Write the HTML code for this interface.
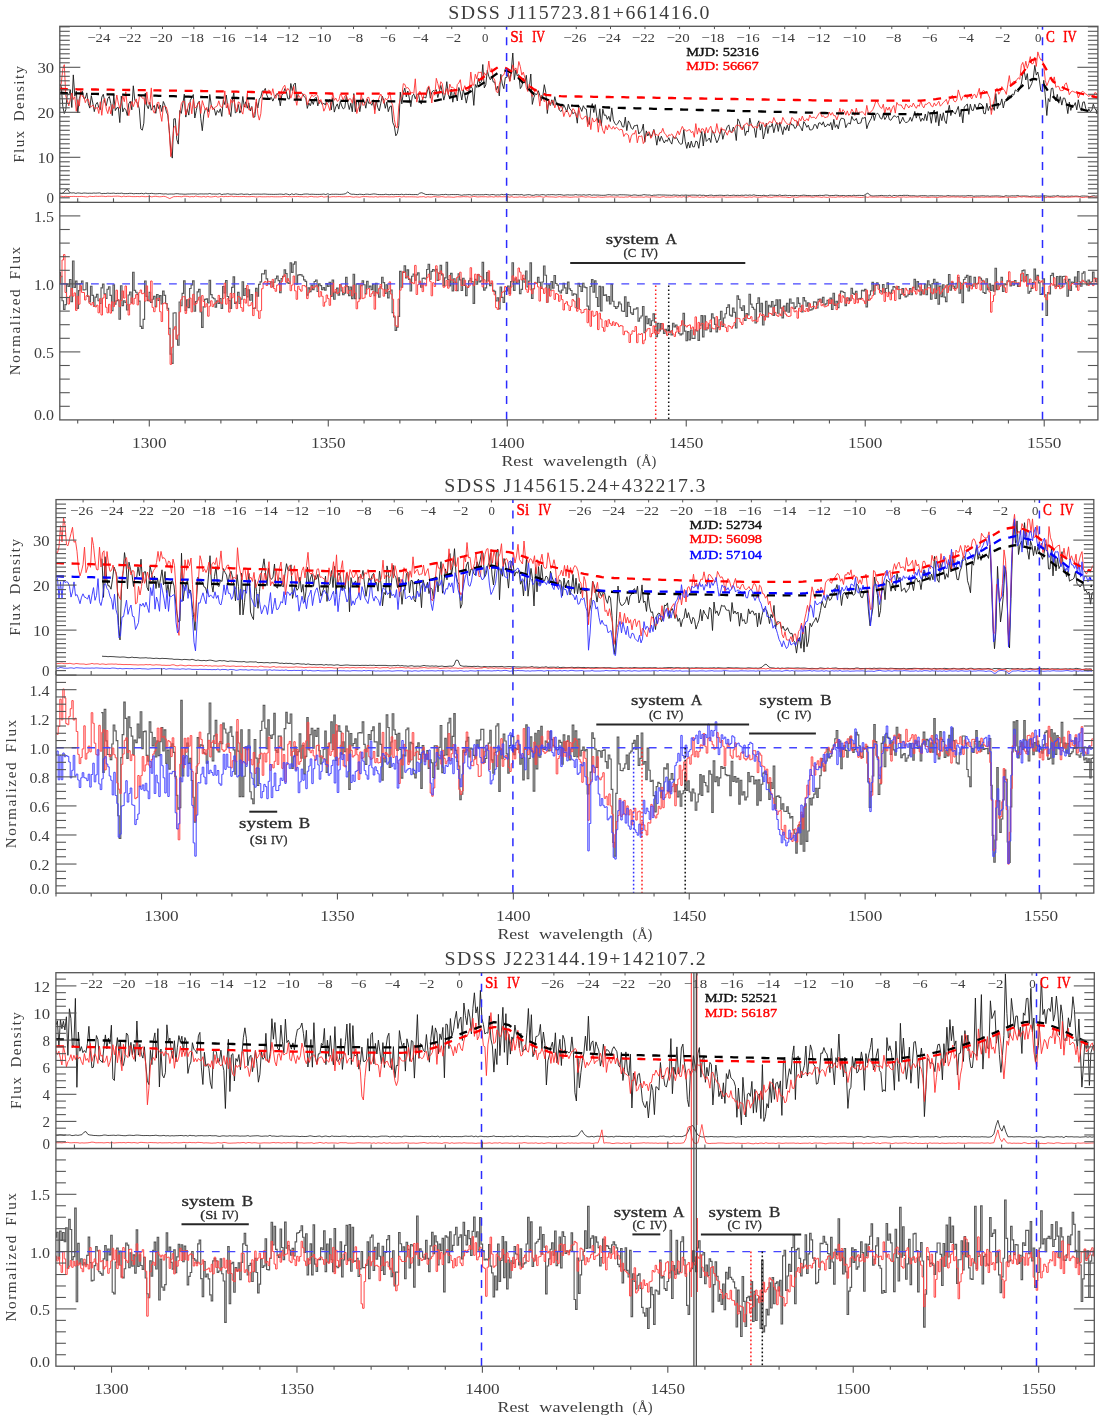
<!DOCTYPE html>
<html><head><meta charset="utf-8"><title>Spectra</title>
<style>html,body{margin:0;padding:0;background:#fff;}svg{display:block;}</style>
</head><body>
<svg width="1103" height="1421" viewBox="0 0 1103 1421" font-family="'Liberation Serif','DejaVu Serif',serif"><rect width="100%" height="100%" fill="#fff"/><clipPath id="clipU0"><rect x="59.8" y="26.3" width="1038.1000000000001" height="176.0"/></clipPath>
<clipPath id="clipL0"><rect x="59.8" y="202.3" width="1038.1000000000001" height="217.59999999999997"/></clipPath>
<g clip-path="url(#clipU0)"><polyline points="59.8,83.8 61.3,86.7 62.8,106.5 64.3,113.5 65.8,109.7 67.3,93.4 68.8,95.1 70.3,89.7 71.8,107.5 73.3,74.9 74.8,96.1 76.3,91.1 77.8,113.0 79.3,98.8 80.8,93.4 82.3,91.2 83.8,98.4 85.3,98.3 86.8,92.9 88.3,103.6 89.8,108.1 91.3,95.6 92.8,103.0 94.3,111.6 95.8,104.4 97.3,102.4 98.8,107.4 100.3,109.7 101.8,97.2 103.3,94.3 104.8,102.1 106.3,105.7 107.8,98.5 109.3,96.5 110.8,103.5 112.3,115.6 113.8,95.2 115.3,110.6 116.8,107.8 118.3,107.4 119.8,122.6 121.3,96.1 122.8,111.9 124.3,108.1 125.8,109.5 127.3,115.5 128.8,103.7 130.3,101.3 131.8,109.8 133.3,85.8 134.8,100.2 136.3,101.7 137.8,103.6 139.3,108.8 140.8,128.8 142.3,130.2 143.8,123.2 145.3,93.1 146.8,105.3 148.3,108.7 149.8,102.2 151.3,110.2 152.8,107.6 154.3,105.4 155.8,113.3 157.3,104.1 158.8,108.7 160.3,105.0 161.8,111.6 163.3,101.5 164.8,104.9 166.3,111.3 167.8,115.1 169.3,130.7 170.8,150.9 172.3,158.1 173.8,118.9 175.3,118.7 176.8,139.4 178.3,144.1 179.8,110.5 181.3,113.4 182.8,103.9 184.3,94.2 185.8,117.1 187.3,108.9 188.8,115.1 190.3,100.3 191.8,97.6 193.3,94.5 194.8,118.0 196.3,110.6 197.8,103.1 199.3,101.2 200.8,118.6 202.3,130.7 203.8,114.8 205.3,109.1 206.8,108.7 208.3,111.8 209.8,94.5 211.3,105.5 212.8,108.0 214.3,108.8 215.8,115.3 217.3,110.5 218.8,112.6 220.3,108.8 221.8,116.4 223.3,99.7 224.8,104.6 226.3,95.1 227.8,107.5 229.3,110.6 230.8,116.6 232.3,100.5 233.8,92.6 235.3,112.9 236.8,111.9 238.3,104.5 239.8,113.1 241.3,109.8 242.8,96.5 244.3,107.1 245.8,101.8 247.3,108.2 248.8,102.9 250.3,110.9 251.8,106.5 253.3,117.1 254.8,117.0 256.3,102.0 257.8,108.0 259.3,99.0 260.8,97.1 262.3,90.9 263.8,91.2 265.3,88.4 266.8,95.0 268.3,98.5 269.8,98.7 271.3,97.3 272.8,101.1 274.3,97.7 275.8,95.1 277.3,93.2 278.8,96.6 280.3,105.8 281.8,95.2 283.3,93.5 284.8,88.6 286.3,91.6 287.8,98.6 289.3,99.1 290.8,83.5 292.3,90.7 293.8,84.6 295.3,83.0 296.8,99.9 298.3,93.0 299.8,92.7 301.3,92.9 302.8,94.0 304.3,96.9 305.8,98.0 307.3,108.4 308.8,102.9 310.3,105.8 311.8,101.0 313.3,104.4 314.8,98.3 316.3,97.3 317.8,105.9 319.3,100.2 320.8,101.6 322.3,104.7 323.8,103.1 325.3,105.1 326.8,100.2 328.3,102.4 329.8,99.3 331.3,109.9 332.8,97.7 334.3,112.1 335.8,106.8 337.3,103.9 338.8,109.1 340.3,101.3 341.8,106.1 343.3,108.9 344.8,107.7 346.3,95.9 347.8,102.9 349.3,109.5 350.8,103.2 352.3,111.8 353.8,93.6 355.3,111.8 356.8,101.0 358.3,100.8 359.8,111.7 361.3,102.3 362.8,98.6 364.3,101.6 365.8,108.2 367.3,99.2 368.8,103.5 370.3,102.7 371.8,105.3 373.3,101.3 374.8,109.9 376.3,100.6 377.8,107.7 379.3,111.0 380.8,103.2 382.3,96.2 383.8,100.2 385.3,108.3 386.8,101.9 388.3,111.7 389.8,106.7 391.3,105.8 392.8,122.6 394.3,125.9 395.8,135.8 397.3,133.5 398.8,125.4 400.3,92.1 401.8,103.9 403.3,92.8 404.8,88.1 406.3,96.9 407.8,91.0 409.3,98.1 410.8,106.7 412.3,95.8 413.8,94.2 415.3,98.8 416.8,94.9 418.3,93.4 419.8,100.9 421.3,104.1 422.8,97.4 424.3,97.3 425.8,98.0 427.3,91.0 428.8,87.1 430.3,98.2 431.8,92.2 433.3,90.5 434.8,91.2 436.3,89.7 437.8,97.5 439.3,91.9 440.8,85.4 442.3,92.2 443.8,100.1 445.3,93.8 446.8,81.7 448.3,94.4 449.8,99.1 451.3,89.0 452.8,102.2 454.3,92.4 455.8,94.9 457.3,101.0 458.8,87.5 460.3,92.0 461.8,100.0 463.3,89.9 464.8,95.3 466.3,103.1 467.8,95.8 469.3,89.5 470.8,86.5 472.3,88.2 473.8,105.4 475.3,84.5 476.8,87.5 478.3,78.4 479.8,83.5 481.3,81.7 482.8,64.5 484.3,87.9 485.8,84.9 487.3,70.2 488.8,76.4 490.3,79.8 491.8,76.7 493.3,82.1 494.8,82.1 496.3,90.1 497.8,86.2 499.3,95.9 500.8,74.3 502.3,84.0 503.8,88.7 505.3,77.6 506.8,77.4 508.3,73.3 509.8,81.0 511.3,70.3 512.8,53.0 514.3,79.7 515.8,70.1 517.3,75.9 518.8,74.6 520.3,88.6 521.8,86.2 523.3,78.4 524.8,83.1 526.3,75.3 527.8,90.4 529.3,87.2 530.8,74.0 532.3,104.4 533.8,97.7 535.3,93.8 536.8,94.6 538.3,90.7 539.8,95.2 541.3,100.5 542.8,96.3 544.3,84.7 545.8,92.4 547.3,113.5 548.8,101.0 550.3,105.5 551.8,99.8 553.3,105.3 554.8,96.7 556.3,103.2 557.8,105.0 559.3,109.9 560.8,111.6 562.3,109.5 563.8,104.8 565.3,108.1 566.8,112.0 568.3,104.2 569.8,109.0 571.3,110.3 572.8,113.7 574.3,112.7 575.8,113.1 577.3,123.2 578.8,105.6 580.3,107.8 581.8,111.4 583.3,105.7 584.8,108.6 586.3,109.0 587.8,122.1 589.3,124.5 590.8,108.5 592.3,103.6 593.8,112.5 595.3,104.6 596.8,116.5 598.3,122.7 599.8,108.8 601.3,125.9 602.8,109.2 604.3,115.3 605.8,115.0 607.3,119.4 608.8,116.3 610.3,121.5 611.8,107.9 613.3,119.8 614.8,123.5 616.3,124.9 617.8,123.6 619.3,120.4 620.8,121.8 622.3,126.7 623.8,127.1 625.3,117.1 626.8,130.6 628.3,120.9 629.8,123.7 631.3,128.2 632.8,129.3 634.3,125.7 635.8,125.6 637.3,124.9 638.8,134.0 640.3,132.0 641.8,130.6 643.3,124.1 644.8,142.2 646.3,130.9 647.8,136.0 649.3,132.6 650.8,137.3 652.3,134.1 653.8,129.4 655.3,135.1 656.8,145.2 658.3,136.0 659.8,141.3 661.3,136.2 662.8,139.9 664.3,143.0 665.8,140.1 667.3,141.4 668.8,137.7 670.3,141.6 671.8,144.1 673.3,136.2 674.8,138.6 676.3,137.4 677.8,140.1 679.3,143.1 680.8,144.3 682.3,143.6 683.8,129.7 685.3,141.8 686.8,148.4 688.3,142.2 689.8,147.9 691.3,141.1 692.8,146.8 694.3,146.9 695.8,141.1 697.3,141.8 698.8,148.3 700.3,138.0 701.8,131.5 703.3,146.0 704.8,131.7 706.3,141.4 707.8,139.9 709.3,138.0 710.8,142.5 712.3,130.6 713.8,133.3 715.3,137.8 716.8,142.8 718.3,139.9 719.8,134.7 721.3,128.9 722.8,139.3 724.3,133.6 725.8,130.7 727.3,126.6 728.8,124.9 730.3,131.8 731.8,132.4 733.3,127.1 734.8,129.9 736.3,140.5 737.8,118.9 739.3,121.4 740.8,127.1 742.3,128.8 743.8,125.7 745.3,135.5 746.8,131.0 748.3,132.0 749.8,118.1 751.3,124.7 752.8,127.0 754.3,128.3 755.8,137.5 757.3,124.5 758.8,120.8 760.3,130.1 761.8,124.4 763.3,139.0 764.8,133.1 766.3,123.2 767.8,133.5 769.3,125.9 770.8,127.0 772.3,123.5 773.8,132.7 775.3,126.2 776.8,122.3 778.3,131.4 779.8,122.5 781.3,128.1 782.8,134.6 784.3,126.8 785.8,130.2 787.3,125.1 788.8,130.9 790.3,122.2 791.8,125.0 793.3,124.8 794.8,128.5 796.3,127.4 797.8,121.5 799.3,125.3 800.8,127.6 802.3,130.9 803.8,121.6 805.3,123.8 806.8,127.3 808.3,125.1 809.8,129.9 811.3,129.9 812.8,129.1 814.3,124.6 815.8,124.8 817.3,128.7 818.8,123.0 820.3,122.8 821.8,125.1 823.3,121.8 824.8,126.8 826.3,126.2 827.8,123.9 829.3,125.8 830.8,122.5 832.3,129.9 833.8,119.4 835.3,127.4 836.8,124.7 838.3,128.9 839.8,121.1 841.3,118.2 842.8,118.5 844.3,119.1 845.8,127.7 847.3,124.4 848.8,122.8 850.3,124.2 851.8,116.4 853.3,119.8 854.8,120.4 856.3,118.4 857.8,123.6 859.3,123.3 860.8,123.0 862.3,117.8 863.8,118.2 865.3,117.2 866.8,128.7 868.3,124.1 869.8,121.0 871.3,118.3 872.8,112.8 874.3,120.5 875.8,114.7 877.3,113.2 878.8,114.4 880.3,118.2 881.8,119.1 883.3,114.3 884.8,119.6 886.3,117.0 887.8,113.3 889.3,119.5 890.8,120.3 892.3,118.1 893.8,115.8 895.3,116.2 896.8,117.4 898.3,115.9 899.8,123.7 901.3,121.0 902.8,117.2 904.3,121.2 905.8,122.6 907.3,122.1 908.8,121.0 910.3,117.3 911.8,121.3 913.3,116.7 914.8,111.4 916.3,118.1 917.8,112.9 919.3,116.4 920.8,121.4 922.3,118.1 923.8,120.5 925.3,114.0 926.8,120.7 928.3,111.6 929.8,114.1 931.3,123.3 932.8,112.9 934.3,110.0 935.8,122.4 937.3,111.6 938.8,125.9 940.3,113.9 941.8,120.7 943.3,112.7 944.8,120.7 946.3,123.6 947.8,112.4 949.3,105.3 950.8,115.6 952.3,110.2 953.8,112.6 955.3,114.0 956.8,110.3 958.3,106.4 959.8,116.7 961.3,109.9 962.8,122.9 964.3,107.1 965.8,105.4 967.3,104.0 968.8,114.4 970.3,104.2 971.8,110.2 973.3,110.5 974.8,104.2 976.3,108.7 977.8,108.1 979.3,103.3 980.8,103.9 982.3,105.1 983.8,113.5 985.3,113.8 986.8,103.3 988.3,110.6 989.8,106.2 991.3,110.4 992.8,106.6 994.3,110.4 995.8,93.6 997.3,108.7 998.8,104.8 1000.3,104.7 1001.8,98.9 1003.3,108.0 1004.8,101.3 1006.3,100.8 1007.8,96.6 1009.3,95.6 1010.8,98.2 1012.3,94.0 1013.8,95.1 1015.3,89.9 1016.8,90.9 1018.3,91.7 1019.8,87.5 1021.3,84.1 1022.8,73.9 1024.3,71.7 1025.8,80.0 1027.3,73.6 1028.8,89.2 1030.3,86.7 1031.8,83.4 1033.3,78.0 1034.8,65.4 1036.3,75.1 1037.8,72.0 1039.3,79.5 1040.8,90.7 1042.3,91.1 1043.8,80.3 1045.3,96.2 1046.8,115.5 1048.3,98.6 1049.8,101.7 1051.3,88.5 1052.8,88.1 1054.3,98.3 1055.8,100.9 1057.3,94.4 1058.8,103.2 1060.3,96.7 1061.8,105.1 1063.3,98.0 1064.8,98.2 1066.3,103.6 1067.8,113.6 1069.3,102.1 1070.8,110.4 1072.3,105.0 1073.8,105.9 1075.3,102.6 1076.8,109.9 1078.3,99.8 1079.8,107.4 1081.3,110.7 1082.8,102.3 1084.3,101.8 1085.8,108.7 1087.3,111.5 1088.8,108.8 1090.3,111.6 1091.8,110.4 1093.3,104.2 1094.8,108.3 1096.3,110.8 1097.8,108.7" fill="none" stroke="#1a1a1a" stroke-width="0.9" stroke-linejoin="round"/><polyline points="59.8,193.0 61.8,193.6 63.8,192.3 65.8,189.9 67.8,189.6 69.8,192.7 71.8,193.0 73.8,192.8 75.8,193.4 77.8,192.9 79.8,193.1 81.8,193.4 83.8,193.0 85.8,193.1 87.8,193.3 89.8,193.2 91.8,193.3 93.8,193.0 95.8,193.2 97.8,193.0 99.8,192.9 101.8,193.7 103.8,193.4 105.8,193.5 107.8,193.1 109.8,193.4 111.8,193.3 113.8,193.1 115.8,193.5 117.8,193.3 119.8,193.4 121.8,193.1 123.8,193.7 125.8,193.6 127.8,193.6 129.8,193.3 131.8,193.4 133.8,193.8 135.8,193.5 137.8,193.6 139.8,193.6 141.8,193.3 143.8,193.9 145.8,193.2 147.8,193.7 149.8,193.6 151.8,193.3 153.8,193.7 155.8,193.8 157.8,193.7 159.8,193.5 161.8,193.8 163.8,194.0 165.8,193.8 167.8,194.2 169.8,194.0 171.8,194.0 173.8,194.1 175.8,193.7 177.8,193.7 179.8,194.0 181.8,194.0 183.8,194.2 185.8,194.2 187.8,194.0 189.8,194.0 191.8,193.9 193.8,193.9 195.8,193.9 197.8,194.2 199.8,193.9 201.8,193.9 203.8,194.0 205.8,193.9 207.8,194.0 209.8,193.5 211.8,194.1 213.8,194.0 215.8,194.1 217.8,194.1 219.8,193.6 221.8,194.6 223.8,194.1 225.8,194.1 227.8,193.7 229.8,194.2 231.8,194.2 233.8,194.0 235.8,194.2 237.8,194.4 239.8,194.1 241.8,193.9 243.8,194.4 245.8,194.2 247.8,194.1 249.8,194.7 251.8,194.2 253.8,194.1 255.8,194.2 257.8,194.1 259.8,194.2 261.8,194.2 263.8,194.0 265.8,194.1 267.8,194.3 269.8,194.3 271.8,194.3 273.8,194.4 275.8,194.3 277.8,194.3 279.8,194.1 281.8,194.2 283.8,194.5 285.8,193.8 287.8,194.3 289.8,194.9 291.8,193.8 293.8,194.6 295.8,193.9 297.8,194.3 299.8,194.6 301.8,194.6 303.8,194.1 305.8,194.0 307.8,194.0 309.8,194.4 311.8,194.2 313.8,194.3 315.8,194.4 317.8,194.4 319.8,194.4 321.8,194.3 323.8,194.0 325.8,194.6 327.8,193.7 329.8,194.6 331.8,194.2 333.8,194.3 335.8,194.2 337.8,194.3 339.8,194.4 341.8,194.3 343.8,194.1 345.8,193.6 347.8,191.9 349.8,193.7 351.8,194.3 353.8,194.2 355.8,194.5 357.8,194.6 359.8,194.2 361.8,194.4 363.8,194.7 365.8,194.2 367.8,194.2 369.8,194.5 371.8,194.2 373.8,193.9 375.8,194.1 377.8,194.5 379.8,194.6 381.8,194.6 383.8,194.6 385.8,194.2 387.8,194.6 389.8,194.7 391.8,194.3 393.8,194.7 395.8,194.4 397.8,194.5 399.8,194.6 401.8,194.2 403.8,194.8 405.8,194.3 407.8,194.5 409.8,194.4 411.8,194.6 413.8,194.6 415.8,194.5 417.8,194.7 419.8,193.1 421.8,192.7 423.8,193.6 425.8,194.5 427.8,194.5 429.8,194.4 431.8,194.4 433.8,194.7 435.8,194.8 437.8,195.0 439.8,194.9 441.8,194.5 443.8,194.7 445.8,194.3 447.8,194.8 449.8,194.7 451.8,194.5 453.8,194.6 455.8,194.6 457.8,194.5 459.8,194.9 461.8,195.3 463.8,194.8 465.8,194.9 467.8,194.7 469.8,194.6 471.8,195.2 473.8,194.6 475.8,194.8 477.8,194.7 479.8,194.8 481.8,194.7 483.8,194.8 485.8,194.4 487.8,194.7 489.8,195.0 491.8,194.5 493.8,194.6 495.8,195.1 497.8,194.8 499.8,195.0 501.8,194.3 503.8,194.8 505.8,194.5 507.8,194.5 509.8,194.9 511.8,195.0 513.8,194.5 515.8,194.6 517.8,194.7 519.8,194.8 521.8,194.5 523.8,195.3 525.8,195.0 527.8,194.7 529.8,194.7 531.8,195.3 533.8,195.3 535.8,194.7 537.8,194.9 539.8,195.1 541.8,194.6 543.8,194.7 545.8,195.2 547.8,194.7 549.8,194.8 551.8,194.6 553.8,194.7 555.8,195.0 557.8,194.7 559.8,194.6 561.8,194.8 563.8,195.3 565.8,195.0 567.8,194.8 569.8,195.0 571.8,195.0 573.8,195.0 575.8,194.5 577.8,195.0 579.8,194.9 581.8,195.1 583.8,194.7 585.8,195.2 587.8,194.9 589.8,194.6 591.8,195.3 593.8,194.9 595.8,195.1 597.8,195.0 599.8,195.2 601.8,195.3 603.8,195.3 605.8,195.2 607.8,194.7 609.8,194.7 611.8,195.1 613.8,194.8 615.8,195.1 617.8,195.1 619.8,194.7 621.8,194.8 623.8,194.8 625.8,194.9 627.8,195.0 629.8,195.2 631.8,195.4 633.8,194.9 635.8,195.0 637.8,195.4 639.8,195.3 641.8,195.2 643.8,194.6 645.8,194.9 647.8,195.1 649.8,195.0 651.8,195.6 653.8,195.1 655.8,195.2 657.8,194.9 659.8,194.9 661.8,195.0 663.8,195.0 665.8,195.1 667.8,195.2 669.8,195.2 671.8,195.4 673.8,194.9 675.8,195.2 677.8,195.2 679.8,195.5 681.8,195.1 683.8,195.3 685.8,195.0 687.8,195.3 689.8,195.3 691.8,195.1 693.8,195.1 695.8,195.2 697.8,195.4 699.8,195.0 701.8,195.4 703.8,195.2 705.8,195.7 707.8,195.6 709.8,195.2 711.8,195.1 713.8,195.8 715.8,195.4 717.8,195.4 719.8,195.2 721.8,195.3 723.8,195.5 725.8,195.4 727.8,195.1 729.8,195.6 731.8,195.4 733.8,195.1 735.8,195.5 737.8,195.3 739.8,195.5 741.8,195.2 743.8,195.4 745.8,195.0 747.8,195.4 749.8,195.0 751.8,195.4 753.8,194.8 755.8,195.4 757.8,195.5 759.8,195.5 761.8,195.7 763.8,195.2 765.8,195.7 767.8,195.8 769.8,195.1 771.8,195.2 773.8,195.3 775.8,195.4 777.8,195.5 779.8,194.9 781.8,195.6 783.8,195.4 785.8,195.2 787.8,195.7 789.8,195.4 791.8,195.7 793.8,195.6 795.8,195.4 797.8,195.7 799.8,195.7 801.8,195.4 803.8,195.1 805.8,195.4 807.8,195.6 809.8,195.5 811.8,195.9 813.8,195.6 815.8,195.6 817.8,195.6 819.8,195.3 821.8,195.5 823.8,195.4 825.8,195.0 827.8,195.2 829.8,195.7 831.8,195.5 833.8,195.5 835.8,195.2 837.8,195.4 839.8,195.8 841.8,195.6 843.8,195.5 845.8,195.9 847.8,195.6 849.8,195.5 851.8,195.9 853.8,195.2 855.8,195.7 857.8,195.4 859.8,195.4 861.8,195.5 863.8,195.5 865.8,194.2 867.8,193.2 869.8,195.0 871.8,195.9 873.8,196.0 875.8,195.8 877.8,195.8 879.8,195.6 881.8,195.4 883.8,195.8 885.8,195.7 887.8,195.9 889.8,195.3 891.8,196.3 893.8,195.4 895.8,195.7 897.8,195.9 899.8,195.4 901.8,195.6 903.8,195.3 905.8,195.4 907.8,195.3 909.8,195.8 911.8,195.8 913.8,195.7 915.8,196.0 917.8,196.1 919.8,195.8 921.8,195.7 923.8,195.7 925.8,195.7 927.8,196.1 929.8,195.8 931.8,195.7 933.8,195.8 935.8,195.9 937.8,195.7 939.8,195.9 941.8,195.8 943.8,196.1 945.8,196.1 947.8,195.5 949.8,195.8 951.8,196.0 953.8,195.8 955.8,196.0 957.8,195.9 959.8,196.0 961.8,195.9 963.8,195.9 965.8,196.0 967.8,195.6 969.8,195.7 971.8,195.7 973.8,196.3 975.8,196.0 977.8,196.0 979.8,196.0 981.8,195.8 983.8,195.8 985.8,196.1 987.8,195.9 989.8,196.3 991.8,196.0 993.8,196.0 995.8,195.9 997.8,195.9 999.8,196.0 1001.8,196.3 1003.8,196.5 1005.8,195.7 1007.8,196.0 1009.8,196.1 1011.8,195.8 1013.8,195.9 1015.8,195.9 1017.8,195.5 1019.8,196.2 1021.8,196.0 1023.8,196.0 1025.8,196.0 1027.8,196.1 1029.8,196.5 1031.8,196.1 1033.8,196.2 1035.8,195.9 1037.8,196.1 1039.8,196.0 1041.8,196.0 1043.8,195.9 1045.8,195.9 1047.8,196.2 1049.8,196.3 1051.8,196.2 1053.8,195.9 1055.8,196.2 1057.8,195.5 1059.8,196.3 1061.8,196.1 1063.8,196.2 1065.8,196.4 1067.8,196.0 1069.8,196.3 1071.8,196.0 1073.8,196.3 1075.8,196.1 1077.8,196.2 1079.8,196.5 1081.8,196.0 1083.8,196.0 1085.8,196.1 1087.8,196.2 1089.8,196.8 1091.8,196.1 1093.8,195.7 1095.8,196.1 1097.8,195.9" fill="none" stroke="#1a1a1a" stroke-width="0.8"/><polyline points="59.8,88.3 61.3,83.0 62.8,69.2 64.3,64.7 65.8,96.3 67.3,100.3 68.8,105.8 70.3,99.1 71.8,93.0 73.3,99.4 74.8,96.7 76.3,111.3 77.8,99.6 79.3,106.1 80.8,90.8 82.3,96.4 83.8,96.5 85.3,102.7 86.8,99.2 88.3,99.3 89.8,105.6 91.3,106.8 92.8,105.0 94.3,108.3 95.8,108.6 97.3,107.2 98.8,113.5 100.3,101.8 101.8,115.3 103.3,101.3 104.8,98.4 106.3,109.1 107.8,113.6 109.3,106.6 110.8,113.9 112.3,104.5 113.8,108.6 115.3,104.9 116.8,95.0 118.3,103.0 119.8,108.5 121.3,103.6 122.8,95.7 124.3,101.7 125.8,91.7 127.3,107.1 128.8,115.7 130.3,106.7 131.8,101.5 133.3,106.7 134.8,102.0 136.3,98.9 137.8,107.4 139.3,97.4 140.8,95.2 142.3,98.3 143.8,97.9 145.3,104.4 146.8,91.9 148.3,103.5 149.8,104.5 151.3,87.9 152.8,109.6 154.3,113.2 155.8,109.6 157.3,102.7 158.8,102.2 160.3,113.3 161.8,121.4 163.3,106.7 164.8,106.1 166.3,107.0 167.8,112.3 169.3,132.3 170.8,156.7 172.3,142.5 173.8,127.9 175.3,125.8 176.8,135.9 178.3,132.5 179.8,113.8 181.3,103.7 182.8,101.3 184.3,101.2 185.8,115.0 187.3,109.6 188.8,103.2 190.3,102.5 191.8,113.8 193.3,99.4 194.8,108.1 196.3,107.0 197.8,104.3 199.3,101.8 200.8,113.5 202.3,100.6 203.8,105.5 205.3,110.0 206.8,107.4 208.3,117.5 209.8,109.4 211.3,105.0 212.8,109.8 214.3,107.8 215.8,106.8 217.3,105.8 218.8,100.8 220.3,106.3 221.8,107.5 223.3,103.4 224.8,90.9 226.3,108.0 227.8,103.6 229.3,114.5 230.8,99.3 232.3,102.9 233.8,99.5 235.3,106.7 236.8,111.8 238.3,101.9 239.8,102.6 241.3,111.0 242.8,114.1 244.3,104.2 245.8,107.5 247.3,93.2 248.8,109.8 250.3,109.3 251.8,107.2 253.3,117.7 254.8,111.5 256.3,98.9 257.8,113.9 259.3,120.1 260.8,113.8 262.3,96.1 263.8,91.4 265.3,90.2 266.8,93.6 268.3,90.1 269.8,90.5 271.3,95.2 272.8,88.7 274.3,96.2 275.8,98.4 277.3,93.6 278.8,92.6 280.3,98.0 281.8,90.6 283.3,87.1 284.8,85.2 286.3,91.3 287.8,88.4 289.3,90.6 290.8,98.2 292.3,93.7 293.8,86.4 295.3,98.4 296.8,105.3 298.3,94.8 299.8,97.4 301.3,98.8 302.8,94.4 304.3,94.3 305.8,95.3 307.3,104.8 308.8,100.2 310.3,98.0 311.8,95.1 313.3,96.4 314.8,95.7 316.3,94.5 317.8,95.8 319.3,103.7 320.8,99.5 322.3,103.3 323.8,111.2 325.3,107.9 326.8,102.4 328.3,105.3 329.8,110.6 331.3,102.8 332.8,92.8 334.3,100.3 335.8,98.1 337.3,101.3 338.8,100.5 340.3,94.1 341.8,96.3 343.3,100.5 344.8,95.9 346.3,95.0 347.8,101.1 349.3,98.8 350.8,98.9 352.3,103.2 353.8,94.7 355.3,100.9 356.8,113.5 358.3,107.8 359.8,105.8 361.3,93.0 362.8,105.3 364.3,104.8 365.8,101.8 367.3,97.7 368.8,97.3 370.3,103.6 371.8,101.4 373.3,99.6 374.8,113.8 376.3,100.2 377.8,101.5 379.3,97.2 380.8,94.1 382.3,97.6 383.8,103.4 385.3,98.3 386.8,99.8 388.3,98.0 389.8,92.0 391.3,101.7 392.8,105.8 394.3,119.2 395.8,127.0 397.3,127.7 398.8,105.7 400.3,98.6 401.8,96.6 403.3,83.7 404.8,84.3 406.3,88.2 407.8,87.5 409.3,89.5 410.8,93.1 412.3,92.5 413.8,93.5 415.3,78.8 416.8,102.1 418.3,94.1 419.8,91.2 421.3,94.4 422.8,99.7 424.3,92.9 425.8,95.1 427.3,88.4 428.8,85.9 430.3,91.5 431.8,103.0 433.3,92.3 434.8,95.2 436.3,78.3 437.8,83.6 439.3,89.2 440.8,81.7 442.3,83.7 443.8,94.5 445.3,93.3 446.8,88.5 448.3,94.6 449.8,84.1 451.3,87.7 452.8,87.2 454.3,88.7 455.8,95.6 457.3,84.5 458.8,83.0 460.3,79.7 461.8,90.5 463.3,90.1 464.8,85.7 466.3,90.2 467.8,90.9 469.3,88.7 470.8,72.0 472.3,84.6 473.8,85.2 475.3,74.2 476.8,78.8 478.3,72.1 479.8,72.5 481.3,72.1 482.8,80.3 484.3,72.7 485.8,75.2 487.3,72.8 488.8,61.0 490.3,72.1 491.8,68.5 493.3,77.8 494.8,80.0 496.3,91.7 497.8,92.7 499.3,84.3 500.8,79.9 502.3,75.6 503.8,74.9 505.3,70.4 506.8,72.8 508.3,73.5 509.8,81.5 511.3,74.5 512.8,64.8 514.3,70.4 515.8,67.9 517.3,73.4 518.8,61.5 520.3,66.5 521.8,75.1 523.3,72.1 524.8,77.6 526.3,87.6 527.8,91.5 529.3,84.1 530.8,92.1 532.3,96.5 533.8,93.4 535.3,88.8 536.8,90.4 538.3,93.9 539.8,106.1 541.3,95.2 542.8,97.5 544.3,101.7 545.8,98.1 547.3,109.6 548.8,99.2 550.3,105.0 551.8,100.9 553.3,100.6 554.8,107.9 556.3,103.4 557.8,104.2 559.3,109.7 560.8,105.0 562.3,108.5 563.8,116.6 565.3,111.6 566.8,110.2 568.3,112.8 569.8,117.1 571.3,113.9 572.8,108.6 574.3,109.8 575.8,114.9 577.3,117.7 578.8,107.7 580.3,116.4 581.8,119.2 583.3,118.7 584.8,116.5 586.3,116.1 587.8,126.8 589.3,117.2 590.8,129.6 592.3,117.9 593.8,121.9 595.3,121.1 596.8,118.2 598.3,132.2 599.8,119.5 601.3,124.2 602.8,130.6 604.3,133.6 605.8,125.6 607.3,130.0 608.8,124.7 610.3,127.6 611.8,129.2 613.3,126.4 614.8,129.2 616.3,127.2 617.8,128.3 619.3,130.2 620.8,129.3 622.3,129.8 623.8,136.5 625.3,133.8 626.8,133.8 628.3,135.0 629.8,142.6 631.3,136.1 632.8,133.6 634.3,134.1 635.8,130.3 637.3,142.8 638.8,136.0 640.3,136.5 641.8,135.8 643.3,143.6 644.8,140.9 646.3,134.1 647.8,132.3 649.3,131.9 650.8,138.3 652.3,135.8 653.8,130.0 655.3,135.7 656.8,134.4 658.3,135.9 659.8,132.7 661.3,132.5 662.8,128.3 664.3,133.2 665.8,134.4 667.3,137.4 668.8,134.8 670.3,135.3 671.8,133.9 673.3,136.4 674.8,138.3 676.3,135.0 677.8,130.9 679.3,134.9 680.8,130.2 682.3,126.4 683.8,129.5 685.3,130.0 686.8,131.2 688.3,130.1 689.8,129.7 691.3,132.7 692.8,131.3 694.3,137.3 695.8,123.6 697.3,134.2 698.8,127.9 700.3,132.7 701.8,128.7 703.3,129.0 704.8,133.3 706.3,127.5 707.8,132.9 709.3,128.6 710.8,126.2 712.3,132.3 713.8,132.9 715.3,132.9 716.8,123.6 718.3,131.2 719.8,133.7 721.3,127.6 722.8,130.1 724.3,129.5 725.8,132.0 727.3,135.2 728.8,130.7 730.3,131.4 731.8,132.8 733.3,131.0 734.8,128.3 736.3,125.1 737.8,125.2 739.3,125.4 740.8,128.2 742.3,130.0 743.8,125.3 745.3,124.6 746.8,122.8 748.3,125.5 749.8,125.5 751.3,124.1 752.8,127.5 754.3,127.0 755.8,126.7 757.3,128.0 758.8,124.5 760.3,122.0 761.8,123.4 763.3,122.7 764.8,126.9 766.3,124.0 767.8,124.2 769.3,121.6 770.8,122.0 772.3,122.9 773.8,117.5 775.3,121.2 776.8,123.4 778.3,124.2 779.8,122.4 781.3,123.8 782.8,117.4 784.3,120.3 785.8,122.6 787.3,124.0 788.8,124.4 790.3,124.1 791.8,117.5 793.3,118.6 794.8,121.0 796.3,120.3 797.8,125.8 799.3,118.3 800.8,120.9 802.3,116.1 803.8,120.3 805.3,120.9 806.8,118.7 808.3,120.8 809.8,115.0 811.3,117.8 812.8,117.3 814.3,117.2 815.8,118.8 817.3,116.3 818.8,113.8 820.3,112.2 821.8,116.7 823.3,115.6 824.8,117.7 826.3,117.2 827.8,116.8 829.3,112.1 830.8,115.2 832.3,112.5 833.8,115.7 835.3,115.7 836.8,119.9 838.3,115.3 839.8,108.2 841.3,114.4 842.8,109.6 844.3,111.0 845.8,115.1 847.3,110.9 848.8,115.4 850.3,113.5 851.8,109.1 853.3,111.8 854.8,115.4 856.3,108.0 857.8,114.8 859.3,112.0 860.8,112.3 862.3,111.6 863.8,113.4 865.3,115.4 866.8,105.4 868.3,113.1 869.8,112.7 871.3,111.5 872.8,109.5 874.3,106.0 875.8,101.2 877.3,101.4 878.8,104.7 880.3,107.5 881.8,108.4 883.3,104.2 884.8,113.8 886.3,107.2 887.8,110.2 889.3,107.0 890.8,112.6 892.3,107.8 893.8,105.5 895.3,113.1 896.8,102.4 898.3,104.9 899.8,105.0 901.3,105.0 902.8,108.0 904.3,109.3 905.8,104.0 907.3,105.4 908.8,108.0 910.3,105.4 911.8,106.9 913.3,103.0 914.8,106.1 916.3,108.3 917.8,105.1 919.3,106.3 920.8,100.5 922.3,105.7 923.8,107.9 925.3,104.1 926.8,104.4 928.3,102.7 929.8,102.7 931.3,106.0 932.8,106.9 934.3,102.9 935.8,105.8 937.3,103.8 938.8,101.3 940.3,106.2 941.8,104.5 943.3,102.5 944.8,101.2 946.3,99.3 947.8,104.4 949.3,99.4 950.8,98.3 952.3,95.4 953.8,100.8 955.3,102.0 956.8,100.1 958.3,89.9 959.8,95.1 961.3,100.3 962.8,96.8 964.3,95.3 965.8,94.8 967.3,98.4 968.8,95.0 970.3,96.6 971.8,98.9 973.3,95.0 974.8,94.3 976.3,97.9 977.8,93.3 979.3,88.3 980.8,98.4 982.3,91.4 983.8,90.4 985.3,92.7 986.8,91.5 988.3,94.9 989.8,98.2 991.3,114.5 992.8,105.5 994.3,100.0 995.8,89.3 997.3,88.4 998.8,94.3 1000.3,91.4 1001.8,86.6 1003.3,89.1 1004.8,90.8 1006.3,94.4 1007.8,84.8 1009.3,75.6 1010.8,86.3 1012.3,82.7 1013.8,81.4 1015.3,81.7 1016.8,79.8 1018.3,77.8 1019.8,79.2 1021.3,65.4 1022.8,62.4 1024.3,68.9 1025.8,61.2 1027.3,68.3 1028.8,63.5 1030.3,56.6 1031.8,64.0 1033.3,63.4 1034.8,57.1 1036.3,66.4 1037.8,51.9 1039.3,56.8 1040.8,59.9 1042.3,59.7 1043.8,65.8 1045.3,80.4 1046.8,85.7 1048.3,82.2 1049.8,78.2 1051.3,78.9 1052.8,82.2 1054.3,76.9 1055.8,87.4 1057.3,86.4 1058.8,86.4 1060.3,90.6 1061.8,90.6 1063.3,90.3 1064.8,84.5 1066.3,82.8 1067.8,88.0 1069.3,94.7 1070.8,92.1 1072.3,91.1 1073.8,91.8 1075.3,92.5 1076.8,91.4 1078.3,98.0 1079.8,94.3 1081.3,92.3 1082.8,91.2 1084.3,92.8 1085.8,94.0 1087.3,94.8 1088.8,96.7 1090.3,94.9 1091.8,96.1 1093.3,97.9 1094.8,92.7 1096.3,93.1 1097.8,97.9" fill="none" stroke="#ff3030" stroke-width="0.9" stroke-linejoin="round"/><polyline points="59.8,196.2 61.8,196.3 63.8,196.7 65.8,196.3 67.8,196.5 69.8,196.5 71.8,196.5 73.8,196.4 75.8,196.5 77.8,196.6 79.8,196.5 81.8,196.4 83.8,196.6 85.8,196.8 87.8,197.0 89.8,196.2 91.8,196.5 93.8,196.5 95.8,196.2 97.8,196.4 99.8,196.3 101.8,196.2 103.8,196.3 105.8,196.6 107.8,196.2 109.8,196.3 111.8,196.4 113.8,196.2 115.8,196.2 117.8,196.1 119.8,196.3 121.8,196.8 123.8,196.1 125.8,196.6 127.8,196.3 129.8,196.3 131.8,196.6 133.8,196.6 135.8,196.6 137.8,196.5 139.8,196.7 141.8,196.3 143.8,196.6 145.8,196.7 147.8,196.5 149.8,196.3 151.8,196.9 153.8,196.4 155.8,196.3 157.8,196.6 159.8,196.8 161.8,196.6 163.8,196.3 165.8,196.7 167.8,197.7 169.8,198.6 171.8,197.5 173.8,196.6 175.8,196.6 177.8,196.5 179.8,196.6 181.8,196.8 183.8,196.2 185.8,196.3 187.8,196.4 189.8,196.9 191.8,196.5 193.8,196.8 195.8,196.0 197.8,196.6 199.8,196.7 201.8,196.9 203.8,196.4 205.8,197.0 207.8,196.4 209.8,196.9 211.8,196.9 213.8,196.6 215.8,196.3 217.8,197.1 219.8,196.7 221.8,196.3 223.8,196.7 225.8,196.4 227.8,196.6 229.8,196.4 231.8,196.1 233.8,196.7 235.8,196.4 237.8,196.6 239.8,196.6 241.8,196.6 243.8,196.4 245.8,196.7 247.8,196.7 249.8,196.7 251.8,196.5 253.8,196.6 255.8,196.9 257.8,196.9 259.8,196.6 261.8,196.8 263.8,196.8 265.8,196.8 267.8,196.7 269.8,196.8 271.8,196.6 273.8,196.8 275.8,196.8 277.8,196.8 279.8,196.8 281.8,196.8 283.8,196.5 285.8,196.4 287.8,196.7 289.8,196.6 291.8,196.8 293.8,196.5 295.8,196.6 297.8,196.4 299.8,196.7 301.8,196.6 303.8,196.9 305.8,196.7 307.8,197.0 309.8,196.5 311.8,196.4 313.8,196.9 315.8,196.8 317.8,197.0 319.8,196.6 321.8,196.3 323.8,197.1 325.8,196.8 327.8,196.6 329.8,197.2 331.8,196.7 333.8,196.6 335.8,196.8 337.8,196.6 339.8,196.6 341.8,196.8 343.8,196.8 345.8,196.7 347.8,196.7 349.8,196.5 351.8,196.9 353.8,197.2 355.8,196.8 357.8,197.0 359.8,197.2 361.8,196.7 363.8,196.6 365.8,196.6 367.8,196.7 369.8,196.9 371.8,196.8 373.8,197.0 375.8,196.6 377.8,197.1 379.8,196.7 381.8,196.8 383.8,196.8 385.8,196.7 387.8,196.8 389.8,196.9 391.8,196.8 393.8,196.9 395.8,196.6 397.8,196.6 399.8,196.5 401.8,197.0 403.8,196.6 405.8,196.9 407.8,196.8 409.8,196.8 411.8,196.8 413.8,196.9 415.8,196.9 417.8,197.2 419.8,196.8 421.8,196.8 423.8,196.6 425.8,197.3 427.8,196.7 429.8,197.0 431.8,197.0 433.8,196.6 435.8,196.7 437.8,197.0 439.8,196.9 441.8,196.6 443.8,196.9 445.8,197.2 447.8,196.9 449.8,197.0 451.8,197.1 453.8,197.3 455.8,196.9 457.8,196.7 459.8,196.9 461.8,196.8 463.8,196.6 465.8,196.8 467.8,196.7 469.8,197.1 471.8,196.9 473.8,196.3 475.8,196.7 477.8,197.0 479.8,196.8 481.8,196.7 483.8,196.8 485.8,196.7 487.8,197.0 489.8,196.8 491.8,196.7 493.8,197.1 495.8,196.6 497.8,196.9 499.8,196.7 501.8,196.8 503.8,196.8 505.8,196.6 507.8,196.8 509.8,197.2 511.8,196.6 513.8,197.3 515.8,197.1 517.8,197.2 519.8,196.8 521.8,197.1 523.8,197.0 525.8,197.4 527.8,196.8 529.8,197.2 531.8,196.8 533.8,197.2 535.8,196.8 537.8,196.7 539.8,196.6 541.8,196.8 543.8,197.3 545.8,196.6 547.8,196.8 549.8,196.9 551.8,196.9 553.8,197.0 555.8,197.3 557.8,196.9 559.8,196.6 561.8,197.1 563.8,196.9 565.8,196.9 567.8,197.0 569.8,197.3 571.8,197.2 573.8,197.0 575.8,196.9 577.8,197.1 579.8,196.8 581.8,196.6 583.8,196.8 585.8,197.2 587.8,196.8 589.8,196.9 591.8,197.3 593.8,197.3 595.8,197.3 597.8,196.8 599.8,197.1 601.8,197.3 603.8,197.2 605.8,196.9 607.8,197.0 609.8,196.8 611.8,196.9 613.8,197.1 615.8,197.1 617.8,196.8 619.8,197.2 621.8,197.1 623.8,197.3 625.8,196.9 627.8,197.1 629.8,196.5 631.8,197.2 633.8,197.1 635.8,197.2 637.8,197.0 639.8,197.0 641.8,197.0 643.8,197.3 645.8,196.8 647.8,197.0 649.8,197.2 651.8,196.9 653.8,196.8 655.8,197.0 657.8,197.1 659.8,197.4 661.8,196.9 663.8,196.6 665.8,197.3 667.8,197.0 669.8,197.2 671.8,197.0 673.8,197.0 675.8,196.6 677.8,197.2 679.8,196.8 681.8,197.2 683.8,196.6 685.8,197.3 687.8,197.0 689.8,196.5 691.8,197.1 693.8,197.1 695.8,197.1 697.8,196.8 699.8,197.5 701.8,196.9 703.8,197.3 705.8,196.5 707.8,197.2 709.8,197.1 711.8,197.0 713.8,197.3 715.8,196.9 717.8,197.1 719.8,197.0 721.8,197.1 723.8,196.8 725.8,197.2 727.8,197.2 729.8,197.1 731.8,197.1 733.8,197.0 735.8,196.9 737.8,197.0 739.8,197.1 741.8,196.8 743.8,197.0 745.8,197.4 747.8,197.2 749.8,196.9 751.8,197.3 753.8,196.7 755.8,197.0 757.8,197.3 759.8,197.2 761.8,197.1 763.8,196.8 765.8,196.7 767.8,197.2 769.8,197.1 771.8,197.4 773.8,196.9 775.8,196.8 777.8,196.9 779.8,196.7 781.8,197.0 783.8,197.1 785.8,197.0 787.8,197.5 789.8,197.5 791.8,197.0 793.8,196.9 795.8,197.3 797.8,197.3 799.8,196.8 801.8,196.9 803.8,196.9 805.8,196.8 807.8,196.9 809.8,196.8 811.8,197.2 813.8,197.2 815.8,196.7 817.8,196.9 819.8,197.0 821.8,197.4 823.8,196.9 825.8,197.3 827.8,197.4 829.8,196.9 831.8,197.2 833.8,197.1 835.8,197.3 837.8,196.8 839.8,197.0 841.8,196.7 843.8,197.3 845.8,196.7 847.8,197.1 849.8,196.8 851.8,196.9 853.8,196.9 855.8,197.1 857.8,197.2 859.8,197.4 861.8,197.4 863.8,197.1 865.8,196.9 867.8,197.4 869.8,196.8 871.8,197.1 873.8,197.0 875.8,197.0 877.8,197.2 879.8,196.9 881.8,197.1 883.8,197.1 885.8,197.3 887.8,197.4 889.8,197.3 891.8,197.1 893.8,197.5 895.8,197.3 897.8,196.8 899.8,197.2 901.8,197.2 903.8,196.9 905.8,197.2 907.8,197.1 909.8,196.9 911.8,197.1 913.8,197.0 915.8,196.9 917.8,197.1 919.8,196.7 921.8,197.4 923.8,197.1 925.8,197.2 927.8,197.4 929.8,197.3 931.8,197.1 933.8,197.2 935.8,197.4 937.8,197.5 939.8,197.0 941.8,197.2 943.8,196.9 945.8,196.9 947.8,197.1 949.8,197.1 951.8,196.9 953.8,196.9 955.8,197.1 957.8,196.8 959.8,197.2 961.8,196.9 963.8,197.5 965.8,197.2 967.8,197.3 969.8,197.1 971.8,197.4 973.8,197.3 975.8,197.3 977.8,197.2 979.8,197.3 981.8,197.1 983.8,197.3 985.8,197.1 987.8,197.1 989.8,197.2 991.8,197.2 993.8,197.1 995.8,197.0 997.8,197.1 999.8,197.4 1001.8,197.2 1003.8,197.2 1005.8,197.0 1007.8,197.5 1009.8,197.1 1011.8,197.3 1013.8,197.2 1015.8,197.4 1017.8,196.8 1019.8,196.7 1021.8,197.1 1023.8,196.6 1025.8,197.0 1027.8,197.0 1029.8,197.1 1031.8,197.3 1033.8,196.9 1035.8,197.3 1037.8,197.4 1039.8,197.5 1041.8,196.9 1043.8,197.1 1045.8,197.6 1047.8,197.0 1049.8,197.4 1051.8,197.3 1053.8,197.3 1055.8,196.8 1057.8,196.9 1059.8,197.0 1061.8,197.3 1063.8,197.4 1065.8,197.0 1067.8,197.3 1069.8,197.2 1071.8,197.0 1073.8,196.9 1075.8,196.8 1077.8,196.9 1079.8,197.0 1081.8,197.5 1083.8,197.4 1085.8,197.1 1087.8,197.2 1089.8,197.0 1091.8,196.7 1093.8,197.2 1095.8,197.3 1097.8,197.0" fill="none" stroke="#ff3030" stroke-width="0.8"/></g>
<g clip-path="url(#clipL0)"><path d="M59.0,272.6H60.5V276.2H62.0V300.7H63.5V309.3H65.0V304.6H66.5V284.3H68.0V286.4H69.5V279.5H71.0V301.7H72.5V261.0H74.0V287.4H75.5V281.1H77.0V308.4H78.5V290.6H80.0V283.7H81.5V281.0H83.0V289.9H84.5V289.7H86.0V282.9H87.5V296.3H89.0V301.9H90.5V286.2H92.0V295.4H93.5V306.1H95.0V297.1H96.5V294.4H98.0V300.7H99.5V303.5H101.0V287.8H102.5V284.1H104.0V293.8H105.5V298.3H107.0V289.2H108.5V286.7H110.0V295.4H111.5V310.6H113.0V284.8H114.5V304.1H116.0V300.7H117.5V300.1H119.0V319.2H120.5V285.7H122.0V305.6H123.5V300.7H125.0V302.4H126.5V310.0H128.1V295.0H129.6V292.0H131.1V302.6H132.6V272.2H134.1V290.3H135.6V292.2H137.1V294.5H138.6V301.1H140.1V326.4H141.6V328.3H143.1V319.3H144.6V281.0H146.1V296.4H147.6V300.7H149.1V292.4H150.6V302.5H152.1V299.2H153.6V296.4H155.1V306.4H156.6V294.5H158.1V300.4H159.6V295.6H161.1V304.0H162.6V291.1H164.1V295.3H165.6V303.5H167.1V308.2H168.6V328.3H170.1V354.1H171.6V363.3H173.1V313.0H174.6V312.7H176.1V339.2H177.6V345.2H179.1V302.0H180.6V305.7H182.1V293.4H183.6V280.9H185.1V310.3H186.6V299.7H188.1V307.6H189.6V288.5H191.1V284.9H192.6V280.9H194.1V311.2H195.6V301.6H197.1V291.9H198.6V289.4H200.1V311.8H201.6V327.4H203.1V306.8H204.6V299.4H206.1V298.8H207.6V302.8H209.1V280.3H210.6V294.6H212.1V297.7H213.6V298.7H215.1V307.1H216.6V300.8H218.1V303.5H219.6V298.5H221.1V308.3H222.6V286.5H224.1V292.8H225.6V280.5H227.1V296.5H228.6V300.6H230.1V308.3H231.6V287.3H233.1V276.9H234.6V303.4H236.1V302.0H237.6V292.4H239.1V303.5H240.6V299.1H242.1V281.7H243.6V295.5H245.1V288.5H246.6V296.8H248.1V289.9H249.6V300.2H251.1V294.5H252.6V308.3H254.1V308.2H255.6V288.4H257.1V296.2H258.6V284.4H260.1V281.8H261.6V273.7H263.1V274.0H264.6V270.2H266.1V278.9H267.6V283.4H269.1V283.6H270.6V281.7H272.1V286.6H273.6V282.2H275.1V278.7H276.6V276.1H278.1V280.6H279.6V292.7H281.1V278.6H282.6V276.3H284.1V269.8H285.6V273.6H287.1V282.9H288.6V283.5H290.1V262.8H291.6V272.3H293.1V264.1H294.6V261.9H296.1V284.2H297.6V275.1H299.1V274.5H300.6V274.8H302.1V276.2H303.6V279.9H305.1V281.3H306.6V295.1H308.1V287.8H309.6V291.6H311.1V285.1H312.6V289.6H314.1V281.5H315.6V280.0H317.1V291.5H318.6V283.9H320.1V285.6H321.6V289.6H323.1V287.6H324.6V290.1H326.1V283.5H327.6V286.4H329.1V282.2H330.6V296.4H332.1V280.0H333.6V299.2H335.1V292.1H336.6V288.1H338.1V295.1H339.6V284.6H341.1V291.0H342.6V294.7H344.1V293.1H345.6V277.3H347.1V286.6H348.6V295.6H350.1V287.0H351.6V298.6H353.1V274.2H354.6V298.6H356.1V284.0H357.6V283.7H359.1V298.3H360.6V285.7H362.1V280.7H363.6V284.7H365.1V293.6H366.6V281.4H368.1V287.2H369.6V286.1H371.1V289.6H372.6V284.2H374.1V295.7H375.6V283.2H377.1V292.7H378.6V297.1H380.1V286.7H381.6V277.2H383.1V282.6H384.6V293.4H386.1V284.7H387.6V297.9H389.1V291.2H390.6V290.0H392.1V312.6H393.6V317.0H395.1V330.3H396.6V327.2H398.1V316.4H399.6V271.4H401.1V287.2H402.6V272.3H404.1V265.9H405.6V277.8H407.1V269.8H408.6V279.3H410.1V291.0H411.6V276.2H413.1V274.1H414.6V280.2H416.1V274.9H417.6V272.9H419.1V283.0H420.6V287.2H422.1V278.3H423.6V278.1H425.1V279.0H426.6V269.5H428.1V264.2H429.6V279.2H431.1V271.3H432.6V269.5H434.1V271.0H435.6V269.4H437.1V280.4H438.6V273.4H440.1V265.3H441.6V274.8H443.1V285.6H444.6V277.8H446.1V262.4H447.6V279.5H449.1V286.0H450.6V273.4H452.1V290.9H453.6V278.7H455.1V282.4H456.6V290.6H458.1V273.8H459.6V279.9H461.1V290.5H462.6V278.2H464.1V285.4H465.6V295.6H467.1V287.3H468.6V280.7H470.1V278.2H471.6V281.5H473.1V303.3H474.6V279.4H476.1V284.2H477.6V274.6H479.1V281.8H480.6V280.8H482.1V262.3H483.6V290.1H485.1V287.8H486.6V272.5H488.1V280.7H489.6V285.6H491.1V283.4H492.6V290.3H494.1V291.3H495.6V300.9H497.1V297.7H498.6V308.9H500.1V287.0H501.6V297.3H503.1V302.4H504.6V291.2H506.1V290.9H507.6V286.0H509.1V293.4H510.6V281.6H512.0V262.7H513.5V290.3H515.0V278.8H516.5V283.3H518.0V280.0H519.5V293.6H521.0V289.3H522.5V278.6H524.0V282.1H525.5V271.0H527.0V286.8H528.5V281.1H530.0V262.9H531.5V298.3H533.0V288.7H534.5V283.0H536.0V283.2H537.5V277.4H539.0V282.3H540.5V288.3H542.0V282.0H543.5V266.0H545.0V275.2H546.5V302.2H548.0V284.8H549.5V290.1H551.0V281.5H552.5V288.1H554.0V275.5H555.5V283.5H557.0V285.1H558.5V291.1H560.0V293.0H561.5V290.1H563.0V283.3H564.5V287.9H566.0V293.3H567.5V282.1H569.0V288.8H570.5V290.5H572.0V295.2H573.5V293.7H575.0V294.2H576.5V308.3H578.0V283.4H579.5V286.3H581.0V291.4H582.5V283.2H584.0V287.1H585.5V287.6H587.0V306.1H588.5V309.5H590.0V286.5H591.5V279.6H593.0V292.1H594.5V280.8H596.0V297.5H597.5V306.3H599.0V286.3H600.5V310.8H602.0V286.8H603.5V295.4H605.0V294.8H606.5V301.0H608.0V296.5H609.5V303.8H611.0V284.2H612.5V301.2H614.0V306.5H615.5V308.5H617.0V306.6H618.5V302.0H620.0V304.0H621.5V311.0H623.0V311.5H624.5V296.9H626.0V316.4H627.5V302.3H629.0V306.5H630.5V312.8H632.0V314.3H633.5V309.1H635.0V309.0H636.5V307.9H638.0V321.1H639.5V318.0H641.0V316.0H642.5V306.5H644.0V332.7H645.5V316.3H647.0V323.6H648.5V318.7H650.0V325.4H651.5V320.7H653.0V313.9H654.5V322.1H656.0V336.7H657.5V323.3H659.0V331.0H660.5V323.6H662.0V328.9H663.5V333.4H665.0V329.2H666.5V331.0H668.0V325.6H669.5V331.2H671.0V334.9H672.5V323.2H674.0V326.8H675.5V325.0H677.0V328.9H678.5V333.2H680.0V334.9H681.5V333.9H683.0V313.4H684.5V331.1H686.0V340.7H687.5V331.6H689.0V339.9H690.5V330.0H692.0V338.3H693.5V338.4H695.0V329.8H696.5V330.8H698.0V340.3H699.5V325.2H701.0V315.6H702.5V336.9H704.0V315.7H705.5V330.0H707.0V327.8H708.5V324.9H710.0V331.6H711.5V313.9H713.0V317.8H714.5V324.4H716.0V331.9H717.5V327.6H719.0V319.7H720.5V311.2H722.0V326.5H723.5V318.0H725.0V313.7H726.5V307.5H728.0V304.9H729.5V315.1H731.0V316.1H732.5V308.1H734.0V312.3H735.5V328.0H737.0V295.8H738.5V299.4H740.0V307.8H741.5V310.4H743.0V305.7H744.5V320.3H746.0V313.6H747.5V315.0H749.0V294.2H750.5V304.1H752.0V307.4H753.5V309.2H755.0V323.0H756.5V303.5H758.0V297.9H759.5V311.8H761.0V303.2H762.5V325.0H764.0V316.2H765.5V301.3H767.0V316.8H768.5V305.2H770.0V306.8H771.5V301.6H773.0V315.3H774.5V305.4H776.0V299.7H777.5V313.2H779.0V299.9H780.5V308.1H782.0V317.9H783.5V306.1H785.0V311.1H786.5V303.4H788.0V312.2H789.5V299.0H791.0V303.2H792.5V302.9H794.0V308.4H795.5V306.7H797.0V297.8H798.5V303.4H800.0V306.9H801.5V311.8H803.0V297.6H804.5V300.9H806.0V306.2H807.5V302.8H809.0V310.1H810.5V309.9H812.0V308.8H813.5V301.8H815.0V302.1H816.5V308.0H818.0V299.3H819.5V299.0H821.0V302.4H822.5V297.3H824.0V305.0H825.5V303.9H827.0V300.4H828.5V303.2H830.0V298.1H831.5V309.3H833.0V293.2H834.5V305.4H836.0V301.2H837.5V307.6H839.0V295.6H840.5V291.1H842.0V291.7H843.5V292.5H845.0V305.6H846.5V300.6H848.0V298.1H849.5V300.3H851.0V288.3H852.5V293.4H854.0V294.4H855.5V291.2H857.0V299.2H858.5V298.7H860.0V298.3H861.5V290.2H863.0V290.8H864.5V289.3H866.0V306.8H867.5V299.8H869.0V295.0H870.5V290.8H872.0V282.3H873.5V294.1H875.0V285.2H876.5V282.9H878.0V284.7H879.5V290.5H881.0V291.8H882.5V284.5H884.0V292.6H885.5V288.5H887.0V282.8H888.5V292.3H890.0V293.6H891.5V290.1H893.0V286.6H894.5V287.2H896.0V289.0H897.5V286.6H899.0V298.6H900.5V294.4H902.0V288.6H903.5V294.6H905.0V296.9H906.5V296.0H908.0V294.3H909.5V288.6H911.0V294.7H912.5V287.6H914.0V279.4H915.5V289.6H917.0V281.6H918.5V287.0H920.0V294.8H921.5V289.9H923.0V293.8H924.5V284.1H926.0V294.6H927.5V280.8H929.0V284.9H930.5V299.2H932.0V283.6H933.5V279.3H935.0V298.4H936.5V282.2H938.0V304.1H939.5V286.1H941.0V296.6H942.5V284.7H944.0V297.1H945.5V301.6H947.0V284.9H948.5V274.5H950.0V290.2H951.5V282.3H953.0V286.2H954.5V288.5H956.0V283.2H957.5V277.5H959.0V293.1H960.5V283.2H962.0V302.6H963.5V279.5H965.0V277.3H966.5V275.4H968.0V291.0H969.5V276.3H971.0V285.4H972.5V286.2H974.0V277.4H975.5V284.2H977.0V283.6H978.5V277.0H980.0V278.2H981.5V280.2H983.0V292.5H984.5V293.4H986.0V278.7H987.5V289.7H989.0V283.8H990.5V290.3H992.0V285.4H993.5V291.2H995.0V268.2H996.5V289.6H998.0V284.7H999.5V285.0H1001.0V277.4H1002.5V291.4H1004.0V283.9H1005.5V284.7H1007.0V280.7H1008.5V280.9H1010.0V285.8H1011.5V282.0H1013.0V285.2H1014.5V280.6H1016.0V283.5H1017.5V286.4H1019.0V283.0H1020.5V280.8H1022.0V270.6H1023.5V270.0H1025.0V280.8H1026.5V274.6H1028.0V293.2H1029.5V291.4H1031.0V288.4H1032.5V282.6H1034.0V269.1H1035.5V279.8H1037.0V275.4H1038.5V282.8H1040.0V294.5H1041.5V293.8H1043.0V278.9H1044.5V294.9H1046.0V315.5H1047.5V292.6H1049.0V294.0H1050.5V275.5H1052.0V273.4H1053.5V284.9H1055.0V286.7H1056.5V276.5H1058.0V286.5H1059.5V276.3H1061.0V287.0H1062.5V276.5H1064.0V276.2H1065.5V282.9H1067.0V296.2H1068.5V279.4H1070.0V290.4H1071.5V282.0H1073.0V282.5H1074.5V277.0H1076.0V286.9H1077.5V271.6H1079.0V282.0H1080.5V286.2H1082.0V273.2H1083.5V271.7H1085.0V281.2H1086.5V284.8H1088.0V280.1H1089.5V283.7H1091.0V281.7H1092.5V272.1H1094.0V278.1H1095.5V281.6H1097.0V278.2H1098.5" fill="none" stroke="#5a5a5a" stroke-width="1.15"/><path d="M59.0,283.1H60.5V276.7H62.0V260.0H63.5V254.6H65.0V292.5H66.5V297.3H68.0V304.0H69.5V295.9H71.0V288.5H72.5V296.1H74.0V292.9H75.5V310.4H77.0V296.3H78.5V304.2H80.0V285.7H81.5V292.4H83.0V292.5H84.5V300.0H86.0V295.7H87.5V295.9H89.0V303.4H90.5V304.9H92.0V302.6H93.5V306.5H95.0V306.9H96.5V305.2H98.0V312.8H99.5V298.6H101.0V315.0H102.5V298.0H104.0V294.5H105.5V307.3H107.0V312.8H108.5V304.3H110.0V313.1H111.5V301.8H113.0V306.6H114.5V302.2H116.0V290.2H117.5V299.8H119.0V306.5H120.5V300.5H122.0V290.9H123.5V298.1H125.0V286.0H126.5V304.6H128.1V315.0H129.6V304.1H131.1V297.9H132.6V304.1H134.1V298.4H135.6V294.6H137.1V304.9H138.6V292.7H140.1V290.0H141.6V293.7H143.1V293.2H144.6V301.1H146.1V285.9H147.6V299.9H149.1V301.2H150.6V281.0H152.1V307.4H153.6V311.7H155.1V307.2H156.6V298.8H158.1V298.2H159.6V311.7H161.1V321.5H162.6V303.6H164.1V302.9H165.6V304.0H167.1V310.4H168.6V334.7H170.1V364.4H171.6V347.1H173.1V329.3H174.6V326.7H176.1V339.0H177.6V334.9H179.1V312.0H180.6V299.7H182.1V296.8H183.6V296.6H185.1V313.4H186.6V306.8H188.1V299.0H189.6V298.1H191.1V311.9H192.6V294.3H194.1V304.9H195.6V303.5H197.1V300.2H198.6V297.1H200.1V311.3H201.6V295.6H203.1V301.5H204.6V307.0H206.1V303.8H207.6V316.2H209.1V306.2H210.6V300.8H212.1V306.6H213.6V304.1H215.1V302.9H216.6V301.7H218.1V295.4H219.6V302.2H221.1V303.7H222.6V298.5H224.1V283.2H225.6V304.2H227.1V298.7H228.6V312.1H230.1V293.4H231.6V297.8H233.1V293.5H234.6V302.4H236.1V308.6H237.6V296.4H239.1V297.2H240.6V307.5H242.1V311.3H243.6V299.2H245.1V303.1H246.6V285.5H248.1V305.9H249.6V305.3H251.1V302.7H252.6V315.6H254.1V307.8H255.6V292.3H257.1V310.8H258.6V318.4H260.1V310.6H261.6V288.7H263.1V282.8H264.6V281.4H266.1V285.5H267.6V281.2H269.1V281.6H270.6V287.4H272.1V279.4H273.6V288.5H275.1V291.3H276.6V285.2H278.1V284.1H279.6V290.6H281.1V281.5H282.6V277.0H284.1V274.7H285.6V282.2H287.1V278.6H288.6V281.2H290.1V290.7H291.6V285.0H293.1V276.0H294.6V290.8H296.1V299.3H297.6V286.3H299.1V289.4H300.6V291.2H302.1V285.6H303.6V285.5H305.1V286.8H306.6V298.6H308.1V292.8H309.6V289.9H311.1V286.3H312.6V288.0H314.1V287.0H315.6V285.4H317.1V287.1H318.6V296.9H320.1V291.7H321.6V296.3H323.1V306.2H324.6V302.0H326.1V295.0H327.6V298.6H329.1V305.3H330.6V295.5H332.1V283.0H333.6V292.3H335.1V289.6H336.6V293.6H338.1V292.5H339.6V284.5H341.1V287.3H342.6V292.5H344.1V286.8H345.6V285.7H347.1V293.3H348.6V290.4H350.1V290.5H351.6V295.9H353.1V285.3H354.6V293.0H356.1V308.8H357.6V301.7H359.1V299.2H360.6V283.2H362.1V298.6H363.6V297.9H365.1V294.1H366.6V289.1H368.1V288.5H369.6V296.5H371.1V293.7H372.6V291.4H374.1V309.2H375.6V292.2H377.1V293.8H378.6V288.4H380.1V284.5H381.6V288.9H383.1V296.2H384.6V289.8H386.1V291.7H387.6V289.4H389.1V281.9H390.6V294.1H392.1V299.2H393.6V315.9H395.1V325.7H396.6V326.6H398.1V299.0H399.6V290.2H401.1V287.6H402.6V271.6H404.1V272.3H405.6V277.1H407.1V276.3H408.6V278.7H410.1V283.3H411.6V282.6H413.1V283.7H414.6V265.4H416.1V294.5H417.6V284.6H419.1V281.0H420.6V284.9H422.1V291.6H423.6V283.0H425.1V285.8H426.6V277.4H428.1V274.2H429.6V281.3H431.1V295.8H432.6V282.7H434.1V286.5H435.6V265.8H437.1V272.7H438.6V279.9H440.1V270.9H441.6V273.6H443.1V287.3H444.6V286.0H446.1V280.4H447.6V288.2H449.1V275.5H450.6V280.2H452.1V279.8H453.6V282.0H455.1V290.6H456.6V277.4H458.1V275.9H459.6V272.2H461.1V285.5H462.6V285.2H464.1V280.2H465.6V285.8H467.1V287.4H468.6V286.0H470.1V267.7H471.6V283.7H473.1V285.6H474.6V274.2H476.1V280.6H477.6V274.3H479.1V276.0H480.6V276.8H482.1V286.9H483.6V279.8H485.1V283.6H486.6V282.1H488.1V270.8H489.6V283.6H491.1V280.9H492.6V291.5H494.1V294.8H495.6V307.6H497.1V309.4H498.6V301.7H500.1V297.0H501.6V292.3H503.1V291.3H504.6V286.5H506.1V288.2H507.6V288.0H509.1V295.3H510.6V287.1H512.0V275.9H513.5V280.8H515.0V277.1H516.5V281.9H518.0V268.0H519.5V272.1H521.0V279.9H522.5V275.1H524.0V279.6H525.5V289.3H527.0V292.3H528.5V282.1H530.0V289.9H531.5V293.6H533.0V288.7H534.5V282.3H536.0V283.5H537.5V286.9H539.0V301.1H540.5V286.9H542.0V288.8H543.5V293.4H545.0V287.9H546.5V302.3H548.0V288.9H549.5V296.2H551.0V290.7H552.5V290.2H554.0V299.4H555.5V293.5H557.0V294.3H558.5V301.3H560.0V295.1H561.5V299.6H563.0V310.0H564.5V303.5H566.0V301.7H567.5V305.1H569.0V310.5H570.5V306.4H572.0V299.6H573.5V301.1H575.0V307.7H576.5V311.2H578.0V298.2H579.5V309.5H581.0V313.0H582.5V312.4H584.0V309.5H585.5V309.0H587.0V322.7H588.5V310.3H590.0V326.3H591.5V311.1H593.0V316.3H594.5V315.3H596.0V311.5H597.5V329.6H599.0V313.2H600.5V319.1H602.0V327.4H603.5V331.3H605.0V320.8H606.5V326.6H608.0V319.7H609.5V323.4H611.0V325.4H612.5V321.8H614.0V325.4H615.5V322.7H617.0V324.1H618.5V326.6H620.0V325.5H621.5V326.0H623.0V334.7H624.5V331.2H626.0V331.2H627.5V332.7H629.0V342.5H630.5V334.2H632.0V330.8H633.5V331.4H635.0V326.5H636.5V342.7H638.0V333.9H639.5V334.5H641.0V333.6H642.5V343.7H644.0V340.1H645.5V331.2H647.0V328.9H648.5V328.4H650.0V336.8H651.5V333.5H653.0V325.9H654.5V333.2H656.0V331.6H657.5V333.5H659.0V329.2H660.5V329.0H662.0V323.5H663.5V329.8H665.0V331.4H666.5V335.3H668.0V331.9H669.5V332.5H671.0V330.7H672.5V333.9H674.0V336.4H675.5V332.1H677.0V326.6H678.5V331.9H680.0V325.7H681.5V320.7H683.0V324.8H684.5V325.4H686.0V326.9H687.5V325.5H689.0V324.9H690.5V328.8H692.0V327.0H693.5V334.9H695.0V316.9H696.5V330.7H698.0V322.4H699.5V328.7H701.0V323.4H702.5V323.8H704.0V329.5H705.5V321.8H707.0V328.8H708.5V323.2H710.0V320.0H711.5V328.1H713.0V328.8H714.5V328.8H716.0V316.6H717.5V326.5H719.0V329.7H720.5V321.7H722.0V325.0H723.5V324.1H725.0V327.4H726.5V331.6H728.0V325.7H729.5V326.5H731.0V328.3H732.5V326.0H734.0V322.5H735.5V318.2H737.0V318.2H738.5V318.6H740.0V322.2H741.5V324.5H743.0V318.4H744.5V317.4H746.0V315.0H747.5V318.5H749.0V318.6H750.5V316.7H752.0V321.1H753.5V320.4H755.0V320.0H756.5V321.7H758.0V317.1H759.5V313.7H761.0V315.5H762.5V314.6H764.0V320.1H765.5V316.2H767.0V316.5H768.5V313.1H770.0V313.5H771.5V314.8H773.0V307.5H774.5V312.4H776.0V315.3H777.5V316.3H779.0V313.9H780.5V315.7H782.0V307.2H783.5V311.0H785.0V314.1H786.5V315.9H788.0V316.5H789.5V316.0H791.0V307.2H792.5V308.7H794.0V311.8H795.5V310.9H797.0V318.2H798.5V308.2H800.0V311.5H801.5V305.2H803.0V310.7H804.5V311.5H806.0V308.5H807.5V311.4H809.0V303.6H810.5V307.3H812.0V306.6H813.5V306.4H815.0V308.6H816.5V305.1H818.0V301.8H819.5V299.7H821.0V305.7H822.5V304.2H824.0V306.9H825.5V306.3H827.0V305.7H828.5V299.3H830.0V303.5H831.5V299.8H833.0V304.1H834.5V304.1H836.0V309.6H837.5V303.5H839.0V294.0H840.5V302.3H842.0V295.8H843.5V297.8H845.0V303.2H846.5V297.6H848.0V303.5H849.5V301.0H851.0V295.1H852.5V298.8H854.0V303.5H855.5V293.6H857.0V302.8H858.5V299.0H860.0V299.5H861.5V298.5H863.0V300.8H864.5V303.5H866.0V290.2H867.5V300.4H869.0V300.0H870.5V298.3H872.0V295.7H873.5V291.0H875.0V284.6H876.5V284.8H878.0V289.3H879.5V293.0H881.0V294.2H882.5V288.6H884.0V301.4H885.5V292.6H887.0V296.6H888.5V292.4H890.0V299.8H891.5V293.4H893.0V290.4H894.5V300.5H896.0V286.2H897.5V289.6H899.0V289.6H900.5V289.6H902.0V293.6H903.5V295.4H905.0V288.3H906.5V290.2H908.0V293.7H909.5V290.2H911.0V292.2H912.5V287.0H914.0V291.2H915.5V294.1H917.0V289.8H918.5V291.4H920.0V283.7H921.5V290.9H923.0V294.0H924.5V289.2H926.0V289.8H927.5V287.8H929.0V287.9H930.5V292.4H932.0V293.8H933.5V288.8H935.0V292.7H936.5V290.3H938.0V287.3H939.5V293.9H941.0V291.9H942.5V289.5H944.0V288.0H945.5V285.6H947.0V292.5H948.5V286.2H950.0V284.9H951.5V281.3H953.0V288.6H954.5V290.3H956.0V288.1H957.5V275.1H959.0V282.1H960.5V289.0H962.0V284.6H963.5V282.9H965.0V282.4H966.5V287.3H968.0V283.3H969.5V285.7H971.0V288.9H972.5V284.2H974.0V283.7H975.5V288.5H977.0V283.1H978.5V277.2H980.0V290.1H981.5V281.7H983.0V280.8H984.5V283.9H986.0V283.0H987.5V287.4H989.0V291.9H990.5V312.2H992.0V301.5H993.5V295.2H995.0V282.6H996.5V281.9H998.0V289.4H999.5V286.3H1001.0V281.3H1002.5V284.9H1004.0V287.6H1005.5V292.5H1007.0V281.9H1008.5V271.8H1010.0V284.9H1011.5V281.6H1013.0V281.6H1014.5V283.5H1016.0V282.8H1017.5V282.8H1019.0V286.5H1020.5V273.9H1022.0V273.0H1023.5V282.0H1025.0V276.5H1026.5V286.3H1028.0V284.0H1029.5V279.0H1031.0V287.5H1032.5V288.1H1034.0V281.9H1035.5V290.6H1037.0V276.7H1038.5V280.4H1040.0V282.2H1041.5V280.8H1043.0V284.6H1044.5V297.1H1046.0V299.8H1047.5V293.3H1049.0V286.0H1050.5V283.5H1052.0V285.1H1053.5V277.8H1055.0V288.6H1056.5V286.2H1058.0V285.0H1059.5V288.7H1061.0V288.0H1062.5V286.9H1064.0V279.2H1065.5V276.3H1067.0V281.7H1068.5V289.1H1070.0V285.3H1071.5V283.5H1073.0V284.0H1074.5V284.4H1076.0V282.5H1077.5V290.3H1079.0V285.2H1080.5V282.2H1082.0V280.3H1083.5V281.9H1085.0V282.9H1086.5V283.5H1088.0V285.4H1089.5V282.6H1091.0V283.7H1092.5V285.6H1094.0V278.4H1095.5V278.5H1097.0V284.3H1098.5" fill="none" stroke="#ff4545" stroke-width="1.0"/></g>
<g clip-path="url(#clipU0)"><polyline points="59.8,92.9 62.8,93.0 65.8,93.1 68.8,93.2 71.8,93.2 74.8,93.3 77.8,93.4 80.8,93.5 83.8,93.6 86.8,93.7 89.8,93.8 92.8,93.9 95.8,93.9 98.8,94.0 101.8,94.1 104.8,94.2 107.8,94.3 110.8,94.4 113.8,94.5 116.8,94.6 119.8,94.7 122.8,94.7 125.8,94.8 128.8,94.9 131.8,95.0 134.8,95.1 137.8,95.2 140.8,95.3 143.8,95.4 146.8,95.4 149.8,95.5 152.8,95.6 155.8,95.7 158.8,95.8 161.8,95.9 164.8,96.0 167.8,96.1 170.8,96.1 173.8,96.2 176.8,96.3 179.8,96.4 182.8,96.5 185.8,96.6 188.8,96.7 191.8,96.8 194.8,96.8 197.8,96.9 200.8,97.0 203.8,97.1 206.8,97.2 209.8,97.3 212.8,97.4 215.8,97.4 218.8,97.5 221.8,97.6 224.8,97.7 227.8,97.8 230.8,97.8 233.8,97.9 236.8,98.0 239.8,98.1 242.8,98.2 245.8,98.3 248.8,98.3 251.8,98.4 254.8,98.5 257.8,98.6 260.8,98.7 263.8,98.7 266.8,98.8 269.8,98.9 272.8,99.0 275.8,99.1 278.8,99.2 281.8,99.2 284.8,99.3 287.8,99.4 290.8,99.5 293.8,99.6 296.8,99.7 299.8,99.7 302.8,99.8 305.8,99.9 308.8,100.0 311.8,100.1 314.8,100.1 317.8,100.2 320.8,100.3 323.8,100.4 326.8,100.5 329.8,100.6 332.8,100.6 335.8,100.7 338.8,100.7 341.8,100.8 344.8,100.8 347.8,100.8 350.8,100.9 353.8,100.9 356.8,100.9 359.8,101.0 362.8,101.0 365.8,101.0 368.8,101.1 371.8,101.1 374.8,101.1 377.8,101.1 380.8,101.2 383.8,101.2 386.8,101.2 389.8,101.3 392.8,101.3 395.8,101.3 398.8,101.4 401.8,101.4 404.8,101.4 407.8,101.5 410.8,101.5 413.8,101.5 416.8,101.6 419.8,101.6 422.8,101.6 425.8,101.6 428.8,101.7 431.8,101.5 434.8,100.8 437.8,100.2 440.8,99.5 443.8,98.8 446.8,98.1 449.8,97.5 452.8,96.8 455.8,96.1 458.8,95.4 461.8,94.8 464.8,94.1 467.8,93.1 470.8,91.2 473.8,89.2 476.8,87.3 479.8,85.4 482.8,83.4 485.8,81.4 488.8,79.3 491.8,77.2 494.8,75.1 497.8,73.0 500.8,71.3 503.8,70.7 506.8,70.6 509.8,71.9 512.8,73.1 515.8,74.9 518.8,78.1 521.8,81.4 524.8,84.7 527.8,87.9 530.8,91.2 533.8,93.9 536.8,95.2 539.8,96.5 542.8,97.7 545.8,99.0 548.8,100.3 551.8,101.5 554.8,102.8 557.8,104.1 560.8,105.0 563.8,105.2 566.8,105.4 569.8,105.5 572.8,105.7 575.8,105.8 578.8,106.0 581.8,106.1 584.8,106.3 587.8,106.4 590.8,106.6 593.8,106.8 596.8,106.9 599.8,107.1 602.8,107.2 605.8,107.4 608.8,107.5 611.8,107.6 614.8,107.7 617.8,107.8 620.8,107.9 623.8,108.0 626.8,108.0 629.8,108.1 632.8,108.2 635.8,108.3 638.8,108.4 641.8,108.4 644.8,108.5 647.8,108.6 650.8,108.7 653.8,108.8 656.8,108.8 659.8,108.9 662.8,109.0 665.8,109.1 668.8,109.2 671.8,109.2 674.8,109.3 677.8,109.4 680.8,109.5 683.8,109.6 686.8,109.6 689.8,109.7 692.8,109.8 695.8,109.9 698.8,110.0 701.8,110.0 704.8,110.1 707.8,110.2 710.8,110.3 713.8,110.3 716.8,110.4 719.8,110.5 722.8,110.6 725.8,110.6 728.8,110.7 731.8,110.8 734.8,110.8 737.8,110.9 740.8,111.0 743.8,111.1 746.8,111.1 749.8,111.2 752.8,111.3 755.8,111.4 758.8,111.4 761.8,111.5 764.8,111.6 767.8,111.6 770.8,111.7 773.8,111.8 776.8,111.9 779.8,111.9 782.8,112.0 785.8,112.1 788.8,112.2 791.8,112.2 794.8,112.3 797.8,112.4 800.8,112.4 803.8,112.5 806.8,112.6 809.8,112.7 812.8,112.7 815.8,112.8 818.8,112.9 821.8,113.0 824.8,113.0 827.8,113.1 830.8,113.2 833.8,113.2 836.8,113.3 839.8,113.4 842.8,113.4 845.8,113.5 848.8,113.5 851.8,113.5 854.8,113.6 857.8,113.6 860.8,113.7 863.8,113.7 866.8,113.7 869.8,113.8 872.8,113.8 875.8,113.8 878.8,113.9 881.8,113.9 884.8,114.0 887.8,114.0 890.8,114.0 893.8,114.1 896.8,114.1 899.8,114.1 902.8,114.2 905.8,114.2 908.8,114.3 911.8,114.3 914.8,114.3 917.8,114.4 920.8,114.3 923.8,114.0 926.8,113.7 929.8,113.4 932.8,113.1 935.8,112.9 938.8,112.6 941.8,112.3 944.8,112.0 947.8,111.7 950.8,111.4 953.8,111.1 956.8,110.8 959.8,110.5 962.8,110.2 965.8,109.9 968.8,109.5 971.8,109.1 974.8,108.7 977.8,108.3 980.8,107.9 983.8,107.5 986.8,106.9 989.8,106.2 992.8,105.6 995.8,104.9 998.8,104.2 1001.8,103.5 1004.8,101.3 1007.8,99.0 1010.8,96.7 1013.8,94.1 1016.8,91.1 1019.8,88.2 1022.8,85.3 1025.8,82.7 1028.8,80.9 1031.8,79.4 1034.8,78.9 1037.8,79.7 1040.8,81.3 1043.8,84.6 1046.8,89.2 1049.8,93.7 1052.8,96.3 1055.8,98.8 1058.8,101.2 1061.8,102.8 1064.8,103.8 1067.8,104.9 1070.8,105.9 1073.8,106.9 1076.8,107.8 1079.8,108.7 1082.8,109.6 1085.8,110.5 1088.8,111.3 1091.8,111.9 1094.8,112.2 1097.8,112.5" fill="none" stroke="#000" stroke-width="2.3" stroke-dasharray="8 7.6"/><polyline points="59.8,89.0 62.8,89.0 65.8,89.1 68.8,89.1 71.8,89.2 74.8,89.2 77.8,89.3 80.8,89.3 83.8,89.3 86.8,89.4 89.8,89.4 92.8,89.5 95.8,89.5 98.8,89.6 101.8,89.6 104.8,89.6 107.8,89.7 110.8,89.7 113.8,89.8 116.8,89.8 119.8,89.9 122.8,89.9 125.8,89.9 128.8,90.0 131.8,90.0 134.8,90.1 137.8,90.1 140.8,90.2 143.8,90.2 146.8,90.2 149.8,90.3 152.8,90.3 155.8,90.4 158.8,90.4 161.8,90.5 164.8,90.5 167.8,90.5 170.8,90.6 173.8,90.6 176.8,90.7 179.8,90.7 182.8,90.8 185.8,90.8 188.8,90.8 191.8,90.9 194.8,90.9 197.8,91.0 200.8,91.0 203.8,91.1 206.8,91.1 209.8,91.2 212.8,91.2 215.8,91.3 218.8,91.4 221.8,91.4 224.8,91.5 227.8,91.5 230.8,91.6 233.8,91.7 236.8,91.7 239.8,91.8 242.8,91.8 245.8,91.9 248.8,91.9 251.8,92.0 254.8,92.1 257.8,92.1 260.8,92.2 263.8,92.2 266.8,92.3 269.8,92.3 272.8,92.4 275.8,92.5 278.8,92.5 281.8,92.6 284.8,92.6 287.8,92.7 290.8,92.7 293.8,92.8 296.8,92.9 299.8,92.9 302.8,93.0 305.8,93.0 308.8,93.1 311.8,93.2 314.8,93.2 317.8,93.3 320.8,93.3 323.8,93.4 326.8,93.4 329.8,93.5 332.8,93.6 335.8,93.6 338.8,93.6 341.8,93.6 344.8,93.6 347.8,93.6 350.8,93.6 353.8,93.6 356.8,93.6 359.8,93.6 362.8,93.6 365.8,93.6 368.8,93.6 371.8,93.6 374.8,93.6 377.8,93.6 380.8,93.6 383.8,93.6 386.8,93.6 389.8,93.6 392.8,93.6 395.8,93.6 398.8,93.6 401.8,93.6 404.8,93.6 407.8,93.6 410.8,93.6 413.8,93.6 416.8,93.6 419.8,93.6 422.8,93.6 425.8,93.6 428.8,93.6 431.8,93.5 434.8,93.1 437.8,92.6 440.8,92.2 443.8,91.8 446.8,91.4 449.8,90.9 452.8,90.5 455.8,90.1 458.8,89.7 461.8,89.2 464.8,88.8 467.8,87.9 470.8,85.9 473.8,83.8 476.8,81.7 479.8,79.6 482.8,77.5 485.8,75.5 488.8,73.4 491.8,71.4 494.8,69.3 497.8,67.3 500.8,66.9 503.8,67.5 506.8,68.5 509.8,70.4 512.8,72.4 515.8,74.3 518.8,76.2 521.8,78.7 524.8,81.4 527.8,84.2 530.8,87.0 533.8,89.4 536.8,90.8 539.8,92.1 542.8,93.5 545.8,94.9 548.8,95.2 551.8,95.5 554.8,95.8 557.8,96.0 560.8,96.2 563.8,96.3 566.8,96.3 569.8,96.4 572.8,96.4 575.8,96.5 578.8,96.5 581.8,96.6 584.8,96.6 587.8,96.7 590.8,96.7 593.8,96.8 596.8,96.8 599.8,96.9 602.8,96.9 605.8,97.0 608.8,97.0 611.8,97.1 614.8,97.1 617.8,97.1 620.8,97.2 623.8,97.2 626.8,97.3 629.8,97.3 632.8,97.4 635.8,97.4 638.8,97.5 641.8,97.5 644.8,97.6 647.8,97.6 650.8,97.7 653.8,97.7 656.8,97.8 659.8,97.8 662.8,97.9 665.8,97.9 668.8,98.0 671.8,98.0 674.8,98.1 677.8,98.1 680.8,98.2 683.8,98.2 686.8,98.3 689.8,98.3 692.8,98.4 695.8,98.4 698.8,98.5 701.8,98.5 704.8,98.6 707.8,98.6 710.8,98.7 713.8,98.7 716.8,98.8 719.8,98.8 722.8,98.9 725.8,98.9 728.8,99.0 731.8,99.0 734.8,99.0 737.8,99.1 740.8,99.1 743.8,99.2 746.8,99.2 749.8,99.3 752.8,99.3 755.8,99.4 758.8,99.4 761.8,99.5 764.8,99.5 767.8,99.6 770.8,99.6 773.8,99.7 776.8,99.7 779.8,99.8 782.8,99.8 785.8,99.8 788.8,99.9 791.8,99.9 794.8,100.0 797.8,100.0 800.8,100.1 803.8,100.1 806.8,100.2 809.8,100.2 812.8,100.3 815.8,100.3 818.8,100.4 821.8,100.4 824.8,100.5 827.8,100.5 830.8,100.6 833.8,100.6 836.8,100.6 839.8,100.7 842.8,100.7 845.8,100.7 848.8,100.7 851.8,100.7 854.8,100.7 857.8,100.7 860.8,100.7 863.8,100.7 866.8,100.7 869.8,100.7 872.8,100.7 875.8,100.7 878.8,100.7 881.8,100.7 884.8,100.7 887.8,100.7 890.8,100.7 893.8,100.7 896.8,100.7 899.8,100.7 902.8,100.7 905.8,100.7 908.8,100.7 911.8,100.7 914.8,100.7 917.8,100.7 920.8,100.6 923.8,100.3 926.8,100.0 929.8,99.7 932.8,99.4 935.8,99.1 938.8,98.7 941.8,98.4 944.8,98.1 947.8,97.8 950.8,97.5 953.8,97.2 956.8,96.9 959.8,96.6 962.8,96.2 965.8,95.9 968.8,95.5 971.8,95.0 974.8,94.5 977.8,93.9 980.8,93.4 983.8,92.9 986.8,92.3 989.8,91.7 992.8,91.0 995.8,90.4 998.8,89.8 1001.8,88.8 1004.8,87.7 1007.8,86.6 1010.8,85.5 1013.8,83.4 1016.8,80.8 1019.8,76.8 1022.8,72.8 1025.8,68.4 1028.8,63.3 1031.8,60.2 1034.8,59.2 1037.8,59.5 1040.8,61.6 1043.8,65.0 1046.8,70.3 1049.8,76.2 1052.8,81.2 1055.8,83.3 1058.8,85.4 1061.8,87.1 1064.8,88.5 1067.8,89.8 1070.8,91.0 1073.8,91.8 1076.8,92.5 1079.8,93.3 1082.8,94.0 1085.8,94.8 1088.8,95.5 1091.8,96.2 1094.8,96.9 1097.8,97.7" fill="none" stroke="#ff0000" stroke-width="2.3" stroke-dasharray="8 7.6"/></g>
<line x1="506.60" y1="26.30" x2="506.60" y2="419.90" stroke="#2b2bff" stroke-width="1.5" stroke-dasharray="8 7.6" stroke-dashoffset="4.6"/>
<line x1="1042.50" y1="26.30" x2="1042.50" y2="419.90" stroke="#2b2bff" stroke-width="1.5" stroke-dasharray="8 7.6" stroke-dashoffset="4.6"/>
<line x1="59.80" y1="283.90" x2="1097.90" y2="283.90" stroke="#4545ff" stroke-width="1.4" stroke-dasharray="7.8 7.8"/>
<line x1="655.70" y1="285.50" x2="655.70" y2="419.90" stroke="#ff2020" stroke-width="1.5" stroke-dasharray="1.6 2.4"/>
<line x1="668.70" y1="285.50" x2="668.70" y2="419.90" stroke="#111" stroke-width="1.5" stroke-dasharray="1.6 2.4"/>
<rect x="59.8" y="26.3" width="1038.1" height="393.6" fill="none" stroke="#555" stroke-width="1.3"/>
<line x1="59.80" y1="202.30" x2="1097.90" y2="202.30" stroke="#555" stroke-width="1.3"/>
<line x1="59.80" y1="202.30" x2="80.30" y2="202.30" stroke="#555" stroke-width="1.1"/>
<line x1="1097.90" y1="202.30" x2="1077.40" y2="202.30" stroke="#555" stroke-width="1.1"/>
<line x1="59.80" y1="197.80" x2="69.80" y2="197.80" stroke="#555" stroke-width="1.1"/>
<line x1="1097.90" y1="197.80" x2="1087.90" y2="197.80" stroke="#555" stroke-width="1.1"/>
<line x1="59.80" y1="193.30" x2="69.80" y2="193.30" stroke="#555" stroke-width="1.1"/>
<line x1="1097.90" y1="193.30" x2="1087.90" y2="193.30" stroke="#555" stroke-width="1.1"/>
<line x1="59.80" y1="188.80" x2="69.80" y2="188.80" stroke="#555" stroke-width="1.1"/>
<line x1="1097.90" y1="188.80" x2="1087.90" y2="188.80" stroke="#555" stroke-width="1.1"/>
<line x1="59.80" y1="184.30" x2="69.80" y2="184.30" stroke="#555" stroke-width="1.1"/>
<line x1="1097.90" y1="184.30" x2="1087.90" y2="184.30" stroke="#555" stroke-width="1.1"/>
<line x1="59.80" y1="179.80" x2="69.80" y2="179.80" stroke="#555" stroke-width="1.1"/>
<line x1="1097.90" y1="179.80" x2="1087.90" y2="179.80" stroke="#555" stroke-width="1.1"/>
<line x1="59.80" y1="175.30" x2="69.80" y2="175.30" stroke="#555" stroke-width="1.1"/>
<line x1="1097.90" y1="175.30" x2="1087.90" y2="175.30" stroke="#555" stroke-width="1.1"/>
<line x1="59.80" y1="170.80" x2="69.80" y2="170.80" stroke="#555" stroke-width="1.1"/>
<line x1="1097.90" y1="170.80" x2="1087.90" y2="170.80" stroke="#555" stroke-width="1.1"/>
<line x1="59.80" y1="166.30" x2="69.80" y2="166.30" stroke="#555" stroke-width="1.1"/>
<line x1="1097.90" y1="166.30" x2="1087.90" y2="166.30" stroke="#555" stroke-width="1.1"/>
<line x1="59.80" y1="161.80" x2="69.80" y2="161.80" stroke="#555" stroke-width="1.1"/>
<line x1="1097.90" y1="161.80" x2="1087.90" y2="161.80" stroke="#555" stroke-width="1.1"/>
<line x1="59.80" y1="157.30" x2="80.30" y2="157.30" stroke="#555" stroke-width="1.1"/>
<line x1="1097.90" y1="157.30" x2="1077.40" y2="157.30" stroke="#555" stroke-width="1.1"/>
<line x1="59.80" y1="152.80" x2="69.80" y2="152.80" stroke="#555" stroke-width="1.1"/>
<line x1="1097.90" y1="152.80" x2="1087.90" y2="152.80" stroke="#555" stroke-width="1.1"/>
<line x1="59.80" y1="148.30" x2="69.80" y2="148.30" stroke="#555" stroke-width="1.1"/>
<line x1="1097.90" y1="148.30" x2="1087.90" y2="148.30" stroke="#555" stroke-width="1.1"/>
<line x1="59.80" y1="143.80" x2="69.80" y2="143.80" stroke="#555" stroke-width="1.1"/>
<line x1="1097.90" y1="143.80" x2="1087.90" y2="143.80" stroke="#555" stroke-width="1.1"/>
<line x1="59.80" y1="139.30" x2="69.80" y2="139.30" stroke="#555" stroke-width="1.1"/>
<line x1="1097.90" y1="139.30" x2="1087.90" y2="139.30" stroke="#555" stroke-width="1.1"/>
<line x1="59.80" y1="134.80" x2="69.80" y2="134.80" stroke="#555" stroke-width="1.1"/>
<line x1="1097.90" y1="134.80" x2="1087.90" y2="134.80" stroke="#555" stroke-width="1.1"/>
<line x1="59.80" y1="130.30" x2="69.80" y2="130.30" stroke="#555" stroke-width="1.1"/>
<line x1="1097.90" y1="130.30" x2="1087.90" y2="130.30" stroke="#555" stroke-width="1.1"/>
<line x1="59.80" y1="125.80" x2="69.80" y2="125.80" stroke="#555" stroke-width="1.1"/>
<line x1="1097.90" y1="125.80" x2="1087.90" y2="125.80" stroke="#555" stroke-width="1.1"/>
<line x1="59.80" y1="121.30" x2="69.80" y2="121.30" stroke="#555" stroke-width="1.1"/>
<line x1="1097.90" y1="121.30" x2="1087.90" y2="121.30" stroke="#555" stroke-width="1.1"/>
<line x1="59.80" y1="116.80" x2="69.80" y2="116.80" stroke="#555" stroke-width="1.1"/>
<line x1="1097.90" y1="116.80" x2="1087.90" y2="116.80" stroke="#555" stroke-width="1.1"/>
<line x1="59.80" y1="112.30" x2="80.30" y2="112.30" stroke="#555" stroke-width="1.1"/>
<line x1="1097.90" y1="112.30" x2="1077.40" y2="112.30" stroke="#555" stroke-width="1.1"/>
<line x1="59.80" y1="107.80" x2="69.80" y2="107.80" stroke="#555" stroke-width="1.1"/>
<line x1="1097.90" y1="107.80" x2="1087.90" y2="107.80" stroke="#555" stroke-width="1.1"/>
<line x1="59.80" y1="103.30" x2="69.80" y2="103.30" stroke="#555" stroke-width="1.1"/>
<line x1="1097.90" y1="103.30" x2="1087.90" y2="103.30" stroke="#555" stroke-width="1.1"/>
<line x1="59.80" y1="98.80" x2="69.80" y2="98.80" stroke="#555" stroke-width="1.1"/>
<line x1="1097.90" y1="98.80" x2="1087.90" y2="98.80" stroke="#555" stroke-width="1.1"/>
<line x1="59.80" y1="94.30" x2="69.80" y2="94.30" stroke="#555" stroke-width="1.1"/>
<line x1="1097.90" y1="94.30" x2="1087.90" y2="94.30" stroke="#555" stroke-width="1.1"/>
<line x1="59.80" y1="89.80" x2="69.80" y2="89.80" stroke="#555" stroke-width="1.1"/>
<line x1="1097.90" y1="89.80" x2="1087.90" y2="89.80" stroke="#555" stroke-width="1.1"/>
<line x1="59.80" y1="85.30" x2="69.80" y2="85.30" stroke="#555" stroke-width="1.1"/>
<line x1="1097.90" y1="85.30" x2="1087.90" y2="85.30" stroke="#555" stroke-width="1.1"/>
<line x1="59.80" y1="80.80" x2="69.80" y2="80.80" stroke="#555" stroke-width="1.1"/>
<line x1="1097.90" y1="80.80" x2="1087.90" y2="80.80" stroke="#555" stroke-width="1.1"/>
<line x1="59.80" y1="76.30" x2="69.80" y2="76.30" stroke="#555" stroke-width="1.1"/>
<line x1="1097.90" y1="76.30" x2="1087.90" y2="76.30" stroke="#555" stroke-width="1.1"/>
<line x1="59.80" y1="71.80" x2="69.80" y2="71.80" stroke="#555" stroke-width="1.1"/>
<line x1="1097.90" y1="71.80" x2="1087.90" y2="71.80" stroke="#555" stroke-width="1.1"/>
<line x1="59.80" y1="67.30" x2="80.30" y2="67.30" stroke="#555" stroke-width="1.1"/>
<line x1="1097.90" y1="67.30" x2="1077.40" y2="67.30" stroke="#555" stroke-width="1.1"/>
<line x1="59.80" y1="62.80" x2="69.80" y2="62.80" stroke="#555" stroke-width="1.1"/>
<line x1="1097.90" y1="62.80" x2="1087.90" y2="62.80" stroke="#555" stroke-width="1.1"/>
<line x1="59.80" y1="58.30" x2="69.80" y2="58.30" stroke="#555" stroke-width="1.1"/>
<line x1="1097.90" y1="58.30" x2="1087.90" y2="58.30" stroke="#555" stroke-width="1.1"/>
<line x1="59.80" y1="53.80" x2="69.80" y2="53.80" stroke="#555" stroke-width="1.1"/>
<line x1="1097.90" y1="53.80" x2="1087.90" y2="53.80" stroke="#555" stroke-width="1.1"/>
<line x1="59.80" y1="49.30" x2="69.80" y2="49.30" stroke="#555" stroke-width="1.1"/>
<line x1="1097.90" y1="49.30" x2="1087.90" y2="49.30" stroke="#555" stroke-width="1.1"/>
<line x1="59.80" y1="44.80" x2="69.80" y2="44.80" stroke="#555" stroke-width="1.1"/>
<line x1="1097.90" y1="44.80" x2="1087.90" y2="44.80" stroke="#555" stroke-width="1.1"/>
<line x1="59.80" y1="40.30" x2="69.80" y2="40.30" stroke="#555" stroke-width="1.1"/>
<line x1="1097.90" y1="40.30" x2="1087.90" y2="40.30" stroke="#555" stroke-width="1.1"/>
<line x1="59.80" y1="35.80" x2="69.80" y2="35.80" stroke="#555" stroke-width="1.1"/>
<line x1="1097.90" y1="35.80" x2="1087.90" y2="35.80" stroke="#555" stroke-width="1.1"/>
<line x1="59.80" y1="31.30" x2="69.80" y2="31.30" stroke="#555" stroke-width="1.1"/>
<line x1="1097.90" y1="31.30" x2="1087.90" y2="31.30" stroke="#555" stroke-width="1.1"/>
<line x1="59.80" y1="26.80" x2="69.80" y2="26.80" stroke="#555" stroke-width="1.1"/>
<line x1="1097.90" y1="26.80" x2="1087.90" y2="26.80" stroke="#555" stroke-width="1.1"/>
<text x="54.1" y="202.8" font-size="15" fill="#3c3c3c" text-anchor="end" textLength="7.5" lengthAdjust="spacingAndGlyphs">0</text>
<text x="54.1" y="163.3" font-size="15" fill="#3c3c3c" text-anchor="end" textLength="16.7" lengthAdjust="spacingAndGlyphs">10</text>
<text x="54.1" y="118.3" font-size="15" fill="#3c3c3c" text-anchor="end" textLength="16.7" lengthAdjust="spacingAndGlyphs">20</text>
<text x="54.1" y="73.3" font-size="15" fill="#3c3c3c" text-anchor="end" textLength="16.7" lengthAdjust="spacingAndGlyphs">30</text>
<line x1="59.80" y1="406.30" x2="69.80" y2="406.30" stroke="#555" stroke-width="1.1"/>
<line x1="1097.90" y1="406.30" x2="1087.90" y2="406.30" stroke="#555" stroke-width="1.1"/>
<line x1="59.80" y1="392.70" x2="69.80" y2="392.70" stroke="#555" stroke-width="1.1"/>
<line x1="1097.90" y1="392.70" x2="1087.90" y2="392.70" stroke="#555" stroke-width="1.1"/>
<line x1="59.80" y1="379.10" x2="69.80" y2="379.10" stroke="#555" stroke-width="1.1"/>
<line x1="1097.90" y1="379.10" x2="1087.90" y2="379.10" stroke="#555" stroke-width="1.1"/>
<line x1="59.80" y1="365.50" x2="69.80" y2="365.50" stroke="#555" stroke-width="1.1"/>
<line x1="1097.90" y1="365.50" x2="1087.90" y2="365.50" stroke="#555" stroke-width="1.1"/>
<line x1="59.80" y1="351.90" x2="80.30" y2="351.90" stroke="#555" stroke-width="1.1"/>
<line x1="1097.90" y1="351.90" x2="1077.40" y2="351.90" stroke="#555" stroke-width="1.1"/>
<line x1="59.80" y1="338.30" x2="69.80" y2="338.30" stroke="#555" stroke-width="1.1"/>
<line x1="1097.90" y1="338.30" x2="1087.90" y2="338.30" stroke="#555" stroke-width="1.1"/>
<line x1="59.80" y1="324.70" x2="69.80" y2="324.70" stroke="#555" stroke-width="1.1"/>
<line x1="1097.90" y1="324.70" x2="1087.90" y2="324.70" stroke="#555" stroke-width="1.1"/>
<line x1="59.80" y1="311.10" x2="69.80" y2="311.10" stroke="#555" stroke-width="1.1"/>
<line x1="1097.90" y1="311.10" x2="1087.90" y2="311.10" stroke="#555" stroke-width="1.1"/>
<line x1="59.80" y1="297.50" x2="69.80" y2="297.50" stroke="#555" stroke-width="1.1"/>
<line x1="1097.90" y1="297.50" x2="1087.90" y2="297.50" stroke="#555" stroke-width="1.1"/>
<line x1="59.80" y1="283.90" x2="80.30" y2="283.90" stroke="#555" stroke-width="1.1"/>
<line x1="1097.90" y1="283.90" x2="1077.40" y2="283.90" stroke="#555" stroke-width="1.1"/>
<line x1="59.80" y1="270.30" x2="69.80" y2="270.30" stroke="#555" stroke-width="1.1"/>
<line x1="1097.90" y1="270.30" x2="1087.90" y2="270.30" stroke="#555" stroke-width="1.1"/>
<line x1="59.80" y1="256.70" x2="69.80" y2="256.70" stroke="#555" stroke-width="1.1"/>
<line x1="1097.90" y1="256.70" x2="1087.90" y2="256.70" stroke="#555" stroke-width="1.1"/>
<line x1="59.80" y1="243.10" x2="69.80" y2="243.10" stroke="#555" stroke-width="1.1"/>
<line x1="1097.90" y1="243.10" x2="1087.90" y2="243.10" stroke="#555" stroke-width="1.1"/>
<line x1="59.80" y1="229.50" x2="69.80" y2="229.50" stroke="#555" stroke-width="1.1"/>
<line x1="1097.90" y1="229.50" x2="1087.90" y2="229.50" stroke="#555" stroke-width="1.1"/>
<line x1="59.80" y1="215.90" x2="80.30" y2="215.90" stroke="#555" stroke-width="1.1"/>
<line x1="1097.90" y1="215.90" x2="1077.40" y2="215.90" stroke="#555" stroke-width="1.1"/>
<text x="54.1" y="420.4" font-size="15" fill="#3c3c3c" text-anchor="end" textLength="20.0" lengthAdjust="spacingAndGlyphs">0.0</text>
<text x="54.1" y="357.9" font-size="15" fill="#3c3c3c" text-anchor="end" textLength="20.0" lengthAdjust="spacingAndGlyphs">0.5</text>
<text x="54.1" y="289.9" font-size="15" fill="#3c3c3c" text-anchor="end" textLength="20.0" lengthAdjust="spacingAndGlyphs">1.0</text>
<text x="54.1" y="221.9" font-size="15" fill="#3c3c3c" text-anchor="end" textLength="20.0" lengthAdjust="spacingAndGlyphs">1.5</text>
<line x1="77.70" y1="202.30" x2="77.70" y2="198.30" stroke="#555" stroke-width="1.1"/>
<line x1="77.70" y1="419.90" x2="77.70" y2="423.40" stroke="#555" stroke-width="1.1"/>
<line x1="113.49" y1="202.30" x2="113.49" y2="198.30" stroke="#555" stroke-width="1.1"/>
<line x1="113.49" y1="419.90" x2="113.49" y2="423.40" stroke="#555" stroke-width="1.1"/>
<line x1="149.29" y1="202.30" x2="149.29" y2="195.30" stroke="#555" stroke-width="1.1"/>
<line x1="149.29" y1="419.90" x2="149.29" y2="426.40" stroke="#555" stroke-width="1.1"/>
<text x="149.3" y="447.7" font-size="15" fill="#3c3c3c" text-anchor="middle" textLength="34.4" lengthAdjust="spacingAndGlyphs">1300</text>
<line x1="185.09" y1="202.30" x2="185.09" y2="198.30" stroke="#555" stroke-width="1.1"/>
<line x1="185.09" y1="419.90" x2="185.09" y2="423.40" stroke="#555" stroke-width="1.1"/>
<line x1="220.88" y1="202.30" x2="220.88" y2="198.30" stroke="#555" stroke-width="1.1"/>
<line x1="220.88" y1="419.90" x2="220.88" y2="423.40" stroke="#555" stroke-width="1.1"/>
<line x1="256.68" y1="202.30" x2="256.68" y2="198.30" stroke="#555" stroke-width="1.1"/>
<line x1="256.68" y1="419.90" x2="256.68" y2="423.40" stroke="#555" stroke-width="1.1"/>
<line x1="292.48" y1="202.30" x2="292.48" y2="198.30" stroke="#555" stroke-width="1.1"/>
<line x1="292.48" y1="419.90" x2="292.48" y2="423.40" stroke="#555" stroke-width="1.1"/>
<line x1="328.27" y1="202.30" x2="328.27" y2="195.30" stroke="#555" stroke-width="1.1"/>
<line x1="328.27" y1="419.90" x2="328.27" y2="426.40" stroke="#555" stroke-width="1.1"/>
<text x="328.3" y="447.7" font-size="15" fill="#3c3c3c" text-anchor="middle" textLength="34.4" lengthAdjust="spacingAndGlyphs">1350</text>
<line x1="364.07" y1="202.30" x2="364.07" y2="198.30" stroke="#555" stroke-width="1.1"/>
<line x1="364.07" y1="419.90" x2="364.07" y2="423.40" stroke="#555" stroke-width="1.1"/>
<line x1="399.87" y1="202.30" x2="399.87" y2="198.30" stroke="#555" stroke-width="1.1"/>
<line x1="399.87" y1="419.90" x2="399.87" y2="423.40" stroke="#555" stroke-width="1.1"/>
<line x1="435.66" y1="202.30" x2="435.66" y2="198.30" stroke="#555" stroke-width="1.1"/>
<line x1="435.66" y1="419.90" x2="435.66" y2="423.40" stroke="#555" stroke-width="1.1"/>
<line x1="471.46" y1="202.30" x2="471.46" y2="198.30" stroke="#555" stroke-width="1.1"/>
<line x1="471.46" y1="419.90" x2="471.46" y2="423.40" stroke="#555" stroke-width="1.1"/>
<line x1="507.26" y1="202.30" x2="507.26" y2="195.30" stroke="#555" stroke-width="1.1"/>
<line x1="507.26" y1="419.90" x2="507.26" y2="426.40" stroke="#555" stroke-width="1.1"/>
<text x="507.3" y="447.7" font-size="15" fill="#3c3c3c" text-anchor="middle" textLength="34.4" lengthAdjust="spacingAndGlyphs">1400</text>
<line x1="543.05" y1="202.30" x2="543.05" y2="198.30" stroke="#555" stroke-width="1.1"/>
<line x1="543.05" y1="419.90" x2="543.05" y2="423.40" stroke="#555" stroke-width="1.1"/>
<line x1="578.85" y1="202.30" x2="578.85" y2="198.30" stroke="#555" stroke-width="1.1"/>
<line x1="578.85" y1="419.90" x2="578.85" y2="423.40" stroke="#555" stroke-width="1.1"/>
<line x1="614.65" y1="202.30" x2="614.65" y2="198.30" stroke="#555" stroke-width="1.1"/>
<line x1="614.65" y1="419.90" x2="614.65" y2="423.40" stroke="#555" stroke-width="1.1"/>
<line x1="650.44" y1="202.30" x2="650.44" y2="198.30" stroke="#555" stroke-width="1.1"/>
<line x1="650.44" y1="419.90" x2="650.44" y2="423.40" stroke="#555" stroke-width="1.1"/>
<line x1="686.24" y1="202.30" x2="686.24" y2="195.30" stroke="#555" stroke-width="1.1"/>
<line x1="686.24" y1="419.90" x2="686.24" y2="426.40" stroke="#555" stroke-width="1.1"/>
<text x="686.2" y="447.7" font-size="15" fill="#3c3c3c" text-anchor="middle" textLength="34.4" lengthAdjust="spacingAndGlyphs">1450</text>
<line x1="722.04" y1="202.30" x2="722.04" y2="198.30" stroke="#555" stroke-width="1.1"/>
<line x1="722.04" y1="419.90" x2="722.04" y2="423.40" stroke="#555" stroke-width="1.1"/>
<line x1="757.83" y1="202.30" x2="757.83" y2="198.30" stroke="#555" stroke-width="1.1"/>
<line x1="757.83" y1="419.90" x2="757.83" y2="423.40" stroke="#555" stroke-width="1.1"/>
<line x1="793.63" y1="202.30" x2="793.63" y2="198.30" stroke="#555" stroke-width="1.1"/>
<line x1="793.63" y1="419.90" x2="793.63" y2="423.40" stroke="#555" stroke-width="1.1"/>
<line x1="829.43" y1="202.30" x2="829.43" y2="198.30" stroke="#555" stroke-width="1.1"/>
<line x1="829.43" y1="419.90" x2="829.43" y2="423.40" stroke="#555" stroke-width="1.1"/>
<line x1="865.22" y1="202.30" x2="865.22" y2="195.30" stroke="#555" stroke-width="1.1"/>
<line x1="865.22" y1="419.90" x2="865.22" y2="426.40" stroke="#555" stroke-width="1.1"/>
<text x="865.2" y="447.7" font-size="15" fill="#3c3c3c" text-anchor="middle" textLength="34.4" lengthAdjust="spacingAndGlyphs">1500</text>
<line x1="901.02" y1="202.30" x2="901.02" y2="198.30" stroke="#555" stroke-width="1.1"/>
<line x1="901.02" y1="419.90" x2="901.02" y2="423.40" stroke="#555" stroke-width="1.1"/>
<line x1="936.82" y1="202.30" x2="936.82" y2="198.30" stroke="#555" stroke-width="1.1"/>
<line x1="936.82" y1="419.90" x2="936.82" y2="423.40" stroke="#555" stroke-width="1.1"/>
<line x1="972.61" y1="202.30" x2="972.61" y2="198.30" stroke="#555" stroke-width="1.1"/>
<line x1="972.61" y1="419.90" x2="972.61" y2="423.40" stroke="#555" stroke-width="1.1"/>
<line x1="1008.41" y1="202.30" x2="1008.41" y2="198.30" stroke="#555" stroke-width="1.1"/>
<line x1="1008.41" y1="419.90" x2="1008.41" y2="423.40" stroke="#555" stroke-width="1.1"/>
<line x1="1044.21" y1="202.30" x2="1044.21" y2="195.30" stroke="#555" stroke-width="1.1"/>
<line x1="1044.21" y1="419.90" x2="1044.21" y2="426.40" stroke="#555" stroke-width="1.1"/>
<text x="1044.2" y="447.7" font-size="15" fill="#3c3c3c" text-anchor="middle" textLength="34.4" lengthAdjust="spacingAndGlyphs">1550</text>
<line x1="1080.00" y1="202.30" x2="1080.00" y2="198.30" stroke="#555" stroke-width="1.1"/>
<line x1="1080.00" y1="419.90" x2="1080.00" y2="423.40" stroke="#555" stroke-width="1.1"/>
<line x1="100.29" y1="26.30" x2="100.29" y2="29.10" stroke="#555" stroke-width="1.0"/>
<text x="98.8" y="41.5" font-size="13" fill="#3c3c3c" text-anchor="middle" textLength="23.3" lengthAdjust="spacingAndGlyphs">−24</text>
<line x1="131.29" y1="26.30" x2="131.29" y2="29.10" stroke="#555" stroke-width="1.0"/>
<text x="129.8" y="41.5" font-size="13" fill="#3c3c3c" text-anchor="middle" textLength="23.3" lengthAdjust="spacingAndGlyphs">−22</text>
<line x1="162.47" y1="26.30" x2="162.47" y2="29.10" stroke="#555" stroke-width="1.0"/>
<text x="161.0" y="41.5" font-size="13" fill="#3c3c3c" text-anchor="middle" textLength="23.3" lengthAdjust="spacingAndGlyphs">−20</text>
<line x1="193.84" y1="26.30" x2="193.84" y2="29.10" stroke="#555" stroke-width="1.0"/>
<text x="192.3" y="41.5" font-size="13" fill="#3c3c3c" text-anchor="middle" textLength="23.3" lengthAdjust="spacingAndGlyphs">−18</text>
<line x1="225.39" y1="26.30" x2="225.39" y2="29.10" stroke="#555" stroke-width="1.0"/>
<text x="223.9" y="41.5" font-size="13" fill="#3c3c3c" text-anchor="middle" textLength="23.3" lengthAdjust="spacingAndGlyphs">−16</text>
<line x1="257.12" y1="26.30" x2="257.12" y2="29.10" stroke="#555" stroke-width="1.0"/>
<text x="255.6" y="41.5" font-size="13" fill="#3c3c3c" text-anchor="middle" textLength="23.3" lengthAdjust="spacingAndGlyphs">−14</text>
<line x1="289.06" y1="26.30" x2="289.06" y2="29.10" stroke="#555" stroke-width="1.0"/>
<text x="287.6" y="41.5" font-size="13" fill="#3c3c3c" text-anchor="middle" textLength="23.3" lengthAdjust="spacingAndGlyphs">−12</text>
<line x1="321.18" y1="26.30" x2="321.18" y2="29.10" stroke="#555" stroke-width="1.0"/>
<text x="319.7" y="41.5" font-size="13" fill="#3c3c3c" text-anchor="middle" textLength="23.3" lengthAdjust="spacingAndGlyphs">−10</text>
<line x1="353.51" y1="26.30" x2="353.51" y2="29.10" stroke="#555" stroke-width="1.0"/>
<text x="355.2" y="41.5" font-size="13" fill="#3c3c3c" text-anchor="middle" textLength="15.8" lengthAdjust="spacingAndGlyphs">−8</text>
<line x1="386.05" y1="26.30" x2="386.05" y2="29.10" stroke="#555" stroke-width="1.0"/>
<text x="387.7" y="41.5" font-size="13" fill="#3c3c3c" text-anchor="middle" textLength="15.8" lengthAdjust="spacingAndGlyphs">−6</text>
<line x1="418.79" y1="26.30" x2="418.79" y2="29.10" stroke="#555" stroke-width="1.0"/>
<text x="420.5" y="41.5" font-size="13" fill="#3c3c3c" text-anchor="middle" textLength="15.8" lengthAdjust="spacingAndGlyphs">−4</text>
<line x1="451.75" y1="26.30" x2="451.75" y2="29.10" stroke="#555" stroke-width="1.0"/>
<text x="453.4" y="41.5" font-size="13" fill="#3c3c3c" text-anchor="middle" textLength="15.8" lengthAdjust="spacingAndGlyphs">−2</text>
<line x1="484.92" y1="26.30" x2="484.92" y2="29.10" stroke="#555" stroke-width="1.0"/>
<text x="485.3" y="41.5" font-size="13" fill="#3c3c3c" text-anchor="middle" textLength="6.4" lengthAdjust="spacingAndGlyphs">0</text>
<line x1="576.26" y1="26.30" x2="576.26" y2="29.10" stroke="#555" stroke-width="1.0"/>
<text x="574.8" y="41.5" font-size="13" fill="#3c3c3c" text-anchor="middle" textLength="23.3" lengthAdjust="spacingAndGlyphs">−26</text>
<line x1="610.51" y1="26.30" x2="610.51" y2="29.10" stroke="#555" stroke-width="1.0"/>
<text x="609.0" y="41.5" font-size="13" fill="#3c3c3c" text-anchor="middle" textLength="23.3" lengthAdjust="spacingAndGlyphs">−24</text>
<line x1="644.95" y1="26.30" x2="644.95" y2="29.10" stroke="#555" stroke-width="1.0"/>
<text x="643.4" y="41.5" font-size="13" fill="#3c3c3c" text-anchor="middle" textLength="23.3" lengthAdjust="spacingAndGlyphs">−22</text>
<line x1="679.59" y1="26.30" x2="679.59" y2="29.10" stroke="#555" stroke-width="1.0"/>
<text x="678.1" y="41.5" font-size="13" fill="#3c3c3c" text-anchor="middle" textLength="23.3" lengthAdjust="spacingAndGlyphs">−20</text>
<line x1="714.43" y1="26.30" x2="714.43" y2="29.10" stroke="#555" stroke-width="1.0"/>
<text x="712.9" y="41.5" font-size="13" fill="#3c3c3c" text-anchor="middle" textLength="23.3" lengthAdjust="spacingAndGlyphs">−18</text>
<line x1="749.47" y1="26.30" x2="749.47" y2="29.10" stroke="#555" stroke-width="1.0"/>
<text x="748.0" y="41.5" font-size="13" fill="#3c3c3c" text-anchor="middle" textLength="23.3" lengthAdjust="spacingAndGlyphs">−16</text>
<line x1="784.73" y1="26.30" x2="784.73" y2="29.10" stroke="#555" stroke-width="1.0"/>
<text x="783.2" y="41.5" font-size="13" fill="#3c3c3c" text-anchor="middle" textLength="23.3" lengthAdjust="spacingAndGlyphs">−14</text>
<line x1="820.19" y1="26.30" x2="820.19" y2="29.10" stroke="#555" stroke-width="1.0"/>
<text x="818.7" y="41.5" font-size="13" fill="#3c3c3c" text-anchor="middle" textLength="23.3" lengthAdjust="spacingAndGlyphs">−12</text>
<line x1="855.88" y1="26.30" x2="855.88" y2="29.10" stroke="#555" stroke-width="1.0"/>
<text x="854.4" y="41.5" font-size="13" fill="#3c3c3c" text-anchor="middle" textLength="23.3" lengthAdjust="spacingAndGlyphs">−10</text>
<line x1="891.79" y1="26.30" x2="891.79" y2="29.10" stroke="#555" stroke-width="1.0"/>
<text x="893.5" y="41.5" font-size="13" fill="#3c3c3c" text-anchor="middle" textLength="15.8" lengthAdjust="spacingAndGlyphs">−8</text>
<line x1="927.93" y1="26.30" x2="927.93" y2="29.10" stroke="#555" stroke-width="1.0"/>
<text x="929.6" y="41.5" font-size="13" fill="#3c3c3c" text-anchor="middle" textLength="15.8" lengthAdjust="spacingAndGlyphs">−6</text>
<line x1="964.30" y1="26.30" x2="964.30" y2="29.10" stroke="#555" stroke-width="1.0"/>
<text x="966.0" y="41.5" font-size="13" fill="#3c3c3c" text-anchor="middle" textLength="15.8" lengthAdjust="spacingAndGlyphs">−4</text>
<line x1="1000.91" y1="26.30" x2="1000.91" y2="29.10" stroke="#555" stroke-width="1.0"/>
<text x="1002.6" y="41.5" font-size="13" fill="#3c3c3c" text-anchor="middle" textLength="15.8" lengthAdjust="spacingAndGlyphs">−2</text>
<line x1="1037.76" y1="26.30" x2="1037.76" y2="29.10" stroke="#555" stroke-width="1.0"/>
<text x="1038.2" y="41.5" font-size="13" fill="#3c3c3c" text-anchor="middle" textLength="6.4" lengthAdjust="spacingAndGlyphs">0</text>
<text x="510.2" y="41.5" font-size="16" fill="#ff0000" textLength="12.7" lengthAdjust="spacingAndGlyphs" stroke="#ff0000" stroke-width="0.45">Si</text>
<text x="532.3" y="41.5" font-size="16" fill="#ff0000" textLength="12.7" lengthAdjust="spacingAndGlyphs" stroke="#ff0000" stroke-width="0.45">IV</text>
<text x="1046.1" y="41.5" font-size="16" fill="#ff0000" textLength="8.8" lengthAdjust="spacingAndGlyphs" stroke="#ff0000" stroke-width="0.45">C</text>
<text x="1063.3" y="41.5" font-size="16" fill="#ff0000" textLength="13.3" lengthAdjust="spacingAndGlyphs" stroke="#ff0000" stroke-width="0.45">IV</text>
<text x="578.9" y="18.6" font-size="19.8" fill="#3c3c3c" text-anchor="middle" textLength="261.2" lengthAdjust="spacing">SDSS J115723.81+661416.0</text>
<text x="501.4" y="465.5" font-size="15.5" fill="#3c3c3c" textLength="31.7" lengthAdjust="spacingAndGlyphs">Rest</text>
<text x="543.1" y="465.5" font-size="15.5" fill="#3c3c3c" textLength="84.3" lengthAdjust="spacingAndGlyphs">wavelength</text>
<text x="636.4" y="465.5" font-size="15.5" fill="#3c3c3c" textLength="20.0" lengthAdjust="spacingAndGlyphs">(Å)</text>
<text x="24.2" y="114.3" font-size="15.2" fill="#3c3c3c" text-anchor="middle" textLength="96.9" lengthAdjust="spacing" transform="rotate(-90 24.2 114.3)" word-spacing="3">Flux Density</text>
<text x="20.3" y="311.1" font-size="15.2" fill="#3c3c3c" text-anchor="middle" textLength="128.5" lengthAdjust="spacing" transform="rotate(-90 20.3 311.1)" word-spacing="3">Normalized Flux</text>
<text x="686.2" y="55.6" font-size="13.4" fill="#111" textLength="72.6" lengthAdjust="spacingAndGlyphs" stroke="#111" stroke-width="0.38">MJD: 52316</text>
<text x="686.2" y="70.4" font-size="13.4" fill="#ff0000" textLength="72.6" lengthAdjust="spacingAndGlyphs" stroke="#ff0000" stroke-width="0.38">MJD: 56667</text>
<line x1="570.20" y1="263.00" x2="745.30" y2="263.00" stroke="#262626" stroke-width="2.0"/>
<text x="605.7" y="243.6" font-size="15" fill="#2a2a2a" textLength="53.3" lengthAdjust="spacingAndGlyphs" stroke="#2a2a2a" stroke-width="0.3">system</text>
<text x="665.4" y="243.6" font-size="15" fill="#2a2a2a" textLength="11.4" lengthAdjust="spacingAndGlyphs" stroke="#2a2a2a" stroke-width="0.3">A</text>
<text x="623.5" y="256.7" font-size="12.5" fill="#2a2a2a" textLength="12.7" lengthAdjust="spacingAndGlyphs" stroke="#2a2a2a" stroke-width="0.3">(C</text>
<text x="641.2" y="256.7" font-size="12.5" fill="#2a2a2a" textLength="16.5" lengthAdjust="spacingAndGlyphs" stroke="#2a2a2a" stroke-width="0.3">IV)</text>
<clipPath id="clipU1"><rect x="56.0" y="499.6" width="1037.8" height="175.5"/></clipPath>
<clipPath id="clipL1"><rect x="56.0" y="675.1" width="1037.8" height="218.0"/></clipPath>
<g clip-path="url(#clipU1)"><polyline points="102.0,558.7 103.5,597.3 105.0,556.7 106.5,577.0 108.0,585.8 109.5,585.9 111.0,589.2 112.5,579.2 114.0,567.0 115.5,570.8 117.0,577.1 118.5,625.4 120.0,639.9 121.5,588.1 123.0,573.4 124.5,552.6 126.0,563.0 127.5,588.8 129.0,562.2 130.5,569.1 132.0,574.6 133.5,586.5 135.0,577.1 136.5,578.9 138.0,567.0 139.5,575.8 141.0,559.2 142.5,582.8 144.0,572.0 145.5,571.7 147.0,587.3 148.5,590.9 150.0,566.0 151.5,572.6 153.0,581.3 154.5,576.0 156.0,588.5 157.5,578.2 159.0,587.7 160.5,578.8 162.0,569.8 163.5,584.8 165.0,571.5 166.5,592.7 168.0,584.3 169.5,596.5 171.0,582.3 172.5,580.5 174.0,586.0 175.5,601.1 177.0,613.2 178.5,622.0 180.0,621.0 181.5,553.2 183.0,601.0 184.5,589.7 186.0,583.4 187.5,580.3 189.0,593.2 190.5,590.1 192.0,604.0 193.5,614.6 195.0,630.4 196.5,599.6 198.0,577.1 199.5,582.9 201.0,581.7 202.5,582.1 204.0,586.9 205.5,587.6 207.0,593.4 208.5,574.9 210.0,555.7 211.5,583.6 213.0,592.1 214.5,576.4 216.0,566.7 217.5,585.2 219.0,586.6 220.5,580.1 222.0,581.5 223.5,568.6 225.0,572.4 226.5,574.9 228.0,583.8 229.5,574.5 231.0,571.2 232.5,577.2 234.0,585.6 235.5,600.8 237.0,574.6 238.5,586.5 240.0,614.9 241.5,573.2 243.0,614.9 244.5,602.3 246.0,583.9 247.5,585.8 249.0,573.4 250.5,612.0 252.0,616.5 253.5,619.6 255.0,579.7 256.5,591.3 258.0,608.3 259.5,591.7 261.0,574.2 262.5,568.5 264.0,558.8 265.5,572.9 267.0,585.6 268.5,567.9 270.0,577.4 271.5,579.4 273.0,577.1 274.5,564.0 276.0,586.8 277.5,588.1 279.0,578.1 280.5,578.2 282.0,586.0 283.5,586.7 285.0,573.7 286.5,563.7 288.0,570.3 289.5,570.6 291.0,564.8 292.5,598.4 294.0,591.1 295.5,585.2 297.0,590.3 298.5,588.2 300.0,577.2 301.5,592.2 303.0,584.4 304.5,601.9 306.0,591.2 307.5,567.4 309.0,586.8 310.5,578.0 312.0,574.1 313.5,586.4 315.0,575.5 316.5,579.2 318.0,574.3 319.5,588.0 321.0,596.2 322.5,592.0 324.0,587.2 325.5,576.2 327.0,601.4 328.5,585.7 330.0,583.6 331.5,570.6 333.0,587.5 334.5,566.4 336.0,594.1 337.5,576.3 339.0,573.0 340.5,576.4 342.0,590.3 343.5,582.7 345.0,588.8 346.5,573.1 348.0,576.2 349.5,611.8 351.0,577.6 352.5,585.3 354.0,583.7 355.5,580.9 357.0,587.2 358.5,577.3 360.0,576.9 361.5,577.2 363.0,570.4 364.5,584.2 366.0,596.3 367.5,586.4 369.0,578.1 370.5,581.2 372.0,575.7 373.5,573.4 375.0,582.6 376.5,582.5 378.0,591.2 379.5,571.1 381.0,584.0 382.5,605.9 384.0,592.4 385.5,594.7 387.0,565.9 388.5,573.6 390.0,598.1 391.5,582.5 393.0,565.2 394.5,575.1 396.0,577.8 397.5,587.6 399.0,577.2 400.5,586.9 402.0,604.3 403.5,589.7 405.0,590.1 406.5,573.4 408.0,572.1 409.5,592.9 411.0,580.3 412.5,580.8 414.0,599.7 415.5,602.0 417.0,581.8 418.5,579.1 420.0,586.3 421.5,607.7 423.0,579.9 424.5,585.3 426.0,588.2 427.5,582.3 429.0,593.6 430.5,587.7 432.0,589.2 433.5,598.7 435.0,577.2 436.5,576.9 438.0,591.9 439.5,576.9 441.0,561.7 442.5,593.2 444.0,581.0 445.5,568.9 447.0,579.8 448.5,557.3 450.0,553.6 451.5,575.1 453.0,565.2 454.5,548.7 456.0,574.2 457.5,581.6 459.0,584.5 460.5,608.2 462.0,604.1 463.5,572.4 465.0,573.5 466.5,565.0 468.0,561.9 469.5,575.8 471.0,569.0 472.5,569.5 474.0,573.8 475.5,575.4 477.0,561.8 478.5,566.8 480.0,561.0 481.5,553.0 483.0,552.7 484.5,577.3 486.0,574.2 487.5,567.0 489.0,562.5 490.5,552.8 492.0,574.8 493.5,585.0 495.0,570.1 496.5,550.5 498.0,549.2 499.5,599.8 501.0,568.6 502.5,576.2 504.0,558.5 505.5,564.0 507.0,573.8 508.5,588.1 510.0,568.5 511.5,561.5 513.0,562.8 514.5,576.1 516.0,571.8 517.5,573.1 519.0,570.2 520.5,584.2 522.0,580.5 523.5,596.0 525.0,574.7 526.5,558.5 528.0,596.2 529.5,582.7 531.0,568.4 532.5,578.8 534.0,606.0 535.5,567.4 537.0,591.8 538.5,566.6 540.0,584.8 541.5,564.9 543.0,580.1 544.5,581.0 546.0,576.0 547.5,577.3 549.0,583.3 550.5,571.3 552.0,577.0 553.5,581.1 555.0,582.7 556.5,585.0 558.0,585.3 559.5,579.8 561.0,581.6 562.5,595.6 564.0,578.0 565.5,588.0 567.0,583.0 568.5,580.1 570.0,594.9 571.5,588.6 573.0,574.4 574.5,593.4 576.0,578.2 577.5,593.9 579.0,583.5 580.5,593.7 582.0,590.5 583.5,588.8 585.0,591.1 586.5,590.5 588.0,616.8 589.5,611.4 591.0,604.2 592.5,581.3 594.0,584.7 595.5,591.2 597.0,602.1 598.5,592.4 600.0,592.8 601.5,596.5 603.0,592.8 604.5,592.7 606.0,599.5 607.5,603.3 609.0,595.8 610.5,598.2 612.0,615.7 613.5,646.1 615.0,654.0 616.5,618.1 618.0,586.0 619.5,601.4 621.0,605.2 622.5,605.3 624.0,604.0 625.5,601.6 627.0,596.7 628.5,604.8 630.0,595.6 631.5,594.6 633.0,590.3 634.5,588.6 636.0,593.7 637.5,586.1 639.0,603.0 640.5,599.1 642.0,584.9 643.5,602.5 645.0,601.1 646.5,611.4 648.0,593.7 649.5,606.1 651.0,612.4 652.5,611.8 654.0,620.5 655.5,629.5 657.0,615.4 658.5,613.1 660.0,613.8 661.5,621.7 663.0,618.0 664.5,605.1 666.0,605.7 667.5,602.9 669.0,618.5 670.5,611.5 672.0,608.4 673.5,611.6 675.0,618.5 676.5,614.6 678.0,621.4 679.5,618.2 681.0,626.7 682.5,619.7 684.0,618.1 685.5,608.6 687.0,617.9 688.5,612.6 690.0,618.9 691.5,623.8 693.0,617.3 694.5,619.5 696.0,629.1 697.5,624.5 699.0,620.2 700.5,609.4 702.0,620.9 703.5,610.1 705.0,613.8 706.5,615.6 708.0,619.1 709.5,607.4 711.0,609.3 712.5,630.5 714.0,602.0 715.5,613.4 717.0,610.9 718.5,615.7 720.0,611.5 721.5,605.2 723.0,606.3 724.5,605.7 726.0,609.7 727.5,610.3 729.0,610.1 730.5,621.4 732.0,602.5 733.5,613.7 735.0,611.0 736.5,614.1 738.0,612.0 739.5,626.2 741.0,613.1 742.5,621.2 744.0,619.5 745.5,624.0 747.0,622.4 748.5,608.9 750.0,614.0 751.5,611.1 753.0,611.1 754.5,615.2 756.0,613.1 757.5,626.8 759.0,612.9 760.5,624.3 762.0,615.4 763.5,609.3 765.0,608.6 766.5,610.0 768.0,614.5 769.5,623.6 771.0,614.4 772.5,617.7 774.0,605.4 775.5,628.6 777.0,622.0 778.5,621.7 780.0,622.6 781.5,629.0 783.0,626.1 784.5,630.2 786.0,630.3 787.5,627.7 789.0,631.4 790.5,633.8 792.0,633.2 793.5,640.5 795.0,642.3 796.5,653.1 798.0,642.0 799.5,637.5 801.0,648.3 802.5,632.1 804.0,652.1 805.5,626.2 807.0,646.7 808.5,641.0 810.0,623.2 811.5,626.7 813.0,622.9 814.5,620.8 816.0,617.6 817.5,622.5 819.0,617.7 820.5,610.6 822.0,601.2 823.5,605.5 825.0,607.9 826.5,602.4 828.0,595.6 829.5,600.4 831.0,599.4 832.5,595.4 834.0,593.1 835.5,589.3 837.0,584.6 838.5,594.3 840.0,590.2 841.5,605.5 843.0,594.3 844.5,592.3 846.0,594.9 847.5,598.7 849.0,590.7 850.5,586.8 852.0,593.6 853.5,595.4 855.0,593.6 856.5,583.8 858.0,585.2 859.5,591.3 861.0,597.1 862.5,597.6 864.0,592.2 865.5,592.0 867.0,590.9 868.5,611.1 870.0,625.8 871.5,616.5 873.0,607.3 874.5,577.0 876.0,586.7 877.5,595.3 879.0,617.1 880.5,610.7 882.0,586.4 883.5,582.2 885.0,599.7 886.5,579.5 888.0,581.6 889.5,581.8 891.0,591.2 892.5,583.3 894.0,587.8 895.5,590.9 897.0,573.4 898.5,579.9 900.0,577.5 901.5,591.3 903.0,589.3 904.5,588.1 906.0,592.5 907.5,590.3 909.0,588.3 910.5,580.6 912.0,583.2 913.5,590.6 915.0,579.8 916.5,578.0 918.0,582.1 919.5,580.4 921.0,589.6 922.5,578.1 924.0,569.7 925.5,577.6 927.0,573.3 928.5,573.7 930.0,580.4 931.5,574.1 933.0,579.8 934.5,556.4 936.0,572.5 937.5,580.0 939.0,582.3 940.5,562.9 942.0,567.8 943.5,568.7 945.0,579.3 946.5,573.7 948.0,577.4 949.5,562.1 951.0,572.0 952.5,555.6 954.0,564.2 955.5,569.2 957.0,579.4 958.5,579.8 960.0,571.0 961.5,567.6 963.0,557.2 964.5,556.5 966.0,561.4 967.5,580.7 969.0,585.7 970.5,592.8 972.0,562.7 973.5,565.2 975.0,556.1 976.5,546.5 978.0,559.4 979.5,553.4 981.0,560.4 982.5,554.4 984.0,557.3 985.5,555.9 987.0,555.1 988.5,558.4 990.0,545.0 991.5,584.0 993.0,625.9 994.5,648.7 996.0,629.4 997.5,566.4 999.0,594.9 1000.5,622.0 1002.0,610.1 1003.5,593.2 1005.0,566.8 1006.5,574.8 1008.0,629.9 1009.5,648.0 1011.0,598.4 1012.5,549.3 1014.0,522.2 1015.5,543.4 1017.0,520.9 1018.5,554.5 1020.0,544.9 1021.5,541.0 1023.0,547.9 1024.5,522.7 1026.0,540.4 1027.5,550.6 1029.0,559.3 1030.5,541.1 1032.0,545.6 1033.5,555.6 1035.0,546.1 1036.5,554.2 1038.0,546.5 1039.5,552.1 1041.0,555.0 1042.5,559.3 1044.0,553.4 1045.5,544.5 1047.0,544.7 1048.5,568.8 1050.0,569.0 1051.5,547.9 1053.0,575.9 1054.5,553.6 1056.0,570.9 1057.5,557.9 1059.0,568.7 1060.5,565.3 1062.0,551.7 1063.5,571.4 1065.0,568.8 1066.5,576.7 1068.0,571.2 1069.5,581.2 1071.0,580.0 1072.5,579.5 1074.0,578.1 1075.5,571.7 1077.0,583.8 1078.5,584.8 1080.0,587.0 1081.5,585.2 1083.0,582.1 1084.5,590.9 1086.0,590.3 1087.5,593.6 1089.0,591.9 1090.5,604.2 1092.0,592.8 1093.5,592.9" fill="none" stroke="#1a1a1a" stroke-width="0.9" stroke-linejoin="round"/><polyline points="102.0,656.2 104.0,656.4 106.0,656.4 108.0,656.7 110.0,656.5 112.0,656.6 114.0,656.7 116.0,656.9 118.0,657.0 120.0,657.2 122.0,657.0 124.0,657.0 126.0,657.3 128.0,657.7 130.0,657.6 132.0,657.1 134.0,657.6 136.0,657.5 138.0,657.7 140.0,658.0 142.0,657.9 144.0,657.9 146.0,657.7 148.0,658.1 150.0,658.0 152.0,658.3 154.0,658.5 156.0,658.2 158.0,658.4 160.0,658.7 162.0,658.3 164.0,658.5 166.0,658.5 168.0,658.7 170.0,658.9 172.0,658.9 174.0,659.4 176.0,659.3 178.0,659.3 180.0,659.5 182.0,659.8 184.0,659.4 186.0,659.5 188.0,659.7 190.0,659.9 192.0,659.3 194.0,659.8 196.0,660.5 198.0,660.0 200.0,660.5 202.0,660.7 204.0,660.4 206.0,660.8 208.0,660.4 210.0,660.1 212.0,660.4 214.0,660.9 216.0,661.3 218.0,660.9 220.0,660.5 222.0,660.9 224.0,660.6 226.0,661.1 228.0,661.5 230.0,661.0 232.0,661.1 234.0,661.3 236.0,661.4 238.0,661.7 240.0,661.7 242.0,661.8 244.0,661.5 246.0,662.1 248.0,662.1 250.0,661.8 252.0,661.9 254.0,662.0 256.0,661.8 258.0,662.7 260.0,662.5 262.0,662.5 264.0,662.8 266.0,662.6 268.0,662.6 270.0,663.0 272.0,662.6 274.0,662.7 276.0,662.6 278.0,662.9 280.0,663.4 282.0,663.1 284.0,663.6 286.0,663.2 288.0,663.5 290.0,663.3 292.0,663.7 294.0,664.1 296.0,663.7 298.0,663.5 300.0,663.9 302.0,664.1 304.0,663.9 306.0,664.5 308.0,663.9 310.0,664.4 312.0,664.7 314.0,664.5 316.0,664.8 318.0,664.7 320.0,664.6 322.0,664.6 324.0,665.2 326.0,664.5 328.0,665.0 330.0,664.8 332.0,664.9 334.0,665.3 336.0,664.9 338.0,664.8 340.0,665.4 342.0,665.4 344.0,665.2 346.0,665.0 348.0,665.0 350.0,665.3 352.0,665.3 354.0,665.4 356.0,665.4 358.0,665.3 360.0,665.5 362.0,665.3 364.0,665.4 366.0,665.3 368.0,665.5 370.0,665.2 372.0,665.4 374.0,665.2 376.0,665.6 378.0,665.4 380.0,665.4 382.0,665.4 384.0,665.4 386.0,665.4 388.0,665.7 390.0,665.7 392.0,665.8 394.0,665.5 396.0,665.7 398.0,665.2 400.0,665.9 402.0,665.5 404.0,666.0 406.0,665.9 408.0,666.3 410.0,665.9 412.0,665.7 414.0,666.3 416.0,666.2 418.0,666.1 420.0,666.3 422.0,665.9 424.0,665.4 426.0,665.9 428.0,665.9 430.0,666.2 432.0,665.9 434.0,666.2 436.0,665.9 438.0,666.4 440.0,666.3 442.0,666.0 444.0,666.5 446.0,666.5 448.0,666.3 450.0,666.1 452.0,666.3 454.0,665.3 456.0,660.2 458.0,660.3 460.0,665.3 462.0,666.0 464.0,666.3 466.0,666.1 468.0,666.4 470.0,666.4 472.0,666.6 474.0,666.3 476.0,666.5 478.0,666.2 480.0,666.8 482.0,667.0 484.0,666.5 486.0,666.7 488.0,666.8 490.0,666.6 492.0,666.8 494.0,666.5 496.0,666.7 498.0,666.7 500.0,666.6 502.0,666.4 504.0,667.0 506.0,666.8 508.0,666.6 510.0,666.6 512.0,666.8 514.0,666.6 516.0,667.0 518.0,666.9 520.0,667.0 522.0,667.2 524.0,667.0 526.0,667.1 528.0,667.3 530.0,667.1 532.0,666.5 534.0,667.3 536.0,667.1 538.0,667.2 540.0,667.5 542.0,667.1 544.0,667.3 546.0,666.7 548.0,667.5 550.0,667.2 552.0,667.2 554.0,667.2 556.0,667.4 558.0,666.9 560.0,667.7 562.0,667.4 564.0,667.3 566.0,667.7 568.0,667.6 570.0,667.5 572.0,667.2 574.0,667.7 576.0,667.5 578.0,667.3 580.0,667.5 582.0,667.6 584.0,667.4 586.0,667.8 588.0,667.5 590.0,667.8 592.0,667.7 594.0,667.8 596.0,667.5 598.0,667.7 600.0,667.9 602.0,667.8 604.0,667.6 606.0,667.8 608.0,667.7 610.0,667.7 612.0,668.0 614.0,668.1 616.0,668.1 618.0,667.9 620.0,667.6 622.0,667.7 624.0,668.0 626.0,667.8 628.0,668.1 630.0,667.7 632.0,668.0 634.0,667.5 636.0,667.7 638.0,667.9 640.0,667.9 642.0,667.9 644.0,667.6 646.0,667.9 648.0,667.8 650.0,667.7 652.0,667.9 654.0,667.7 656.0,667.7 658.0,668.3 660.0,668.0 662.0,668.2 664.0,667.8 666.0,667.8 668.0,667.6 670.0,667.6 672.0,667.6 674.0,668.0 676.0,667.7 678.0,667.7 680.0,667.8 682.0,668.1 684.0,667.8 686.0,668.1 688.0,667.7 690.0,668.1 692.0,667.9 694.0,668.1 696.0,667.7 698.0,667.9 700.0,668.0 702.0,667.8 704.0,668.1 706.0,668.0 708.0,668.1 710.0,667.9 712.0,668.0 714.0,667.7 716.0,668.2 718.0,667.7 720.0,667.9 722.0,668.0 724.0,668.1 726.0,668.1 728.0,667.6 730.0,667.8 732.0,667.9 734.0,668.0 736.0,667.8 738.0,667.9 740.0,668.1 742.0,668.1 744.0,668.2 746.0,668.2 748.0,667.8 750.0,667.9 752.0,668.1 754.0,668.2 756.0,668.0 758.0,668.3 760.0,667.9 762.0,667.2 764.0,665.1 766.0,664.1 768.0,666.0 770.0,667.7 772.0,667.9 774.0,668.0 776.0,668.5 778.0,667.9 780.0,668.5 782.0,668.0 784.0,668.4 786.0,668.1 788.0,667.9 790.0,668.2 792.0,668.2 794.0,668.2 796.0,668.0 798.0,667.9 800.0,668.2 802.0,668.1 804.0,668.0 806.0,668.2 808.0,668.5 810.0,668.5 812.0,668.3 814.0,668.5 816.0,668.7 818.0,668.6 820.0,667.9 822.0,668.1 824.0,668.4 826.0,668.5 828.0,668.0 830.0,668.8 832.0,668.2 834.0,668.1 836.0,667.9 838.0,668.5 840.0,668.6 842.0,668.5 844.0,668.4 846.0,668.4 848.0,668.4 850.0,668.8 852.0,668.5 854.0,668.6 856.0,668.0 858.0,668.0 860.0,668.6 862.0,668.5 864.0,668.5 866.0,668.4 868.0,668.5 870.0,668.3 872.0,668.6 874.0,668.1 876.0,668.5 878.0,668.3 880.0,668.2 882.0,668.4 884.0,668.4 886.0,668.4 888.0,668.8 890.0,668.2 892.0,668.3 894.0,668.5 896.0,668.5 898.0,668.6 900.0,668.7 902.0,668.6 904.0,668.3 906.0,669.0 908.0,668.6 910.0,668.5 912.0,668.5 914.0,668.3 916.0,668.4 918.0,668.5 920.0,668.6 922.0,668.7 924.0,668.3 926.0,668.7 928.0,668.3 930.0,668.8 932.0,669.1 934.0,668.3 936.0,668.7 938.0,668.8 940.0,668.5 942.0,668.9 944.0,668.3 946.0,668.5 948.0,668.7 950.0,669.0 952.0,668.5 954.0,668.3 956.0,668.8 958.0,669.0 960.0,668.8 962.0,668.5 964.0,668.3 966.0,669.3 968.0,668.7 970.0,668.3 972.0,668.3 974.0,669.0 976.0,669.0 978.0,668.7 980.0,668.6 982.0,668.9 984.0,668.9 986.0,668.8 988.0,668.4 990.0,668.8 992.0,669.3 994.0,668.5 996.0,668.6 998.0,668.6 1000.0,668.6 1002.0,669.1 1004.0,668.9 1006.0,668.5 1008.0,668.5 1010.0,668.8 1012.0,668.6 1014.0,668.9 1016.0,668.8 1018.0,668.4 1020.0,669.2 1022.0,668.6 1024.0,669.1 1026.0,668.9 1028.0,668.8 1030.0,668.3 1032.0,668.7 1034.0,669.1 1036.0,669.0 1038.0,668.6 1040.0,668.2 1042.0,668.9 1044.0,668.6 1046.0,668.8 1048.0,668.6 1050.0,669.2 1052.0,668.8 1054.0,668.9 1056.0,668.9 1058.0,668.7 1060.0,669.1 1062.0,669.0 1064.0,669.0 1066.0,668.8 1068.0,669.0 1070.0,668.7 1072.0,669.0 1074.0,668.9 1076.0,668.3 1078.0,668.6 1080.0,668.9 1082.0,669.5 1084.0,669.3 1086.0,668.8 1088.0,669.2 1090.0,668.8 1092.0,669.3" fill="none" stroke="#1a1a1a" stroke-width="0.8"/><polyline points="56.0,551.8 57.5,552.8 59.0,546.8 60.5,525.8 62.0,541.8 63.5,518.1 65.0,525.0 66.5,544.8 68.0,545.7 69.5,539.5 71.0,533.5 72.5,527.3 74.0,542.3 75.5,541.0 77.0,551.3 78.5,568.9 80.0,575.9 81.5,571.2 83.0,564.8 84.5,547.1 86.0,572.7 87.5,568.0 89.0,562.8 90.5,567.3 92.0,537.4 93.5,545.5 95.0,560.7 96.5,569.5 98.0,570.0 99.5,547.2 101.0,567.0 102.5,552.7 104.0,550.8 105.5,581.3 107.0,551.5 108.5,564.2 110.0,571.4 111.5,570.4 113.0,565.0 114.5,570.0 116.0,572.4 117.5,591.7 119.0,596.3 120.5,599.7 122.0,577.6 123.5,569.9 125.0,559.5 126.5,557.6 128.0,568.8 129.5,567.4 131.0,575.0 132.5,570.5 134.0,571.2 135.5,603.9 137.0,602.9 138.5,586.4 140.0,595.0 141.5,586.6 143.0,572.3 144.5,583.3 146.0,578.6 147.5,572.0 149.0,578.8 150.5,580.7 152.0,574.7 153.5,570.6 155.0,568.5 156.5,562.5 158.0,551.4 159.5,561.3 161.0,551.4 162.5,558.4 164.0,557.6 165.5,559.7 167.0,566.6 168.5,561.0 170.0,562.0 171.5,573.1 173.0,559.1 174.5,565.6 176.0,589.7 177.5,627.0 179.0,635.4 180.5,578.8 182.0,568.0 183.5,581.8 185.0,559.8 186.5,570.3 188.0,559.6 189.5,565.8 191.0,558.0 192.5,584.7 194.0,611.7 195.5,621.6 197.0,580.8 198.5,579.1 200.0,555.7 201.5,561.2 203.0,571.8 204.5,568.8 206.0,572.6 207.5,568.8 209.0,562.1 210.5,574.4 212.0,563.7 213.5,562.3 215.0,564.6 216.5,557.7 218.0,570.1 219.5,564.3 221.0,550.9 222.5,569.4 224.0,570.7 225.5,569.7 227.0,565.4 228.5,565.0 230.0,571.7 231.5,583.0 233.0,577.8 234.5,577.6 236.0,578.7 237.5,547.7 239.0,565.0 240.5,573.0 242.0,580.0 243.5,568.5 245.0,569.0 246.5,580.7 248.0,569.3 249.5,578.4 251.0,577.3 252.5,581.4 254.0,572.4 255.5,587.6 257.0,584.0 258.5,580.3 260.0,574.1 261.5,573.1 263.0,589.2 264.5,573.1 266.0,579.7 267.5,573.2 269.0,561.7 270.5,585.8 272.0,581.7 273.5,584.2 275.0,579.4 276.5,570.1 278.0,581.7 279.5,568.6 281.0,562.0 282.5,584.7 284.0,574.8 285.5,594.6 287.0,582.1 288.5,567.3 290.0,565.4 291.5,575.9 293.0,572.7 294.5,565.7 296.0,585.8 297.5,571.5 299.0,582.2 300.5,580.2 302.0,570.6 303.5,566.9 305.0,577.9 306.5,565.4 308.0,552.3 309.5,572.4 311.0,574.2 312.5,572.3 314.0,576.6 315.5,579.8 317.0,569.3 318.5,568.8 320.0,577.4 321.5,576.8 323.0,578.4 324.5,578.9 326.0,580.8 327.5,584.6 329.0,567.8 330.5,576.6 332.0,573.7 333.5,561.7 335.0,577.6 336.5,554.8 338.0,583.6 339.5,578.5 341.0,569.4 342.5,560.7 344.0,584.1 345.5,584.8 347.0,571.9 348.5,580.7 350.0,569.6 351.5,573.0 353.0,577.7 354.5,576.6 356.0,571.2 357.5,576.2 359.0,593.8 360.5,574.1 362.0,578.8 363.5,578.0 365.0,572.5 366.5,574.2 368.0,569.5 369.5,577.7 371.0,579.5 372.5,578.7 374.0,573.9 375.5,581.8 377.0,578.8 378.5,582.1 380.0,581.6 381.5,577.6 383.0,560.2 384.5,579.0 386.0,574.7 387.5,575.7 389.0,577.5 390.5,576.2 392.0,563.3 393.5,578.1 395.0,565.7 396.5,572.1 398.0,582.1 399.5,596.7 401.0,579.2 402.5,583.0 404.0,567.7 405.5,572.3 407.0,571.1 408.5,581.3 410.0,570.8 411.5,577.3 413.0,556.8 414.5,573.5 416.0,570.6 417.5,569.4 419.0,575.1 420.5,574.2 422.0,574.0 423.5,565.1 425.0,575.7 426.5,571.6 428.0,568.6 429.5,578.8 431.0,598.7 432.5,600.9 434.0,594.4 435.5,577.2 437.0,561.9 438.5,568.2 440.0,568.2 441.5,574.8 443.0,563.6 444.5,569.5 446.0,573.3 447.5,570.8 449.0,548.8 450.5,569.9 452.0,564.0 453.5,556.5 455.0,565.9 456.5,566.4 458.0,557.5 459.5,591.2 461.0,594.9 462.5,591.9 464.0,556.1 465.5,561.9 467.0,542.5 468.5,557.8 470.0,557.3 471.5,568.9 473.0,568.9 474.5,563.5 476.0,552.8 477.5,567.0 479.0,576.7 480.5,576.1 482.0,551.5 483.5,565.0 485.0,554.6 486.5,549.2 488.0,548.6 489.5,569.1 491.0,549.8 492.5,563.2 494.0,550.3 495.5,557.0 497.0,567.0 498.5,557.2 500.0,553.7 501.5,543.7 503.0,567.3 504.5,561.7 506.0,558.5 507.5,559.9 509.0,568.7 510.5,572.3 512.0,566.2 513.5,553.1 515.0,563.0 516.5,555.9 518.0,544.3 519.5,559.6 521.0,561.7 522.5,564.0 524.0,541.0 525.5,558.5 527.0,558.8 528.5,563.5 530.0,558.7 531.5,559.3 533.0,563.6 534.5,555.7 536.0,573.9 537.5,559.8 539.0,565.8 540.5,560.3 542.0,554.2 543.5,566.4 545.0,568.5 546.5,568.0 548.0,552.7 549.5,559.8 551.0,568.5 552.5,566.1 554.0,559.7 555.5,567.5 557.0,587.2 558.5,576.2 560.0,574.6 561.5,570.1 563.0,576.0 564.5,565.4 566.0,576.3 567.5,565.4 569.0,578.2 570.5,567.6 572.0,574.3 573.5,568.0 575.0,565.5 576.5,567.1 578.0,571.2 579.5,581.1 581.0,583.2 582.5,597.6 584.0,576.5 585.5,581.4 587.0,594.7 588.5,624.7 590.0,599.9 591.5,597.3 593.0,581.5 594.5,592.7 596.0,589.1 597.5,582.3 599.0,597.0 600.5,598.4 602.0,596.7 603.5,594.1 605.0,611.5 606.5,610.2 608.0,616.0 609.5,608.7 611.0,616.8 612.5,622.3 614.0,644.4 615.5,635.8 617.0,627.4 618.5,623.4 620.0,612.0 621.5,624.0 623.0,622.6 624.5,613.4 626.0,623.1 627.5,617.2 629.0,623.1 630.5,619.7 632.0,629.8 633.5,621.0 635.0,618.9 636.5,626.7 638.0,621.3 639.5,620.8 641.0,636.0 642.5,628.3 644.0,630.1 645.5,633.7 647.0,636.8 648.5,628.7 650.0,629.0 651.5,616.7 653.0,617.9 654.5,624.3 656.0,625.7 657.5,623.3 659.0,618.1 660.5,619.8 662.0,605.7 663.5,619.1 665.0,612.5 666.5,610.2 668.0,607.8 669.5,612.9 671.0,608.5 672.5,605.5 674.0,603.6 675.5,618.0 677.0,604.3 678.5,600.7 680.0,591.7 681.5,604.9 683.0,594.9 684.5,589.5 686.0,602.0 687.5,587.7 689.0,586.6 690.5,591.3 692.0,585.3 693.5,574.2 695.0,586.5 696.5,582.8 698.0,586.9 699.5,583.2 701.0,579.0 702.5,579.7 704.0,571.8 705.5,580.1 707.0,584.5 708.5,574.8 710.0,574.6 711.5,576.9 713.0,579.2 714.5,582.1 716.0,581.3 717.5,571.4 719.0,574.7 720.5,577.8 722.0,576.7 723.5,580.4 725.0,593.0 726.5,581.5 728.0,578.6 729.5,581.0 731.0,586.7 732.5,588.3 734.0,582.9 735.5,578.4 737.0,587.5 738.5,586.9 740.0,589.3 741.5,584.9 743.0,584.3 744.5,588.6 746.0,589.7 747.5,588.6 749.0,586.5 750.5,589.6 752.0,589.2 753.5,583.8 755.0,583.8 756.5,587.4 758.0,597.8 759.5,585.2 761.0,586.6 762.5,593.5 764.0,594.0 765.5,598.2 767.0,595.6 768.5,604.7 770.0,601.1 771.5,611.2 773.0,614.1 774.5,617.8 776.0,621.6 777.5,624.7 779.0,622.6 780.5,622.2 782.0,634.3 783.5,637.9 785.0,631.6 786.5,639.8 788.0,640.1 789.5,639.8 791.0,636.6 792.5,642.0 794.0,634.3 795.5,633.9 797.0,642.4 798.5,631.5 800.0,629.5 801.5,623.0 803.0,633.9 804.5,620.1 806.0,613.4 807.5,605.4 809.0,611.6 810.5,598.9 812.0,586.8 813.5,592.7 815.0,598.5 816.5,591.4 818.0,588.9 819.5,593.2 821.0,587.1 822.5,590.2 824.0,595.3 825.5,582.8 827.0,580.4 828.5,579.3 830.0,581.6 831.5,583.3 833.0,579.3 834.5,578.1 836.0,575.6 837.5,573.4 839.0,575.4 840.5,581.3 842.0,578.7 843.5,584.5 845.0,574.7 846.5,575.1 848.0,572.1 849.5,575.0 851.0,569.8 852.5,579.8 854.0,574.9 855.5,577.3 857.0,576.9 858.5,583.7 860.0,579.7 861.5,584.2 863.0,576.4 864.5,577.8 866.0,574.2 867.5,587.1 869.0,597.3 870.5,609.6 872.0,608.4 873.5,570.5 875.0,571.6 876.5,580.6 878.0,581.8 879.5,593.7 881.0,599.3 882.5,576.7 884.0,574.9 885.5,571.4 887.0,575.8 888.5,572.4 890.0,570.6 891.5,582.4 893.0,569.9 894.5,563.7 896.0,569.4 897.5,564.4 899.0,562.1 900.5,567.9 902.0,567.2 903.5,566.9 905.0,570.6 906.5,557.5 908.0,566.0 909.5,565.2 911.0,563.0 912.5,560.3 914.0,573.7 915.5,559.9 917.0,566.0 918.5,564.0 920.0,571.6 921.5,572.4 923.0,561.5 924.5,561.2 926.0,565.7 927.5,565.2 929.0,566.4 930.5,568.6 932.0,555.3 933.5,560.9 935.0,559.0 936.5,555.9 938.0,567.0 939.5,568.5 941.0,553.6 942.5,563.7 944.0,560.0 945.5,557.7 947.0,563.9 948.5,564.9 950.0,554.9 951.5,570.3 953.0,552.1 954.5,564.4 956.0,550.0 957.5,552.2 959.0,552.1 960.5,545.5 962.0,551.0 963.5,558.4 965.0,545.3 966.5,548.2 968.0,545.4 969.5,547.8 971.0,547.6 972.5,539.9 974.0,538.8 975.5,542.0 977.0,549.5 978.5,547.1 980.0,546.7 981.5,533.2 983.0,535.9 984.5,537.6 986.0,538.1 987.5,537.6 989.0,531.8 990.5,550.9 992.0,586.1 993.5,633.9 995.0,632.5 996.5,584.5 998.0,585.2 999.5,601.2 1001.0,598.9 1002.5,583.5 1004.0,549.9 1005.5,560.2 1007.0,590.9 1008.5,645.8 1010.0,613.6 1011.5,569.1 1013.0,525.6 1014.5,514.3 1016.0,530.7 1017.5,533.6 1019.0,531.1 1020.5,534.5 1022.0,523.6 1023.5,527.2 1025.0,533.1 1026.5,536.3 1028.0,519.0 1029.5,519.3 1031.0,532.5 1032.5,518.9 1034.0,537.8 1035.5,536.3 1037.0,525.5 1038.5,535.4 1040.0,548.3 1041.5,543.1 1043.0,552.5 1044.5,544.1 1046.0,539.6 1047.5,552.2 1049.0,526.5 1050.5,537.8 1052.0,541.7 1053.5,551.4 1055.0,548.4 1056.5,546.7 1058.0,545.7 1059.5,545.1 1061.0,564.6 1062.5,557.9 1064.0,548.2 1065.5,558.1 1067.0,556.3 1068.5,546.8 1070.0,560.0 1071.5,555.8 1073.0,560.6 1074.5,562.1 1076.0,554.2 1077.5,568.9 1079.0,561.1 1080.5,555.2 1082.0,551.6 1083.5,569.1 1085.0,571.8 1086.5,574.1 1088.0,570.8 1089.5,569.5 1091.0,570.1 1092.5,565.6" fill="none" stroke="#ff3030" stroke-width="0.9" stroke-linejoin="round"/><polyline points="56.0,663.8 58.0,663.5 60.0,663.4 62.0,663.1 64.0,663.7 66.0,663.6 68.0,663.6 70.0,663.3 72.0,663.8 74.0,664.1 76.0,663.5 78.0,663.7 80.0,664.0 82.0,664.0 84.0,664.0 86.0,664.5 88.0,664.2 90.0,664.0 92.0,663.4 94.0,664.0 96.0,663.8 98.0,663.8 100.0,664.4 102.0,663.9 104.0,664.1 106.0,664.5 108.0,664.1 110.0,664.1 112.0,664.0 114.0,664.2 116.0,664.0 118.0,664.4 120.0,664.3 122.0,664.5 124.0,664.6 126.0,664.5 128.0,664.6 130.0,664.5 132.0,664.7 134.0,664.8 136.0,664.8 138.0,665.0 140.0,664.8 142.0,664.8 144.0,664.9 146.0,664.5 148.0,664.8 150.0,664.5 152.0,665.0 154.0,665.1 156.0,664.7 158.0,664.9 160.0,664.9 162.0,665.3 164.0,665.2 166.0,665.4 168.0,665.3 170.0,665.4 172.0,664.8 174.0,664.8 176.0,665.6 178.0,665.8 180.0,665.1 182.0,665.2 184.0,665.7 186.0,665.9 188.0,665.3 190.0,665.4 192.0,665.8 194.0,665.7 196.0,665.7 198.0,665.8 200.0,665.4 202.0,665.5 204.0,666.1 206.0,665.4 208.0,666.0 210.0,665.7 212.0,666.2 214.0,665.9 216.0,665.9 218.0,666.2 220.0,666.0 222.0,666.0 224.0,665.5 226.0,666.2 228.0,666.1 230.0,666.4 232.0,666.1 234.0,666.0 236.0,666.5 238.0,666.3 240.0,666.3 242.0,666.1 244.0,666.7 246.0,666.6 248.0,666.2 250.0,666.6 252.0,666.6 254.0,666.8 256.0,666.6 258.0,667.1 260.0,666.2 262.0,666.3 264.0,666.9 266.0,666.9 268.0,666.9 270.0,667.3 272.0,666.9 274.0,666.5 276.0,667.3 278.0,667.0 280.0,666.9 282.0,667.2 284.0,667.2 286.0,667.0 288.0,667.3 290.0,667.2 292.0,667.2 294.0,667.2 296.0,666.8 298.0,667.1 300.0,667.1 302.0,667.2 304.0,667.7 306.0,667.4 308.0,667.3 310.0,667.1 312.0,667.4 314.0,667.3 316.0,667.3 318.0,667.5 320.0,667.2 322.0,667.4 324.0,667.8 326.0,667.7 328.0,667.5 330.0,667.6 332.0,667.6 334.0,668.0 336.0,668.0 338.0,668.1 340.0,667.6 342.0,667.7 344.0,667.9 346.0,667.5 348.0,667.6 350.0,667.9 352.0,667.6 354.0,667.6 356.0,667.9 358.0,667.7 360.0,667.6 362.0,667.8 364.0,667.4 366.0,667.9 368.0,667.8 370.0,667.9 372.0,667.8 374.0,667.9 376.0,667.4 378.0,667.8 380.0,668.1 382.0,667.7 384.0,667.6 386.0,667.7 388.0,667.5 390.0,668.4 392.0,667.8 394.0,668.0 396.0,667.6 398.0,667.7 400.0,667.6 402.0,667.5 404.0,667.7 406.0,668.1 408.0,667.7 410.0,668.1 412.0,668.3 414.0,668.0 416.0,668.1 418.0,668.2 420.0,667.8 422.0,667.8 424.0,667.5 426.0,667.8 428.0,668.2 430.0,668.0 432.0,667.9 434.0,667.9 436.0,667.8 438.0,667.9 440.0,668.5 442.0,668.3 444.0,668.1 446.0,668.0 448.0,667.9 450.0,668.3 452.0,667.9 454.0,668.0 456.0,668.0 458.0,668.4 460.0,668.1 462.0,668.4 464.0,667.9 466.0,667.9 468.0,667.9 470.0,668.1 472.0,667.9 474.0,668.0 476.0,668.4 478.0,668.2 480.0,668.1 482.0,668.1 484.0,667.4 486.0,667.6 488.0,668.3 490.0,667.9 492.0,667.9 494.0,668.3 496.0,667.8 498.0,668.2 500.0,668.1 502.0,668.2 504.0,668.1 506.0,668.5 508.0,668.3 510.0,668.5 512.0,668.0 514.0,668.2 516.0,668.3 518.0,668.6 520.0,668.4 522.0,668.2 524.0,667.9 526.0,668.2 528.0,667.9 530.0,668.0 532.0,668.1 534.0,668.1 536.0,668.1 538.0,668.5 540.0,668.2 542.0,668.0 544.0,668.2 546.0,667.9 548.0,668.3 550.0,668.4 552.0,668.4 554.0,668.0 556.0,668.5 558.0,668.4 560.0,668.7 562.0,668.4 564.0,668.3 566.0,668.2 568.0,668.1 570.0,668.1 572.0,668.1 574.0,668.5 576.0,668.3 578.0,668.3 580.0,668.2 582.0,668.4 584.0,668.5 586.0,668.5 588.0,668.1 590.0,668.3 592.0,668.8 594.0,668.5 596.0,668.4 598.0,668.3 600.0,668.1 602.0,668.0 604.0,668.3 606.0,668.4 608.0,668.2 610.0,668.4 612.0,668.5 614.0,668.5 616.0,668.6 618.0,668.1 620.0,668.4 622.0,668.5 624.0,668.4 626.0,668.1 628.0,668.1 630.0,668.8 632.0,668.3 634.0,668.5 636.0,668.3 638.0,668.3 640.0,668.5 642.0,668.6 644.0,668.4 646.0,668.4 648.0,668.6 650.0,668.4 652.0,668.4 654.0,668.4 656.0,668.5 658.0,668.4 660.0,668.4 662.0,668.4 664.0,668.5 666.0,668.7 668.0,668.5 670.0,668.3 672.0,669.0 674.0,668.7 676.0,668.4 678.0,668.1 680.0,668.8 682.0,668.3 684.0,668.5 686.0,668.0 688.0,668.7 690.0,668.8 692.0,668.5 694.0,668.5 696.0,668.5 698.0,668.3 700.0,668.3 702.0,668.8 704.0,668.5 706.0,668.5 708.0,668.5 710.0,668.7 712.0,668.5 714.0,668.7 716.0,668.7 718.0,668.5 720.0,668.6 722.0,668.7 724.0,668.8 726.0,668.7 728.0,668.7 730.0,668.4 732.0,668.5 734.0,668.7 736.0,668.6 738.0,668.6 740.0,668.7 742.0,669.0 744.0,668.5 746.0,668.8 748.0,668.8 750.0,668.7 752.0,668.5 754.0,668.7 756.0,668.6 758.0,668.9 760.0,668.7 762.0,668.7 764.0,668.5 766.0,669.0 768.0,668.3 770.0,669.2 772.0,668.5 774.0,668.6 776.0,668.6 778.0,668.4 780.0,668.9 782.0,668.6 784.0,668.5 786.0,668.9 788.0,668.8 790.0,668.3 792.0,668.4 794.0,668.7 796.0,668.8 798.0,668.9 800.0,668.7 802.0,669.0 804.0,669.0 806.0,668.9 808.0,668.8 810.0,669.0 812.0,669.1 814.0,668.9 816.0,668.8 818.0,669.0 820.0,668.7 822.0,668.9 824.0,669.0 826.0,668.6 828.0,668.7 830.0,668.4 832.0,668.7 834.0,669.0 836.0,668.8 838.0,669.0 840.0,668.9 842.0,668.7 844.0,669.2 846.0,668.9 848.0,669.1 850.0,669.0 852.0,668.9 854.0,669.3 856.0,668.8 858.0,668.8 860.0,669.2 862.0,669.0 864.0,668.8 866.0,668.9 868.0,668.7 870.0,669.1 872.0,669.2 874.0,669.1 876.0,669.1 878.0,669.3 880.0,669.0 882.0,668.8 884.0,668.9 886.0,669.1 888.0,669.1 890.0,669.1 892.0,668.8 894.0,669.0 896.0,669.3 898.0,669.1 900.0,669.3 902.0,669.1 904.0,669.0 906.0,669.3 908.0,669.4 910.0,669.2 912.0,669.4 914.0,669.0 916.0,668.9 918.0,668.7 920.0,669.1 922.0,669.4 924.0,669.0 926.0,668.8 928.0,669.1 930.0,669.1 932.0,669.1 934.0,668.9 936.0,669.5 938.0,669.0 940.0,669.1 942.0,668.8 944.0,669.3 946.0,669.5 948.0,669.4 950.0,668.9 952.0,669.3 954.0,668.9 956.0,669.1 958.0,669.1 960.0,669.3 962.0,669.3 964.0,669.1 966.0,669.1 968.0,669.5 970.0,668.9 972.0,669.1 974.0,669.6 976.0,669.2 978.0,669.0 980.0,669.3 982.0,669.4 984.0,669.0 986.0,669.2 988.0,669.1 990.0,669.4 992.0,669.7 994.0,671.0 996.0,671.2 998.0,669.5 1000.0,669.7 1002.0,669.6 1004.0,669.3 1006.0,669.7 1008.0,671.4 1010.0,671.1 1012.0,669.4 1014.0,669.2 1016.0,669.2 1018.0,669.3 1020.0,669.0 1022.0,669.5 1024.0,670.0 1026.0,669.4 1028.0,669.4 1030.0,669.3 1032.0,669.5 1034.0,669.2 1036.0,669.3 1038.0,669.5 1040.0,668.9 1042.0,669.2 1044.0,669.7 1046.0,669.5 1048.0,669.4 1050.0,669.4 1052.0,668.9 1054.0,669.5 1056.0,669.3 1058.0,669.7 1060.0,669.5 1062.0,669.6 1064.0,669.1 1066.0,669.1 1068.0,669.9 1070.0,669.4 1072.0,669.4 1074.0,669.8 1076.0,669.6 1078.0,669.6 1080.0,669.9 1082.0,669.6 1084.0,669.4 1086.0,669.4 1088.0,669.0 1090.0,669.5 1092.0,669.5" fill="none" stroke="#ff3030" stroke-width="0.8"/><polyline points="56.0,581.2 57.5,578.5 59.0,598.1 60.5,581.8 62.0,598.1 63.5,580.0 65.0,582.5 66.5,581.8 68.0,582.4 69.5,586.3 71.0,597.1 72.5,591.9 74.0,581.9 75.5,595.7 77.0,594.6 78.5,598.7 80.0,603.7 81.5,597.2 83.0,593.8 84.5,597.2 86.0,597.6 87.5,599.2 89.0,594.9 90.5,603.7 92.0,595.2 93.5,587.6 95.0,600.3 96.5,595.5 98.0,578.6 99.5,601.7 101.0,605.5 102.5,598.4 104.0,584.9 105.5,583.6 107.0,588.5 108.5,590.4 110.0,596.6 111.5,599.5 113.0,609.4 114.5,594.2 116.0,609.8 117.5,615.2 119.0,637.7 120.5,635.7 122.0,616.9 123.5,616.7 125.0,608.1 126.5,600.1 128.0,614.4 129.5,608.7 131.0,605.0 132.5,616.2 134.0,616.7 135.5,629.5 137.0,626.1 138.5,622.5 140.0,603.9 141.5,606.1 143.0,603.2 144.5,607.1 146.0,602.2 147.5,607.3 149.0,612.5 150.5,587.7 152.0,595.7 153.5,584.2 155.0,609.2 156.5,597.0 158.0,602.1 159.5,611.3 161.0,583.4 162.5,590.9 164.0,598.9 165.5,609.0 167.0,590.3 168.5,611.4 170.0,596.0 171.5,596.5 173.0,595.0 174.5,594.8 176.0,622.2 177.5,632.9 179.0,629.5 180.5,599.2 182.0,601.9 183.5,584.8 185.0,590.7 186.5,584.9 188.0,598.4 189.5,589.7 191.0,593.9 192.5,617.6 194.0,642.2 195.5,650.9 197.0,624.0 198.5,602.8 200.0,603.1 201.5,597.3 203.0,592.8 204.5,599.2 206.0,603.8 207.5,588.9 209.0,597.1 210.5,594.9 212.0,596.5 213.5,598.3 215.0,591.8 216.5,598.4 218.0,595.3 219.5,603.7 221.0,604.9 222.5,597.8 224.0,584.9 225.5,594.8 227.0,584.9 228.5,593.4 230.0,593.4 231.5,599.4 233.0,596.3 234.5,586.1 236.0,589.6 237.5,599.9 239.0,599.1 240.5,589.0 242.0,599.5 243.5,590.1 245.0,590.9 246.5,593.3 248.0,580.0 249.5,580.1 251.0,597.5 252.5,601.1 254.0,605.2 255.5,606.9 257.0,594.5 258.5,594.6 260.0,604.5 261.5,613.9 263.0,609.8 264.5,605.2 266.0,606.6 267.5,614.5 269.0,603.3 270.5,592.6 272.0,613.8 273.5,606.7 275.0,598.1 276.5,609.4 278.0,609.4 279.5,606.2 281.0,601.5 282.5,603.1 284.0,591.6 285.5,605.0 287.0,591.9 288.5,592.6 290.0,595.5 291.5,592.5 293.0,594.4 294.5,587.4 296.0,597.3 297.5,595.0 299.0,611.2 300.5,604.2 302.0,596.2 303.5,603.4 305.0,599.6 306.5,608.8 308.0,597.7 309.5,594.4 311.0,590.0 312.5,605.6 314.0,596.2 315.5,590.5 317.0,587.8 318.5,593.9 320.0,603.0 321.5,598.1 323.0,592.3 324.5,590.3 326.0,593.9 327.5,594.0 329.0,600.8 330.5,599.6 332.0,594.7 333.5,591.2 335.0,605.6 336.5,589.3 338.0,611.7 339.5,597.4 341.0,586.6 342.5,591.0 344.0,588.0 345.5,594.9 347.0,602.0 348.5,598.5 350.0,587.6 351.5,605.5 353.0,600.8 354.5,604.9 356.0,598.6 357.5,598.0 359.0,592.6 360.5,600.1 362.0,586.6 363.5,592.3 365.0,598.2 366.5,600.9 368.0,603.6 369.5,595.0 371.0,579.8 372.5,596.5 374.0,601.1 375.5,596.0 377.0,598.4 378.5,600.4 380.0,605.6 381.5,595.9 383.0,587.8 384.5,589.1 386.0,590.4 387.5,594.5 389.0,593.1 390.5,590.3 392.0,595.8 393.5,594.1 395.0,597.6 396.5,589.6 398.0,609.6 399.5,591.9 401.0,590.9 402.5,579.5 404.0,584.5 405.5,599.0 407.0,597.5 408.5,596.5 410.0,596.1 411.5,599.8 413.0,596.0 414.5,596.8 416.0,598.3 417.5,591.0 419.0,596.8 420.5,591.2 422.0,584.4 423.5,583.0 425.0,591.8 426.5,584.6 428.0,587.9 429.5,581.6 431.0,603.1 432.5,610.5 434.0,599.6 435.5,588.5 437.0,581.7 438.5,584.5 440.0,585.4 441.5,579.9 443.0,590.4 444.5,594.4 446.0,588.6 447.5,589.1 449.0,582.8 450.5,586.9 452.0,582.8 453.5,593.0 455.0,572.7 456.5,578.9 458.0,589.3 459.5,595.3 461.0,600.7 462.5,591.7 464.0,583.5 465.5,575.5 467.0,573.3 468.5,585.2 470.0,586.3 471.5,580.9 473.0,571.2 474.5,567.9 476.0,575.5 477.5,566.9 479.0,569.6 480.5,575.8 482.0,579.7 483.5,579.0 485.0,574.5 486.5,566.3 488.0,569.8 489.5,585.1 491.0,594.5 492.5,591.5 494.0,587.4 495.5,583.5 497.0,570.8 498.5,566.7 500.0,570.5 501.5,574.3 503.0,566.6 504.5,576.4 506.0,577.2 507.5,578.7 509.0,562.0 510.5,560.7 512.0,573.4 513.5,570.2 515.0,571.4 516.5,569.0 518.0,568.0 519.5,571.2 521.0,581.2 522.5,578.7 524.0,581.9 525.5,590.8 527.0,578.0 528.5,562.9 530.0,578.3 531.5,579.5 533.0,584.7 534.5,582.5 536.0,578.4 537.5,580.2 539.0,585.8 540.5,585.7 542.0,579.8 543.5,581.9 545.0,582.1 546.5,584.6 548.0,580.7 549.5,584.0 551.0,573.1 552.5,587.1 554.0,589.6 555.5,578.1 557.0,586.1 558.5,589.5 560.0,584.5 561.5,597.5 563.0,586.6 564.5,589.5 566.0,589.5 567.5,595.1 569.0,587.3 570.5,592.5 572.0,594.7 573.5,595.4 575.0,599.9 576.5,595.1 578.0,604.3 579.5,603.6 581.0,598.5 582.5,599.7 584.0,597.8 585.5,606.3 587.0,611.1 588.5,650.2 590.0,634.1 591.5,609.8 593.0,600.1 594.5,601.4 596.0,609.1 597.5,606.8 599.0,617.4 600.5,624.3 602.0,620.2 603.5,624.2 605.0,625.4 606.5,625.1 608.0,632.7 609.5,631.7 611.0,630.5 612.5,640.2 614.0,654.5 615.5,655.5 617.0,638.5 618.5,627.4 620.0,621.4 621.5,632.9 623.0,622.4 624.5,629.4 626.0,634.7 627.5,626.1 629.0,636.4 630.5,638.3 632.0,633.2 633.5,633.8 635.0,638.6 636.5,640.1 638.0,641.7 639.5,635.3 641.0,642.9 642.5,638.9 644.0,621.6 645.5,629.4 647.0,626.2 648.5,628.1 650.0,632.7 651.5,625.1 653.0,631.7 654.5,620.9 656.0,616.8 657.5,623.6 659.0,614.6 660.5,616.6 662.0,616.0 663.5,621.3 665.0,611.2 666.5,608.5 668.0,616.5 669.5,610.8 671.0,618.1 672.5,611.5 674.0,610.4 675.5,602.0 677.0,600.1 678.5,594.9 680.0,599.4 681.5,584.7 683.0,596.3 684.5,597.8 686.0,590.3 687.5,597.1 689.0,594.0 690.5,592.9 692.0,586.2 693.5,587.7 695.0,586.8 696.5,584.7 698.0,589.5 699.5,582.4 701.0,586.7 702.5,584.4 704.0,590.3 705.5,584.5 707.0,586.3 708.5,578.6 710.0,588.1 711.5,582.2 713.0,585.5 714.5,582.4 716.0,577.4 717.5,586.5 719.0,596.2 720.5,592.2 722.0,584.9 723.5,587.3 725.0,586.3 726.5,590.2 728.0,587.7 729.5,590.9 731.0,590.0 732.5,585.7 734.0,586.4 735.5,591.9 737.0,590.4 738.5,590.0 740.0,591.5 741.5,592.1 743.0,595.8 744.5,591.2 746.0,597.6 747.5,598.0 749.0,590.9 750.5,589.7 752.0,590.4 753.5,596.5 755.0,600.5 756.5,596.9 758.0,594.9 759.5,600.8 761.0,603.5 762.5,609.4 764.0,612.1 765.5,606.1 767.0,616.7 768.5,616.5 770.0,617.9 771.5,619.4 773.0,628.2 774.5,625.1 776.0,628.5 777.5,633.6 779.0,639.3 780.5,642.4 782.0,646.8 783.5,640.8 785.0,645.2 786.5,648.6 788.0,646.5 789.5,639.7 791.0,645.0 792.5,644.1 794.0,642.5 795.5,645.8 797.0,641.3 798.5,638.4 800.0,641.3 801.5,625.6 803.0,632.3 804.5,626.1 806.0,621.6 807.5,621.1 809.0,611.1 810.5,604.9 812.0,608.3 813.5,617.3 815.0,600.8 816.5,604.4 818.0,604.5 819.5,602.6 821.0,603.1 822.5,599.7 824.0,595.2 825.5,600.3 827.0,594.7 828.5,596.5 830.0,594.4 831.5,594.3 833.0,591.4 834.5,588.5 836.0,591.6 837.5,600.1 839.0,585.4 840.5,595.4 842.0,587.2 843.5,590.8 845.0,589.7 846.5,585.8 848.0,589.9 849.5,591.1 851.0,584.0 852.5,584.5 854.0,586.6 855.5,577.6 857.0,591.1 858.5,593.2 860.0,587.8 861.5,590.9 863.0,585.2 864.5,588.5 866.0,588.6 867.5,590.3 869.0,609.0 870.5,626.0 872.0,608.2 873.5,586.6 875.0,584.1 876.5,584.3 878.0,593.2 879.5,604.5 881.0,597.1 882.5,588.3 884.0,580.7 885.5,575.8 887.0,570.1 888.5,577.6 890.0,580.6 891.5,578.3 893.0,577.4 894.5,575.1 896.0,584.4 897.5,581.8 899.0,578.3 900.5,578.0 902.0,580.5 903.5,575.8 905.0,578.6 906.5,576.8 908.0,578.7 909.5,575.6 911.0,584.4 912.5,574.9 914.0,578.1 915.5,572.2 917.0,575.4 918.5,569.4 920.0,576.2 921.5,579.4 923.0,572.0 924.5,570.0 926.0,575.0 927.5,576.8 929.0,567.7 930.5,565.9 932.0,566.7 933.5,568.8 935.0,581.6 936.5,561.1 938.0,564.2 939.5,571.0 941.0,571.3 942.5,563.3 944.0,556.0 945.5,567.7 947.0,568.8 948.5,559.6 950.0,564.8 951.5,549.3 953.0,567.3 954.5,566.3 956.0,569.1 957.5,560.9 959.0,562.1 960.5,567.4 962.0,559.9 963.5,560.5 965.0,558.4 966.5,549.9 968.0,551.1 969.5,552.6 971.0,555.8 972.5,559.3 974.0,555.9 975.5,553.8 977.0,544.8 978.5,554.7 980.0,552.0 981.5,548.4 983.0,545.5 984.5,541.0 986.0,538.9 987.5,545.8 989.0,535.2 990.5,548.9 992.0,590.7 993.5,642.0 995.0,638.5 996.5,596.9 998.0,578.8 999.5,602.6 1001.0,598.0 1002.5,596.3 1004.0,565.5 1005.5,570.2 1007.0,592.7 1008.5,647.1 1010.0,625.8 1011.5,563.1 1013.0,537.2 1014.5,518.8 1016.0,539.0 1017.5,545.9 1019.0,542.0 1020.5,530.4 1022.0,552.1 1023.5,530.1 1025.0,537.4 1026.5,532.5 1028.0,545.4 1029.5,531.7 1031.0,531.5 1032.5,541.0 1034.0,532.8 1035.5,527.0 1037.0,542.0 1038.5,548.0 1040.0,547.3 1041.5,546.7 1043.0,541.1 1044.5,538.1 1046.0,550.5 1047.5,550.7 1049.0,557.5 1050.5,554.3 1052.0,550.6 1053.5,563.6 1055.0,551.8 1056.5,552.0 1058.0,551.7 1059.5,561.1 1061.0,566.8 1062.5,562.2 1064.0,566.8 1065.5,571.1 1067.0,567.9 1068.5,571.8 1070.0,558.8 1071.5,564.7 1073.0,565.0 1074.5,568.4 1076.0,564.7 1077.5,572.8 1079.0,563.7 1080.5,577.1 1082.0,561.8 1083.5,581.3 1085.0,576.0 1086.5,576.8 1088.0,581.8 1089.5,577.0 1091.0,579.8 1092.5,579.8" fill="none" stroke="#3030ff" stroke-width="0.9" stroke-linejoin="round"/><polyline points="56.0,667.5 58.0,668.5 60.0,667.5 62.0,667.7 64.0,668.2 66.0,668.2 68.0,668.2 70.0,667.9 72.0,667.9 74.0,668.4 76.0,667.7 78.0,667.8 80.0,668.0 82.0,668.0 84.0,668.3 86.0,668.1 88.0,668.1 90.0,668.2 92.0,668.0 94.0,668.2 96.0,667.9 98.0,668.0 100.0,668.2 102.0,668.1 104.0,668.4 106.0,668.3 108.0,668.3 110.0,668.5 112.0,668.0 114.0,668.1 116.0,668.3 118.0,668.8 120.0,668.3 122.0,668.8 124.0,668.7 126.0,668.5 128.0,668.6 130.0,668.7 132.0,668.5 134.0,668.9 136.0,668.7 138.0,668.6 140.0,668.5 142.0,668.8 144.0,668.8 146.0,668.9 148.0,669.2 150.0,668.9 152.0,668.7 154.0,668.7 156.0,668.6 158.0,668.6 160.0,668.6 162.0,669.1 164.0,668.4 166.0,669.3 168.0,668.8 170.0,668.7 172.0,668.8 174.0,669.0 176.0,669.1 178.0,669.0 180.0,669.3 182.0,668.8 184.0,668.9 186.0,669.3 188.0,668.9 190.0,669.0 192.0,669.4 194.0,669.4 196.0,669.4 198.0,669.5 200.0,669.3 202.0,669.4 204.0,669.4 206.0,669.4 208.0,669.6 210.0,669.5 212.0,669.7 214.0,669.5 216.0,669.7 218.0,669.0 220.0,670.0 222.0,669.4 224.0,669.5 226.0,669.5 228.0,670.1 230.0,669.4 232.0,669.6 234.0,669.7 236.0,670.3 238.0,670.1 240.0,669.6 242.0,669.8 244.0,669.9 246.0,669.7 248.0,670.2 250.0,670.0 252.0,669.6 254.0,670.0 256.0,670.0 258.0,669.9 260.0,670.1 262.0,670.2 264.0,670.0 266.0,669.9 268.0,670.2 270.0,669.7 272.0,670.4 274.0,669.9 276.0,670.2 278.0,670.2 280.0,670.4 282.0,670.1 284.0,670.4 286.0,669.9 288.0,670.6 290.0,670.5 292.0,670.6 294.0,670.3 296.0,670.5 298.0,670.4 300.0,670.5 302.0,670.2 304.0,670.5 306.0,670.0 308.0,670.8 310.0,670.3 312.0,670.8 314.0,670.9 316.0,670.8 318.0,670.4 320.0,670.8 322.0,670.9 324.0,670.9 326.0,670.9 328.0,670.8 330.0,670.7 332.0,670.7 334.0,670.8 336.0,670.8 338.0,670.7 340.0,670.7 342.0,670.8 344.0,670.7 346.0,671.0 348.0,670.8 350.0,671.1 352.0,670.7 354.0,670.6 356.0,670.7 358.0,670.8 360.0,670.8 362.0,671.0 364.0,670.4 366.0,670.9 368.0,670.5 370.0,670.6 372.0,670.8 374.0,670.8 376.0,671.1 378.0,670.8 380.0,671.1 382.0,671.0 384.0,670.8 386.0,671.0 388.0,670.7 390.0,670.9 392.0,671.2 394.0,671.0 396.0,670.8 398.0,670.7 400.0,670.8 402.0,670.7 404.0,671.2 406.0,671.0 408.0,670.9 410.0,670.9 412.0,671.3 414.0,670.8 416.0,670.8 418.0,671.2 420.0,671.0 422.0,670.6 424.0,671.0 426.0,670.8 428.0,670.8 430.0,670.8 432.0,670.7 434.0,670.9 436.0,671.0 438.0,670.6 440.0,670.9 442.0,670.5 444.0,670.8 446.0,671.1 448.0,670.8 450.0,670.8 452.0,671.2 454.0,671.0 456.0,670.9 458.0,671.0 460.0,670.6 462.0,670.8 464.0,671.3 466.0,671.0 468.0,671.2 470.0,670.7 472.0,670.8 474.0,671.0 476.0,671.1 478.0,670.4 480.0,670.9 482.0,670.8 484.0,670.7 486.0,670.9 488.0,670.7 490.0,670.9 492.0,671.0 494.0,670.7 496.0,670.8 498.0,670.3 500.0,670.9 502.0,670.8 504.0,670.4 506.0,670.4 508.0,670.8 510.0,671.3 512.0,670.9 514.0,670.6 516.0,670.8 518.0,670.4 520.0,670.7 522.0,670.6 524.0,670.8 526.0,671.1 528.0,670.8 530.0,671.2 532.0,670.8 534.0,670.9 536.0,670.8 538.0,670.6 540.0,670.7 542.0,670.7 544.0,671.2 546.0,670.8 548.0,670.5 550.0,670.9 552.0,670.9 554.0,670.6 556.0,670.9 558.0,670.9 560.0,670.5 562.0,671.0 564.0,670.5 566.0,670.7 568.0,671.0 570.0,670.5 572.0,670.3 574.0,670.7 576.0,670.9 578.0,670.8 580.0,670.7 582.0,670.5 584.0,671.1 586.0,671.0 588.0,670.9 590.0,671.0 592.0,670.5 594.0,671.0 596.0,671.1 598.0,671.0 600.0,671.1 602.0,670.9 604.0,670.9 606.0,670.4 608.0,670.7 610.0,670.9 612.0,670.7 614.0,670.5 616.0,670.8 618.0,670.7 620.0,671.1 622.0,670.8 624.0,670.8 626.0,671.2 628.0,670.6 630.0,670.9 632.0,671.2 634.0,670.7 636.0,670.8 638.0,671.1 640.0,671.1 642.0,670.8 644.0,670.8 646.0,670.8 648.0,670.7 650.0,671.0 652.0,670.8 654.0,670.7 656.0,670.7 658.0,671.1 660.0,670.3 662.0,670.8 664.0,670.9 666.0,670.7 668.0,670.7 670.0,671.0 672.0,670.9 674.0,671.3 676.0,670.8 678.0,671.0 680.0,670.7 682.0,671.2 684.0,671.1 686.0,671.0 688.0,671.1 690.0,671.1 692.0,671.0 694.0,670.9 696.0,671.1 698.0,671.0 700.0,670.8 702.0,670.9 704.0,670.9 706.0,671.2 708.0,670.9 710.0,670.9 712.0,670.6 714.0,671.1 716.0,671.0 718.0,671.0 720.0,671.0 722.0,671.0 724.0,670.6 726.0,670.7 728.0,670.9 730.0,671.1 732.0,671.0 734.0,671.1 736.0,671.0 738.0,671.1 740.0,670.8 742.0,670.8 744.0,670.9 746.0,670.9 748.0,671.1 750.0,670.9 752.0,670.9 754.0,670.9 756.0,671.2 758.0,670.8 760.0,671.1 762.0,670.8 764.0,671.0 766.0,671.0 768.0,670.9 770.0,670.7 772.0,671.0 774.0,671.0 776.0,670.9 778.0,670.9 780.0,670.9 782.0,671.4 784.0,670.8 786.0,670.6 788.0,670.6 790.0,671.1 792.0,670.5 794.0,671.1 796.0,670.8 798.0,671.0 800.0,670.9 802.0,671.1 804.0,670.8 806.0,670.9 808.0,670.7 810.0,670.5 812.0,671.2 814.0,670.6 816.0,671.0 818.0,671.1 820.0,671.0 822.0,670.7 824.0,671.3 826.0,670.7 828.0,671.1 830.0,671.2 832.0,670.7 834.0,671.1 836.0,670.8 838.0,671.1 840.0,670.5 842.0,671.3 844.0,671.1 846.0,671.0 848.0,670.9 850.0,671.3 852.0,671.1 854.0,671.1 856.0,670.9 858.0,670.9 860.0,671.0 862.0,670.8 864.0,671.0 866.0,671.4 868.0,671.1 870.0,671.2 872.0,671.1 874.0,671.5 876.0,670.9 878.0,670.6 880.0,670.3 882.0,670.9 884.0,671.1 886.0,671.2 888.0,670.7 890.0,670.9 892.0,671.3 894.0,670.7 896.0,670.8 898.0,670.9 900.0,670.8 902.0,671.0 904.0,670.6 906.0,670.8 908.0,670.9 910.0,671.2 912.0,671.1 914.0,671.1 916.0,670.7 918.0,671.3 920.0,670.9 922.0,671.3 924.0,670.6 926.0,670.7 928.0,670.8 930.0,671.3 932.0,670.7 934.0,671.0 936.0,670.9 938.0,671.2 940.0,670.9 942.0,671.3 944.0,670.8 946.0,671.4 948.0,671.0 950.0,670.7 952.0,671.1 954.0,671.0 956.0,670.8 958.0,671.3 960.0,670.9 962.0,670.7 964.0,671.1 966.0,671.2 968.0,671.1 970.0,670.7 972.0,671.3 974.0,671.0 976.0,671.1 978.0,670.7 980.0,670.8 982.0,670.9 984.0,671.0 986.0,671.5 988.0,671.0 990.0,671.0 992.0,671.7 994.0,673.4 996.0,673.1 998.0,671.2 1000.0,670.6 1002.0,670.5 1004.0,670.9 1006.0,671.2 1008.0,673.3 1010.0,673.4 1012.0,671.2 1014.0,671.0 1016.0,671.0 1018.0,670.6 1020.0,671.0 1022.0,671.2 1024.0,671.6 1026.0,670.7 1028.0,671.2 1030.0,671.4 1032.0,670.8 1034.0,671.0 1036.0,671.3 1038.0,670.9 1040.0,671.0 1042.0,671.1 1044.0,671.3 1046.0,671.1 1048.0,670.9 1050.0,671.2 1052.0,670.8 1054.0,670.7 1056.0,671.0 1058.0,671.0 1060.0,671.1 1062.0,671.1 1064.0,670.9 1066.0,670.6 1068.0,670.6 1070.0,671.0 1072.0,671.2 1074.0,670.8 1076.0,670.9 1078.0,671.2 1080.0,670.8 1082.0,671.2 1084.0,670.9 1086.0,670.9 1088.0,671.2 1090.0,670.9 1092.0,671.3" fill="none" stroke="#3030ff" stroke-width="0.8"/></g>
<g clip-path="url(#clipL1)"><path d="M101.2,712.6H102.8V772.4H104.2V709.4H105.8V740.9H107.2V754.5H108.8V754.5H110.2V759.6H111.8V744.0H113.2V725.0H114.8V730.8H116.2V740.6H117.8V815.7H119.2V838.3H120.8V757.6H122.2V734.6H123.8V702.1H125.2V718.3H126.8V758.4H128.2V716.9H129.8V727.6H131.2V736.1H132.8V754.7H134.2V740.0H135.8V742.6H137.2V724.0H138.8V737.8H140.2V711.7H141.8V748.6H143.2V731.6H144.8V731.1H146.2V755.4H147.8V761.1H149.2V721.9H150.8V732.3H152.2V745.9H153.8V737.5H155.2V757.0H156.8V740.8H158.2V755.7H159.8V741.6H161.2V727.5H162.8V751.0H164.2V729.9H165.8V763.3H167.2V750.1H168.8V769.1H170.2V746.8H171.8V743.9H173.2V752.4H174.8V776.3H176.2V795.4H177.8V809.2H179.2V807.6H180.8V700.4H182.2V776.0H183.8V757.9H185.2V748.0H186.8V743.0H188.2V763.4H189.8V758.4H191.2V780.5H192.8V797.2H194.2V822.2H195.8V773.4H197.2V737.6H198.8V746.8H200.2V744.7H201.8V745.3H203.2V752.9H204.8V753.9H206.2V763.1H207.8V733.7H209.2V703.0H210.8V747.4H212.2V760.9H213.8V735.8H215.2V720.3H216.8V749.7H218.2V752.0H219.8V741.5H221.2V743.6H222.8V723.0H224.2V729.0H225.8V733.0H227.2V747.1H228.8V732.2H230.2V726.9H231.8V736.4H233.2V749.8H234.8V774.1H236.2V732.1H237.8V751.1H239.2V796.6H240.8V729.7H242.2V796.6H243.8V776.2H245.2V746.7H246.8V749.7H248.2V729.7H249.8V791.7H251.2V798.9H252.8V803.7H254.2V739.5H255.8V758.1H257.2V785.5H258.8V758.6H260.2V730.5H261.8V721.2H263.2V705.4H264.8V728.2H266.2V748.7H267.8V719.9H269.2V735.2H270.8V738.4H272.2V734.7H273.8V713.4H275.2V750.3H276.8V752.4H278.2V736.1H279.8V736.1H281.2V748.8H282.8V749.9H284.2V728.6H285.8V712.4H287.2V723.0H288.8V723.4H290.2V714.0H291.8V768.4H293.2V756.7H294.8V746.9H296.2V755.1H297.8V751.6H299.2V733.8H300.8V758.1H302.2V745.4H303.8V773.8H305.2V756.3H306.8V717.5H308.2V749.1H309.8V734.6H311.2V728.2H312.8V748.2H314.2V730.3H315.8V736.4H317.2V728.4H318.8V750.6H320.2V764.0H321.8V757.0H323.2V749.2H324.8V731.1H326.2V772.3H327.8V746.6H329.2V743.0H330.8V721.8H332.2V749.5H333.8V715.0H335.2V760.3H336.8V731.1H338.2V725.9H339.8V731.4H341.2V754.1H342.8V741.8H344.2V751.7H345.8V726.0H347.2V731.1H348.8V789.4H350.2V733.5H351.8V746.0H353.2V743.5H354.8V738.9H356.2V749.3H357.8V733.0H359.2V732.5H360.8V733.0H362.2V721.9H363.8V744.4H365.2V764.3H366.8V748.0H368.2V734.5H369.8V739.6H371.2V730.6H372.8V726.9H374.2V741.9H375.8V741.8H377.2V756.1H378.8V723.2H380.2V744.3H381.8V780.1H383.2V758.1H384.8V761.8H386.2V714.8H387.8V727.5H389.2V767.4H390.8V742.0H392.2V713.7H393.8V729.9H395.2V734.4H396.8V750.3H398.2V733.4H399.8V749.4H401.2V778.1H402.8V754.9H404.2V756.0H405.8V729.7H407.2V728.0H408.8V761.8H410.2V742.2H411.8V743.6H413.2V773.9H414.8V777.9H416.2V746.5H417.8V742.8H419.2V754.5H420.8V788.3H422.2V745.5H423.8V754.2H425.2V759.2H426.8V750.6H428.2V768.3H429.8V759.7H431.2V762.7H432.8V777.5H434.2V745.8H435.8V745.9H437.2V769.1H438.8V747.3H440.2V725.5H441.8V772.6H443.2V755.3H444.8V738.3H446.2V754.8H447.8V722.8H449.2V718.2H450.8V749.8H452.2V736.3H453.8V713.6H455.2V750.4H456.8V761.4H458.2V766.0H459.8V799.7H461.2V794.2H462.8V750.5H464.2V752.5H465.8V741.2H467.2V737.4H468.8V757.0H470.2V748.0H471.8V749.2H473.2V755.4H474.8V758.1H476.2V740.1H477.8V747.2H479.2V739.8H480.8V729.4H482.2V729.2H483.8V762.3H485.2V758.3H486.8V749.0H488.2V743.1H489.8V730.4H491.2V759.9H492.8V773.1H494.2V752.7H495.8V726.0H497.2V723.7H498.8V791.3H500.2V748.8H501.8V758.6H503.2V734.1H504.8V741.0H506.2V753.9H507.8V773.1H509.2V745.6H510.8V735.3H512.2V736.6H513.8V754.7H515.2V748.2H516.8V749.5H518.2V744.8H519.8V764.2H521.2V758.3H522.8V779.8H524.2V748.8H525.8V724.8H527.2V778.7H528.8V758.4H530.2V736.8H531.8V751.4H533.2V791.1H534.8V733.2H536.2V768.9H537.8V730.5H539.2V757.2H540.8V726.4H542.2V748.8H543.8V749.4H545.2V741.0H546.8V742.3H548.2V750.9H549.8V731.6H551.2V739.6H552.8V745.3H554.2V747.1H555.8V750.0H557.2V749.7H558.8V740.2H560.2V742.4H561.8V764.2H563.2V734.9H564.8V750.6H566.2V741.5H567.8V735.9H569.2V759.8H570.8V749.0H572.2V725.1H573.8V756.5H575.2V730.8H576.8V756.8H578.2V739.0H579.8V756.0H581.2V750.3H582.8V747.1H584.2V750.8H585.8V749.5H587.2V794.0H588.8V784.6H590.2V772.1H591.8V732.7H593.2V738.3H594.8V749.1H596.2V767.4H597.8V750.5H599.2V751.0H600.8V757.1H602.2V750.5H603.8V749.9H605.2V761.6H606.8V768.2H608.2V755.0H609.8V759.0H611.2V789.4H612.8V842.4H614.2V856.2H615.8V793.4H617.2V737.1H618.8V763.9H620.2V770.5H621.8V770.6H623.2V768.2H624.8V763.8H626.2V755.1H627.8V769.3H629.2V753.0H630.8V751.1H632.2V743.4H633.8V740.3H635.2V749.1H636.8V735.6H638.2V765.3H639.8V758.3H641.2V733.0H642.8V764.1H644.2V761.6H645.8V779.7H647.2V748.1H648.8V770.2H650.2V781.4H651.8V780.2H653.2V795.6H654.8V811.8H656.2V786.6H657.8V782.4H659.2V783.5H660.8V797.7H662.2V791.0H663.8V767.9H665.2V768.9H666.8V763.8H668.2V791.8H669.8V779.2H671.2V773.6H672.8V779.3H674.2V791.6H675.8V784.6H677.2V796.8H678.8V791.0H680.2V806.2H681.8V793.7H683.2V790.7H684.8V773.5H686.2V790.3H687.8V780.8H689.2V792.0H690.8V800.8H692.2V789.1H693.8V793.0H695.2V810.2H696.8V802.0H698.2V794.1H699.8V774.6H701.2V795.4H702.8V775.9H704.2V782.5H705.8V785.7H707.2V791.9H708.8V770.8H710.2V774.2H711.8V812.5H713.2V760.8H714.8V781.6H716.2V776.9H717.8V785.7H719.2V777.9H720.8V766.5H722.2V768.4H723.8V767.4H725.2V774.6H726.8V775.6H728.2V775.2H729.8V795.7H731.2V761.2H732.8V781.5H734.2V776.6H735.8V782.1H737.2V778.3H738.8V804.1H740.2V780.2H741.8V795.0H743.2V791.9H744.8V800.0H746.2V797.0H747.8V772.5H749.2V781.7H750.8V776.4H752.2V776.5H753.8V783.9H755.2V780.1H756.8V805.1H758.2V779.8H759.8V800.6H761.2V784.2H762.8V773.1H764.2V772.0H765.8V774.4H767.2V782.6H768.8V799.3H770.2V782.5H771.8V788.5H773.2V766.1H774.8V808.4H776.2V796.4H777.8V795.8H779.2V797.3H780.8V809.1H782.2V803.7H783.8V811.2H785.2V811.4H786.8V806.7H788.2V813.4H789.8V817.9H791.2V816.6H792.8V830.0H794.2V833.2H795.8V853.1H797.2V832.8H798.8V824.6H800.2V844.2H801.8V814.7H803.2V851.2H804.8V803.9H806.2V841.4H807.8V831.0H809.2V798.4H810.8V804.9H812.2V797.9H813.8V794.1H815.2V788.2H816.8V797.3H818.2V788.4H819.8V775.6H821.2V758.5H822.8V766.2H824.2V770.9H825.8V761.0H827.2V748.9H828.8V757.9H830.2V756.2H831.8V749.3H833.2V745.2H834.8V738.7H836.2V730.5H837.8V748.2H839.2V741.0H840.8V768.7H842.2V748.8H843.8V745.5H845.2V750.3H846.8V757.2H848.2V743.2H849.8V736.7H851.2V748.9H852.8V752.3H854.2V749.4H855.8V732.3H857.2V734.9H858.8V745.9H860.2V756.2H861.8V757.5H863.2V748.2H864.8V748.1H866.2V746.3H867.8V781.7H869.2V807.4H870.8V791.6H872.2V776.0H873.8V724.5H875.2V741.6H876.8V756.9H878.2V794.5H879.8V783.9H881.2V743.4H882.8V736.7H884.2V766.7H885.8V733.3H887.2V737.3H888.8V738.3H890.2V754.4H891.8V741.8H893.2V749.8H894.8V755.2H896.2V727.2H897.8V738.3H899.2V734.9H900.8V757.7H902.2V754.9H903.8V753.5H905.2V761.1H906.8V758.0H908.2V755.2H909.8V743.5H911.2V748.2H912.8V760.2H914.2V743.7H915.8V741.3H917.2V748.3H918.8V746.1H920.2V761.0H921.8V744.1H923.2V732.1H924.8V744.9H926.2V739.3H927.8V740.7H929.2V751.6H930.8V742.9H932.2V752.2H933.8V718.5H935.2V743.0H936.8V754.7H938.2V758.8H939.8V731.6H941.2V739.5H942.8V741.5H944.2V757.3H945.8V750.2H947.2V756.0H948.8V735.3H950.2V749.9H951.8V728.0H953.2V740.6H954.8V748.2H956.2V762.8H957.8V764.0H959.2V752.8H960.8V749.0H962.2V736.0H963.8V736.0H965.2V743.3H966.8V769.5H968.2V776.7H969.8V786.6H971.2V748.4H972.8V752.3H974.2V741.5H975.8V730.6H977.2V747.9H978.8V741.4H980.2V751.2H981.8V744.7H983.2V749.3H984.8V748.6H986.2V748.6H987.8V753.6H989.2V738.5H990.8V785.4H992.2V835.3H993.8V862.2H995.2V840.0H996.8V767.5H998.2V800.9H999.8V832.3H1001.2V819.0H1002.8V799.9H1004.2V770.0H1005.8V779.4H1007.2V842.0H1008.8V862.5H1010.2V806.8H1011.8V751.8H1013.2V721.8H1014.8V745.9H1016.2V720.6H1017.8V757.9H1019.2V746.7H1020.8V742.0H1022.2V749.4H1023.8V720.5H1025.2V740.1H1026.8V751.3H1028.2V761.0H1029.8V739.8H1031.2V744.1H1032.8V754.7H1034.2V742.6H1035.8V751.1H1037.2V741.0H1038.8V746.5H1040.2V748.9H1041.8V753.1H1043.2V744.9H1044.8V732.3H1046.2V730.8H1047.8V759.3H1049.2V758.2H1050.8V729.5H1052.2V764.0H1053.8V733.1H1055.2V754.3H1056.8V735.5H1058.2V748.7H1059.8V742.7H1061.2V722.4H1062.8V748.2H1064.2V743.0H1065.8V752.8H1067.2V743.5H1068.8V756.5H1070.2V753.6H1071.8V751.8H1073.2V748.5H1074.8V737.7H1076.2V754.7H1077.8V755.0H1079.2V757.2H1080.8V753.2H1082.2V747.2H1083.8V759.8H1085.2V758.1H1086.8V762.4H1088.2V758.8H1089.8V777.9H1091.2V758.5H1092.8V757.8H1094.2" fill="none" stroke="#5a5a5a" stroke-width="1.15"/><path d="M55.2,733.1H56.8V734.3H58.2V726.5H59.8V699.2H61.2V719.9H62.8V689.0H64.2V697.9H65.8V723.6H67.2V724.7H68.8V716.6H70.2V708.7H71.8V700.6H73.2V720.0H74.8V718.2H76.2V731.5H77.8V754.4H79.2V763.6H80.8V757.5H82.2V748.9H83.8V725.8H85.2V759.1H86.8V753.0H88.2V746.1H89.8V751.9H91.2V712.7H92.8V723.3H94.2V743.2H95.8V754.6H97.2V755.2H98.8V725.3H100.2V751.2H101.8V732.3H103.2V729.8H104.8V769.9H106.2V730.6H107.8V747.2H109.2V756.6H110.8V755.3H112.2V748.0H113.8V754.7H115.2V757.8H116.8V783.1H118.2V789.2H119.8V793.5H121.2V764.3H122.8V754.1H124.2V740.3H125.8V737.8H127.2V752.5H128.8V750.7H130.2V760.6H131.8V754.5H133.2V755.5H134.8V798.7H136.2V797.4H137.8V775.5H139.2V786.8H140.8V775.6H142.2V756.6H143.8V771.2H145.2V764.9H146.8V756.1H148.2V765.0H149.8V767.5H151.2V759.4H152.8V754.0H154.2V751.1H155.8V743.1H157.2V728.1H158.8V741.3H160.2V728.0H161.8V737.3H163.2V736.3H164.8V738.9H166.2V748.1H167.8V740.6H169.2V741.8H170.8V756.6H172.2V737.8H173.8V746.5H175.2V778.7H176.8V828.7H178.2V839.8H179.8V764.0H181.2V749.3H182.8V767.8H184.2V738.3H185.8V752.2H187.2V737.9H188.8V746.2H190.2V735.6H191.8V771.4H193.2V807.8H194.8V821.1H196.2V766.0H197.8V763.8H199.2V732.1H200.8V739.4H202.2V753.7H203.8V749.5H205.2V754.6H206.8V749.4H208.2V740.3H209.8V757.0H211.2V742.4H212.8V740.4H214.2V743.5H215.8V734.0H217.2V750.7H218.8V742.9H220.2V724.7H221.8V749.7H223.2V751.4H224.8V750.0H226.2V744.0H227.8V743.4H229.2V752.5H230.8V767.9H232.2V760.7H233.8V760.4H235.2V761.8H236.8V719.5H238.2V743.0H239.8V753.9H241.2V763.4H242.8V747.5H244.2V748.3H245.8V764.2H247.2V748.5H248.8V760.8H250.2V759.4H251.8V764.9H253.2V752.5H254.8V773.3H256.2V768.2H257.8V763.2H259.2V754.6H260.8V753.1H262.2V775.3H263.8V753.1H265.2V762.0H266.8V753.0H268.2V737.2H269.8V770.3H271.2V764.6H272.8V767.9H274.2V761.3H275.8V748.5H277.2V764.5H278.8V746.3H280.2V737.1H281.8V768.4H283.2V754.6H284.8V781.9H286.2V764.6H287.8V744.1H289.2V741.4H290.8V755.9H292.2V751.4H293.8V741.7H295.2V769.5H296.8V749.6H298.2V764.3H299.8V761.5H301.2V748.1H302.8V742.9H304.2V758.2H305.8V740.7H307.2V722.4H308.8V750.3H310.2V752.7H311.8V750.0H313.2V755.9H314.8V760.4H316.2V745.6H317.8V744.9H319.2V756.9H320.8V755.9H322.2V758.1H323.8V758.8H325.2V761.4H326.8V766.7H328.2V743.1H329.8V755.4H331.2V751.3H332.8V734.5H334.2V756.7H335.8V724.8H337.2V765.1H338.8V758.1H340.2V745.3H341.8V733.0H343.2V765.9H344.8V766.9H346.2V748.8H347.8V761.0H349.2V745.5H350.8V750.3H352.2V757.0H353.8V755.4H355.2V747.9H356.8V754.8H358.2V779.4H359.8V751.9H361.2V758.5H362.8V757.3H364.2V749.6H365.8V752.0H367.2V745.4H368.8V756.9H370.2V759.4H371.8V758.3H373.2V751.5H374.8V762.7H376.2V758.5H377.8V763.0H379.2V762.4H380.8V756.7H382.2V732.4H383.8V758.6H385.2V752.6H386.8V754.2H388.2V756.7H389.8V754.8H391.2V736.8H392.8V757.5H394.2V740.1H395.8V749.0H397.2V763.1H398.8V783.5H400.2V759.3H401.8V765.1H403.2V744.4H404.8V751.2H406.2V750.1H407.8V764.5H409.2V750.7H410.8V760.0H412.2V732.6H413.8V755.8H415.2V752.4H416.8V751.2H418.2V759.4H419.8V758.6H421.2V758.6H422.8V747.2H424.2V761.7H425.8V756.5H427.2V752.9H428.8V766.7H430.2V793.1H431.8V796.2H433.2V788.0H434.8V765.9H436.2V746.4H437.8V754.9H439.2V755.3H440.8V764.2H442.2V750.3H443.8V758.3H445.2V763.7H446.8V760.8H448.2V733.6H449.8V760.6H451.2V753.7H452.8V744.7H454.2V756.9H455.8V758.1H457.2V747.4H458.8V789.5H460.2V794.4H461.8V791.0H463.2V747.6H464.8V755.1H466.2V732.0H467.8V751.0H469.2V750.9H470.8V765.3H472.2V765.7H473.8V759.6H475.2V747.2H476.8V764.6H478.2V776.5H479.8V776.1H481.2V747.3H482.8V763.6H484.2V751.6H485.8V745.6H487.2V745.2H488.8V769.5H490.2V747.0H491.8V762.5H493.2V747.2H494.8V754.9H496.2V766.5H497.8V754.9H499.2V750.6H500.8V738.7H502.2V766.3H503.8V759.6H505.2V755.6H506.8V757.2H508.2V767.4H509.8V771.5H511.2V763.7H512.8V747.6H514.2V758.8H515.8V749.8H517.2V735.2H518.8V753.1H520.2V755.1H521.8V757.4H523.2V728.6H524.8V749.5H526.2V749.4H527.8V754.6H529.2V748.1H530.8V748.1H532.2V752.7H533.8V742.0H535.2V764.4H536.8V745.8H538.2V752.7H539.8V744.8H541.2V736.3H542.8V751.4H544.2V753.3H545.8V752.0H547.2V731.0H548.8V739.5H550.2V750.6H551.8V746.8H553.2V737.7H554.8V747.7H556.2V773.9H557.8V758.5H559.2V755.9H560.8V749.2H562.2V756.7H563.8V741.7H565.2V756.3H566.8V740.6H568.2V757.9H569.8V742.7H571.2V751.7H572.8V742.4H574.2V738.5H575.8V740.3H577.2V745.8H578.8V759.4H580.2V762.1H581.8V782.3H583.2V751.8H584.8V758.4H586.2V777.2H587.8V820.3H589.2V784.0H590.8V780.1H592.2V756.6H593.8V772.7H595.2V767.0H596.8V756.7H598.2V778.0H599.8V779.8H601.2V777.0H602.8V772.7H604.2V798.3H605.8V796.3H607.2V804.9H608.8V793.9H610.2V806.0H611.8V814.1H613.2V847.2H614.8V834.3H616.2V821.6H617.8V815.6H619.2V798.5H620.8V816.4H622.2V814.3H623.8V800.4H625.2V814.9H626.8V805.9H628.2V814.9H629.8V809.7H631.2V824.8H632.8V811.5H634.2V808.3H635.8V820.1H637.2V811.9H638.8V811.0H640.2V833.9H641.8V822.2H643.2V824.9H644.8V830.3H646.2V835.0H647.8V822.7H649.2V823.1H650.8V804.4H652.2V806.2H653.8V815.8H655.2V818.0H656.8V814.3H658.2V806.3H659.8V808.9H661.2V787.4H662.8V807.7H664.2V797.6H665.8V794.1H667.2V790.4H668.8V798.1H670.2V791.3H671.8V786.6H673.2V783.8H674.8V805.8H676.2V784.6H677.8V779.1H679.2V765.3H680.8V785.4H682.2V770.0H683.8V761.8H685.2V780.8H686.8V758.8H688.2V757.1H689.8V764.2H691.2V754.9H692.8V737.7H694.2V756.7H695.8V751.0H697.2V757.1H698.8V751.4H700.2V744.9H701.8V745.8H703.2V733.6H704.8V746.3H706.2V753.1H707.8V738.2H709.2V737.7H710.8V741.2H712.2V744.8H713.8V749.2H715.2V748.0H716.8V732.6H718.2V737.6H719.8V742.4H721.2V740.5H722.8V746.3H724.2V765.8H725.8V747.9H727.2V743.3H728.8V747.0H730.2V755.9H731.8V758.3H733.2V749.8H734.8V742.9H736.2V756.9H737.8V755.9H739.2V759.6H740.8V752.7H742.2V751.7H743.8V758.4H745.2V760.0H746.8V758.3H748.2V755.0H749.8V759.8H751.2V759.1H752.8V750.7H754.2V750.7H755.8V756.4H757.2V772.6H758.8V752.9H760.2V755.1H761.8V765.9H763.2V766.7H764.8V773.2H766.2V769.2H767.8V783.3H769.2V777.7H770.8V793.5H772.2V798.1H773.8V803.7H775.2V809.8H776.8V814.5H778.2V811.2H779.8V810.6H781.2V829.5H782.8V835.0H784.2V825.3H785.8V838.0H787.2V838.6H788.8V838.1H790.2V833.1H791.8V841.4H793.2V829.5H794.8V828.9H796.2V842.1H797.8V825.1H799.2V821.9H800.8V812.1H802.2V829.0H803.8V807.6H805.2V797.4H806.8V785.1H808.2V794.8H809.8V775.3H811.2V756.9H812.8V766.1H814.2V775.1H815.8V764.4H817.2V760.8H818.8V767.5H820.2V758.2H821.8V763.2H823.2V771.1H824.8V752.2H826.2V748.7H827.8V747.3H829.2V751.0H830.8V753.7H832.2V747.8H833.8V746.2H835.2V742.6H836.8V739.4H838.2V742.7H839.8V751.8H841.2V748.1H842.8V757.0H844.2V742.4H845.8V743.1H847.2V738.8H848.8V743.4H850.2V735.9H851.8V750.9H853.2V743.8H854.8V747.5H856.2V747.1H857.8V757.3H859.2V751.7H860.8V758.4H862.2V747.1H863.8V749.4H865.2V744.2H866.8V763.4H868.2V778.5H869.8V796.8H871.2V795.2H872.8V740.2H874.2V742.1H875.8V755.6H877.2V757.5H878.8V775.1H880.2V783.4H881.8V751.1H883.2V748.9H884.8V744.1H886.2V750.8H887.8V746.2H889.2V743.9H890.8V761.1H892.2V743.7H893.8V735.2H895.2V743.7H896.8V736.9H898.2V734.0H899.8V742.6H901.2V741.9H902.8V741.8H904.2V747.3H905.8V729.3H907.2V741.5H908.8V740.7H910.2V738.1H911.8V734.6H913.2V753.5H914.8V734.8H916.2V743.5H917.8V741.0H919.2V751.7H920.8V753.6H922.2V739.4H923.8V739.8H925.2V746.5H926.8V746.5H928.2V748.8H929.8V752.5H931.2V735.6H932.8V743.7H934.2V741.8H935.8V738.5H937.2V753.6H938.8V756.2H940.2V737.7H941.8V751.2H943.2V747.1H944.8V744.9H946.2V753.4H947.8V755.3H949.2V743.4H950.8V763.1H952.2V741.2H953.8V757.0H955.2V740.1H956.8V743.3H958.2V743.8H959.8V736.8H961.2V744.5H962.8V754.4H964.2V740.0H965.8V744.6H967.2V742.4H968.8V746.3H970.2V747.1H971.8V739.4H973.2V739.3H974.8V743.9H976.2V753.3H977.8V751.6H979.2V752.1H980.8V738.2H982.2V742.1H983.8V745.0H985.2V746.4H986.8V746.9H988.2V741.6H989.8V762.6H991.2V800.2H992.8V850.4H994.2V849.2H995.8V800.4H997.2V801.7H998.8V818.4H1000.2V816.6H1001.8V801.7H1003.2V768.6H1004.8V779.0H1006.2V809.6H1007.8V864.1H1009.2V832.3H1010.8V788.5H1012.2V745.9H1013.8V735.1H1015.2V751.4H1016.8V754.5H1018.2V751.7H1019.8V754.4H1021.2V743.0H1022.8V745.9H1024.2V751.1H1025.8V753.7H1027.2V735.6H1028.8V735.2H1030.2V747.9H1031.8V732.8H1033.2V751.1H1034.8V748.4H1036.2V735.9H1037.8V745.2H1039.2V757.8H1040.8V751.1H1042.2V760.0H1043.8V749.8H1045.2V743.6H1046.8V756.2H1048.2V726.3H1049.8V737.6H1051.2V740.6H1052.8V750.5H1054.2V745.6H1055.8V742.2H1057.2V739.7H1058.8V737.6H1060.2V759.7H1061.8V750.4H1063.2V737.2H1064.8V748.1H1066.2V744.6H1067.8V731.2H1069.2V746.5H1070.8V740.1H1072.2V745.2H1073.8V746.2H1075.2V734.8H1076.8V753.1H1078.2V741.7H1079.8V732.8H1081.2V726.7H1082.8V749.3H1084.2V752.0H1085.8V754.1H1087.2V748.7H1088.8V746.1H1090.2V746.0H1091.8V738.9H1093.2" fill="none" stroke="#ff4545" stroke-width="1.0"/><path d="M55.2,755.0H56.8V751.0H58.2V779.8H59.8V755.7H61.2V779.7H62.8V753.0H64.2V756.7H65.8V755.5H67.2V756.4H68.8V762.0H70.2V777.9H71.8V770.3H73.2V755.4H74.8V775.8H76.2V774.1H77.8V780.0H79.2V787.5H80.8V777.8H82.2V772.7H83.8V777.7H85.2V778.2H86.8V780.6H88.2V774.2H89.8V787.1H91.2V774.5H92.8V763.2H94.2V781.9H95.8V774.8H97.2V749.7H98.8V783.9H100.2V789.6H101.8V778.8H103.2V758.8H104.8V756.7H106.2V764.0H107.8V766.8H109.2V776.0H110.8V780.3H112.2V794.9H113.8V772.3H115.2V795.5H116.8V803.6H118.2V837.2H119.8V834.2H121.2V806.0H122.8V805.6H124.2V792.8H125.8V780.7H127.2V802.1H128.8V793.5H130.2V788.0H131.8V804.8H133.2V805.4H134.8V824.6H136.2V819.5H137.8V814.0H139.2V786.1H140.8V789.3H142.2V784.9H143.8V790.7H145.2V783.3H146.8V790.9H148.2V798.7H149.8V761.3H151.2V773.3H152.8V755.9H154.2V793.5H155.8V775.1H157.2V782.8H158.8V796.6H160.2V754.5H161.8V765.7H163.2V777.8H164.8V793.0H166.2V764.6H167.8V796.5H169.2V773.2H170.8V773.8H172.2V771.6H173.8V771.3H175.2V812.8H176.8V829.0H178.2V823.8H179.8V777.7H181.2V781.8H182.8V755.7H184.2V764.6H185.8V755.7H187.2V776.2H188.8V763.0H190.2V769.3H191.8V805.4H193.2V842.9H194.8V856.2H196.2V815.1H197.8V782.6H199.2V783.0H200.8V774.2H202.2V767.2H203.8V777.0H205.2V784.0H206.8V761.1H208.2V773.6H209.8V770.2H211.2V772.5H212.8V775.3H214.2V765.3H215.8V775.3H217.2V770.5H218.8V783.4H220.2V785.2H221.8V774.3H223.2V754.3H224.8V769.4H226.2V754.2H227.8V767.2H229.2V767.2H230.8V776.3H232.2V771.5H233.8V755.8H235.2V761.1H236.8V777.0H238.2V775.6H239.8V760.0H241.2V776.2H242.8V761.6H244.2V762.9H245.8V766.4H247.2V745.9H248.8V745.9H250.2V772.9H251.8V778.3H253.2V784.7H254.8V787.2H256.2V767.9H257.8V768.1H259.2V783.5H260.8V797.9H262.2V791.5H263.8V784.4H265.2V786.6H266.8V798.7H268.2V781.3H269.8V764.5H271.2V797.6H272.8V786.4H274.2V773.0H275.8V790.6H277.2V790.5H278.8V785.5H280.2V778.1H281.8V780.5H283.2V762.6H284.8V783.4H286.2V762.8H287.8V763.8H289.2V768.4H290.8V763.7H292.2V766.6H293.8V755.6H295.2V771.0H296.8V767.4H298.2V792.7H299.8V781.8H301.2V769.1H302.8V780.3H304.2V774.3H305.8V788.7H307.2V771.2H308.8V766.0H310.2V758.9H311.8V783.6H313.2V768.7H314.8V759.6H316.2V755.2H317.8V764.9H319.2V779.2H320.8V771.4H322.2V762.2H323.8V759.0H325.2V764.6H326.8V764.7H328.2V775.3H329.8V773.5H331.2V765.6H332.8V760.1H334.2V783.0H335.8V757.0H337.2V792.5H338.8V769.8H340.2V752.6H341.8V759.6H343.2V754.7H344.8V765.8H346.2V777.0H347.8V771.3H349.2V754.1H350.8V782.5H352.2V775.0H353.8V781.4H355.2V771.4H356.8V770.4H358.2V761.9H359.8V773.7H361.2V752.2H362.8V761.2H364.2V770.6H365.8V774.9H367.2V779.2H368.8V765.4H370.2V741.1H371.8V767.8H373.2V775.0H374.8V766.8H376.2V770.6H377.8V773.8H379.2V782.1H380.8V766.6H382.2V753.6H383.8V755.7H385.2V757.7H386.8V764.2H388.2V762.0H389.8V757.4H391.2V766.3H392.8V763.4H394.2V769.1H395.8V756.2H397.2V788.1H398.8V759.9H400.2V758.4H401.8V740.5H403.2V748.8H404.8V772.3H406.2V770.1H407.8V768.8H409.2V768.4H410.8V774.7H412.2V768.9H413.8V770.5H415.2V773.1H416.8V762.1H418.2V771.4H419.8V762.9H421.2V752.7H422.8V750.9H424.2V764.7H425.8V754.0H427.2V759.3H428.8V750.0H430.2V783.2H431.8V794.9H433.2V778.7H434.8V762.2H436.2V752.5H437.8V757.1H439.2V758.9H440.8V751.1H442.2V767.2H443.8V773.5H445.2V765.3H446.8V766.5H448.2V757.6H449.8V764.1H451.2V758.5H452.8V773.7H454.2V744.7H455.8V754.1H457.2V769.5H458.8V778.5H460.2V786.7H461.8V774.2H463.2V763.1H464.8V752.3H466.2V749.6H467.8V766.9H469.2V768.8H470.8V761.8H472.2V748.8H473.8V744.7H475.2V755.8H476.8V744.5H478.2V748.7H479.8V757.5H481.2V763.0H482.8V762.2H484.2V756.2H485.8V745.3H487.2V750.3H488.8V771.2H490.2V784.0H491.8V780.1H493.2V774.7H494.8V769.3H496.2V751.7H497.8V745.7H499.2V750.3H500.8V755.0H502.2V743.9H503.8V756.9H505.2V757.5H506.8V759.1H508.2V735.3H509.8V732.8H511.2V750.2H512.8V745.1H514.2V746.2H515.8V742.3H517.2V740.3H518.8V744.3H520.2V758.0H521.8V753.6H523.2V757.5H524.8V769.8H526.2V750.2H527.8V727.2H529.2V749.2H530.8V750.2H532.2V757.2H533.8V753.2H535.2V746.2H536.8V748.0H538.2V755.9H539.8V754.9H541.2V745.0H542.8V747.4H544.2V746.9H545.8V750.3H547.2V743.7H548.8V748.4H550.2V730.6H551.8V752.4H553.2V756.0H554.8V737.1H556.2V749.4H557.8V754.5H559.2V745.8H560.8V766.6H562.2V748.3H563.8V752.6H565.2V752.1H566.8V760.9H568.2V747.4H569.8V755.6H571.2V759.2H572.8V760.2H574.2V767.4H575.8V759.1H577.2V774.4H578.8V772.9H580.2V764.3H581.8V766.0H583.2V762.6H584.8V776.8H586.2V784.7H587.8V850.9H589.2V823.5H590.8V781.9H592.2V765.3H593.8V767.2H595.2V780.2H596.8V776.0H598.2V794.0H599.8V805.8H601.2V798.6H602.8V805.3H604.2V807.3H605.8V806.8H607.2V819.9H608.8V818.1H610.2V816.1H611.8V832.8H613.2V857.4H614.8V859.1H616.2V829.7H617.8V810.6H619.2V800.2H620.8V820.0H622.2V801.8H623.8V813.9H625.2V823.1H626.8V808.2H628.2V826.1H629.8V829.3H631.2V820.4H632.8V821.5H634.2V829.8H635.8V832.4H637.2V835.2H638.8V824.1H640.2V837.3H641.8V830.3H643.2V800.3H644.8V813.7H646.2V808.1H647.8V811.4H649.2V819.4H650.8V806.2H652.2V817.6H653.8V798.9H655.2V791.6H656.8V803.6H658.2V787.8H659.8V791.3H661.2V790.3H662.8V799.4H664.2V781.9H665.8V777.1H667.2V791.1H668.8V781.1H670.2V793.8H671.8V782.3H673.2V780.3H674.8V765.6H676.2V762.3H677.8V753.3H679.2V761.0H680.8V735.4H682.2V755.6H683.8V758.2H685.2V745.1H686.8V756.9H688.2V751.4H689.8V749.6H691.2V737.9H692.8V740.4H694.2V738.8H695.8V735.1H697.2V743.5H698.8V731.0H700.2V738.5H701.8V734.4H703.2V744.8H704.8V734.5H706.2V737.6H707.8V724.1H709.2V740.7H710.8V730.4H712.2V736.1H713.8V730.5H715.2V721.8H716.8V737.6H718.2V754.6H719.8V747.6H721.2V734.8H722.8V739.0H724.2V737.1H725.8V743.8H727.2V739.4H728.8V745.0H730.2V743.4H731.8V735.8H733.2V737.0H734.8V746.7H736.2V744.0H737.8V743.1H739.2V745.8H740.8V746.8H742.2V753.2H743.8V745.1H745.2V756.4H746.8V757.1H748.2V744.5H749.8V742.3H751.2V743.5H752.8V754.2H754.2V761.2H755.8V754.8H757.2V751.3H758.8V761.7H760.2V766.4H761.8V776.7H763.2V781.6H764.8V770.9H766.2V789.6H767.8V789.3H769.2V791.8H770.8V794.4H772.2V809.9H773.8V804.4H775.2V810.4H776.8V819.5H778.2V829.5H779.8V835.0H781.2V842.8H782.8V832.2H784.2V840.0H785.8V845.9H787.2V842.2H788.8V830.1H790.2V839.6H791.8V838.0H793.2V835.1H794.8V840.9H796.2V832.9H797.8V827.7H799.2V832.9H800.8V805.0H802.2V817.1H803.8V806.1H805.2V798.3H806.8V797.6H808.2V780.1H809.8V769.4H811.2V775.5H812.8V791.5H814.2V762.8H815.8V769.4H817.2V769.7H818.8V766.6H820.2V767.8H821.8V761.9H823.2V754.4H824.8V763.4H826.2V753.9H827.8V757.3H829.2V753.7H830.8V753.8H832.2V749.1H833.8V744.2H835.2V749.8H836.8V764.6H838.2V739.5H839.8V756.9H841.2V743.1H842.8V749.5H844.2V747.7H845.8V741.4H847.2V748.5H848.8V750.7H850.2V739.0H851.8V740.1H853.2V743.7H854.8V728.9H856.2V751.8H857.8V755.4H859.2V746.7H860.8V752.0H862.2V742.7H863.8V748.3H865.2V748.8H866.8V751.8H868.2V783.1H869.8V811.6H871.2V782.4H872.8V747.4H874.2V743.8H875.8V744.6H877.2V759.7H878.8V778.6H880.2V767.0H881.8V753.4H883.2V741.7H884.8V734.5H886.2V726.0H887.8V738.5H889.2V743.7H890.8V740.7H892.2V739.9H893.8V736.8H895.2V751.9H896.8V748.4H898.2V743.4H899.8V743.5H901.2V747.9H902.8V741.3H904.2V746.1H905.8V743.9H907.2V747.3H908.8V743.2H910.2V756.9H911.8V743.2H913.2V748.4H914.8V740.1H916.2V745.4H917.8V737.1H919.2V747.6H920.8V753.1H922.2V743.0H923.8V741.0H925.2V749.0H926.8V752.3H928.2V740.0H929.8V738.2H931.2V740.2H932.8V744.0H934.2V762.5H935.8V734.8H937.2V739.8H938.8V750.0H940.2V751.0H941.8V740.9H943.2V731.8H944.8V748.3H946.2V750.5H947.8V738.9H949.2V746.6H950.8V726.8H952.2V751.3H953.8V750.6H955.2V754.9H956.8V744.9H958.2V747.2H959.8V754.8H961.2V746.2H962.8V748.0H964.2V746.1H965.8V736.5H967.2V739.1H968.8V741.9H970.2V746.8H971.8V752.0H973.2V748.8H974.8V747.2H976.2V737.5H977.8V750.4H979.2V748.2H980.8V745.0H982.2V742.7H983.8V738.6H985.2V737.3H986.8V746.3H988.2V735.3H989.8V751.6H991.2V799.1H992.8V856.5H994.2V852.9H995.8V807.8H997.2V788.7H998.8V815.0H1000.2V810.7H1001.8V809.2H1003.2V776.7H1004.8V781.9H1006.2V805.9H1007.8V863.5H1009.2V841.1H1010.8V775.2H1012.2V748.2H1013.8V729.3H1015.2V750.7H1016.8V757.6H1018.2V753.1H1019.8V740.5H1021.2V763.0H1022.8V739.4H1024.2V746.7H1025.8V741.1H1027.2V754.4H1028.8V739.3H1030.2V738.7H1031.8V747.8H1033.2V737.7H1034.8V730.1H1036.2V745.5H1037.8V751.0H1039.2V749.0H1040.8V747.2H1042.2V739.6H1043.8V734.9H1045.2V748.0H1046.8V746.9H1048.2V753.7H1049.8V748.7H1051.2V742.9H1052.8V757.4H1054.2V741.6H1055.8V740.4H1057.2V738.6H1058.8V749.0H1060.2V754.9H1061.8V747.4H1063.2V751.8H1064.8V756.0H1066.2V750.2H1067.8V753.9H1069.2V734.6H1070.8V741.5H1072.2V740.7H1073.8V744.1H1075.2V737.9H1076.8V748.0H1078.2V733.9H1079.8V751.8H1081.2V728.4H1082.8V755.7H1084.2V746.9H1085.8V747.4H1087.2V753.9H1088.8V745.8H1090.2V749.3H1091.8V748.3H1093.2" fill="none" stroke="#4545ff" stroke-width="1.0"/></g>
<g clip-path="url(#clipU1)"><polyline points="102.0,581.4 105.0,581.5 108.0,581.5 111.0,581.6 114.0,581.7 117.0,581.7 120.0,581.8 123.0,581.9 126.0,581.9 129.0,582.0 132.0,582.1 135.0,582.1 138.0,582.2 141.0,582.3 144.0,582.3 147.0,582.4 150.0,582.5 153.0,582.5 156.0,582.6 159.0,582.7 162.0,582.7 165.0,582.8 168.0,582.9 171.0,582.9 174.0,583.0 177.0,583.1 180.0,583.1 183.0,583.2 186.0,583.3 189.0,583.3 192.0,583.4 195.0,583.5 198.0,583.5 201.0,583.6 204.0,583.7 207.0,583.7 210.0,583.8 213.0,583.9 216.0,584.0 219.0,584.0 222.0,584.1 225.0,584.2 228.0,584.2 231.0,584.3 234.0,584.4 237.0,584.4 240.0,584.5 243.0,584.6 246.0,584.6 249.0,584.7 252.0,584.8 255.0,584.8 258.0,584.9 261.0,585.0 264.0,585.0 267.0,585.1 270.0,585.2 273.0,585.2 276.0,585.3 279.0,585.4 282.0,585.4 285.0,585.5 288.0,585.6 291.0,585.6 294.0,585.7 297.0,585.8 300.0,585.8 303.0,585.9 306.0,586.0 309.0,586.0 312.0,586.1 315.0,586.2 318.0,586.2 321.0,586.3 324.0,586.4 327.0,586.4 330.0,586.5 333.0,586.5 336.0,586.5 339.0,586.4 342.0,586.4 345.0,586.4 348.0,586.4 351.0,586.4 354.0,586.3 357.0,586.3 360.0,586.3 363.0,586.3 366.0,586.2 369.0,586.2 372.0,586.2 375.0,586.2 378.0,586.2 381.0,586.1 384.0,586.1 387.0,586.1 390.0,586.1 393.0,586.0 396.0,586.0 399.0,586.0 402.0,585.6 405.0,585.0 408.0,584.4 411.0,583.8 414.0,583.2 417.0,582.6 420.0,582.0 423.0,581.4 426.0,580.8 429.0,580.2 432.0,579.4 435.0,578.5 438.0,577.7 441.0,576.8 444.0,575.9 447.0,575.0 450.0,574.1 453.0,573.3 456.0,572.4 459.0,571.5 462.0,570.8 465.0,570.1 468.0,569.5 471.0,568.8 474.0,568.2 477.0,567.5 480.0,566.9 483.0,566.6 486.0,566.3 489.0,566.0 492.0,565.7 495.0,566.4 498.0,567.2 501.0,567.9 504.0,568.6 507.0,569.3 510.0,570.1 513.0,570.8 516.0,571.5 519.0,572.3 522.0,573.1 525.0,574.0 528.0,574.9 531.0,575.8 534.0,576.8 537.0,577.7 540.0,578.6 543.0,579.5 546.0,580.4 549.0,581.3 552.0,582.2 555.0,583.1 558.0,584.1 561.0,585.0 564.0,585.9 567.0,586.8 570.0,587.7 573.0,588.0 576.0,588.4 579.0,588.7 582.0,589.0 585.0,589.3 588.0,589.7 591.0,590.0 594.0,590.3 597.0,590.6 600.0,591.0 603.0,591.3 606.0,591.5 609.0,591.7 612.0,591.8 615.0,592.0 618.0,592.1 621.0,592.2 624.0,592.4 627.0,592.5 630.0,592.7 633.0,592.8 636.0,592.9 639.0,593.1 642.0,593.2 645.0,593.4 648.0,593.5 651.0,593.6 654.0,593.7 657.0,593.7 660.0,593.8 663.0,593.8 666.0,593.9 669.0,593.9 672.0,594.0 675.0,594.0 678.0,594.1 681.0,594.2 684.0,594.2 687.0,594.3 690.0,594.3 693.0,594.4 696.0,594.4 699.0,594.5 702.0,594.5 705.0,594.6 708.0,594.6 711.0,594.7 714.0,594.8 717.0,594.8 720.0,594.9 723.0,594.9 726.0,595.0 729.0,595.0 732.0,595.1 735.0,595.1 738.0,595.2 741.0,595.2 744.0,595.3 747.0,595.3 750.0,595.4 753.0,595.4 756.0,595.4 759.0,595.4 762.0,595.4 765.0,595.4 768.0,595.4 771.0,595.4 774.0,595.4 777.0,595.4 780.0,595.4 783.0,595.4 786.0,595.4 789.0,595.4 792.0,595.4 795.0,595.4 798.0,595.4 801.0,595.4 804.0,595.4 807.0,595.4 810.0,595.4 813.0,595.4 816.0,595.4 819.0,595.4 822.0,595.4 825.0,595.2 828.0,595.0 831.0,594.7 834.0,594.5 837.0,594.2 840.0,594.0 843.0,593.7 846.0,593.5 849.0,593.2 852.0,593.0 855.0,592.7 858.0,592.5 861.0,592.2 864.0,592.0 867.0,591.7 870.0,591.5 873.0,590.9 876.0,590.3 879.0,589.7 882.0,589.1 885.0,588.5 888.0,587.9 891.0,587.3 894.0,586.7 897.0,586.0 900.0,585.4 903.0,584.8 906.0,584.2 909.0,583.6 912.0,583.0 915.0,582.4 918.0,581.8 921.0,581.0 924.0,580.0 927.0,578.9 930.0,577.9 933.0,576.8 936.0,575.8 939.0,574.7 942.0,573.6 945.0,572.6 948.0,571.5 951.0,570.5 954.0,569.4 957.0,568.4 960.0,567.3 963.0,566.0 966.0,564.8 969.0,563.5 972.0,562.3 975.0,561.0 978.0,559.4 981.0,557.7 984.0,556.0 987.0,554.4 990.0,552.8 993.0,551.4 996.0,550.1 999.0,548.7 1002.0,547.8 1005.0,547.2 1008.0,546.6 1011.0,546.0 1014.0,545.4 1017.0,545.2 1020.0,545.9 1023.0,546.5 1026.0,547.1 1029.0,547.8 1032.0,548.8 1035.0,550.5 1038.0,552.3 1041.0,554.0 1044.0,555.8 1047.0,558.3 1050.0,560.9 1053.0,563.5 1056.0,566.0 1059.0,568.1 1062.0,570.1 1065.0,572.2 1068.0,574.2 1071.0,576.0 1074.0,577.6 1077.0,579.3 1080.0,580.9 1083.0,582.6 1086.0,583.9 1089.0,585.0 1092.0,586.2" fill="none" stroke="#000" stroke-width="2.3" stroke-dasharray="8 7.6"/><polyline points="56.0,563.1 59.0,563.2 62.0,563.3 65.0,563.4 68.0,563.5 71.0,563.5 74.0,563.6 77.0,563.7 80.0,563.8 83.0,563.9 86.0,564.0 89.0,564.1 92.0,564.2 95.0,564.3 98.0,564.3 101.0,564.4 104.0,564.5 107.0,564.6 110.0,564.7 113.0,564.8 116.0,564.9 119.0,565.0 122.0,565.1 125.0,565.1 128.0,565.2 131.0,565.3 134.0,565.4 137.0,565.5 140.0,565.6 143.0,565.7 146.0,565.8 149.0,565.8 152.0,565.9 155.0,566.0 158.0,566.1 161.0,566.2 164.0,566.3 167.0,566.4 170.0,566.5 173.0,566.6 176.0,566.6 179.0,566.7 182.0,566.8 185.0,566.9 188.0,567.0 191.0,567.1 194.0,567.2 197.0,567.3 200.0,567.4 203.0,567.4 206.0,567.5 209.0,567.6 212.0,567.7 215.0,567.8 218.0,567.9 221.0,568.0 224.0,568.1 227.0,568.2 230.0,568.2 233.0,568.3 236.0,568.4 239.0,568.5 242.0,568.6 245.0,568.7 248.0,568.8 251.0,568.9 254.0,569.0 257.0,569.0 260.0,569.1 263.0,569.2 266.0,569.3 269.0,569.4 272.0,569.5 275.0,569.6 278.0,569.7 281.0,569.8 284.0,569.8 287.0,569.9 290.0,570.0 293.0,570.1 296.0,570.2 299.0,570.3 302.0,570.4 305.0,570.5 308.0,570.5 311.0,570.6 314.0,570.7 317.0,570.8 320.0,570.9 323.0,571.0 326.0,571.1 329.0,571.2 332.0,571.2 335.0,571.2 338.0,571.2 341.0,571.2 344.0,571.2 347.0,571.2 350.0,571.2 353.0,571.2 356.0,571.2 359.0,571.2 362.0,571.2 365.0,571.2 368.0,571.2 371.0,571.2 374.0,571.2 377.0,571.2 380.0,571.2 383.0,571.2 386.0,571.2 389.0,571.2 392.0,571.2 395.0,571.2 398.0,571.2 401.0,571.0 404.0,570.2 407.0,569.5 410.0,568.7 413.0,568.0 416.0,567.2 419.0,566.5 422.0,565.8 425.0,565.2 428.0,564.7 431.0,564.1 434.0,563.5 437.0,563.0 440.0,562.4 443.0,561.6 446.0,560.9 449.0,560.1 452.0,559.3 455.0,558.6 458.0,557.8 461.0,557.0 464.0,556.3 467.0,555.5 470.0,554.8 473.0,554.0 476.0,553.2 479.0,552.5 482.0,551.8 485.0,551.3 488.0,550.8 491.0,550.5 494.0,550.8 497.0,551.0 500.0,551.3 503.0,551.6 506.0,551.8 509.0,552.1 512.0,552.8 515.0,553.8 518.0,554.7 521.0,555.7 524.0,556.6 527.0,557.6 530.0,558.5 533.0,559.7 536.0,560.8 539.0,562.0 542.0,563.1 545.0,564.3 548.0,565.4 551.0,566.5 554.0,567.2 557.0,568.0 560.0,568.7 563.0,569.5 566.0,570.2 569.0,571.0 572.0,571.6 575.0,572.1 578.0,572.7 581.0,573.2 584.0,573.8 587.0,574.3 590.0,574.9 593.0,575.4 596.0,576.0 599.0,576.5 602.0,577.1 605.0,577.6 608.0,577.7 611.0,577.8 614.0,578.0 617.0,578.1 620.0,578.2 623.0,578.3 626.0,578.4 629.0,578.6 632.0,578.7 635.0,578.8 638.0,578.9 641.0,579.0 644.0,579.2 647.0,579.3 650.0,579.4 653.0,579.5 656.0,579.6 659.0,579.7 662.0,579.8 665.0,579.9 668.0,579.9 671.0,580.0 674.0,580.1 677.0,580.2 680.0,580.3 683.0,580.4 686.0,580.5 689.0,580.6 692.0,580.7 695.0,580.8 698.0,580.8 701.0,580.9 704.0,581.0 707.0,581.0 710.0,581.1 713.0,581.2 716.0,581.2 719.0,581.3 722.0,581.3 725.0,581.4 728.0,581.5 731.0,581.5 734.0,581.6 737.0,581.6 740.0,581.7 743.0,581.8 746.0,581.8 749.0,581.9 752.0,581.9 755.0,581.9 758.0,581.9 761.0,581.9 764.0,581.9 767.0,581.9 770.0,581.9 773.0,581.9 776.0,581.9 779.0,581.9 782.0,581.9 785.0,581.9 788.0,581.9 791.0,581.9 794.0,581.9 797.0,581.9 800.0,581.9 803.0,581.7 806.0,581.4 809.0,581.2 812.0,581.0 815.0,580.7 818.0,580.5 821.0,580.3 824.0,580.0 827.0,579.8 830.0,579.5 833.0,579.3 836.0,579.0 839.0,578.8 842.0,578.6 845.0,578.3 848.0,578.1 851.0,577.8 854.0,577.6 857.0,577.4 860.0,577.1 863.0,576.9 866.0,576.6 869.0,576.4 872.0,576.0 875.0,575.5 878.0,575.1 881.0,574.6 884.0,574.2 887.0,573.7 890.0,573.3 893.0,572.8 896.0,572.3 899.0,571.9 902.0,571.4 905.0,571.0 908.0,570.5 911.0,570.1 914.0,569.6 917.0,569.2 920.0,568.7 923.0,567.7 926.0,566.6 929.0,565.6 932.0,564.6 935.0,563.6 938.0,562.5 941.0,561.5 944.0,560.5 947.0,559.5 950.0,558.4 953.0,557.4 956.0,556.4 959.0,555.3 962.0,553.8 965.0,551.9 968.0,550.0 971.0,548.2 974.0,546.3 977.0,544.6 980.0,542.8 983.0,541.1 986.0,539.4 989.0,537.7 992.0,535.9 995.0,534.1 998.0,532.2 1001.0,530.4 1004.0,529.0 1007.0,528.5 1010.0,528.0 1013.0,527.5 1016.0,527.0 1019.0,527.1 1022.0,528.5 1025.0,529.8 1028.0,531.1 1031.0,532.4 1034.0,534.6 1037.0,536.8 1040.0,539.0 1043.0,541.2 1046.0,543.4 1049.0,545.7 1052.0,548.0 1055.0,550.3 1058.0,552.5 1061.0,554.7 1064.0,556.8 1067.0,558.9 1070.0,561.0 1073.0,562.6 1076.0,564.1 1079.0,565.7 1082.0,567.2 1085.0,568.8 1088.0,570.2 1091.0,571.3" fill="none" stroke="#ff0000" stroke-width="2.3" stroke-dasharray="8 7.6"/><polyline points="56.0,576.3 59.0,576.4 62.0,576.5 65.0,576.5 68.0,576.6 71.0,576.7 74.0,576.8 77.0,576.8 80.0,576.9 83.0,577.0 86.0,577.1 89.0,577.2 92.0,577.2 95.0,577.3 98.0,577.4 101.0,577.5 104.0,577.5 107.0,577.6 110.0,577.7 113.0,577.8 116.0,577.9 119.0,577.9 122.0,578.0 125.0,578.1 128.0,578.2 131.0,578.2 134.0,578.3 137.0,578.4 140.0,578.5 143.0,578.6 146.0,578.6 149.0,578.7 152.0,578.8 155.0,578.9 158.0,578.9 161.0,579.0 164.0,579.1 167.0,579.2 170.0,579.3 173.0,579.3 176.0,579.4 179.0,579.5 182.0,579.6 185.0,579.6 188.0,579.7 191.0,579.8 194.0,579.9 197.0,580.0 200.0,580.0 203.0,580.1 206.0,580.2 209.0,580.3 212.0,580.3 215.0,580.4 218.0,580.5 221.0,580.6 224.0,580.7 227.0,580.7 230.0,580.8 233.0,580.9 236.0,581.0 239.0,581.0 242.0,581.1 245.0,581.2 248.0,581.3 251.0,581.4 254.0,581.4 257.0,581.5 260.0,581.6 263.0,581.7 266.0,581.7 269.0,581.8 272.0,581.9 275.0,582.0 278.0,582.1 281.0,582.1 284.0,582.2 287.0,582.3 290.0,582.4 293.0,582.4 296.0,582.5 299.0,582.6 302.0,582.7 305.0,582.8 308.0,582.8 311.0,582.9 314.0,583.0 317.0,583.1 320.0,583.1 323.0,583.2 326.0,583.3 329.0,583.4 332.0,583.4 335.0,583.5 338.0,583.5 341.0,583.6 344.0,583.6 347.0,583.6 350.0,583.7 353.0,583.7 356.0,583.8 359.0,583.8 362.0,583.9 365.0,583.9 368.0,583.9 371.0,584.0 374.0,584.0 377.0,584.1 380.0,584.1 383.0,584.2 386.0,584.2 389.0,584.2 392.0,584.3 395.0,584.3 398.0,584.4 401.0,584.3 404.0,583.8 407.0,583.4 410.0,583.0 413.0,582.5 416.0,582.1 419.0,581.7 422.0,581.2 425.0,580.8 428.0,580.4 431.0,579.9 434.0,579.3 437.0,578.6 440.0,578.0 443.0,577.4 446.0,576.7 449.0,576.1 452.0,575.5 455.0,574.8 458.0,574.2 461.0,573.5 464.0,572.8 467.0,572.0 470.0,571.2 473.0,570.5 476.0,569.7 479.0,569.0 482.0,568.5 485.0,568.3 488.0,568.0 491.0,567.7 494.0,567.5 497.0,567.9 500.0,568.7 503.0,569.4 506.0,570.2 509.0,571.0 512.0,571.8 515.0,572.5 518.0,573.3 521.0,574.2 524.0,575.2 527.0,576.3 530.0,577.4 533.0,578.4 536.0,579.5 539.0,580.6 542.0,581.6 545.0,582.7 548.0,583.3 551.0,583.9 554.0,584.5 557.0,585.1 560.0,585.7 563.0,586.3 566.0,586.9 569.0,587.5 572.0,587.9 575.0,588.2 578.0,588.5 581.0,588.7 584.0,589.0 587.0,589.3 590.0,589.6 593.0,589.9 596.0,590.2 599.0,590.4 602.0,590.7 605.0,591.0 608.0,591.0 611.0,591.1 614.0,591.1 617.0,591.1 620.0,591.2 623.0,591.2 626.0,591.2 629.0,591.3 632.0,591.3 635.0,591.3 638.0,591.3 641.0,591.4 644.0,591.4 647.0,591.4 650.0,591.5 653.0,591.5 656.0,591.5 659.0,591.6 662.0,591.6 665.0,591.6 668.0,591.7 671.0,591.7 674.0,591.7 677.0,591.8 680.0,591.8 683.0,591.8 686.0,591.9 689.0,591.9 692.0,591.9 695.0,591.9 698.0,592.0 701.0,592.0 704.0,592.1 707.0,592.1 710.0,592.2 713.0,592.2 716.0,592.3 719.0,592.3 722.0,592.4 725.0,592.4 728.0,592.4 731.0,592.5 734.0,592.5 737.0,592.6 740.0,592.6 743.0,592.7 746.0,592.7 749.0,592.8 752.0,592.8 755.0,592.9 758.0,592.9 761.0,593.0 764.0,593.0 767.0,593.1 770.0,593.1 773.0,593.2 776.0,593.2 779.0,593.3 782.0,593.3 785.0,593.4 788.0,593.4 791.0,593.5 794.0,593.5 797.0,593.6 800.0,593.6 803.0,593.3 806.0,593.1 809.0,592.8 812.0,592.5 815.0,592.2 818.0,592.0 821.0,591.7 824.0,591.4 827.0,591.2 830.0,590.9 833.0,590.7 836.0,590.4 839.0,590.2 842.0,590.0 845.0,589.7 848.0,589.5 851.0,589.2 854.0,589.0 857.0,588.8 860.0,588.5 863.0,588.3 866.0,588.0 869.0,587.8 872.0,587.2 875.0,586.6 878.0,585.9 881.0,585.2 884.0,584.5 887.0,583.8 890.0,583.1 893.0,582.5 896.0,581.8 899.0,581.1 902.0,580.4 905.0,579.7 908.0,579.0 911.0,578.4 914.0,577.7 917.0,577.0 920.0,576.3 923.0,575.2 926.0,574.2 929.0,573.1 932.0,572.1 935.0,571.0 938.0,570.0 941.0,568.9 944.0,567.8 947.0,566.8 950.0,565.7 953.0,564.7 956.0,563.6 959.0,562.6 962.0,561.2 965.0,559.7 968.0,558.1 971.0,556.6 974.0,555.1 977.0,553.4 980.0,551.6 983.0,549.9 986.0,548.1 989.0,546.3 992.0,544.5 995.0,542.8 998.0,541.0 1001.0,539.3 1004.0,538.3 1007.0,537.8 1010.0,537.3 1013.0,536.7 1016.0,536.2 1019.0,537.0 1022.0,537.7 1025.0,538.5 1028.0,539.2 1031.0,540.0 1034.0,542.1 1037.0,544.1 1040.0,546.2 1043.0,548.2 1046.0,550.3 1049.0,552.5 1052.0,554.7 1055.0,556.8 1058.0,559.0 1061.0,561.3 1064.0,563.7 1067.0,566.1 1070.0,568.5 1073.0,570.1 1076.0,571.8 1079.0,573.5 1082.0,575.1 1085.0,576.6 1088.0,577.7 1091.0,578.9" fill="none" stroke="#0000ff" stroke-width="2.3" stroke-dasharray="8 7.6"/></g>
<line x1="512.90" y1="499.60" x2="512.90" y2="893.10" stroke="#2b2bff" stroke-width="1.5" stroke-dasharray="8 7.6" stroke-dashoffset="4.6"/>
<line x1="1039.40" y1="499.60" x2="1039.40" y2="893.10" stroke="#2b2bff" stroke-width="1.5" stroke-dasharray="8 7.6" stroke-dashoffset="4.6"/>
<line x1="56.00" y1="747.80" x2="1093.80" y2="747.80" stroke="#4545ff" stroke-width="1.4" stroke-dasharray="7.8 7.8"/>
<line x1="633.60" y1="747.80" x2="633.60" y2="893.10" stroke="#3030ff" stroke-width="1.5" stroke-dasharray="1.6 2.4"/>
<line x1="642.00" y1="747.80" x2="642.00" y2="893.10" stroke="#ff2020" stroke-width="1.5" stroke-dasharray="1.6 2.4"/>
<line x1="685.20" y1="747.80" x2="685.20" y2="893.10" stroke="#111" stroke-width="1.5" stroke-dasharray="1.6 2.4"/>
<rect x="56.0" y="499.6" width="1037.8" height="393.5" fill="none" stroke="#555" stroke-width="1.3"/>
<line x1="56.00" y1="675.10" x2="1093.80" y2="675.10" stroke="#555" stroke-width="1.3"/>
<line x1="56.00" y1="675.10" x2="76.50" y2="675.10" stroke="#555" stroke-width="1.1"/>
<line x1="1093.80" y1="675.10" x2="1073.30" y2="675.10" stroke="#555" stroke-width="1.1"/>
<line x1="56.00" y1="670.60" x2="66.00" y2="670.60" stroke="#555" stroke-width="1.1"/>
<line x1="1093.80" y1="670.60" x2="1083.80" y2="670.60" stroke="#555" stroke-width="1.1"/>
<line x1="56.00" y1="666.10" x2="66.00" y2="666.10" stroke="#555" stroke-width="1.1"/>
<line x1="1093.80" y1="666.10" x2="1083.80" y2="666.10" stroke="#555" stroke-width="1.1"/>
<line x1="56.00" y1="661.60" x2="66.00" y2="661.60" stroke="#555" stroke-width="1.1"/>
<line x1="1093.80" y1="661.60" x2="1083.80" y2="661.60" stroke="#555" stroke-width="1.1"/>
<line x1="56.00" y1="657.10" x2="66.00" y2="657.10" stroke="#555" stroke-width="1.1"/>
<line x1="1093.80" y1="657.10" x2="1083.80" y2="657.10" stroke="#555" stroke-width="1.1"/>
<line x1="56.00" y1="652.60" x2="66.00" y2="652.60" stroke="#555" stroke-width="1.1"/>
<line x1="1093.80" y1="652.60" x2="1083.80" y2="652.60" stroke="#555" stroke-width="1.1"/>
<line x1="56.00" y1="648.10" x2="66.00" y2="648.10" stroke="#555" stroke-width="1.1"/>
<line x1="1093.80" y1="648.10" x2="1083.80" y2="648.10" stroke="#555" stroke-width="1.1"/>
<line x1="56.00" y1="643.60" x2="66.00" y2="643.60" stroke="#555" stroke-width="1.1"/>
<line x1="1093.80" y1="643.60" x2="1083.80" y2="643.60" stroke="#555" stroke-width="1.1"/>
<line x1="56.00" y1="639.10" x2="66.00" y2="639.10" stroke="#555" stroke-width="1.1"/>
<line x1="1093.80" y1="639.10" x2="1083.80" y2="639.10" stroke="#555" stroke-width="1.1"/>
<line x1="56.00" y1="634.60" x2="66.00" y2="634.60" stroke="#555" stroke-width="1.1"/>
<line x1="1093.80" y1="634.60" x2="1083.80" y2="634.60" stroke="#555" stroke-width="1.1"/>
<line x1="56.00" y1="630.10" x2="76.50" y2="630.10" stroke="#555" stroke-width="1.1"/>
<line x1="1093.80" y1="630.10" x2="1073.30" y2="630.10" stroke="#555" stroke-width="1.1"/>
<line x1="56.00" y1="625.60" x2="66.00" y2="625.60" stroke="#555" stroke-width="1.1"/>
<line x1="1093.80" y1="625.60" x2="1083.80" y2="625.60" stroke="#555" stroke-width="1.1"/>
<line x1="56.00" y1="621.10" x2="66.00" y2="621.10" stroke="#555" stroke-width="1.1"/>
<line x1="1093.80" y1="621.10" x2="1083.80" y2="621.10" stroke="#555" stroke-width="1.1"/>
<line x1="56.00" y1="616.60" x2="66.00" y2="616.60" stroke="#555" stroke-width="1.1"/>
<line x1="1093.80" y1="616.60" x2="1083.80" y2="616.60" stroke="#555" stroke-width="1.1"/>
<line x1="56.00" y1="612.10" x2="66.00" y2="612.10" stroke="#555" stroke-width="1.1"/>
<line x1="1093.80" y1="612.10" x2="1083.80" y2="612.10" stroke="#555" stroke-width="1.1"/>
<line x1="56.00" y1="607.60" x2="66.00" y2="607.60" stroke="#555" stroke-width="1.1"/>
<line x1="1093.80" y1="607.60" x2="1083.80" y2="607.60" stroke="#555" stroke-width="1.1"/>
<line x1="56.00" y1="603.10" x2="66.00" y2="603.10" stroke="#555" stroke-width="1.1"/>
<line x1="1093.80" y1="603.10" x2="1083.80" y2="603.10" stroke="#555" stroke-width="1.1"/>
<line x1="56.00" y1="598.60" x2="66.00" y2="598.60" stroke="#555" stroke-width="1.1"/>
<line x1="1093.80" y1="598.60" x2="1083.80" y2="598.60" stroke="#555" stroke-width="1.1"/>
<line x1="56.00" y1="594.10" x2="66.00" y2="594.10" stroke="#555" stroke-width="1.1"/>
<line x1="1093.80" y1="594.10" x2="1083.80" y2="594.10" stroke="#555" stroke-width="1.1"/>
<line x1="56.00" y1="589.60" x2="66.00" y2="589.60" stroke="#555" stroke-width="1.1"/>
<line x1="1093.80" y1="589.60" x2="1083.80" y2="589.60" stroke="#555" stroke-width="1.1"/>
<line x1="56.00" y1="585.10" x2="76.50" y2="585.10" stroke="#555" stroke-width="1.1"/>
<line x1="1093.80" y1="585.10" x2="1073.30" y2="585.10" stroke="#555" stroke-width="1.1"/>
<line x1="56.00" y1="580.60" x2="66.00" y2="580.60" stroke="#555" stroke-width="1.1"/>
<line x1="1093.80" y1="580.60" x2="1083.80" y2="580.60" stroke="#555" stroke-width="1.1"/>
<line x1="56.00" y1="576.10" x2="66.00" y2="576.10" stroke="#555" stroke-width="1.1"/>
<line x1="1093.80" y1="576.10" x2="1083.80" y2="576.10" stroke="#555" stroke-width="1.1"/>
<line x1="56.00" y1="571.60" x2="66.00" y2="571.60" stroke="#555" stroke-width="1.1"/>
<line x1="1093.80" y1="571.60" x2="1083.80" y2="571.60" stroke="#555" stroke-width="1.1"/>
<line x1="56.00" y1="567.10" x2="66.00" y2="567.10" stroke="#555" stroke-width="1.1"/>
<line x1="1093.80" y1="567.10" x2="1083.80" y2="567.10" stroke="#555" stroke-width="1.1"/>
<line x1="56.00" y1="562.60" x2="66.00" y2="562.60" stroke="#555" stroke-width="1.1"/>
<line x1="1093.80" y1="562.60" x2="1083.80" y2="562.60" stroke="#555" stroke-width="1.1"/>
<line x1="56.00" y1="558.10" x2="66.00" y2="558.10" stroke="#555" stroke-width="1.1"/>
<line x1="1093.80" y1="558.10" x2="1083.80" y2="558.10" stroke="#555" stroke-width="1.1"/>
<line x1="56.00" y1="553.60" x2="66.00" y2="553.60" stroke="#555" stroke-width="1.1"/>
<line x1="1093.80" y1="553.60" x2="1083.80" y2="553.60" stroke="#555" stroke-width="1.1"/>
<line x1="56.00" y1="549.10" x2="66.00" y2="549.10" stroke="#555" stroke-width="1.1"/>
<line x1="1093.80" y1="549.10" x2="1083.80" y2="549.10" stroke="#555" stroke-width="1.1"/>
<line x1="56.00" y1="544.60" x2="66.00" y2="544.60" stroke="#555" stroke-width="1.1"/>
<line x1="1093.80" y1="544.60" x2="1083.80" y2="544.60" stroke="#555" stroke-width="1.1"/>
<line x1="56.00" y1="540.10" x2="76.50" y2="540.10" stroke="#555" stroke-width="1.1"/>
<line x1="1093.80" y1="540.10" x2="1073.30" y2="540.10" stroke="#555" stroke-width="1.1"/>
<line x1="56.00" y1="535.60" x2="66.00" y2="535.60" stroke="#555" stroke-width="1.1"/>
<line x1="1093.80" y1="535.60" x2="1083.80" y2="535.60" stroke="#555" stroke-width="1.1"/>
<line x1="56.00" y1="531.10" x2="66.00" y2="531.10" stroke="#555" stroke-width="1.1"/>
<line x1="1093.80" y1="531.10" x2="1083.80" y2="531.10" stroke="#555" stroke-width="1.1"/>
<line x1="56.00" y1="526.60" x2="66.00" y2="526.60" stroke="#555" stroke-width="1.1"/>
<line x1="1093.80" y1="526.60" x2="1083.80" y2="526.60" stroke="#555" stroke-width="1.1"/>
<line x1="56.00" y1="522.10" x2="66.00" y2="522.10" stroke="#555" stroke-width="1.1"/>
<line x1="1093.80" y1="522.10" x2="1083.80" y2="522.10" stroke="#555" stroke-width="1.1"/>
<line x1="56.00" y1="517.60" x2="66.00" y2="517.60" stroke="#555" stroke-width="1.1"/>
<line x1="1093.80" y1="517.60" x2="1083.80" y2="517.60" stroke="#555" stroke-width="1.1"/>
<line x1="56.00" y1="513.10" x2="66.00" y2="513.10" stroke="#555" stroke-width="1.1"/>
<line x1="1093.80" y1="513.10" x2="1083.80" y2="513.10" stroke="#555" stroke-width="1.1"/>
<line x1="56.00" y1="508.60" x2="66.00" y2="508.60" stroke="#555" stroke-width="1.1"/>
<line x1="1093.80" y1="508.60" x2="1083.80" y2="508.60" stroke="#555" stroke-width="1.1"/>
<line x1="56.00" y1="504.10" x2="66.00" y2="504.10" stroke="#555" stroke-width="1.1"/>
<line x1="1093.80" y1="504.10" x2="1083.80" y2="504.10" stroke="#555" stroke-width="1.1"/>
<text x="49.6" y="675.6" font-size="15" fill="#3c3c3c" text-anchor="end" textLength="7.5" lengthAdjust="spacingAndGlyphs">0</text>
<text x="49.6" y="636.1" font-size="15" fill="#3c3c3c" text-anchor="end" textLength="16.7" lengthAdjust="spacingAndGlyphs">10</text>
<text x="49.6" y="591.1" font-size="15" fill="#3c3c3c" text-anchor="end" textLength="16.7" lengthAdjust="spacingAndGlyphs">20</text>
<text x="49.6" y="546.1" font-size="15" fill="#3c3c3c" text-anchor="end" textLength="16.7" lengthAdjust="spacingAndGlyphs">30</text>
<line x1="56.00" y1="885.84" x2="66.00" y2="885.84" stroke="#555" stroke-width="1.1"/>
<line x1="1093.80" y1="885.84" x2="1083.80" y2="885.84" stroke="#555" stroke-width="1.1"/>
<line x1="56.00" y1="878.57" x2="66.00" y2="878.57" stroke="#555" stroke-width="1.1"/>
<line x1="1093.80" y1="878.57" x2="1083.80" y2="878.57" stroke="#555" stroke-width="1.1"/>
<line x1="56.00" y1="871.31" x2="66.00" y2="871.31" stroke="#555" stroke-width="1.1"/>
<line x1="1093.80" y1="871.31" x2="1083.80" y2="871.31" stroke="#555" stroke-width="1.1"/>
<line x1="56.00" y1="864.04" x2="76.50" y2="864.04" stroke="#555" stroke-width="1.1"/>
<line x1="1093.80" y1="864.04" x2="1073.30" y2="864.04" stroke="#555" stroke-width="1.1"/>
<line x1="56.00" y1="856.77" x2="66.00" y2="856.77" stroke="#555" stroke-width="1.1"/>
<line x1="1093.80" y1="856.77" x2="1083.80" y2="856.77" stroke="#555" stroke-width="1.1"/>
<line x1="56.00" y1="849.51" x2="66.00" y2="849.51" stroke="#555" stroke-width="1.1"/>
<line x1="1093.80" y1="849.51" x2="1083.80" y2="849.51" stroke="#555" stroke-width="1.1"/>
<line x1="56.00" y1="842.25" x2="66.00" y2="842.25" stroke="#555" stroke-width="1.1"/>
<line x1="1093.80" y1="842.25" x2="1083.80" y2="842.25" stroke="#555" stroke-width="1.1"/>
<line x1="56.00" y1="834.98" x2="76.50" y2="834.98" stroke="#555" stroke-width="1.1"/>
<line x1="1093.80" y1="834.98" x2="1073.30" y2="834.98" stroke="#555" stroke-width="1.1"/>
<line x1="56.00" y1="827.72" x2="66.00" y2="827.72" stroke="#555" stroke-width="1.1"/>
<line x1="1093.80" y1="827.72" x2="1083.80" y2="827.72" stroke="#555" stroke-width="1.1"/>
<line x1="56.00" y1="820.45" x2="66.00" y2="820.45" stroke="#555" stroke-width="1.1"/>
<line x1="1093.80" y1="820.45" x2="1083.80" y2="820.45" stroke="#555" stroke-width="1.1"/>
<line x1="56.00" y1="813.19" x2="66.00" y2="813.19" stroke="#555" stroke-width="1.1"/>
<line x1="1093.80" y1="813.19" x2="1083.80" y2="813.19" stroke="#555" stroke-width="1.1"/>
<line x1="56.00" y1="805.92" x2="76.50" y2="805.92" stroke="#555" stroke-width="1.1"/>
<line x1="1093.80" y1="805.92" x2="1073.30" y2="805.92" stroke="#555" stroke-width="1.1"/>
<line x1="56.00" y1="798.65" x2="66.00" y2="798.65" stroke="#555" stroke-width="1.1"/>
<line x1="1093.80" y1="798.65" x2="1083.80" y2="798.65" stroke="#555" stroke-width="1.1"/>
<line x1="56.00" y1="791.39" x2="66.00" y2="791.39" stroke="#555" stroke-width="1.1"/>
<line x1="1093.80" y1="791.39" x2="1083.80" y2="791.39" stroke="#555" stroke-width="1.1"/>
<line x1="56.00" y1="784.12" x2="66.00" y2="784.12" stroke="#555" stroke-width="1.1"/>
<line x1="1093.80" y1="784.12" x2="1083.80" y2="784.12" stroke="#555" stroke-width="1.1"/>
<line x1="56.00" y1="776.86" x2="76.50" y2="776.86" stroke="#555" stroke-width="1.1"/>
<line x1="1093.80" y1="776.86" x2="1073.30" y2="776.86" stroke="#555" stroke-width="1.1"/>
<line x1="56.00" y1="769.60" x2="66.00" y2="769.60" stroke="#555" stroke-width="1.1"/>
<line x1="1093.80" y1="769.60" x2="1083.80" y2="769.60" stroke="#555" stroke-width="1.1"/>
<line x1="56.00" y1="762.33" x2="66.00" y2="762.33" stroke="#555" stroke-width="1.1"/>
<line x1="1093.80" y1="762.33" x2="1083.80" y2="762.33" stroke="#555" stroke-width="1.1"/>
<line x1="56.00" y1="755.07" x2="66.00" y2="755.07" stroke="#555" stroke-width="1.1"/>
<line x1="1093.80" y1="755.07" x2="1083.80" y2="755.07" stroke="#555" stroke-width="1.1"/>
<line x1="56.00" y1="747.80" x2="76.50" y2="747.80" stroke="#555" stroke-width="1.1"/>
<line x1="1093.80" y1="747.80" x2="1073.30" y2="747.80" stroke="#555" stroke-width="1.1"/>
<line x1="56.00" y1="740.53" x2="66.00" y2="740.53" stroke="#555" stroke-width="1.1"/>
<line x1="1093.80" y1="740.53" x2="1083.80" y2="740.53" stroke="#555" stroke-width="1.1"/>
<line x1="56.00" y1="733.27" x2="66.00" y2="733.27" stroke="#555" stroke-width="1.1"/>
<line x1="1093.80" y1="733.27" x2="1083.80" y2="733.27" stroke="#555" stroke-width="1.1"/>
<line x1="56.00" y1="726.00" x2="66.00" y2="726.00" stroke="#555" stroke-width="1.1"/>
<line x1="1093.80" y1="726.00" x2="1083.80" y2="726.00" stroke="#555" stroke-width="1.1"/>
<line x1="56.00" y1="718.74" x2="76.50" y2="718.74" stroke="#555" stroke-width="1.1"/>
<line x1="1093.80" y1="718.74" x2="1073.30" y2="718.74" stroke="#555" stroke-width="1.1"/>
<line x1="56.00" y1="711.48" x2="66.00" y2="711.48" stroke="#555" stroke-width="1.1"/>
<line x1="1093.80" y1="711.48" x2="1083.80" y2="711.48" stroke="#555" stroke-width="1.1"/>
<line x1="56.00" y1="704.21" x2="66.00" y2="704.21" stroke="#555" stroke-width="1.1"/>
<line x1="1093.80" y1="704.21" x2="1083.80" y2="704.21" stroke="#555" stroke-width="1.1"/>
<line x1="56.00" y1="696.94" x2="66.00" y2="696.94" stroke="#555" stroke-width="1.1"/>
<line x1="1093.80" y1="696.94" x2="1083.80" y2="696.94" stroke="#555" stroke-width="1.1"/>
<line x1="56.00" y1="689.68" x2="76.50" y2="689.68" stroke="#555" stroke-width="1.1"/>
<line x1="1093.80" y1="689.68" x2="1073.30" y2="689.68" stroke="#555" stroke-width="1.1"/>
<line x1="56.00" y1="682.41" x2="66.00" y2="682.41" stroke="#555" stroke-width="1.1"/>
<line x1="1093.80" y1="682.41" x2="1083.80" y2="682.41" stroke="#555" stroke-width="1.1"/>
<text x="49.6" y="893.6" font-size="15" fill="#3c3c3c" text-anchor="end" textLength="20.0" lengthAdjust="spacingAndGlyphs">0.0</text>
<text x="49.6" y="870.0" font-size="15" fill="#3c3c3c" text-anchor="end" textLength="20.0" lengthAdjust="spacingAndGlyphs">0.2</text>
<text x="49.6" y="841.0" font-size="15" fill="#3c3c3c" text-anchor="end" textLength="20.0" lengthAdjust="spacingAndGlyphs">0.4</text>
<text x="49.6" y="811.9" font-size="15" fill="#3c3c3c" text-anchor="end" textLength="20.0" lengthAdjust="spacingAndGlyphs">0.6</text>
<text x="49.6" y="782.9" font-size="15" fill="#3c3c3c" text-anchor="end" textLength="20.0" lengthAdjust="spacingAndGlyphs">0.8</text>
<text x="49.6" y="753.8" font-size="15" fill="#3c3c3c" text-anchor="end" textLength="20.0" lengthAdjust="spacingAndGlyphs">1.0</text>
<text x="49.6" y="724.7" font-size="15" fill="#3c3c3c" text-anchor="end" textLength="20.0" lengthAdjust="spacingAndGlyphs">1.2</text>
<text x="49.6" y="695.7" font-size="15" fill="#3c3c3c" text-anchor="end" textLength="20.0" lengthAdjust="spacingAndGlyphs">1.4</text>
<line x1="56.00" y1="675.10" x2="56.00" y2="671.10" stroke="#555" stroke-width="1.1"/>
<line x1="56.00" y1="893.10" x2="56.00" y2="896.60" stroke="#555" stroke-width="1.1"/>
<line x1="91.18" y1="675.10" x2="91.18" y2="671.10" stroke="#555" stroke-width="1.1"/>
<line x1="91.18" y1="893.10" x2="91.18" y2="896.60" stroke="#555" stroke-width="1.1"/>
<line x1="126.36" y1="675.10" x2="126.36" y2="671.10" stroke="#555" stroke-width="1.1"/>
<line x1="126.36" y1="893.10" x2="126.36" y2="896.60" stroke="#555" stroke-width="1.1"/>
<line x1="161.54" y1="675.10" x2="161.54" y2="668.10" stroke="#555" stroke-width="1.1"/>
<line x1="161.54" y1="893.10" x2="161.54" y2="899.60" stroke="#555" stroke-width="1.1"/>
<text x="161.5" y="920.9" font-size="15" fill="#3c3c3c" text-anchor="middle" textLength="34.4" lengthAdjust="spacingAndGlyphs">1300</text>
<line x1="196.72" y1="675.10" x2="196.72" y2="671.10" stroke="#555" stroke-width="1.1"/>
<line x1="196.72" y1="893.10" x2="196.72" y2="896.60" stroke="#555" stroke-width="1.1"/>
<line x1="231.90" y1="675.10" x2="231.90" y2="671.10" stroke="#555" stroke-width="1.1"/>
<line x1="231.90" y1="893.10" x2="231.90" y2="896.60" stroke="#555" stroke-width="1.1"/>
<line x1="267.08" y1="675.10" x2="267.08" y2="671.10" stroke="#555" stroke-width="1.1"/>
<line x1="267.08" y1="893.10" x2="267.08" y2="896.60" stroke="#555" stroke-width="1.1"/>
<line x1="302.26" y1="675.10" x2="302.26" y2="671.10" stroke="#555" stroke-width="1.1"/>
<line x1="302.26" y1="893.10" x2="302.26" y2="896.60" stroke="#555" stroke-width="1.1"/>
<line x1="337.44" y1="675.10" x2="337.44" y2="668.10" stroke="#555" stroke-width="1.1"/>
<line x1="337.44" y1="893.10" x2="337.44" y2="899.60" stroke="#555" stroke-width="1.1"/>
<text x="337.4" y="920.9" font-size="15" fill="#3c3c3c" text-anchor="middle" textLength="34.4" lengthAdjust="spacingAndGlyphs">1350</text>
<line x1="372.62" y1="675.10" x2="372.62" y2="671.10" stroke="#555" stroke-width="1.1"/>
<line x1="372.62" y1="893.10" x2="372.62" y2="896.60" stroke="#555" stroke-width="1.1"/>
<line x1="407.80" y1="675.10" x2="407.80" y2="671.10" stroke="#555" stroke-width="1.1"/>
<line x1="407.80" y1="893.10" x2="407.80" y2="896.60" stroke="#555" stroke-width="1.1"/>
<line x1="442.98" y1="675.10" x2="442.98" y2="671.10" stroke="#555" stroke-width="1.1"/>
<line x1="442.98" y1="893.10" x2="442.98" y2="896.60" stroke="#555" stroke-width="1.1"/>
<line x1="478.16" y1="675.10" x2="478.16" y2="671.10" stroke="#555" stroke-width="1.1"/>
<line x1="478.16" y1="893.10" x2="478.16" y2="896.60" stroke="#555" stroke-width="1.1"/>
<line x1="513.34" y1="675.10" x2="513.34" y2="668.10" stroke="#555" stroke-width="1.1"/>
<line x1="513.34" y1="893.10" x2="513.34" y2="899.60" stroke="#555" stroke-width="1.1"/>
<text x="513.3" y="920.9" font-size="15" fill="#3c3c3c" text-anchor="middle" textLength="34.4" lengthAdjust="spacingAndGlyphs">1400</text>
<line x1="548.52" y1="675.10" x2="548.52" y2="671.10" stroke="#555" stroke-width="1.1"/>
<line x1="548.52" y1="893.10" x2="548.52" y2="896.60" stroke="#555" stroke-width="1.1"/>
<line x1="583.69" y1="675.10" x2="583.69" y2="671.10" stroke="#555" stroke-width="1.1"/>
<line x1="583.69" y1="893.10" x2="583.69" y2="896.60" stroke="#555" stroke-width="1.1"/>
<line x1="618.87" y1="675.10" x2="618.87" y2="671.10" stroke="#555" stroke-width="1.1"/>
<line x1="618.87" y1="893.10" x2="618.87" y2="896.60" stroke="#555" stroke-width="1.1"/>
<line x1="654.05" y1="675.10" x2="654.05" y2="671.10" stroke="#555" stroke-width="1.1"/>
<line x1="654.05" y1="893.10" x2="654.05" y2="896.60" stroke="#555" stroke-width="1.1"/>
<line x1="689.23" y1="675.10" x2="689.23" y2="668.10" stroke="#555" stroke-width="1.1"/>
<line x1="689.23" y1="893.10" x2="689.23" y2="899.60" stroke="#555" stroke-width="1.1"/>
<text x="689.2" y="920.9" font-size="15" fill="#3c3c3c" text-anchor="middle" textLength="34.4" lengthAdjust="spacingAndGlyphs">1450</text>
<line x1="724.41" y1="675.10" x2="724.41" y2="671.10" stroke="#555" stroke-width="1.1"/>
<line x1="724.41" y1="893.10" x2="724.41" y2="896.60" stroke="#555" stroke-width="1.1"/>
<line x1="759.59" y1="675.10" x2="759.59" y2="671.10" stroke="#555" stroke-width="1.1"/>
<line x1="759.59" y1="893.10" x2="759.59" y2="896.60" stroke="#555" stroke-width="1.1"/>
<line x1="794.77" y1="675.10" x2="794.77" y2="671.10" stroke="#555" stroke-width="1.1"/>
<line x1="794.77" y1="893.10" x2="794.77" y2="896.60" stroke="#555" stroke-width="1.1"/>
<line x1="829.95" y1="675.10" x2="829.95" y2="671.10" stroke="#555" stroke-width="1.1"/>
<line x1="829.95" y1="893.10" x2="829.95" y2="896.60" stroke="#555" stroke-width="1.1"/>
<line x1="865.13" y1="675.10" x2="865.13" y2="668.10" stroke="#555" stroke-width="1.1"/>
<line x1="865.13" y1="893.10" x2="865.13" y2="899.60" stroke="#555" stroke-width="1.1"/>
<text x="865.1" y="920.9" font-size="15" fill="#3c3c3c" text-anchor="middle" textLength="34.4" lengthAdjust="spacingAndGlyphs">1500</text>
<line x1="900.31" y1="675.10" x2="900.31" y2="671.10" stroke="#555" stroke-width="1.1"/>
<line x1="900.31" y1="893.10" x2="900.31" y2="896.60" stroke="#555" stroke-width="1.1"/>
<line x1="935.49" y1="675.10" x2="935.49" y2="671.10" stroke="#555" stroke-width="1.1"/>
<line x1="935.49" y1="893.10" x2="935.49" y2="896.60" stroke="#555" stroke-width="1.1"/>
<line x1="970.67" y1="675.10" x2="970.67" y2="671.10" stroke="#555" stroke-width="1.1"/>
<line x1="970.67" y1="893.10" x2="970.67" y2="896.60" stroke="#555" stroke-width="1.1"/>
<line x1="1005.85" y1="675.10" x2="1005.85" y2="671.10" stroke="#555" stroke-width="1.1"/>
<line x1="1005.85" y1="893.10" x2="1005.85" y2="896.60" stroke="#555" stroke-width="1.1"/>
<line x1="1041.03" y1="675.10" x2="1041.03" y2="668.10" stroke="#555" stroke-width="1.1"/>
<line x1="1041.03" y1="893.10" x2="1041.03" y2="899.60" stroke="#555" stroke-width="1.1"/>
<text x="1041.0" y="920.9" font-size="15" fill="#3c3c3c" text-anchor="middle" textLength="34.4" lengthAdjust="spacingAndGlyphs">1550</text>
<line x1="1076.21" y1="675.10" x2="1076.21" y2="671.10" stroke="#555" stroke-width="1.1"/>
<line x1="1076.21" y1="893.10" x2="1076.21" y2="896.60" stroke="#555" stroke-width="1.1"/>
<line x1="83.08" y1="499.60" x2="83.08" y2="502.40" stroke="#555" stroke-width="1.0"/>
<text x="81.6" y="514.8" font-size="13" fill="#3c3c3c" text-anchor="middle" textLength="23.3" lengthAdjust="spacingAndGlyphs">−26</text>
<line x1="113.38" y1="499.60" x2="113.38" y2="502.40" stroke="#555" stroke-width="1.0"/>
<text x="111.9" y="514.8" font-size="13" fill="#3c3c3c" text-anchor="middle" textLength="23.3" lengthAdjust="spacingAndGlyphs">−24</text>
<line x1="143.85" y1="499.60" x2="143.85" y2="502.40" stroke="#555" stroke-width="1.0"/>
<text x="142.3" y="514.8" font-size="13" fill="#3c3c3c" text-anchor="middle" textLength="23.3" lengthAdjust="spacingAndGlyphs">−22</text>
<line x1="174.49" y1="499.60" x2="174.49" y2="502.40" stroke="#555" stroke-width="1.0"/>
<text x="173.0" y="514.8" font-size="13" fill="#3c3c3c" text-anchor="middle" textLength="23.3" lengthAdjust="spacingAndGlyphs">−20</text>
<line x1="205.32" y1="499.60" x2="205.32" y2="502.40" stroke="#555" stroke-width="1.0"/>
<text x="203.8" y="514.8" font-size="13" fill="#3c3c3c" text-anchor="middle" textLength="23.3" lengthAdjust="spacingAndGlyphs">−18</text>
<line x1="236.32" y1="499.60" x2="236.32" y2="502.40" stroke="#555" stroke-width="1.0"/>
<text x="234.8" y="514.8" font-size="13" fill="#3c3c3c" text-anchor="middle" textLength="23.3" lengthAdjust="spacingAndGlyphs">−16</text>
<line x1="267.51" y1="499.60" x2="267.51" y2="502.40" stroke="#555" stroke-width="1.0"/>
<text x="266.0" y="514.8" font-size="13" fill="#3c3c3c" text-anchor="middle" textLength="23.3" lengthAdjust="spacingAndGlyphs">−14</text>
<line x1="298.89" y1="499.60" x2="298.89" y2="502.40" stroke="#555" stroke-width="1.0"/>
<text x="297.4" y="514.8" font-size="13" fill="#3c3c3c" text-anchor="middle" textLength="23.3" lengthAdjust="spacingAndGlyphs">−12</text>
<line x1="330.47" y1="499.60" x2="330.47" y2="502.40" stroke="#555" stroke-width="1.0"/>
<text x="329.0" y="514.8" font-size="13" fill="#3c3c3c" text-anchor="middle" textLength="23.3" lengthAdjust="spacingAndGlyphs">−10</text>
<line x1="362.24" y1="499.60" x2="362.24" y2="502.40" stroke="#555" stroke-width="1.0"/>
<text x="363.9" y="514.8" font-size="13" fill="#3c3c3c" text-anchor="middle" textLength="15.8" lengthAdjust="spacingAndGlyphs">−8</text>
<line x1="394.21" y1="499.60" x2="394.21" y2="502.40" stroke="#555" stroke-width="1.0"/>
<text x="395.9" y="514.8" font-size="13" fill="#3c3c3c" text-anchor="middle" textLength="15.8" lengthAdjust="spacingAndGlyphs">−6</text>
<line x1="426.39" y1="499.60" x2="426.39" y2="502.40" stroke="#555" stroke-width="1.0"/>
<text x="428.1" y="514.8" font-size="13" fill="#3c3c3c" text-anchor="middle" textLength="15.8" lengthAdjust="spacingAndGlyphs">−4</text>
<line x1="458.78" y1="499.60" x2="458.78" y2="502.40" stroke="#555" stroke-width="1.0"/>
<text x="460.5" y="514.8" font-size="13" fill="#3c3c3c" text-anchor="middle" textLength="15.8" lengthAdjust="spacingAndGlyphs">−2</text>
<line x1="491.38" y1="499.60" x2="491.38" y2="502.40" stroke="#555" stroke-width="1.0"/>
<text x="491.8" y="514.8" font-size="13" fill="#3c3c3c" text-anchor="middle" textLength="6.4" lengthAdjust="spacingAndGlyphs">0</text>
<line x1="581.15" y1="499.60" x2="581.15" y2="502.40" stroke="#555" stroke-width="1.0"/>
<text x="579.7" y="514.8" font-size="13" fill="#3c3c3c" text-anchor="middle" textLength="23.3" lengthAdjust="spacingAndGlyphs">−26</text>
<line x1="614.81" y1="499.60" x2="614.81" y2="502.40" stroke="#555" stroke-width="1.0"/>
<text x="613.3" y="514.8" font-size="13" fill="#3c3c3c" text-anchor="middle" textLength="23.3" lengthAdjust="spacingAndGlyphs">−24</text>
<line x1="648.65" y1="499.60" x2="648.65" y2="502.40" stroke="#555" stroke-width="1.0"/>
<text x="647.2" y="514.8" font-size="13" fill="#3c3c3c" text-anchor="middle" textLength="23.3" lengthAdjust="spacingAndGlyphs">−22</text>
<line x1="682.70" y1="499.60" x2="682.70" y2="502.40" stroke="#555" stroke-width="1.0"/>
<text x="681.2" y="514.8" font-size="13" fill="#3c3c3c" text-anchor="middle" textLength="23.3" lengthAdjust="spacingAndGlyphs">−20</text>
<line x1="716.93" y1="499.60" x2="716.93" y2="502.40" stroke="#555" stroke-width="1.0"/>
<text x="715.4" y="514.8" font-size="13" fill="#3c3c3c" text-anchor="middle" textLength="23.3" lengthAdjust="spacingAndGlyphs">−18</text>
<line x1="751.37" y1="499.60" x2="751.37" y2="502.40" stroke="#555" stroke-width="1.0"/>
<text x="749.9" y="514.8" font-size="13" fill="#3c3c3c" text-anchor="middle" textLength="23.3" lengthAdjust="spacingAndGlyphs">−16</text>
<line x1="786.02" y1="499.60" x2="786.02" y2="502.40" stroke="#555" stroke-width="1.0"/>
<text x="784.5" y="514.8" font-size="13" fill="#3c3c3c" text-anchor="middle" textLength="23.3" lengthAdjust="spacingAndGlyphs">−14</text>
<line x1="820.88" y1="499.60" x2="820.88" y2="502.40" stroke="#555" stroke-width="1.0"/>
<text x="819.4" y="514.8" font-size="13" fill="#3c3c3c" text-anchor="middle" textLength="23.3" lengthAdjust="spacingAndGlyphs">−12</text>
<line x1="855.95" y1="499.60" x2="855.95" y2="502.40" stroke="#555" stroke-width="1.0"/>
<text x="854.5" y="514.8" font-size="13" fill="#3c3c3c" text-anchor="middle" textLength="23.3" lengthAdjust="spacingAndGlyphs">−10</text>
<line x1="891.25" y1="499.60" x2="891.25" y2="502.40" stroke="#555" stroke-width="1.0"/>
<text x="892.9" y="514.8" font-size="13" fill="#3c3c3c" text-anchor="middle" textLength="15.8" lengthAdjust="spacingAndGlyphs">−8</text>
<line x1="926.76" y1="499.60" x2="926.76" y2="502.40" stroke="#555" stroke-width="1.0"/>
<text x="928.5" y="514.8" font-size="13" fill="#3c3c3c" text-anchor="middle" textLength="15.8" lengthAdjust="spacingAndGlyphs">−6</text>
<line x1="962.51" y1="499.60" x2="962.51" y2="502.40" stroke="#555" stroke-width="1.0"/>
<text x="964.2" y="514.8" font-size="13" fill="#3c3c3c" text-anchor="middle" textLength="15.8" lengthAdjust="spacingAndGlyphs">−4</text>
<line x1="998.48" y1="499.60" x2="998.48" y2="502.40" stroke="#555" stroke-width="1.0"/>
<text x="1000.2" y="514.8" font-size="13" fill="#3c3c3c" text-anchor="middle" textLength="15.8" lengthAdjust="spacingAndGlyphs">−2</text>
<line x1="1034.70" y1="499.60" x2="1034.70" y2="502.40" stroke="#555" stroke-width="1.0"/>
<text x="1035.1" y="514.8" font-size="13" fill="#3c3c3c" text-anchor="middle" textLength="6.4" lengthAdjust="spacingAndGlyphs">0</text>
<text x="516.5" y="514.8" font-size="16" fill="#ff0000" textLength="12.7" lengthAdjust="spacingAndGlyphs" stroke="#ff0000" stroke-width="0.45">Si</text>
<text x="538.6" y="514.8" font-size="16" fill="#ff0000" textLength="12.7" lengthAdjust="spacingAndGlyphs" stroke="#ff0000" stroke-width="0.45">IV</text>
<text x="1043.0" y="514.8" font-size="16" fill="#ff0000" textLength="8.8" lengthAdjust="spacingAndGlyphs" stroke="#ff0000" stroke-width="0.45">C</text>
<text x="1060.2" y="514.8" font-size="16" fill="#ff0000" textLength="13.3" lengthAdjust="spacingAndGlyphs" stroke="#ff0000" stroke-width="0.45">IV</text>
<text x="574.9" y="491.9" font-size="19.8" fill="#3c3c3c" text-anchor="middle" textLength="261.2" lengthAdjust="spacing">SDSS J145615.24+432217.3</text>
<text x="497.4" y="938.7" font-size="15.5" fill="#3c3c3c" textLength="31.7" lengthAdjust="spacingAndGlyphs">Rest</text>
<text x="539.1" y="938.7" font-size="15.5" fill="#3c3c3c" textLength="84.3" lengthAdjust="spacingAndGlyphs">wavelength</text>
<text x="632.4" y="938.7" font-size="15.5" fill="#3c3c3c" textLength="20.0" lengthAdjust="spacingAndGlyphs">(Å)</text>
<text x="20.5" y="587.4" font-size="15.2" fill="#3c3c3c" text-anchor="middle" textLength="96.9" lengthAdjust="spacing" transform="rotate(-90 20.5 587.4)" word-spacing="3">Flux Density</text>
<text x="15.8" y="784.1" font-size="15.2" fill="#3c3c3c" text-anchor="middle" textLength="128.5" lengthAdjust="spacing" transform="rotate(-90 15.8 784.1)" word-spacing="3">Normalized Flux</text>
<text x="689.5" y="528.9" font-size="13.4" fill="#111" textLength="72.6" lengthAdjust="spacingAndGlyphs" stroke="#111" stroke-width="0.38">MJD: 52734</text>
<text x="689.5" y="543.4" font-size="13.4" fill="#ff0000" textLength="72.6" lengthAdjust="spacingAndGlyphs" stroke="#ff0000" stroke-width="0.38">MJD: 56098</text>
<text x="689.5" y="558.6" font-size="13.4" fill="#0000ff" textLength="72.6" lengthAdjust="spacingAndGlyphs" stroke="#0000ff" stroke-width="0.38">MJD: 57104</text>
<line x1="596.30" y1="724.60" x2="749.10" y2="724.60" stroke="#262626" stroke-width="2.0"/>
<line x1="749.10" y1="733.50" x2="815.90" y2="733.50" stroke="#262626" stroke-width="2.0"/>
<line x1="249.30" y1="811.70" x2="277.20" y2="811.70" stroke="#262626" stroke-width="2.0"/>
<text x="631.1" y="704.7" font-size="15" fill="#2a2a2a" textLength="53.3" lengthAdjust="spacingAndGlyphs" stroke="#2a2a2a" stroke-width="0.3">system</text>
<text x="690.8" y="704.7" font-size="15" fill="#2a2a2a" textLength="11.4" lengthAdjust="spacingAndGlyphs" stroke="#2a2a2a" stroke-width="0.3">A</text>
<text x="648.9" y="718.7" font-size="12.5" fill="#2a2a2a" textLength="12.7" lengthAdjust="spacingAndGlyphs" stroke="#2a2a2a" stroke-width="0.3">(C</text>
<text x="666.6" y="718.7" font-size="12.5" fill="#2a2a2a" textLength="16.5" lengthAdjust="spacingAndGlyphs" stroke="#2a2a2a" stroke-width="0.3">IV)</text>
<text x="759.3" y="704.7" font-size="15" fill="#2a2a2a" textLength="53.3" lengthAdjust="spacingAndGlyphs" stroke="#2a2a2a" stroke-width="0.3">system</text>
<text x="820.2" y="704.7" font-size="15" fill="#2a2a2a" textLength="11.4" lengthAdjust="spacingAndGlyphs" stroke="#2a2a2a" stroke-width="0.3">B</text>
<text x="777.0" y="718.7" font-size="12.5" fill="#2a2a2a" textLength="12.7" lengthAdjust="spacingAndGlyphs" stroke="#2a2a2a" stroke-width="0.3">(C</text>
<text x="794.8" y="718.7" font-size="12.5" fill="#2a2a2a" textLength="16.5" lengthAdjust="spacingAndGlyphs" stroke="#2a2a2a" stroke-width="0.3">IV)</text>
<text x="239.1" y="827.9" font-size="15" fill="#2a2a2a" textLength="53.3" lengthAdjust="spacingAndGlyphs" stroke="#2a2a2a" stroke-width="0.3">system</text>
<text x="298.8" y="827.9" font-size="15" fill="#2a2a2a" textLength="11.4" lengthAdjust="spacingAndGlyphs" stroke="#2a2a2a" stroke-width="0.3">B</text>
<text x="249.8" y="843.7" font-size="12.5" fill="#2a2a2a" textLength="17.0" lengthAdjust="spacingAndGlyphs" stroke="#2a2a2a" stroke-width="0.3">(Si</text>
<text x="270.9" y="843.7" font-size="12.5" fill="#2a2a2a" textLength="16.5" lengthAdjust="spacingAndGlyphs" stroke="#2a2a2a" stroke-width="0.3">IV)</text>
<clipPath id="clipU2"><rect x="55.9" y="972.7" width="1038.3999999999999" height="175.79999999999995"/></clipPath>
<clipPath id="clipL2"><rect x="55.9" y="1148.5" width="1038.3999999999999" height="217.70000000000005"/></clipPath>
<g clip-path="url(#clipU2)"><polyline points="55.9,1025.4 57.4,1020.8 58.9,1046.4 60.4,1019.8 61.9,1028.7 63.4,1021.2 64.9,1030.0 66.4,1016.8 67.9,1055.3 69.4,1008.8 70.9,1018.6 72.4,1047.5 73.9,1044.4 75.4,998.4 76.9,1087.3 78.4,1032.0 79.9,1051.2 81.4,1046.6 82.9,1052.6 84.4,1050.5 85.9,1052.6 87.4,1043.6 88.9,1026.3 90.4,1050.5 91.9,1067.8 93.4,1067.2 94.9,1053.5 96.4,1035.5 97.9,1039.6 99.4,1059.3 100.9,1061.0 102.4,1062.5 103.9,1047.3 105.4,1034.9 106.9,1048.8 108.4,1038.1 109.9,1043.7 111.4,1025.2 112.9,1078.9 114.4,1080.5 115.9,1050.6 117.4,1037.6 118.9,1053.4 120.4,1040.3 121.9,1064.5 123.4,1065.6 124.9,1057.1 126.4,1033.0 127.9,1035.0 129.4,1056.3 130.9,1042.4 132.4,1054.8 133.9,1044.3 135.4,1061.4 136.9,1021.0 138.4,1055.1 139.9,1044.3 141.4,1054.4 142.9,1058.1 144.4,1046.8 145.9,1066.2 147.4,1080.9 148.9,1084.6 150.4,1050.3 151.9,1064.6 153.4,1040.6 154.9,1032.9 156.4,1058.1 157.9,1028.6 159.4,1087.0 160.9,1049.0 162.4,1075.0 163.9,1077.9 165.4,1072.7 166.9,1024.8 168.4,1041.8 169.9,1038.0 171.4,1052.1 172.9,1058.5 174.4,1040.7 175.9,1061.9 177.4,1047.2 178.9,1035.6 180.4,1042.3 181.9,1036.2 183.4,1051.9 184.9,1037.5 186.4,1041.6 187.9,1073.4 189.4,1065.6 190.9,1062.0 192.4,1042.7 193.9,1049.2 195.4,1050.7 196.9,1053.5 198.4,1035.8 199.9,1032.4 201.4,1067.9 202.9,1084.5 204.4,1052.3 205.9,1066.4 207.4,1063.8 208.9,1068.3 210.4,1083.0 211.9,1088.6 213.4,1052.0 214.9,1049.9 216.4,1052.0 217.9,1062.5 219.4,1061.4 220.9,1050.2 222.4,1063.9 223.9,1070.6 225.4,1108.5 226.9,1061.3 228.4,1039.3 229.9,1091.5 231.4,1054.9 232.9,1053.7 234.4,1081.0 235.9,1058.5 237.4,1061.4 238.9,1054.5 240.4,1069.7 241.9,1054.1 243.4,1037.3 244.9,1027.8 246.4,1038.7 247.9,1065.7 249.4,1057.2 250.9,1055.3 252.4,1071.7 253.9,1062.9 255.4,1050.7 256.9,1063.7 258.4,1082.2 259.9,1074.3 261.4,1051.5 262.9,1059.3 264.4,1057.9 265.9,1033.3 267.4,1061.2 268.9,1061.6 270.4,1051.4 271.9,1018.7 273.4,1039.2 274.9,1022.5 276.4,1043.4 277.9,1048.8 279.4,1050.6 280.9,1025.1 282.4,1041.8 283.9,1052.8 285.4,1019.2 286.9,1042.6 288.4,1040.2 289.9,1044.3 291.4,1049.1 292.9,1042.9 294.4,1049.8 295.9,1037.3 297.4,1029.5 298.9,1029.0 300.4,1027.4 301.9,1023.0 303.4,1033.3 304.9,1046.9 306.4,1030.3 307.9,1067.0 309.4,1053.7 310.9,1039.5 312.4,1067.2 313.9,1022.7 315.4,1057.6 316.9,1064.3 318.4,1053.8 319.9,1053.8 321.4,1043.4 322.9,1045.1 324.4,1028.4 325.9,1064.6 327.4,1040.2 328.9,1056.4 330.4,1035.7 331.9,1054.2 333.4,1064.8 334.9,1026.6 336.4,1060.2 337.9,1061.3 339.4,1059.1 340.9,1038.5 342.4,1069.4 343.9,1054.5 345.4,1041.6 346.9,1024.0 348.4,1055.1 349.9,1023.3 351.4,1064.5 352.9,1025.6 354.4,1055.8 355.9,1055.4 357.4,1053.2 358.9,1069.2 360.4,1062.4 361.9,1047.1 363.4,1061.4 364.9,1061.4 366.4,1059.4 367.9,1038.6 369.4,1071.1 370.9,1034.6 372.4,1032.6 373.9,1063.9 375.4,1043.4 376.9,1054.0 378.4,1040.1 379.9,1051.4 381.4,1064.0 382.9,1042.6 384.4,1067.5 385.9,1048.2 387.4,1036.9 388.9,1033.2 390.4,1062.1 391.9,1069.6 393.4,1046.6 394.9,1077.7 396.4,1065.4 397.9,1065.6 399.4,1030.6 400.9,1040.5 402.4,1047.2 403.9,1043.0 405.4,1071.1 406.9,1038.8 408.4,1044.9 409.9,1061.4 411.4,1040.5 412.9,1041.5 414.4,1078.1 415.9,1047.2 417.4,1014.6 418.9,1058.4 420.4,1043.6 421.9,1045.3 423.4,1050.4 424.9,1051.9 426.4,1034.5 427.9,1050.4 429.4,1062.2 430.9,1038.3 432.4,1025.6 433.9,1044.8 435.4,1027.9 436.9,1032.9 438.4,1053.8 439.9,1033.9 441.4,1039.6 442.9,1027.4 444.4,1077.8 445.9,1024.0 447.4,1024.7 448.9,1048.6 450.4,1018.5 451.9,1036.1 453.4,1030.4 454.9,1019.4 456.4,1011.3 457.9,1028.5 459.4,1020.0 460.9,1017.1 462.4,1040.5 463.9,1003.0 465.4,1015.7 466.9,1024.8 468.4,1009.5 469.9,1017.1 471.4,1033.9 472.9,1008.3 474.4,992.8 475.9,1013.0 477.4,1006.8 478.9,1025.6 480.4,990.4 481.9,1018.2 483.4,1024.5 484.9,1034.0 486.4,1032.7 487.9,1033.2 489.4,1015.9 490.9,1039.0 492.4,1045.9 493.9,1072.1 495.4,1048.8 496.9,1064.5 498.4,1014.3 499.9,1055.6 501.4,1033.0 502.9,1007.3 504.4,1052.3 505.9,1013.7 507.4,1065.0 508.9,1034.2 510.4,1054.1 511.9,1036.9 513.4,1041.0 514.9,1025.0 516.4,1034.2 517.9,1036.5 519.4,1047.9 520.9,1033.3 522.4,1052.0 523.9,1049.8 525.4,1049.7 526.9,1032.5 528.4,1008.5 529.9,1042.1 531.4,1014.7 532.9,1056.7 534.4,1051.4 535.9,1036.6 537.4,1036.1 538.9,1034.8 540.4,1024.4 541.9,1048.9 543.4,1032.0 544.9,1043.7 546.4,1085.0 547.9,1060.9 549.4,1055.1 550.9,1047.1 552.4,1042.1 553.9,1053.0 555.4,1032.8 556.9,1062.8 558.4,1051.0 559.9,1039.3 561.4,1065.5 562.9,1035.3 564.4,1039.3 565.9,1053.6 567.4,1051.6 568.9,1052.8 570.4,1051.6 571.9,1036.9 573.4,1052.3 574.9,1092.7 576.4,1101.0 577.9,1058.4 579.4,1087.8 580.9,1072.5 582.4,1060.4 583.9,1053.1 585.4,1036.1 586.9,1050.8 588.4,1016.2 589.9,1050.6 591.4,1042.7 592.9,1040.9 594.4,1054.9 595.9,1041.9 597.4,1046.4 598.9,1051.0 600.4,1066.1 601.9,1059.3 603.4,1044.2 604.9,1054.5 606.4,1049.6 607.9,1050.0 609.4,1052.1 610.9,1055.8 612.4,1049.2 613.9,1046.7 615.4,1049.2 616.9,1051.7 618.4,1065.2 619.9,1067.1 621.4,1052.4 622.9,1080.5 624.4,1069.6 625.9,1051.9 627.4,1070.3 628.9,1075.7 630.4,1054.1 631.9,1108.0 633.4,1073.1 634.9,1079.3 636.4,1085.5 637.9,1074.5 639.4,1073.4 640.9,1085.2 642.4,1100.6 643.9,1105.1 645.4,1107.7 646.9,1101.4 648.4,1117.9 649.9,1100.9 651.4,1084.4 652.9,1090.4 654.4,1114.6 655.9,1086.7 657.4,1087.5 658.9,1090.1 660.4,1062.5 661.9,1077.0 663.4,1075.8 664.9,1085.6 666.4,1087.1 667.9,1079.9 669.4,1073.0 670.9,1038.6 672.4,1093.7 673.9,1067.1 675.4,1074.3 676.9,1046.9 678.4,1074.1 679.9,1072.2 681.4,1048.1 682.9,1044.1 684.4,1062.8 685.9,1073.9 687.4,1099.5 688.9,1106.7 690.4,1071.6 691.9,1070.0 693.4,1055.6 694.9,1064.0 696.4,1072.5 697.9,1053.4 699.4,1047.6 700.9,1077.2 702.4,1059.2 703.9,1057.2 705.4,1082.3 706.9,1067.4 708.4,1075.9 709.9,1062.4 711.4,1064.5 712.9,1105.0 714.4,1083.2 715.9,1065.0 717.4,1076.7 718.9,1096.6 720.4,1091.0 721.9,1099.0 723.4,1082.8 724.9,1103.4 726.4,1073.6 727.9,1078.9 729.4,1069.6 730.9,1077.8 732.4,1079.2 733.9,1081.3 735.4,1086.2 736.9,1117.3 738.4,1088.0 739.9,1104.9 741.4,1124.9 742.9,1077.3 744.4,1096.9 745.9,1117.0 747.4,1094.1 748.9,1093.0 750.4,1096.4 751.9,1081.4 753.4,1113.1 754.9,1089.3 756.4,1112.4 757.9,1095.4 759.4,1093.7 760.9,1118.6 762.4,1064.6 763.9,1121.4 765.4,1116.7 766.9,1103.6 768.4,1108.0 769.9,1082.7 771.4,1102.6 772.9,1078.7 774.4,1099.3 775.9,1083.3 777.4,1082.2 778.9,1089.3 780.4,1080.9 781.9,1115.4 783.4,1061.8 784.9,1057.4 786.4,1089.0 787.9,1077.8 789.4,1068.7 790.9,1074.2 792.4,1055.6 793.9,1045.9 795.4,1099.6 796.9,1057.3 798.4,1056.3 799.9,1064.2 801.4,1077.9 802.9,1071.1 804.4,1065.4 805.9,1046.0 807.4,1076.1 808.9,1061.0 810.4,1044.9 811.9,1050.1 813.4,1064.3 814.9,1066.1 816.4,1084.2 817.9,1083.3 819.4,1073.5 820.9,1053.0 822.4,1053.3 823.9,1047.5 825.4,1052.1 826.9,1053.9 828.4,1061.0 829.9,1072.6 831.4,1048.5 832.9,1067.6 834.4,1084.8 835.9,1057.7 837.4,1062.0 838.9,1034.0 840.4,1066.3 841.9,1058.8 843.4,1076.9 844.9,1057.1 846.4,1075.2 847.9,1108.4 849.4,1090.2 850.9,1087.3 852.4,1056.6 853.9,1067.9 855.4,1058.0 856.9,1073.1 858.4,1071.4 859.9,1064.0 861.4,1051.9 862.9,1060.3 864.4,1090.3 865.9,1053.6 867.4,1062.9 868.9,1053.8 870.4,1047.5 871.9,1038.0 873.4,1070.0 874.9,1065.4 876.4,1055.0 877.9,1048.7 879.4,1070.4 880.9,1072.4 882.4,1091.8 883.9,1089.7 885.4,1091.3 886.9,1037.6 888.4,1050.6 889.9,1045.8 891.4,1052.5 892.9,1066.7 894.4,1090.2 895.9,1041.2 897.4,1063.3 898.9,1081.5 900.4,1023.3 901.9,1062.3 903.4,1038.1 904.9,1060.6 906.4,1079.3 907.9,1066.9 909.4,1047.2 910.9,1083.2 912.4,1063.4 913.9,1042.2 915.4,1041.5 916.9,1055.2 918.4,1088.4 919.9,1060.1 921.4,1048.1 922.9,1062.8 924.4,1116.6 925.9,1089.4 927.4,1058.2 928.9,1060.5 930.4,1063.4 931.9,1062.6 933.4,1064.2 934.9,1071.7 936.4,1053.1 937.9,1044.6 939.4,1044.2 940.9,1053.5 942.4,1079.8 943.9,1043.7 945.4,1062.8 946.9,1027.2 948.4,1054.3 949.9,1019.6 951.4,1040.7 952.9,1026.1 954.4,1045.7 955.9,1040.9 957.4,1074.9 958.9,1053.5 960.4,1053.1 961.9,1035.5 963.4,1061.5 964.9,1030.6 966.4,1048.3 967.9,1035.1 969.4,1057.8 970.9,1067.5 972.4,1067.5 973.9,1051.7 975.4,998.0 976.9,1056.3 978.4,1044.3 979.9,1038.7 981.4,994.6 982.9,1069.1 984.4,1041.9 985.9,1039.4 987.4,1048.1 988.9,1048.8 990.4,1000.8 991.9,1018.6 993.4,1015.0 994.9,1010.6 996.4,1043.2 997.9,1031.3 999.4,1054.5 1000.9,1072.4 1002.4,1055.6 1003.9,1035.6 1005.4,973.8 1006.9,1013.4 1008.4,1038.0 1009.9,1036.0 1011.4,998.4 1012.9,1012.1 1014.4,1027.5 1015.9,1016.0 1017.4,1016.1 1018.9,1036.3 1020.4,1027.1 1021.9,1053.5 1023.4,1012.9 1024.9,1015.3 1026.4,998.5 1027.9,998.3 1029.4,1023.7 1030.9,988.3 1032.4,1032.0 1033.9,1018.0 1035.4,1061.7 1036.9,1054.2 1038.4,1045.5 1039.9,1018.7 1041.4,978.4 1042.9,1014.6 1044.4,1009.4 1045.9,1023.7 1047.4,1009.9 1048.9,1008.4 1050.4,1011.5 1051.9,997.0 1053.4,1021.1 1054.9,1014.2 1056.4,996.1 1057.9,1012.0 1059.4,1035.2 1060.9,1004.8 1062.4,1014.9 1063.9,1039.7 1065.4,1040.6 1066.9,1035.8 1068.4,1017.8 1069.9,1027.0 1071.4,1018.2 1072.9,996.7 1074.4,1009.5 1075.9,1035.9 1077.4,1048.9 1078.9,1019.0 1080.4,1051.9 1081.9,1087.1 1083.4,1066.1 1084.9,1039.8 1086.4,1048.6 1087.9,1041.8 1089.4,1085.4 1090.9,1052.7 1092.4,1047.8 1093.9,1044.8" fill="none" stroke="#1a1a1a" stroke-width="0.9" stroke-linejoin="round"/><polyline points="55.9,1135.4 57.9,1135.3 59.9,1134.8 61.9,1135.0 63.9,1135.4 65.9,1135.0 67.9,1135.1 69.9,1134.9 71.9,1135.6 73.9,1135.4 75.9,1135.0 77.9,1135.4 79.9,1135.0 81.9,1134.7 83.9,1132.3 85.9,1131.5 87.9,1134.4 89.9,1135.0 91.9,1135.2 93.9,1135.5 95.9,1135.5 97.9,1135.7 99.9,1135.7 101.9,1135.5 103.9,1135.0 105.9,1135.1 107.9,1135.5 109.9,1135.4 111.9,1135.3 113.9,1135.2 115.9,1135.5 117.9,1135.1 119.9,1135.3 121.9,1135.5 123.9,1135.7 125.9,1135.7 127.9,1135.3 129.9,1135.2 131.9,1135.4 133.9,1135.5 135.9,1135.1 137.9,1135.1 139.9,1135.3 141.9,1135.5 143.9,1135.6 145.9,1135.5 147.9,1135.5 149.9,1135.7 151.9,1135.5 153.9,1135.5 155.9,1135.2 157.9,1135.6 159.9,1135.8 161.9,1135.7 163.9,1135.4 165.9,1135.9 167.9,1135.6 169.9,1136.0 171.9,1135.7 173.9,1135.9 175.9,1135.7 177.9,1135.7 179.9,1135.5 181.9,1135.5 183.9,1135.9 185.9,1135.5 187.9,1136.1 189.9,1135.3 191.9,1135.7 193.9,1135.6 195.9,1136.1 197.9,1135.7 199.9,1135.7 201.9,1135.6 203.9,1135.9 205.9,1135.8 207.9,1135.8 209.9,1135.5 211.9,1135.8 213.9,1135.8 215.9,1135.7 217.9,1136.2 219.9,1136.4 221.9,1135.9 223.9,1135.8 225.9,1136.1 227.9,1136.1 229.9,1135.7 231.9,1136.1 233.9,1135.8 235.9,1135.9 237.9,1135.9 239.9,1136.2 241.9,1136.0 243.9,1136.1 245.9,1136.0 247.9,1135.6 249.9,1136.3 251.9,1136.0 253.9,1135.9 255.9,1135.8 257.9,1135.7 259.9,1136.1 261.9,1136.3 263.9,1136.1 265.9,1136.0 267.9,1136.2 269.9,1135.4 271.9,1136.2 273.9,1136.0 275.9,1136.3 277.9,1136.4 279.9,1136.1 281.9,1135.9 283.9,1136.3 285.9,1136.2 287.9,1136.3 289.9,1136.4 291.9,1136.2 293.9,1136.1 295.9,1136.3 297.9,1136.3 299.9,1136.6 301.9,1136.3 303.9,1136.5 305.9,1136.5 307.9,1136.3 309.9,1135.8 311.9,1136.1 313.9,1136.5 315.9,1136.5 317.9,1136.2 319.9,1136.0 321.9,1136.9 323.9,1136.3 325.9,1136.0 327.9,1136.5 329.9,1136.7 331.9,1135.9 333.9,1136.4 335.9,1136.3 337.9,1136.4 339.9,1136.5 341.9,1136.2 343.9,1136.2 345.9,1136.1 347.9,1136.6 349.9,1136.7 351.9,1136.2 353.9,1136.7 355.9,1136.3 357.9,1136.4 359.9,1136.3 361.9,1136.4 363.9,1136.7 365.9,1136.5 367.9,1136.2 369.9,1136.8 371.9,1136.9 373.9,1136.5 375.9,1136.8 377.9,1136.8 379.9,1136.3 381.9,1136.1 383.9,1136.2 385.9,1136.1 387.9,1136.3 389.9,1136.9 391.9,1136.3 393.9,1136.3 395.9,1136.8 397.9,1136.4 399.9,1136.6 401.9,1136.9 403.9,1136.1 405.9,1136.2 407.9,1136.4 409.9,1136.5 411.9,1136.5 413.9,1136.6 415.9,1136.2 417.9,1136.4 419.9,1136.2 421.9,1136.4 423.9,1136.6 425.9,1136.6 427.9,1136.5 429.9,1136.7 431.9,1136.2 433.9,1136.5 435.9,1136.6 437.9,1136.1 439.9,1137.1 441.9,1136.3 443.9,1136.7 445.9,1136.4 447.9,1136.5 449.9,1136.5 451.9,1136.9 453.9,1136.5 455.9,1136.6 457.9,1136.7 459.9,1136.6 461.9,1136.7 463.9,1136.3 465.9,1136.1 467.9,1136.4 469.9,1136.3 471.9,1136.0 473.9,1136.8 475.9,1136.1 477.9,1136.9 479.9,1136.2 481.9,1136.3 483.9,1136.7 485.9,1136.6 487.9,1136.8 489.9,1136.5 491.9,1136.4 493.9,1135.9 495.9,1136.6 497.9,1136.5 499.9,1136.5 501.9,1136.6 503.9,1136.8 505.9,1136.3 507.9,1136.5 509.9,1136.4 511.9,1136.1 513.9,1136.7 515.9,1136.4 517.9,1136.1 519.9,1136.6 521.9,1136.5 523.9,1136.6 525.9,1136.2 527.9,1136.2 529.9,1136.5 531.9,1136.7 533.9,1136.3 535.9,1136.5 537.9,1136.5 539.9,1136.6 541.9,1136.7 543.9,1136.7 545.9,1136.8 547.9,1137.0 549.9,1136.4 551.9,1136.8 553.9,1136.5 555.9,1136.5 557.9,1136.4 559.9,1136.7 561.9,1136.2 563.9,1136.3 565.9,1136.4 567.9,1136.3 569.9,1136.1 571.9,1136.6 573.9,1136.5 575.9,1136.2 577.9,1135.6 579.9,1132.7 581.9,1130.4 583.9,1133.7 585.9,1135.8 587.9,1136.8 589.9,1136.8 591.9,1136.3 593.9,1137.0 595.9,1136.4 597.9,1136.2 599.9,1136.4 601.9,1136.6 603.9,1136.4 605.9,1136.3 607.9,1136.8 609.9,1136.7 611.9,1136.5 613.9,1137.0 615.9,1136.2 617.9,1136.4 619.9,1136.3 621.9,1136.5 623.9,1136.6 625.9,1136.7 627.9,1136.5 629.9,1136.7 631.9,1136.5 633.9,1137.0 635.9,1136.3 637.9,1136.5 639.9,1136.7 641.9,1136.8 643.9,1136.7 645.9,1136.7 647.9,1137.0 649.9,1136.6 651.9,1136.6 653.9,1136.5 655.9,1136.8 657.9,1136.6 659.9,1136.2 661.9,1136.3 663.9,1136.1 665.9,1136.7 667.9,1136.7 669.9,1136.9 671.9,1136.5 673.9,1136.0 675.9,1136.7 677.9,1136.6 679.9,1136.5 681.9,1136.7 683.9,1136.0 685.9,1135.1 687.9,1132.0 689.9,1127.6 691.9,1125.3 693.9,1126.9 695.9,1131.7 697.9,1135.0 699.9,1136.3 701.9,1136.9 703.9,1137.0 705.9,1136.5 707.9,1136.8 709.9,1136.6 711.9,1136.5 713.9,1136.8 715.9,1136.7 717.9,1136.9 719.9,1136.7 721.9,1136.6 723.9,1136.6 725.9,1136.6 727.9,1136.8 729.9,1136.6 731.9,1136.7 733.9,1136.8 735.9,1137.2 737.9,1136.8 739.9,1136.9 741.9,1136.6 743.9,1136.6 745.9,1136.9 747.9,1136.5 749.9,1136.5 751.9,1136.9 753.9,1136.6 755.9,1136.7 757.9,1136.5 759.9,1136.6 761.9,1136.6 763.9,1136.5 765.9,1136.8 767.9,1136.6 769.9,1136.5 771.9,1136.6 773.9,1136.6 775.9,1137.0 777.9,1136.5 779.9,1136.7 781.9,1136.9 783.9,1136.4 785.9,1136.7 787.9,1136.8 789.9,1136.8 791.9,1136.7 793.9,1136.7 795.9,1136.7 797.9,1136.5 799.9,1136.5 801.9,1137.0 803.9,1136.6 805.9,1136.5 807.9,1136.9 809.9,1136.4 811.9,1136.5 813.9,1136.5 815.9,1137.0 817.9,1136.7 819.9,1137.0 821.9,1136.7 823.9,1136.7 825.9,1136.6 827.9,1136.7 829.9,1136.9 831.9,1136.9 833.9,1136.6 835.9,1136.6 837.9,1136.9 839.9,1136.6 841.9,1136.7 843.9,1136.4 845.9,1136.6 847.9,1136.9 849.9,1136.9 851.9,1136.8 853.9,1136.9 855.9,1136.5 857.9,1136.7 859.9,1136.6 861.9,1136.7 863.9,1137.3 865.9,1136.9 867.9,1136.4 869.9,1136.8 871.9,1137.0 873.9,1137.2 875.9,1136.9 877.9,1136.9 879.9,1136.6 881.9,1136.6 883.9,1136.8 885.9,1136.8 887.9,1137.1 889.9,1137.2 891.9,1137.0 893.9,1136.6 895.9,1136.7 897.9,1136.6 899.9,1136.8 901.9,1136.6 903.9,1136.4 905.9,1136.6 907.9,1136.7 909.9,1137.0 911.9,1137.0 913.9,1136.7 915.9,1136.5 917.9,1136.5 919.9,1137.1 921.9,1136.8 923.9,1136.9 925.9,1136.8 927.9,1136.7 929.9,1136.9 931.9,1136.8 933.9,1136.9 935.9,1136.4 937.9,1136.9 939.9,1137.4 941.9,1136.8 943.9,1136.8 945.9,1136.6 947.9,1136.9 949.9,1136.6 951.9,1136.6 953.9,1136.7 955.9,1136.5 957.9,1136.9 959.9,1136.4 961.9,1137.0 963.9,1136.5 965.9,1136.6 967.9,1136.8 969.9,1136.6 971.9,1137.2 973.9,1136.8 975.9,1137.0 977.9,1136.9 979.9,1137.0 981.9,1136.7 983.9,1136.9 985.9,1136.9 987.9,1137.2 989.9,1137.0 991.9,1136.3 993.9,1133.8 995.9,1125.8 997.9,1120.3 999.9,1127.6 1001.9,1131.1 1003.9,1125.6 1005.9,1132.0 1007.9,1136.7 1009.9,1136.8 1011.9,1136.6 1013.9,1136.9 1015.9,1136.8 1017.9,1136.7 1019.9,1136.7 1021.9,1136.8 1023.9,1136.9 1025.9,1136.8 1027.9,1137.0 1029.9,1136.8 1031.9,1137.4 1033.9,1137.2 1035.9,1136.8 1037.9,1137.0 1039.9,1136.8 1041.9,1137.0 1043.9,1137.5 1045.9,1136.9 1047.9,1136.7 1049.9,1136.9 1051.9,1137.0 1053.9,1137.2 1055.9,1136.7 1057.9,1136.7 1059.9,1137.0 1061.9,1136.7 1063.9,1137.6 1065.9,1136.3 1067.9,1136.8 1069.9,1136.8 1071.9,1136.7 1073.9,1137.0 1075.9,1136.9 1077.9,1136.9 1079.9,1137.2 1081.9,1137.0 1083.9,1136.9 1085.9,1136.7 1087.9,1137.2 1089.9,1136.7 1091.9,1137.2 1093.9,1136.8" fill="none" stroke="#1a1a1a" stroke-width="0.8"/><polyline points="55.9,1050.2 57.4,1054.6 58.9,1051.2 60.4,1058.4 61.9,1064.9 63.4,1046.4 64.9,1053.0 66.4,1066.9 67.9,1061.7 69.4,1059.6 70.9,1054.7 72.4,1060.6 73.9,1055.3 75.4,1059.5 76.9,1054.9 78.4,1058.8 79.9,1056.9 81.4,1061.6 82.9,1064.7 84.4,1053.6 85.9,1060.5 87.4,1058.4 88.9,1062.4 90.4,1043.5 91.9,1061.5 93.4,1056.4 94.9,1053.7 96.4,1057.5 97.9,1063.5 99.4,1046.0 100.9,1056.2 102.4,1055.2 103.9,1062.7 105.4,1060.7 106.9,1055.8 108.4,1066.6 109.9,1062.3 111.4,1055.7 112.9,1044.7 114.4,1054.8 115.9,1046.4 117.4,1062.7 118.9,1050.7 120.4,1059.7 121.9,1070.8 123.4,1044.3 124.9,1053.9 126.4,1055.7 127.9,1057.6 129.4,1046.1 130.9,1045.8 132.4,1055.8 133.9,1059.3 135.4,1052.1 136.9,1041.3 138.4,1048.3 139.9,1056.6 141.4,1048.6 142.9,1046.6 144.4,1053.1 145.9,1065.5 147.4,1104.8 148.9,1088.2 150.4,1066.0 151.9,1059.7 153.4,1057.6 154.9,1060.4 156.4,1049.2 157.9,1049.1 159.4,1051.4 160.9,1053.4 162.4,1051.7 163.9,1056.1 165.4,1051.3 166.9,1054.1 168.4,1053.6 169.9,1063.5 171.4,1055.5 172.9,1050.7 174.4,1068.3 175.9,1057.5 177.4,1061.7 178.9,1056.9 180.4,1046.2 181.9,1056.8 183.4,1048.3 184.9,1056.3 186.4,1048.5 187.9,1056.8 189.4,1052.1 190.9,1051.2 192.4,1052.1 193.9,1061.8 195.4,1058.3 196.9,1061.7 198.4,1058.5 199.9,1060.2 201.4,1060.5 202.9,1056.7 204.4,1065.9 205.9,1065.3 207.4,1064.9 208.9,1063.8 210.4,1067.2 211.9,1060.7 213.4,1069.0 214.9,1054.6 216.4,1063.6 217.9,1058.0 219.4,1064.1 220.9,1066.0 222.4,1063.9 223.9,1055.7 225.4,1064.3 226.9,1057.4 228.4,1068.8 229.9,1057.7 231.4,1069.0 232.9,1074.8 234.4,1075.9 235.9,1065.1 237.4,1067.4 238.9,1065.3 240.4,1067.1 241.9,1051.8 243.4,1052.0 244.9,1068.3 246.4,1066.0 247.9,1067.8 249.4,1076.5 250.9,1068.3 252.4,1057.7 253.9,1067.7 255.4,1050.3 256.9,1058.4 258.4,1056.3 259.9,1052.2 261.4,1056.8 262.9,1056.7 264.4,1050.2 265.9,1060.6 267.4,1059.4 268.9,1062.9 270.4,1056.5 271.9,1042.3 273.4,1051.1 274.9,1061.8 276.4,1066.0 277.9,1054.3 279.4,1053.7 280.9,1060.3 282.4,1050.5 283.9,1055.1 285.4,1053.7 286.9,1053.5 288.4,1042.8 289.9,1059.5 291.4,1060.8 292.9,1050.6 294.4,1058.1 295.9,1063.5 297.4,1055.6 298.9,1059.8 300.4,1055.9 301.9,1043.1 303.4,1048.6 304.9,1059.8 306.4,1063.7 307.9,1057.6 309.4,1062.4 310.9,1056.5 312.4,1056.2 313.9,1054.5 315.4,1057.8 316.9,1064.6 318.4,1058.5 319.9,1057.5 321.4,1056.7 322.9,1059.0 324.4,1063.0 325.9,1058.8 327.4,1061.0 328.9,1062.2 330.4,1055.0 331.9,1061.3 333.4,1048.9 334.9,1070.9 336.4,1051.3 337.9,1060.0 339.4,1065.0 340.9,1058.2 342.4,1058.6 343.9,1054.5 345.4,1053.3 346.9,1063.3 348.4,1059.7 349.9,1058.1 351.4,1059.0 352.9,1061.7 354.4,1053.5 355.9,1048.6 357.4,1066.9 358.9,1060.2 360.4,1071.8 361.9,1096.3 363.4,1100.0 364.9,1077.7 366.4,1063.1 367.9,1059.3 369.4,1057.0 370.9,1064.4 372.4,1061.1 373.9,1051.5 375.4,1064.7 376.9,1064.2 378.4,1065.1 379.9,1077.1 381.4,1064.7 382.9,1057.2 384.4,1064.6 385.9,1061.7 387.4,1061.3 388.9,1065.5 390.4,1067.8 391.9,1058.5 393.4,1070.2 394.9,1080.7 396.4,1085.6 397.9,1080.9 399.4,1056.8 400.9,1059.6 402.4,1061.1 403.9,1060.9 405.4,1060.9 406.9,1056.8 408.4,1047.4 409.9,1057.5 411.4,1062.0 412.9,1057.3 414.4,1045.2 415.9,1054.6 417.4,1044.9 418.9,1057.7 420.4,1057.3 421.9,1058.7 423.4,1057.4 424.9,1052.6 426.4,1051.3 427.9,1060.3 429.4,1056.3 430.9,1054.8 432.4,1052.3 433.9,1043.0 435.4,1041.8 436.9,1064.4 438.4,1044.6 439.9,1052.3 441.4,1045.7 442.9,1056.2 444.4,1046.8 445.9,1044.4 447.4,1040.9 448.9,1045.6 450.4,1045.0 451.9,1049.4 453.4,1055.8 454.9,1046.5 456.4,1053.1 457.9,1044.2 459.4,1043.2 460.9,1048.8 462.4,1050.8 463.9,1041.0 465.4,1034.8 466.9,1036.4 468.4,1033.3 469.9,1028.4 471.4,1031.5 472.9,1018.2 474.4,1036.4 475.9,1023.0 477.4,1040.0 478.9,1036.4 480.4,1025.8 481.9,1030.7 483.4,1045.8 484.9,1046.8 486.4,1075.6 487.9,1044.9 489.4,1035.3 490.9,1012.6 492.4,1030.1 493.9,1043.6 495.4,1042.1 496.9,1029.8 498.4,1032.6 499.9,1036.9 501.4,1034.8 502.9,1026.2 504.4,1031.7 505.9,1040.2 507.4,1030.6 508.9,1036.0 510.4,1041.7 511.9,1050.9 513.4,1038.7 514.9,1050.2 516.4,1043.4 517.9,1030.3 519.4,1048.4 520.9,1056.1 522.4,1054.9 523.9,1046.6 525.4,1044.7 526.9,1050.9 528.4,1052.2 529.9,1042.2 531.4,1043.5 532.9,1051.2 534.4,1054.8 535.9,1050.0 537.4,1060.0 538.9,1053.1 540.4,1053.3 541.9,1048.6 543.4,1052.2 544.9,1058.9 546.4,1046.2 547.9,1052.6 549.4,1051.6 550.9,1063.4 552.4,1052.7 553.9,1062.6 555.4,1052.6 556.9,1061.7 558.4,1064.5 559.9,1049.7 561.4,1049.2 562.9,1058.8 564.4,1049.9 565.9,1056.0 567.4,1055.4 568.9,1058.7 570.4,1054.8 571.9,1051.1 573.4,1051.2 574.9,1048.4 576.4,1049.7 577.9,1072.6 579.4,1064.5 580.9,1054.4 582.4,1055.3 583.9,1060.2 585.4,1067.8 586.9,1062.1 588.4,1065.5 589.9,1062.6 591.4,1059.9 592.9,1052.8 594.4,1063.8 595.9,1061.1 597.4,1060.8 598.9,1059.5 600.4,1053.2 601.9,1058.3 603.4,1067.1 604.9,1046.2 606.4,1072.4 607.9,1062.5 609.4,1058.9 610.9,1063.4 612.4,1060.1 613.9,1054.2 615.4,1064.0 616.9,1057.9 618.4,1061.1 619.9,1064.4 621.4,1073.9 622.9,1067.6 624.4,1073.1 625.9,1074.0 627.4,1075.3 628.9,1076.4 630.4,1093.5 631.9,1080.3 633.4,1080.5 634.9,1071.5 636.4,1091.2 637.9,1089.6 639.4,1085.2 640.9,1083.1 642.4,1088.0 643.9,1081.1 645.4,1085.5 646.9,1084.1 648.4,1090.8 649.9,1082.8 651.4,1082.4 652.9,1074.1 654.4,1075.2 655.9,1070.0 657.4,1073.3 658.9,1076.2 660.4,1068.2 661.9,1078.5 663.4,1078.1 664.9,1074.8 666.4,1068.4 667.9,1067.5 669.4,1080.4 670.9,1074.2 672.4,1067.4 673.9,1075.0 675.4,1080.7 676.9,1073.2 678.4,1067.4 679.9,1076.5 681.4,1076.4 682.9,1064.6 684.4,1070.8 685.9,1079.3 687.4,1070.4 688.9,1068.8 690.4,1075.7 691.9,1072.7 693.4,1069.0 694.9,1070.7 696.4,1064.4 697.9,1064.7 699.4,1065.8 700.9,1063.2 702.4,1072.6 703.9,1075.8 705.4,1079.3 706.9,1076.6 708.4,1080.1 709.9,1088.2 711.4,1073.1 712.9,1072.3 714.4,1077.7 715.9,1079.8 717.4,1082.9 718.9,1083.5 720.4,1090.0 721.9,1092.3 723.4,1096.7 724.9,1094.3 726.4,1093.1 727.9,1097.0 729.4,1097.2 730.9,1090.6 732.4,1098.2 733.9,1098.5 735.4,1102.0 736.9,1100.6 738.4,1108.7 739.9,1102.5 741.4,1103.1 742.9,1103.5 744.4,1114.8 745.9,1108.8 747.4,1100.0 748.9,1100.4 750.4,1108.2 751.9,1103.8 753.4,1103.1 754.9,1094.1 756.4,1090.8 757.9,1094.9 759.4,1100.3 760.9,1090.8 762.4,1099.6 763.9,1084.8 765.4,1092.4 766.9,1090.4 768.4,1088.8 769.9,1081.5 771.4,1083.0 772.9,1083.8 774.4,1088.6 775.9,1090.8 777.4,1102.0 778.9,1088.4 780.4,1095.6 781.9,1096.0 783.4,1096.6 784.9,1103.0 786.4,1101.2 787.9,1090.7 789.4,1092.5 790.9,1079.8 792.4,1088.2 793.9,1088.5 795.4,1081.4 796.9,1077.1 798.4,1074.2 799.9,1078.0 801.4,1071.1 802.9,1074.7 804.4,1073.8 805.9,1072.4 807.4,1075.1 808.9,1072.9 810.4,1072.7 811.9,1074.6 813.4,1071.2 814.9,1067.1 816.4,1068.1 817.9,1067.4 819.4,1074.2 820.9,1070.8 822.4,1069.6 823.9,1071.1 825.4,1076.4 826.9,1068.3 828.4,1065.9 829.9,1065.8 831.4,1067.9 832.9,1067.3 834.4,1062.8 835.9,1065.7 837.4,1068.0 838.9,1057.0 840.4,1069.5 841.9,1060.2 843.4,1067.1 844.9,1072.7 846.4,1072.0 847.9,1082.5 849.4,1074.1 850.9,1067.2 852.4,1066.2 853.9,1067.9 855.4,1069.1 856.9,1066.4 858.4,1064.9 859.9,1069.7 861.4,1069.5 862.9,1064.3 864.4,1070.2 865.9,1066.5 867.4,1067.3 868.9,1058.7 870.4,1061.8 871.9,1061.4 873.4,1065.9 874.9,1071.8 876.4,1064.8 877.9,1066.7 879.4,1066.3 880.9,1065.9 882.4,1068.5 883.9,1055.2 885.4,1063.0 886.9,1066.8 888.4,1064.4 889.9,1067.9 891.4,1069.4 892.9,1069.7 894.4,1063.6 895.9,1059.7 897.4,1058.2 898.9,1063.5 900.4,1063.0 901.9,1072.5 903.4,1073.5 904.9,1066.1 906.4,1059.7 907.9,1057.5 909.4,1064.7 910.9,1069.5 912.4,1064.8 913.9,1063.7 915.4,1067.9 916.9,1064.2 918.4,1058.6 919.9,1066.4 921.4,1069.4 922.9,1078.3 924.4,1101.5 925.9,1087.8 927.4,1054.0 928.9,1057.3 930.4,1068.6 931.9,1058.3 933.4,1065.6 934.9,1092.5 936.4,1077.8 937.9,1062.9 939.4,1071.1 940.9,1060.4 942.4,1058.7 943.9,1065.7 945.4,1056.7 946.9,1052.2 948.4,1066.1 949.9,1061.6 951.4,1053.9 952.9,1045.0 954.4,1058.3 955.9,1054.5 957.4,1063.8 958.9,1090.0 960.4,1074.9 961.9,1067.4 963.4,1050.4 964.9,1034.2 966.4,1035.4 967.9,1050.9 969.4,1048.9 970.9,1057.9 972.4,1050.9 973.9,1053.4 975.4,1054.2 976.9,1060.3 978.4,1028.9 979.9,1044.8 981.4,1054.2 982.9,1041.8 984.4,1041.2 985.9,1053.1 987.4,1036.5 988.9,1058.2 990.4,1037.8 991.9,1049.2 993.4,1046.9 994.9,1053.4 996.4,1039.7 997.9,1032.8 999.4,1031.6 1000.9,1043.5 1002.4,1060.1 1003.9,1078.9 1005.4,1060.8 1006.9,1040.9 1008.4,1045.3 1009.9,1033.2 1011.4,1037.1 1012.9,1040.4 1014.4,1028.2 1015.9,1034.8 1017.4,1040.2 1018.9,1029.7 1020.4,1036.7 1021.9,1032.3 1023.4,1031.1 1024.9,1039.6 1026.4,1026.3 1027.9,1039.1 1029.4,1030.9 1030.9,1024.8 1032.4,1031.0 1033.9,1052.2 1035.4,1060.8 1036.9,1066.6 1038.4,1023.6 1039.9,1032.4 1041.4,1053.7 1042.9,1046.8 1044.4,1039.4 1045.9,1042.0 1047.4,1048.9 1048.9,1039.1 1050.4,1036.4 1051.9,1038.1 1053.4,1028.8 1054.9,1043.9 1056.4,1030.8 1057.9,1036.3 1059.4,1037.2 1060.9,1049.0 1062.4,1021.4 1063.9,1055.2 1065.4,1038.1 1066.9,1041.0 1068.4,1028.3 1069.9,1045.0 1071.4,1043.4 1072.9,1042.2 1074.4,1044.3 1075.9,1054.7 1077.4,1046.3 1078.9,1062.3 1080.4,1051.4 1081.9,1042.2 1083.4,1042.9 1084.9,1040.7 1086.4,1052.0 1087.9,1049.9 1089.4,1048.4 1090.9,1044.4 1092.4,1043.0 1093.9,1050.8" fill="none" stroke="#ff3030" stroke-width="0.9" stroke-linejoin="round"/><polyline points="55.9,1142.6 57.9,1142.8 59.9,1142.7 61.9,1142.9 63.9,1142.6 65.9,1142.6 67.9,1142.3 69.9,1142.8 71.9,1142.8 73.9,1142.6 75.9,1142.7 77.9,1142.7 79.9,1143.1 81.9,1142.8 83.9,1143.0 85.9,1142.9 87.9,1142.8 89.9,1142.5 91.9,1142.1 93.9,1142.3 95.9,1142.8 97.9,1142.7 99.9,1142.7 101.9,1142.7 103.9,1142.9 105.9,1142.7 107.9,1142.5 109.9,1142.9 111.9,1142.5 113.9,1143.0 115.9,1142.8 117.9,1142.7 119.9,1142.6 121.9,1142.7 123.9,1142.5 125.9,1142.9 127.9,1142.4 129.9,1142.6 131.9,1142.8 133.9,1142.5 135.9,1142.8 137.9,1143.1 139.9,1142.4 141.9,1142.4 143.9,1142.6 145.9,1142.7 147.9,1142.9 149.9,1142.5 151.9,1142.6 153.9,1142.7 155.9,1142.7 157.9,1143.0 159.9,1142.6 161.9,1142.9 163.9,1142.8 165.9,1142.8 167.9,1142.8 169.9,1142.6 171.9,1143.1 173.9,1142.7 175.9,1142.6 177.9,1142.9 179.9,1142.8 181.9,1142.7 183.9,1142.4 185.9,1142.7 187.9,1142.7 189.9,1142.4 191.9,1142.7 193.9,1142.6 195.9,1142.8 197.9,1142.3 199.9,1142.5 201.9,1142.6 203.9,1143.0 205.9,1142.8 207.9,1142.9 209.9,1143.0 211.9,1143.2 213.9,1143.0 215.9,1143.0 217.9,1142.5 219.9,1142.9 221.9,1143.0 223.9,1142.4 225.9,1142.7 227.9,1143.1 229.9,1143.2 231.9,1143.1 233.9,1143.0 235.9,1143.0 237.9,1142.7 239.9,1142.9 241.9,1142.6 243.9,1142.5 245.9,1143.2 247.9,1142.5 249.9,1142.6 251.9,1143.0 253.9,1142.7 255.9,1142.8 257.9,1143.1 259.9,1143.2 261.9,1143.0 263.9,1142.8 265.9,1142.9 267.9,1142.9 269.9,1143.0 271.9,1142.7 273.9,1142.5 275.9,1142.9 277.9,1142.6 279.9,1142.8 281.9,1143.1 283.9,1142.6 285.9,1143.0 287.9,1142.6 289.9,1142.8 291.9,1142.7 293.9,1143.1 295.9,1142.7 297.9,1142.7 299.9,1142.9 301.9,1142.8 303.9,1143.2 305.9,1143.0 307.9,1142.9 309.9,1142.9 311.9,1142.7 313.9,1143.5 315.9,1143.0 317.9,1142.9 319.9,1142.4 321.9,1142.8 323.9,1143.3 325.9,1142.6 327.9,1143.1 329.9,1143.0 331.9,1142.9 333.9,1143.0 335.9,1143.0 337.9,1143.3 339.9,1142.7 341.9,1142.7 343.9,1142.8 345.9,1142.7 347.9,1143.2 349.9,1143.1 351.9,1143.2 353.9,1143.2 355.9,1143.0 357.9,1142.7 359.9,1142.8 361.9,1142.9 363.9,1143.0 365.9,1142.9 367.9,1143.0 369.9,1142.8 371.9,1143.3 373.9,1142.8 375.9,1143.4 377.9,1142.8 379.9,1143.0 381.9,1143.3 383.9,1142.6 385.9,1143.2 387.9,1143.2 389.9,1142.7 391.9,1143.3 393.9,1143.0 395.9,1143.2 397.9,1143.1 399.9,1143.0 401.9,1142.8 403.9,1143.1 405.9,1142.6 407.9,1143.0 409.9,1143.2 411.9,1143.1 413.9,1143.0 415.9,1143.3 417.9,1143.2 419.9,1142.9 421.9,1142.8 423.9,1142.5 425.9,1142.9 427.9,1143.3 429.9,1142.8 431.9,1143.1 433.9,1143.0 435.9,1142.9 437.9,1143.2 439.9,1143.1 441.9,1143.5 443.9,1142.8 445.9,1142.8 447.9,1142.9 449.9,1143.4 451.9,1142.7 453.9,1143.3 455.9,1143.1 457.9,1143.0 459.9,1142.9 461.9,1143.2 463.9,1142.7 465.9,1143.0 467.9,1143.1 469.9,1143.1 471.9,1143.0 473.9,1143.2 475.9,1143.4 477.9,1143.1 479.9,1143.1 481.9,1143.0 483.9,1143.2 485.9,1143.2 487.9,1143.0 489.9,1142.8 491.9,1143.4 493.9,1142.9 495.9,1142.9 497.9,1143.1 499.9,1142.6 501.9,1143.4 503.9,1143.1 505.9,1143.0 507.9,1143.0 509.9,1143.3 511.9,1143.1 513.9,1143.2 515.9,1143.4 517.9,1143.1 519.9,1143.0 521.9,1143.1 523.9,1142.6 525.9,1142.8 527.9,1143.2 529.9,1143.1 531.9,1143.0 533.9,1143.2 535.9,1142.8 537.9,1143.4 539.9,1143.3 541.9,1142.9 543.9,1143.5 545.9,1143.1 547.9,1142.8 549.9,1142.9 551.9,1143.1 553.9,1143.3 555.9,1143.1 557.9,1143.2 559.9,1143.1 561.9,1142.9 563.9,1143.4 565.9,1143.3 567.9,1142.8 569.9,1143.2 571.9,1142.9 573.9,1143.2 575.9,1143.0 577.9,1143.3 579.9,1143.1 581.9,1142.9 583.9,1143.0 585.9,1143.1 587.9,1143.0 589.9,1143.0 591.9,1143.4 593.9,1143.3 595.9,1142.8 597.9,1143.0 599.9,1137.9 601.9,1129.8 603.9,1143.2 605.9,1142.7 607.9,1142.9 609.9,1142.9 611.9,1143.5 613.9,1143.5 615.9,1143.1 617.9,1143.0 619.9,1143.2 621.9,1143.5 623.9,1142.9 625.9,1143.4 627.9,1143.2 629.9,1142.8 631.9,1143.5 633.9,1143.4 635.9,1143.2 637.9,1143.2 639.9,1143.1 641.9,1143.0 643.9,1142.7 645.9,1143.1 647.9,1142.9 649.9,1143.1 651.9,1143.0 653.9,1143.2 655.9,1143.0 657.9,1143.4 659.9,1143.1 661.9,1143.2 663.9,1143.2 665.9,1143.2 667.9,1143.1 669.9,1143.4 671.9,1143.5 673.9,1142.9 675.9,1143.4 677.9,1143.2 679.9,1143.3 681.9,1143.1 683.9,1142.7 685.9,1138.8 687.9,1127.4 689.9,1126.3 691.9,1137.9 693.9,1142.8 695.9,1143.5 697.9,1142.8 699.9,1134.2 701.9,1124.5 703.9,1135.9 705.9,1142.7 707.9,1143.4 709.9,1143.5 711.9,1143.3 713.9,1143.3 715.9,1143.3 717.9,1143.0 719.9,1143.0 721.9,1143.0 723.9,1143.1 725.9,1143.4 727.9,1143.3 729.9,1143.3 731.9,1143.1 733.9,1142.9 735.9,1143.4 737.9,1143.1 739.9,1143.3 741.9,1143.4 743.9,1143.4 745.9,1143.4 747.9,1143.0 749.9,1143.3 751.9,1143.7 753.9,1143.8 755.9,1143.1 757.9,1143.7 759.9,1143.1 761.9,1143.1 763.9,1143.6 765.9,1142.7 767.9,1143.3 769.9,1143.3 771.9,1143.2 773.9,1143.2 775.9,1143.6 777.9,1143.0 779.9,1143.1 781.9,1143.4 783.9,1143.3 785.9,1143.0 787.9,1143.2 789.9,1143.1 791.9,1143.1 793.9,1143.0 795.9,1143.4 797.9,1143.1 799.9,1143.5 801.9,1143.3 803.9,1143.2 805.9,1143.2 807.9,1143.3 809.9,1142.9 811.9,1143.6 813.9,1143.1 815.9,1143.0 817.9,1143.2 819.9,1143.0 821.9,1143.2 823.9,1143.5 825.9,1143.8 827.9,1143.3 829.9,1143.1 831.9,1143.1 833.9,1143.2 835.9,1143.0 837.9,1143.6 839.9,1143.1 841.9,1143.1 843.9,1143.0 845.9,1143.1 847.9,1143.4 849.9,1143.2 851.9,1143.6 853.9,1143.7 855.9,1143.0 857.9,1143.0 859.9,1143.0 861.9,1143.0 863.9,1143.8 865.9,1143.1 867.9,1143.3 869.9,1143.3 871.9,1143.1 873.9,1142.5 875.9,1143.4 877.9,1143.0 879.9,1143.7 881.9,1143.0 883.9,1142.9 885.9,1142.8 887.9,1143.1 889.9,1143.1 891.9,1143.7 893.9,1143.3 895.9,1142.9 897.9,1143.3 899.9,1143.1 901.9,1143.2 903.9,1142.9 905.9,1142.8 907.9,1143.4 909.9,1142.9 911.9,1143.4 913.9,1143.5 915.9,1142.9 917.9,1143.5 919.9,1143.2 921.9,1143.5 923.9,1143.4 925.9,1143.2 927.9,1143.5 929.9,1142.8 931.9,1143.3 933.9,1143.1 935.9,1143.2 937.9,1143.1 939.9,1143.5 941.9,1143.0 943.9,1143.3 945.9,1143.4 947.9,1143.2 949.9,1143.1 951.9,1143.3 953.9,1143.1 955.9,1143.4 957.9,1142.8 959.9,1143.1 961.9,1143.2 963.9,1143.2 965.9,1143.3 967.9,1143.0 969.9,1143.0 971.9,1143.0 973.9,1143.1 975.9,1143.1 977.9,1143.1 979.9,1143.1 981.9,1142.8 983.9,1143.2 985.9,1143.1 987.9,1142.9 989.9,1143.3 991.9,1143.0 993.9,1142.7 995.9,1136.1 997.9,1129.9 999.9,1138.5 1001.9,1141.7 1003.9,1138.3 1005.9,1141.6 1007.9,1143.2 1009.9,1142.9 1011.9,1143.4 1013.9,1143.1 1015.9,1143.3 1017.9,1143.2 1019.9,1143.3 1021.9,1143.4 1023.9,1142.6 1025.9,1142.9 1027.9,1143.6 1029.9,1143.5 1031.9,1143.0 1033.9,1143.3 1035.9,1143.5 1037.9,1143.2 1039.9,1143.5 1041.9,1143.3 1043.9,1143.6 1045.9,1143.5 1047.9,1142.8 1049.9,1143.1 1051.9,1143.2 1053.9,1143.5 1055.9,1142.9 1057.9,1142.8 1059.9,1143.0 1061.9,1143.4 1063.9,1143.5 1065.9,1143.2 1067.9,1143.2 1069.9,1143.2 1071.9,1143.1 1073.9,1143.4 1075.9,1143.5 1077.9,1142.9 1079.9,1143.2 1081.9,1143.1 1083.9,1142.9 1085.9,1143.3 1087.9,1143.2 1089.9,1143.1 1091.9,1143.0 1093.9,1143.0" fill="none" stroke="#ff3030" stroke-width="0.8"/></g>
<g clip-path="url(#clipL2)"><path d="M55.1,1237.2H56.6V1232.2H58.1V1259.0H59.6V1231.1H61.1V1240.4H62.6V1232.5H64.2V1241.7H65.7V1227.8H67.2V1268.2H68.7V1219.3H70.2V1229.5H71.7V1259.9H73.2V1256.6H74.7V1208.1H76.2V1301.7H77.7V1243.4H79.2V1263.6H80.7V1258.7H82.2V1265.0H83.7V1262.8H85.2V1264.9H86.7V1255.4H88.2V1237.1H89.7V1262.6H91.2V1280.8H92.7V1280.2H94.2V1265.6H95.7V1246.6H97.2V1250.8H98.7V1271.7H100.2V1273.4H101.7V1275.1H103.2V1258.9H104.7V1245.6H106.2V1260.3H107.7V1249.0H109.2V1254.9H110.7V1235.2H112.2V1292.2H113.7V1293.9H115.2V1262.1H116.7V1248.1H118.2V1264.9H119.7V1251.0H121.2V1276.8H122.7V1277.9H124.2V1268.7H125.7V1243.0H127.2V1245.1H128.7V1267.7H130.2V1252.9H131.7V1266.1H133.2V1254.9H134.7V1273.1H136.2V1229.8H137.7V1266.3H139.2V1254.7H140.7V1265.5H142.2V1269.4H143.7V1257.3H145.2V1278.0H146.7V1293.7H148.2V1297.7H149.7V1260.9H151.2V1276.2H152.7V1250.3H154.2V1242.1H155.7V1269.0H157.2V1237.3H158.7V1300.0H160.2V1259.1H161.7V1287.1H163.2V1290.2H164.7V1284.6H166.2V1232.9H167.7V1251.2H169.2V1247.1H170.7V1262.3H172.2V1269.1H173.7V1249.9H175.2V1272.7H176.7V1256.8H178.2V1244.2H179.7V1251.4H181.2V1244.7H182.7V1261.7H184.2V1246.1H185.7V1250.5H187.2V1284.9H188.7V1276.4H190.2V1272.5H191.7V1251.5H193.2V1258.5H194.7V1260.1H196.2V1263.1H197.7V1243.8H199.2V1240.1H200.7V1278.6H202.2V1296.6H203.7V1261.5H205.2V1276.9H206.7V1274.0H208.2V1278.9H209.7V1294.8H211.2V1300.9H212.7V1260.9H214.2V1258.6H215.7V1260.9H217.2V1272.3H218.7V1271.0H220.2V1258.8H221.7V1273.7H223.2V1281.0H224.7V1322.4H226.2V1270.8H227.7V1246.6H229.2V1303.7H230.7V1263.6H232.2V1262.2H233.7V1292.2H235.2V1267.5H236.7V1270.6H238.2V1262.9H239.7V1279.6H241.2V1262.3H242.7V1243.9H244.2V1233.4H245.7V1245.3H247.2V1275.0H248.7V1265.5H250.2V1263.4H251.7V1281.5H253.2V1271.7H254.7V1258.2H256.1V1272.5H257.6V1292.9H259.1V1284.1H260.6V1258.9H262.1V1267.5H263.6V1265.9H265.1V1238.7H266.6V1269.5H268.1V1269.8H269.6V1258.5H271.1V1222.2H272.6V1244.9H274.1V1226.3H275.6V1249.4H277.1V1255.4H278.6V1257.3H280.1V1229.0H281.6V1247.5H283.1V1259.6H284.6V1222.1H286.1V1248.1H287.6V1245.5H289.1V1250.0H290.6V1255.2H292.1V1248.3H293.6V1256.0H295.1V1241.9H296.6V1233.1H298.1V1232.5H299.6V1230.7H301.1V1225.7H302.6V1237.2H304.1V1252.3H305.6V1233.7H307.1V1274.8H308.6V1259.9H310.1V1243.9H311.6V1274.9H313.1V1224.9H314.6V1264.1H316.1V1271.5H317.6V1259.7H319.1V1259.6H320.6V1247.8H322.1V1249.7H323.6V1230.8H325.1V1271.6H326.6V1244.0H328.1V1262.2H329.6V1238.9H331.1V1259.7H332.6V1271.7H334.1V1228.5H335.6V1266.4H337.1V1267.7H338.6V1265.1H340.1V1241.9H341.6V1276.9H343.1V1259.9H344.6V1245.4H346.1V1225.4H347.6V1260.6H349.1V1224.6H350.6V1271.2H352.1V1227.2H353.6V1261.3H355.1V1260.9H356.6V1258.4H358.1V1276.5H359.6V1268.8H361.1V1251.5H362.6V1267.6H364.1V1267.6H365.6V1265.3H367.1V1241.8H368.6V1278.6H370.1V1237.2H371.6V1235.0H373.1V1270.4H374.6V1247.2H376.1V1259.1H377.6V1243.4H379.1V1256.2H380.6V1270.5H382.1V1246.2H383.6V1274.4H385.1V1252.5H386.6V1239.6H388.1V1235.5H389.6V1268.2H391.1V1276.7H392.6V1250.7H394.1V1285.9H395.6V1272.0H397.1V1272.2H398.6V1232.5H400.1V1243.7H401.6V1251.5H403.1V1246.8H404.6V1278.7H406.1V1242.2H407.6V1249.3H409.1V1268.0H410.6V1244.5H412.1V1245.8H413.6V1287.1H415.1V1252.4H416.6V1216.0H418.1V1265.2H419.6V1248.8H421.1V1251.2H422.6V1257.1H424.1V1259.2H425.6V1240.4H427.1V1258.3H428.6V1271.6H430.1V1245.8H431.6V1232.4H433.1V1253.7H434.6V1235.9H436.1V1241.8H437.6V1264.8H439.1V1244.1H440.6V1250.6H442.1V1238.3H443.6V1291.8H445.1V1235.8H446.6V1237.1H448.1V1262.6H449.6V1231.9H451.1V1250.6H452.6V1245.3H454.1V1234.7H455.6V1227.2H457.1V1245.2H458.6V1237.2H460.1V1234.9H461.6V1258.8H463.1V1222.2H464.6V1235.4H466.1V1244.9H467.6V1230.6H469.1V1238.6H470.6V1255.4H472.1V1231.3H473.6V1217.1H475.1V1237.0H476.6V1231.7H478.1V1250.1H479.6V1217.5H481.1V1244.1H482.6V1250.5H484.1V1259.8H485.6V1259.1H487.1V1259.9H488.6V1244.5H490.1V1266.1H491.6V1272.8H493.1V1296.9H494.6V1276.0H496.1V1289.9H497.6V1244.0H499.1V1281.3H500.6V1260.5H502.1V1236.5H503.6V1277.6H505.1V1241.7H506.6V1288.9H508.1V1260.0H509.6V1278.0H511.1V1260.7H512.6V1263.3H514.1V1246.5H515.6V1254.0H517.1V1254.7H518.6V1264.8H520.1V1248.9H521.6V1267.1H523.1V1263.9H524.6V1262.9H526.1V1244.0H527.6V1217.4H529.1V1252.0H530.6V1221.8H532.1V1266.5H533.6V1260.1H535.1V1243.1H536.6V1241.7H538.1V1239.4H539.6V1227.0H541.1V1254.1H542.6V1234.5H544.1V1247.2H545.6V1293.8H547.1V1266.0H548.6V1258.9H550.1V1249.2H551.6V1242.9H553.1V1255.1H554.6V1231.0H556.1V1265.6H557.6V1251.3H559.1V1237.0H560.6V1267.9H562.1V1231.9H563.6V1236.5H565.1V1253.3H566.6V1250.8H568.1V1252.2H569.6V1250.6H571.1V1232.9H572.6V1251.2H574.1V1299.5H575.6V1309.3H577.1V1258.1H578.6V1293.3H580.1V1274.9H581.6V1260.2H583.1V1251.4H584.6V1230.7H586.1V1248.4H587.6V1206.4H589.1V1247.8H590.6V1238.2H592.1V1235.8H593.6V1252.7H595.1V1236.8H596.6V1242.1H598.1V1247.6H599.6V1265.9H601.1V1257.5H602.6V1239.1H604.1V1251.6H605.6V1245.6H607.1V1246.1H608.6V1248.5H610.1V1253.0H611.6V1244.9H613.1V1241.8H614.6V1244.9H616.1V1247.9H617.6V1264.4H619.1V1266.6H620.6V1248.6H622.1V1282.9H623.6V1269.6H625.1V1247.9H626.6V1270.3H628.1V1277.0H629.6V1250.4H631.1V1316.6H632.6V1273.7H634.1V1281.3H635.6V1288.9H637.1V1275.3H638.6V1273.9H640.1V1288.4H641.6V1307.4H643.1V1312.8H644.6V1316.1H646.1V1308.3H647.6V1328.5H649.1V1307.7H650.6V1287.3H652.1V1294.6H653.6V1324.4H655.1V1290.0H656.6V1291.0H658.1V1294.1H659.6V1260.1H661.1V1278.0H662.6V1276.5H664.1V1288.6H665.6V1290.3H667.1V1281.5H668.6V1272.9H670.1V1230.3H671.6V1298.5H673.1V1265.5H674.6V1274.3H676.1V1240.4H677.6V1274.0H679.1V1271.7H680.6V1241.7H682.1V1236.7H683.6V1259.9H685.1V1273.7H686.6V1305.4H688.1V1314.3H689.6V1270.7H691.1V1268.7H692.6V1250.8H694.1V1261.1H695.6V1271.7H697.1V1247.9H698.6V1240.7H700.1V1277.5H701.6V1255.0H703.1V1252.5H704.6V1283.7H706.1V1265.0H707.6V1275.6H709.1V1258.8H710.6V1261.3H712.1V1311.8H713.6V1284.6H715.1V1261.8H716.6V1276.4H718.1V1301.2H719.6V1294.3H721.1V1304.3H722.6V1284.0H724.1V1309.7H725.6V1272.3H727.1V1279.0H728.6V1267.3H730.1V1277.4H731.6V1279.2H733.1V1281.8H734.6V1287.9H736.1V1327.0H737.6V1290.1H739.1V1311.4H740.6V1336.5H742.1V1276.6H743.6V1301.3H745.1V1326.5H746.6V1297.6H748.1V1296.2H749.6V1300.4H751.1V1281.5H752.6V1321.5H754.1V1291.4H755.6V1320.5H757.1V1299.0H758.6V1296.9H760.1V1328.4H761.6V1260.0H763.1V1331.9H764.6V1325.9H766.1V1309.3H767.6V1314.8H769.1V1282.7H770.6V1308.0H772.1V1277.6H773.6V1303.7H775.1V1283.3H776.6V1281.9H778.1V1290.9H779.6V1280.2H781.1V1324.0H782.6V1255.8H784.1V1250.2H785.6V1290.3H787.1V1276.0H788.6V1264.4H790.1V1271.4H791.6V1247.6H793.1V1235.1H794.6V1303.7H796.1V1249.6H797.6V1248.4H799.1V1258.4H800.6V1275.9H802.1V1267.1H803.6V1259.8H805.1V1234.9H806.6V1273.4H808.1V1253.9H809.6V1233.3H811.1V1239.9H812.6V1258.1H814.1V1260.4H815.6V1283.6H817.1V1282.4H818.6V1269.7H820.1V1243.2H821.6V1243.6H823.1V1236.2H824.6V1242.1H826.1V1244.4H827.6V1253.5H829.1V1268.4H830.6V1237.4H832.1V1262.0H833.6V1284.1H835.1V1249.3H836.6V1254.8H838.1V1218.7H839.6V1260.3H841.1V1250.7H842.6V1274.0H844.1V1248.5H845.6V1271.8H847.1V1314.5H848.6V1291.1H850.1V1287.4H851.6V1247.9H853.1V1262.4H854.6V1249.6H856.1V1269.1H857.6V1266.9H859.1V1257.3H860.6V1241.8H862.1V1252.6H863.6V1291.2H865.1V1244.0H866.6V1256.0H868.1V1244.3H869.6V1236.2H871.1V1223.9H872.6V1265.1H874.1V1259.3H875.6V1245.8H877.1V1237.7H878.6V1265.6H880.1V1268.2H881.6V1293.2H883.1V1290.5H884.6V1292.5H886.1V1223.5H887.6V1240.2H889.1V1234.0H890.6V1242.8H892.1V1261.3H893.6V1291.6H895.1V1229.2H896.6V1257.6H898.1V1281.0H899.6V1207.4H901.1V1257.1H902.6V1226.7H904.1V1255.4H905.6V1279.2H907.1V1263.8H908.6V1239.3H910.1V1284.6H911.6V1260.0H913.1V1233.8H914.6V1233.3H916.1V1250.5H917.6V1291.8H919.1V1257.0H920.6V1242.6H922.1V1261.0H923.6V1327.1H925.1V1294.2H926.6V1256.6H928.1V1259.7H929.6V1263.6H931.1V1262.9H932.6V1265.2H934.1V1274.5H935.6V1252.7H937.1V1243.0H938.6V1243.0H940.1V1254.3H941.6V1285.5H943.1V1243.5H944.6V1266.2H946.1V1225.1H947.6V1257.0H949.1V1217.3H950.6V1242.3H952.1V1226.1H953.6V1249.2H955.1V1244.3H956.6V1283.3H958.1V1259.7H959.6V1259.7H961.1V1240.7H962.6V1270.0H964.1V1236.5H965.6V1256.6H967.1V1242.7H968.6V1267.9H970.1V1278.8H971.6V1279.3H973.1V1262.7H974.6V1206.2H976.1V1268.6H977.6V1256.5H979.1V1251.1H980.6V1205.8H982.1V1284.0H983.6V1256.4H985.1V1254.5H986.6V1264.0H988.1V1265.3H989.6V1217.6H991.1V1236.3H992.6V1233.4H994.1V1229.9H995.6V1262.7H997.1V1251.6H998.6V1274.8H1000.1V1292.6H1001.6V1276.9H1003.1V1258.2H1004.6V1200.0H1006.1V1238.4H1007.6V1262.2H1009.1V1260.9H1010.6V1226.4H1012.1V1239.8H1013.6V1254.6H1015.1V1244.5H1016.6V1244.8H1018.1V1263.5H1019.6V1255.3H1021.1V1279.6H1022.6V1242.9H1024.2V1245.3H1025.7V1230.3H1027.2V1230.4H1028.7V1253.6H1030.2V1221.6H1031.7V1260.9H1033.2V1248.0H1034.7V1287.5H1036.2V1280.5H1037.7V1272.5H1039.2V1248.0H1040.7V1210.9H1042.2V1243.8H1043.7V1238.8H1045.2V1251.6H1046.7V1238.3H1048.2V1236.4H1049.7V1238.7H1051.2V1224.5H1052.7V1246.5H1054.2V1239.5H1055.7V1221.7H1057.2V1236.1H1058.7V1257.7H1060.2V1227.9H1061.7V1236.8H1063.2V1260.1H1064.7V1260.3H1066.2V1254.8H1067.7V1236.2H1069.2V1244.6H1070.7V1234.9H1072.2V1212.2H1073.7V1224.3H1075.2V1250.4H1076.7V1263.2H1078.2V1231.4H1079.7V1265.0H1081.2V1301.5H1082.7V1278.8H1084.2V1250.0H1085.7V1258.7H1087.2V1250.7H1088.7V1297.5H1090.2V1261.1H1091.7V1255.0H1093.2V1250.9H1094.7" fill="none" stroke="#5a5a5a" stroke-width="1.15"/><path d="M55.1,1256.0H56.6V1260.9H58.1V1257.0H59.6V1265.1H61.1V1272.4H62.6V1251.5H64.2V1258.9H65.7V1274.5H67.2V1268.6H68.7V1266.2H70.2V1260.6H71.7V1267.3H73.2V1261.3H74.7V1266.0H76.2V1260.8H77.7V1265.1H79.2V1262.9H80.7V1268.3H82.2V1271.7H83.7V1259.2H85.2V1266.8H86.7V1264.4H88.2V1269.0H89.7V1247.6H91.2V1267.9H92.7V1262.1H94.2V1258.9H95.7V1263.2H97.2V1270.0H98.7V1250.2H100.2V1261.7H101.7V1260.6H103.2V1269.0H104.7V1266.7H106.2V1261.1H107.7V1273.3H109.2V1268.4H110.7V1260.9H112.2V1248.3H113.7V1259.8H115.2V1250.1H116.7V1268.6H118.2V1255.0H119.7V1265.2H121.2V1277.8H122.7V1247.6H124.2V1258.5H125.7V1260.6H127.2V1262.6H128.7V1249.5H130.2V1249.1H131.7V1260.5H133.2V1264.4H134.7V1256.2H136.2V1243.8H137.7V1251.8H139.2V1261.3H140.7V1252.1H142.2V1249.7H143.7V1257.1H145.2V1271.2H146.7V1316.2H148.2V1297.2H149.7V1271.8H151.2V1264.5H152.7V1262.0H154.2V1265.3H155.7V1252.4H157.2V1252.2H158.7V1254.9H160.2V1257.1H161.7V1255.1H163.2V1260.1H164.7V1254.5H166.2V1257.7H167.7V1257.1H169.2V1268.4H170.7V1259.3H172.2V1253.7H173.7V1273.9H175.2V1261.5H176.7V1266.2H178.2V1260.6H179.7V1248.3H181.2V1260.5H182.7V1250.6H184.2V1259.8H185.7V1250.7H187.2V1260.3H188.7V1254.9H190.2V1253.8H191.7V1254.7H193.2V1266.0H194.7V1261.9H196.2V1265.8H197.7V1262.1H199.2V1264.0H200.7V1264.3H202.2V1259.9H203.7V1270.5H205.2V1269.8H206.7V1269.2H208.2V1268.0H209.7V1271.9H211.2V1264.3H212.7V1273.9H214.2V1257.2H215.7V1267.5H217.2V1261.0H218.7V1268.1H220.2V1270.2H221.7V1267.7H223.2V1258.2H224.7V1268.2H226.2V1260.2H227.7V1273.3H229.2V1260.4H230.7V1273.5H232.2V1280.2H233.7V1281.6H235.2V1268.9H236.7V1271.5H238.2V1269.0H239.7V1271.1H241.2V1253.2H242.7V1253.4H244.2V1272.4H245.7V1269.7H247.2V1271.8H248.7V1282.0H250.2V1272.3H251.7V1259.8H253.2V1271.5H254.7V1251.1H256.1V1260.5H257.6V1258.1H259.1V1253.2H260.6V1258.6H262.1V1258.4H263.6V1250.7H265.1V1262.9H266.6V1261.5H268.1V1265.6H269.6V1257.9H271.1V1241.3H272.6V1251.5H274.1V1264.1H275.6V1269.0H277.1V1255.3H278.6V1254.4H280.1V1262.2H281.6V1250.7H283.1V1256.0H284.6V1254.3H286.1V1254.0H287.6V1241.3H289.1V1261.1H290.6V1262.6H292.1V1250.4H293.6V1259.3H295.1V1265.6H296.6V1256.3H298.1V1261.2H299.6V1256.5H301.1V1241.3H302.6V1247.9H304.1V1261.0H305.6V1265.6H307.1V1258.4H308.6V1264.0H310.1V1257.0H311.6V1256.6H313.1V1254.5H314.6V1258.3H316.1V1266.5H317.6V1259.2H319.1V1257.9H320.6V1257.0H322.1V1259.6H323.6V1264.4H325.1V1259.3H326.6V1261.9H328.1V1263.3H329.6V1254.7H331.1V1262.3H332.6V1247.4H334.1V1273.6H335.6V1250.3H337.1V1260.6H338.6V1266.6H340.1V1258.5H341.6V1258.9H343.1V1254.0H344.6V1252.5H346.1V1264.5H347.6V1260.1H349.1V1258.3H350.6V1259.3H352.1V1262.5H353.6V1252.7H355.1V1246.8H356.6V1268.7H358.1V1260.7H359.6V1274.5H361.1V1303.8H362.6V1308.3H364.1V1281.6H365.6V1264.0H367.1V1259.6H368.6V1256.8H370.1V1265.7H371.6V1261.6H373.1V1250.2H374.6V1265.9H376.1V1265.3H377.6V1266.4H379.1V1280.7H380.6V1265.8H382.1V1256.9H383.6V1265.7H385.1V1262.3H386.6V1261.8H388.1V1266.8H389.6V1269.6H391.1V1258.4H392.6V1272.4H394.1V1284.9H395.6V1290.8H397.1V1285.2H398.6V1256.2H400.1V1259.7H401.6V1261.5H403.1V1261.4H404.6V1261.6H406.1V1256.8H407.6V1245.6H409.1V1257.8H410.6V1263.2H412.1V1257.7H413.6V1243.5H415.1V1254.7H416.6V1243.3H418.1V1258.6H419.6V1258.3H421.1V1260.5H422.6V1259.3H424.1V1254.2H425.6V1253.2H427.1V1264.2H428.6V1260.0H430.1V1258.6H431.6V1256.3H433.1V1246.2H434.6V1245.3H436.1V1271.4H437.6V1249.8H439.1V1259.1H440.6V1252.4H442.1V1264.6H443.6V1254.8H445.1V1252.8H446.6V1249.7H448.1V1255.3H449.6V1255.3H451.1V1260.5H452.6V1267.9H454.1V1258.6H455.6V1266.0H457.1V1257.2H458.6V1256.7H460.1V1263.1H461.6V1265.6H463.1V1256.0H464.6V1250.3H466.1V1252.5H467.6V1249.9H469.1V1245.6H470.6V1249.3H472.1V1236.6H473.6V1255.3H475.1V1242.7H476.6V1259.9H478.1V1256.9H479.6V1247.2H481.1V1252.3H482.6V1267.2H484.1V1268.4H485.6V1296.3H487.1V1267.2H488.6V1258.4H490.1V1237.1H491.6V1254.1H493.1V1267.2H494.6V1265.9H496.1V1254.1H497.6V1256.4H499.1V1260.3H500.6V1258.0H502.1V1249.4H503.6V1254.4H505.1V1262.3H506.6V1252.8H508.1V1257.7H509.6V1262.7H511.1V1270.5H512.6V1257.3H514.1V1267.5H515.6V1259.4H517.1V1244.6H518.6V1261.9H520.1V1269.1H521.6V1267.1H523.1V1257.6H524.6V1254.9H526.1V1260.8H527.6V1261.4H529.1V1249.6H530.6V1250.2H532.1V1258.0H533.6V1261.3H535.1V1255.0H536.6V1265.6H538.1V1257.0H539.6V1256.4H541.1V1250.5H542.6V1254.0H544.1V1261.4H545.6V1245.9H547.1V1252.9H548.6V1251.2H550.1V1264.6H551.6V1251.4H553.1V1262.7H554.6V1250.1H556.1V1260.6H557.6V1263.4H559.1V1244.8H560.6V1243.9H562.1V1255.5H563.6V1244.5H565.1V1251.8H566.6V1250.9H568.1V1254.8H569.6V1249.8H571.1V1245.1H572.6V1244.9H574.1V1241.4H575.6V1242.7H577.1V1271.2H578.6V1261.0H580.1V1248.1H581.6V1249.2H583.1V1255.4H584.6V1264.8H586.1V1257.7H587.6V1261.9H589.1V1258.1H590.6V1254.6H592.1V1245.7H593.6V1259.5H595.1V1256.0H596.6V1255.6H598.1V1253.9H599.6V1245.8H601.1V1252.3H602.6V1263.3H604.1V1236.8H605.6V1269.9H607.1V1257.3H608.6V1252.7H610.1V1258.4H611.6V1254.1H613.1V1246.5H614.6V1258.9H616.1V1251.0H617.6V1255.1H619.1V1259.2H620.6V1271.3H622.1V1263.2H623.6V1270.2H625.1V1271.3H626.6V1272.9H628.1V1274.3H629.6V1296.0H631.1V1279.1H632.6V1279.3H634.1V1267.8H635.6V1293.0H637.1V1290.8H638.6V1285.2H640.1V1282.4H641.6V1288.7H643.1V1279.9H644.6V1285.5H646.1V1283.6H647.6V1292.1H649.1V1281.9H650.6V1281.2H652.1V1270.5H653.6V1272.0H655.1V1265.3H656.6V1269.4H658.1V1273.1H659.6V1262.7H661.1V1275.9H662.6V1275.4H664.1V1271.1H665.6V1262.8H667.1V1261.6H668.6V1278.2H670.1V1270.1H671.6V1261.4H673.1V1271.0H674.6V1278.4H676.1V1268.6H677.6V1261.0H679.1V1272.8H680.6V1272.7H682.1V1257.3H683.6V1265.3H685.1V1276.3H686.6V1264.7H688.1V1262.5H689.6V1271.5H691.1V1267.5H692.6V1262.6H694.1V1264.9H695.6V1256.6H697.1V1256.9H698.6V1258.3H700.1V1254.9H701.6V1267.1H703.1V1271.3H704.6V1275.8H706.1V1272.3H707.6V1276.8H709.1V1287.3H710.6V1267.5H712.1V1266.5H713.6V1273.5H715.1V1276.3H716.6V1280.3H718.1V1281.1H719.6V1289.5H721.1V1292.6H722.6V1298.3H724.1V1295.2H725.6V1293.5H727.1V1298.7H728.6V1299.0H730.1V1290.3H731.6V1300.2H733.1V1300.6H734.6V1305.2H736.1V1303.2H737.6V1314.0H739.1V1305.7H740.6V1306.6H742.1V1307.0H743.6V1321.9H745.1V1314.0H746.6V1302.3H748.1V1302.9H749.6V1313.2H751.1V1307.3H752.6V1306.4H754.1V1294.5H755.6V1290.1H757.1V1295.5H758.6V1302.7H760.1V1290.1H761.6V1301.7H763.1V1282.2H764.6V1292.1H766.1V1289.6H767.6V1287.4H769.1V1277.8H770.6V1279.7H772.1V1280.7H773.6V1287.0H775.1V1289.9H776.6V1304.7H778.1V1286.8H779.6V1296.2H781.1V1296.7H782.6V1297.5H784.1V1306.0H785.6V1303.5H787.1V1289.7H788.6V1291.9H790.1V1275.1H791.6V1286.2H793.1V1286.7H794.6V1277.2H796.1V1271.4H797.6V1267.6H799.1V1272.6H800.6V1263.4H802.1V1268.2H803.6V1267.0H805.1V1265.1H806.6V1268.6H808.1V1265.7H809.6V1265.3H811.1V1268.0H812.6V1263.4H814.1V1257.8H815.6V1259.2H817.1V1258.3H818.6V1267.3H820.1V1262.7H821.6V1261.1H823.1V1263.1H824.6V1270.1H826.1V1259.3H827.6V1256.2H829.1V1256.0H830.6V1258.8H832.1V1258.0H833.6V1252.1H835.1V1255.9H836.6V1258.9H838.1V1244.3H839.6V1260.9H841.1V1248.5H842.6V1257.7H844.1V1265.2H845.6V1264.2H847.1V1278.2H848.6V1267.0H850.1V1257.9H851.6V1256.6H853.1V1258.9H854.6V1260.4H856.1V1256.8H857.6V1254.8H859.1V1261.2H860.6V1260.9H862.1V1254.0H863.6V1261.8H865.1V1257.0H866.6V1258.0H868.1V1246.6H869.6V1250.6H871.1V1250.1H872.6V1256.1H874.1V1264.0H875.6V1254.7H877.1V1257.2H878.6V1256.7H880.1V1256.1H881.6V1259.6H883.1V1241.9H884.6V1252.3H886.1V1257.3H887.6V1254.2H889.1V1258.8H890.6V1261.0H892.1V1261.6H893.6V1253.7H895.1V1248.8H896.6V1247.1H898.1V1254.2H899.6V1253.9H901.1V1266.5H902.6V1268.1H904.1V1258.5H905.6V1250.4H907.1V1247.8H908.6V1257.4H910.1V1263.8H911.6V1257.9H913.1V1256.7H914.6V1262.4H916.1V1257.9H917.6V1250.9H919.1V1261.0H920.6V1265.2H922.1V1277.0H923.6V1306.7H925.1V1289.6H926.6V1247.5H928.1V1252.1H929.6V1266.6H931.1V1254.2H932.6V1263.6H934.1V1297.2H935.6V1279.4H937.1V1261.4H938.6V1271.8H940.1V1259.2H941.6V1257.6H943.1V1266.5H944.6V1256.0H946.1V1251.0H947.6V1268.0H949.1V1263.0H950.6V1254.3H952.1V1244.5H953.6V1260.7H955.1V1256.8H956.6V1268.1H958.1V1298.8H959.6V1281.9H961.1V1273.7H962.6V1254.8H964.1V1237.1H965.6V1239.1H967.1V1257.1H968.6V1255.3H970.1V1265.9H971.6V1258.6H973.1V1261.9H974.6V1263.3H976.1V1270.4H977.6V1236.9H979.1V1254.5H980.6V1265.4H982.1V1252.8H983.6V1252.8H985.1V1266.1H986.6V1249.4H988.1V1272.5H989.6V1252.1H991.1V1264.5H992.6V1262.7H994.1V1270.0H995.6V1256.7H997.1V1250.4H998.6V1250.0H1000.1V1262.3H1001.6V1279.2H1003.1V1298.0H1004.6V1280.8H1006.1V1261.9H1007.6V1266.7H1009.1V1255.6H1010.6V1259.9H1012.1V1263.6H1013.6V1252.5H1015.1V1259.1H1016.6V1264.4H1018.1V1254.8H1019.6V1261.7H1021.1V1257.9H1022.6V1257.0H1024.2V1265.2H1025.7V1253.0H1027.2V1265.2H1028.7V1257.8H1030.2V1252.2H1031.7V1257.7H1033.2V1277.2H1034.7V1285.0H1036.2V1290.3H1037.7V1250.2H1039.2V1258.1H1040.7V1277.9H1042.2V1271.3H1043.7V1264.2H1045.2V1266.4H1046.7V1272.4H1048.2V1262.8H1049.7V1259.7H1051.2V1260.9H1052.7V1251.6H1054.2V1265.7H1055.7V1252.6H1057.2V1257.4H1058.7V1257.8H1060.2V1268.7H1061.7V1240.9H1063.2V1273.5H1064.7V1255.8H1066.2V1257.9H1067.7V1244.3H1069.2V1260.6H1070.7V1258.1H1072.2V1256.1H1073.7V1257.5H1075.2V1267.7H1076.7V1258.2H1078.2V1274.6H1079.7V1262.4H1081.2V1251.9H1082.7V1252.0H1084.2V1248.9H1085.7V1260.5H1087.2V1257.6H1088.7V1255.3H1090.2V1250.2H1091.7V1247.8H1093.2V1256.0H1094.7" fill="none" stroke="#ff4545" stroke-width="1.0"/></g>
<g clip-path="url(#clipU2)"><polyline points="55.9,1039.2 58.9,1039.3 61.9,1039.4 64.9,1039.4 67.9,1039.5 70.9,1039.6 73.9,1039.7 76.9,1039.8 79.9,1039.8 82.9,1039.9 85.9,1040.0 88.9,1040.1 91.9,1040.1 94.9,1040.2 97.9,1040.3 100.9,1040.4 103.9,1040.5 106.9,1040.5 109.9,1040.6 112.9,1040.7 115.9,1040.8 118.9,1040.9 121.9,1040.9 124.9,1041.0 127.9,1041.1 130.9,1041.2 133.9,1041.3 136.9,1041.3 139.9,1041.4 142.9,1041.5 145.9,1041.6 148.9,1041.7 151.9,1041.7 154.9,1041.8 157.9,1041.9 160.9,1042.0 163.9,1042.0 166.9,1042.1 169.9,1042.2 172.9,1042.3 175.9,1042.4 178.9,1042.4 181.9,1042.5 184.9,1042.6 187.9,1042.7 190.9,1042.8 193.9,1042.8 196.9,1042.9 199.9,1043.0 202.9,1043.1 205.9,1043.2 208.9,1043.3 211.9,1043.4 214.9,1043.5 217.9,1043.6 220.9,1043.6 223.9,1043.7 226.9,1043.8 229.9,1043.9 232.9,1044.0 235.9,1044.1 238.9,1044.2 241.9,1044.3 244.9,1044.4 247.9,1044.5 250.9,1044.6 253.9,1044.7 256.9,1044.8 259.9,1044.8 262.9,1044.9 265.9,1045.0 268.9,1045.1 271.9,1045.2 274.9,1045.3 277.9,1045.4 280.9,1045.5 283.9,1045.6 286.9,1045.7 289.9,1045.8 292.9,1045.9 295.9,1046.0 298.9,1046.0 301.9,1046.1 304.9,1046.2 307.9,1046.3 310.9,1046.4 313.9,1046.5 316.9,1046.6 319.9,1046.7 322.9,1046.8 325.9,1046.9 328.9,1047.0 331.9,1047.0 334.9,1047.0 337.9,1047.1 340.9,1047.1 343.9,1047.1 346.9,1047.1 349.9,1047.1 352.9,1047.2 355.9,1047.2 358.9,1047.2 361.9,1047.2 364.9,1047.2 367.9,1047.3 370.9,1047.3 373.9,1047.3 376.9,1047.3 379.9,1047.4 382.9,1047.4 385.9,1047.4 388.9,1047.4 391.9,1047.4 394.9,1047.5 397.9,1047.5 400.9,1047.4 403.9,1047.2 406.9,1047.1 409.9,1046.9 412.9,1046.7 415.9,1046.5 418.9,1046.3 421.9,1045.7 424.9,1045.0 427.9,1044.3 430.9,1043.6 433.9,1042.9 436.9,1042.0 439.9,1041.0 442.9,1040.0 445.9,1039.0 448.9,1038.1 451.9,1037.0 454.9,1035.9 457.9,1034.9 460.9,1033.8 463.9,1032.7 466.9,1031.6 469.9,1030.5 472.9,1029.4 475.9,1028.3 478.9,1027.2 481.9,1026.2 484.9,1025.2 487.9,1024.2 490.9,1023.2 493.9,1022.2 496.9,1022.3 499.9,1023.0 502.9,1023.7 505.9,1024.4 508.9,1025.1 511.9,1027.3 514.9,1030.3 517.9,1033.3 520.9,1036.0 523.9,1037.9 526.9,1039.7 529.9,1041.6 532.9,1043.0 535.9,1044.4 538.9,1045.7 541.9,1046.7 544.9,1047.5 547.9,1048.4 550.9,1049.2 553.9,1050.0 556.9,1050.8 559.9,1051.7 562.9,1051.9 565.9,1052.1 568.9,1052.3 571.9,1052.5 574.9,1052.7 577.9,1052.9 580.9,1053.1 583.9,1053.3 586.9,1053.5 589.9,1053.7 592.9,1053.9 595.9,1054.1 598.9,1054.3 601.9,1054.4 604.9,1054.5 607.9,1054.6 610.9,1054.6 613.9,1054.7 616.9,1054.7 619.9,1054.8 622.9,1054.9 625.9,1054.9 628.9,1055.0 631.9,1055.0 634.9,1055.1 637.9,1055.2 640.9,1055.2 643.9,1055.3 646.9,1055.3 649.9,1055.4 652.9,1055.5 655.9,1055.5 658.9,1055.6 661.9,1055.6 664.9,1055.7 667.9,1055.8 670.9,1055.8 673.9,1055.9 676.9,1055.9 679.9,1056.0 682.9,1056.1 685.9,1056.1 688.9,1056.2 691.9,1056.2 694.9,1056.3 697.9,1056.4 700.9,1056.4 703.9,1056.5 706.9,1056.6 709.9,1056.6 712.9,1056.7 715.9,1056.8 718.9,1056.9 721.9,1057.0 724.9,1057.0 727.9,1057.1 730.9,1057.2 733.9,1057.3 736.9,1057.3 739.9,1057.4 742.9,1057.5 745.9,1057.6 748.9,1057.6 751.9,1057.7 754.9,1057.8 757.9,1057.9 760.9,1057.9 763.9,1058.0 766.9,1058.1 769.9,1058.2 772.9,1058.2 775.9,1058.3 778.9,1058.4 781.9,1058.5 784.9,1058.5 787.9,1058.6 790.9,1058.7 793.9,1058.8 796.9,1058.8 799.9,1058.9 802.9,1059.0 805.9,1059.1 808.9,1059.1 811.9,1059.2 814.9,1059.3 817.9,1059.4 820.9,1059.4 823.9,1059.5 826.9,1059.5 829.9,1059.5 832.9,1059.5 835.9,1059.5 838.9,1059.5 841.9,1059.5 844.9,1059.5 847.9,1059.5 850.9,1059.5 853.9,1059.5 856.9,1059.5 859.9,1059.5 862.9,1059.5 865.9,1059.5 868.9,1059.5 871.9,1059.5 874.9,1059.5 877.9,1059.5 880.9,1059.5 883.9,1059.5 886.9,1059.5 889.9,1059.5 892.9,1059.1 895.9,1058.8 898.9,1058.4 901.9,1058.0 904.9,1057.6 907.9,1057.2 910.9,1056.9 913.9,1056.5 916.9,1056.1 919.9,1055.7 922.9,1055.1 925.9,1054.4 928.9,1053.8 931.9,1053.2 934.9,1052.5 937.9,1051.9 940.9,1051.2 943.9,1050.6 946.9,1050.0 949.9,1049.3 952.9,1048.3 955.9,1047.3 958.9,1046.3 961.9,1045.3 964.9,1044.3 967.9,1043.3 970.9,1042.3 973.9,1041.3 976.9,1040.2 979.9,1039.2 982.9,1037.9 985.9,1036.6 988.9,1035.2 991.9,1033.9 994.9,1032.6 997.9,1031.2 1000.9,1029.9 1003.9,1028.6 1006.9,1027.4 1009.9,1026.1 1012.9,1024.8 1015.9,1023.8 1018.9,1023.2 1021.9,1022.8 1024.9,1022.2 1027.9,1021.8 1030.9,1021.5 1033.9,1021.9 1036.9,1022.3 1039.9,1022.7 1042.9,1023.1 1045.9,1023.7 1048.9,1024.9 1051.9,1026.0 1054.9,1027.1 1057.9,1028.2 1060.9,1029.5 1063.9,1031.0 1066.9,1032.5 1069.9,1034.0 1072.9,1035.5 1075.9,1037.0 1078.9,1038.4 1081.9,1039.8 1084.9,1041.2 1087.9,1042.6 1090.9,1044.0 1093.9,1045.5" fill="none" stroke="#000" stroke-width="2.3" stroke-dasharray="8 7.6"/><polyline points="55.9,1046.3 58.9,1046.4 61.9,1046.4 64.9,1046.5 67.9,1046.6 70.9,1046.6 73.9,1046.7 76.9,1046.8 79.9,1046.8 82.9,1046.9 85.9,1047.0 88.9,1047.0 91.9,1047.1 94.9,1047.2 97.9,1047.2 100.9,1047.3 103.9,1047.4 106.9,1047.4 109.9,1047.5 112.9,1047.6 115.9,1047.6 118.9,1047.7 121.9,1047.8 124.9,1047.8 127.9,1047.9 130.9,1048.0 133.9,1048.0 136.9,1048.1 139.9,1048.2 142.9,1048.2 145.9,1048.3 148.9,1048.4 151.9,1048.4 154.9,1048.5 157.9,1048.6 160.9,1048.6 163.9,1048.7 166.9,1048.8 169.9,1048.8 172.9,1048.9 175.9,1049.0 178.9,1049.0 181.9,1049.1 184.9,1049.2 187.9,1049.2 190.9,1049.3 193.9,1049.4 196.9,1049.4 199.9,1049.5 202.9,1049.6 205.9,1049.6 208.9,1049.7 211.9,1049.8 214.9,1049.8 217.9,1049.9 220.9,1050.0 223.9,1050.0 226.9,1050.1 229.9,1050.2 232.9,1050.2 235.9,1050.3 238.9,1050.4 241.9,1050.4 244.9,1050.5 247.9,1050.6 250.9,1050.6 253.9,1050.7 256.9,1050.8 259.9,1050.8 262.9,1050.9 265.9,1051.0 268.9,1051.0 271.9,1051.1 274.9,1051.2 277.9,1051.2 280.9,1051.3 283.9,1051.4 286.9,1051.4 289.9,1051.5 292.9,1051.6 295.9,1051.6 298.9,1051.7 301.9,1051.8 304.9,1051.8 307.9,1051.9 310.9,1052.0 313.9,1052.0 316.9,1052.1 319.9,1052.2 322.9,1052.2 325.9,1052.3 328.9,1052.4 331.9,1052.4 334.9,1052.4 337.9,1052.5 340.9,1052.5 343.9,1052.5 346.9,1052.5 349.9,1052.5 352.9,1052.6 355.9,1052.6 358.9,1052.6 361.9,1052.6 364.9,1052.6 367.9,1052.7 370.9,1052.7 373.9,1052.7 376.9,1052.7 379.9,1052.8 382.9,1052.8 385.9,1052.8 388.9,1052.8 391.9,1052.8 394.9,1052.9 397.9,1052.9 400.9,1052.8 403.9,1052.7 406.9,1052.5 409.9,1052.3 412.9,1052.1 415.9,1051.9 418.9,1051.8 421.9,1051.2 424.9,1050.3 427.9,1049.5 430.9,1048.6 433.9,1047.8 436.9,1046.8 439.9,1045.6 442.9,1044.4 445.9,1043.3 448.9,1042.1 451.9,1041.0 454.9,1039.9 457.9,1038.9 460.9,1037.8 463.9,1036.7 466.9,1035.6 469.9,1034.4 472.9,1033.2 475.9,1032.1 478.9,1030.9 481.9,1030.0 484.9,1029.3 487.9,1028.6 490.9,1027.8 493.9,1027.1 496.9,1027.2 499.9,1027.8 502.9,1028.4 505.9,1029.1 508.9,1029.7 511.9,1031.6 514.9,1034.4 517.9,1037.1 520.9,1039.5 523.9,1041.0 526.9,1042.5 529.9,1044.0 532.9,1045.5 535.9,1047.0 538.9,1048.5 541.9,1049.6 544.9,1050.5 547.9,1051.5 550.9,1052.4 553.9,1053.4 556.9,1054.3 559.9,1055.3 562.9,1055.6 565.9,1055.8 568.9,1056.1 571.9,1056.4 574.9,1056.6 577.9,1056.9 580.9,1057.1 583.9,1057.2 586.9,1057.3 589.9,1057.4 592.9,1057.5 595.9,1057.6 598.9,1057.7 601.9,1057.8 604.9,1057.9 607.9,1058.0 610.9,1058.1 613.9,1058.2 616.9,1058.3 619.9,1058.4 622.9,1058.5 625.9,1058.6 628.9,1058.7 631.9,1058.7 634.9,1058.8 637.9,1058.9 640.9,1059.0 643.9,1059.1 646.9,1059.2 649.9,1059.3 652.9,1059.3 655.9,1059.4 658.9,1059.5 661.9,1059.6 664.9,1059.7 667.9,1059.8 670.9,1059.9 673.9,1059.9 676.9,1060.0 679.9,1060.1 682.9,1060.2 685.9,1060.3 688.9,1060.4 691.9,1060.5 694.9,1060.6 697.9,1060.6 700.9,1060.7 703.9,1060.8 706.9,1060.8 709.9,1060.8 712.9,1060.9 715.9,1060.9 718.9,1061.0 721.9,1061.0 724.9,1061.1 727.9,1061.1 730.9,1061.2 733.9,1061.2 736.9,1061.2 739.9,1061.3 742.9,1061.3 745.9,1061.4 748.9,1061.4 751.9,1061.5 754.9,1061.5 757.9,1061.5 760.9,1061.6 763.9,1061.6 766.9,1061.7 769.9,1061.7 772.9,1061.8 775.9,1061.8 778.9,1061.9 781.9,1061.9 784.9,1061.9 787.9,1062.0 790.9,1062.0 793.9,1062.1 796.9,1062.1 799.9,1062.2 802.9,1062.2 805.9,1062.2 808.9,1062.3 811.9,1062.3 814.9,1062.4 817.9,1062.4 820.9,1062.5 823.9,1062.5 826.9,1062.5 829.9,1062.5 832.9,1062.5 835.9,1062.5 838.9,1062.5 841.9,1062.5 844.9,1062.5 847.9,1062.5 850.9,1062.5 853.9,1062.5 856.9,1062.5 859.9,1062.5 862.9,1062.5 865.9,1062.5 868.9,1062.5 871.9,1062.5 874.9,1062.5 877.9,1062.5 880.9,1062.5 883.9,1062.5 886.9,1062.5 889.9,1062.5 892.9,1062.2 895.9,1061.8 898.9,1061.5 901.9,1061.1 904.9,1060.8 907.9,1060.4 910.9,1060.1 913.9,1059.7 916.9,1059.4 919.9,1059.0 922.9,1058.3 925.9,1057.6 928.9,1056.9 931.9,1056.2 934.9,1055.5 937.9,1054.8 940.9,1054.1 943.9,1053.4 946.9,1052.7 949.9,1052.0 952.9,1051.0 955.9,1050.0 958.9,1049.0 961.9,1048.0 964.9,1047.0 967.9,1046.0 970.9,1045.0 973.9,1044.0 976.9,1043.0 979.9,1042.0 982.9,1040.7 985.9,1039.3 988.9,1038.0 991.9,1036.6 994.9,1035.3 997.9,1033.9 1000.9,1032.6 1003.9,1031.4 1006.9,1030.2 1009.9,1029.0 1012.9,1027.8 1015.9,1026.8 1018.9,1026.2 1021.9,1025.6 1024.9,1025.0 1027.9,1024.4 1030.9,1024.1 1033.9,1024.5 1036.9,1024.9 1039.9,1025.3 1042.9,1025.7 1045.9,1026.3 1048.9,1027.3 1051.9,1028.3 1054.9,1029.3 1057.9,1030.3 1060.9,1031.5 1063.9,1033.1 1066.9,1034.7 1069.9,1036.3 1072.9,1037.9 1075.9,1039.4 1078.9,1040.6 1081.9,1041.9 1084.9,1043.2 1087.9,1044.4 1090.9,1045.7 1093.9,1047.0" fill="none" stroke="#ff0000" stroke-width="2.3" stroke-dasharray="8 7.6"/></g>
<line x1="691.3" y1="972.7" x2="691.3" y2="1297" stroke="#ff3030" stroke-width="1"/>
<line x1="696.9" y1="972.7" x2="696.9" y2="1125" stroke="#ff3030" stroke-width="1"/>
<line x1="697.3" y1="1218" x2="697.3" y2="1292" stroke="#ff3030" stroke-width="1"/>
<line x1="693.9" y1="972.7" x2="693.9" y2="1366.2" stroke="#333" stroke-width="1.1"/>
<line x1="696.3" y1="972.7" x2="696.3" y2="1366.2" stroke="#333" stroke-width="1.1"/>
<line x1="481.50" y1="972.70" x2="481.50" y2="1366.20" stroke="#2b2bff" stroke-width="1.5" stroke-dasharray="8 7.6" stroke-dashoffset="4.6"/>
<line x1="1036.50" y1="972.70" x2="1036.50" y2="1366.20" stroke="#2b2bff" stroke-width="1.5" stroke-dasharray="8 7.6" stroke-dashoffset="4.6"/>
<line x1="55.90" y1="1251.60" x2="1094.30" y2="1251.60" stroke="#4545ff" stroke-width="1.4" stroke-dasharray="7.8 7.8"/>
<line x1="750.90" y1="1251.60" x2="750.90" y2="1366.20" stroke="#ff2020" stroke-width="1.5" stroke-dasharray="1.6 2.4"/>
<line x1="762.30" y1="1251.60" x2="762.30" y2="1366.20" stroke="#111" stroke-width="1.5" stroke-dasharray="1.6 2.4"/>
<rect x="55.9" y="972.7" width="1038.4" height="393.5" fill="none" stroke="#555" stroke-width="1.3"/>
<line x1="55.90" y1="1148.50" x2="1094.30" y2="1148.50" stroke="#555" stroke-width="1.3"/>
<line x1="55.90" y1="1148.50" x2="76.40" y2="1148.50" stroke="#555" stroke-width="1.1"/>
<line x1="1094.30" y1="1148.50" x2="1073.80" y2="1148.50" stroke="#555" stroke-width="1.1"/>
<line x1="55.90" y1="1141.72" x2="65.90" y2="1141.72" stroke="#555" stroke-width="1.1"/>
<line x1="1094.30" y1="1141.72" x2="1084.30" y2="1141.72" stroke="#555" stroke-width="1.1"/>
<line x1="55.90" y1="1134.95" x2="65.90" y2="1134.95" stroke="#555" stroke-width="1.1"/>
<line x1="1094.30" y1="1134.95" x2="1084.30" y2="1134.95" stroke="#555" stroke-width="1.1"/>
<line x1="55.90" y1="1128.17" x2="65.90" y2="1128.17" stroke="#555" stroke-width="1.1"/>
<line x1="1094.30" y1="1128.17" x2="1084.30" y2="1128.17" stroke="#555" stroke-width="1.1"/>
<line x1="55.90" y1="1121.40" x2="76.40" y2="1121.40" stroke="#555" stroke-width="1.1"/>
<line x1="1094.30" y1="1121.40" x2="1073.80" y2="1121.40" stroke="#555" stroke-width="1.1"/>
<line x1="55.90" y1="1114.62" x2="65.90" y2="1114.62" stroke="#555" stroke-width="1.1"/>
<line x1="1094.30" y1="1114.62" x2="1084.30" y2="1114.62" stroke="#555" stroke-width="1.1"/>
<line x1="55.90" y1="1107.85" x2="65.90" y2="1107.85" stroke="#555" stroke-width="1.1"/>
<line x1="1094.30" y1="1107.85" x2="1084.30" y2="1107.85" stroke="#555" stroke-width="1.1"/>
<line x1="55.90" y1="1101.08" x2="65.90" y2="1101.08" stroke="#555" stroke-width="1.1"/>
<line x1="1094.30" y1="1101.08" x2="1084.30" y2="1101.08" stroke="#555" stroke-width="1.1"/>
<line x1="55.90" y1="1094.30" x2="76.40" y2="1094.30" stroke="#555" stroke-width="1.1"/>
<line x1="1094.30" y1="1094.30" x2="1073.80" y2="1094.30" stroke="#555" stroke-width="1.1"/>
<line x1="55.90" y1="1087.53" x2="65.90" y2="1087.53" stroke="#555" stroke-width="1.1"/>
<line x1="1094.30" y1="1087.53" x2="1084.30" y2="1087.53" stroke="#555" stroke-width="1.1"/>
<line x1="55.90" y1="1080.75" x2="65.90" y2="1080.75" stroke="#555" stroke-width="1.1"/>
<line x1="1094.30" y1="1080.75" x2="1084.30" y2="1080.75" stroke="#555" stroke-width="1.1"/>
<line x1="55.90" y1="1073.97" x2="65.90" y2="1073.97" stroke="#555" stroke-width="1.1"/>
<line x1="1094.30" y1="1073.97" x2="1084.30" y2="1073.97" stroke="#555" stroke-width="1.1"/>
<line x1="55.90" y1="1067.20" x2="76.40" y2="1067.20" stroke="#555" stroke-width="1.1"/>
<line x1="1094.30" y1="1067.20" x2="1073.80" y2="1067.20" stroke="#555" stroke-width="1.1"/>
<line x1="55.90" y1="1060.42" x2="65.90" y2="1060.42" stroke="#555" stroke-width="1.1"/>
<line x1="1094.30" y1="1060.42" x2="1084.30" y2="1060.42" stroke="#555" stroke-width="1.1"/>
<line x1="55.90" y1="1053.65" x2="65.90" y2="1053.65" stroke="#555" stroke-width="1.1"/>
<line x1="1094.30" y1="1053.65" x2="1084.30" y2="1053.65" stroke="#555" stroke-width="1.1"/>
<line x1="55.90" y1="1046.88" x2="65.90" y2="1046.88" stroke="#555" stroke-width="1.1"/>
<line x1="1094.30" y1="1046.88" x2="1084.30" y2="1046.88" stroke="#555" stroke-width="1.1"/>
<line x1="55.90" y1="1040.10" x2="76.40" y2="1040.10" stroke="#555" stroke-width="1.1"/>
<line x1="1094.30" y1="1040.10" x2="1073.80" y2="1040.10" stroke="#555" stroke-width="1.1"/>
<line x1="55.90" y1="1033.33" x2="65.90" y2="1033.33" stroke="#555" stroke-width="1.1"/>
<line x1="1094.30" y1="1033.33" x2="1084.30" y2="1033.33" stroke="#555" stroke-width="1.1"/>
<line x1="55.90" y1="1026.55" x2="65.90" y2="1026.55" stroke="#555" stroke-width="1.1"/>
<line x1="1094.30" y1="1026.55" x2="1084.30" y2="1026.55" stroke="#555" stroke-width="1.1"/>
<line x1="55.90" y1="1019.77" x2="65.90" y2="1019.77" stroke="#555" stroke-width="1.1"/>
<line x1="1094.30" y1="1019.77" x2="1084.30" y2="1019.77" stroke="#555" stroke-width="1.1"/>
<line x1="55.90" y1="1013.00" x2="76.40" y2="1013.00" stroke="#555" stroke-width="1.1"/>
<line x1="1094.30" y1="1013.00" x2="1073.80" y2="1013.00" stroke="#555" stroke-width="1.1"/>
<line x1="55.90" y1="1006.23" x2="65.90" y2="1006.23" stroke="#555" stroke-width="1.1"/>
<line x1="1094.30" y1="1006.23" x2="1084.30" y2="1006.23" stroke="#555" stroke-width="1.1"/>
<line x1="55.90" y1="999.45" x2="65.90" y2="999.45" stroke="#555" stroke-width="1.1"/>
<line x1="1094.30" y1="999.45" x2="1084.30" y2="999.45" stroke="#555" stroke-width="1.1"/>
<line x1="55.90" y1="992.67" x2="65.90" y2="992.67" stroke="#555" stroke-width="1.1"/>
<line x1="1094.30" y1="992.67" x2="1084.30" y2="992.67" stroke="#555" stroke-width="1.1"/>
<line x1="55.90" y1="985.90" x2="76.40" y2="985.90" stroke="#555" stroke-width="1.1"/>
<line x1="1094.30" y1="985.90" x2="1073.80" y2="985.90" stroke="#555" stroke-width="1.1"/>
<line x1="55.90" y1="979.12" x2="65.90" y2="979.12" stroke="#555" stroke-width="1.1"/>
<line x1="1094.30" y1="979.12" x2="1084.30" y2="979.12" stroke="#555" stroke-width="1.1"/>
<text x="50.0" y="1149.0" font-size="15" fill="#3c3c3c" text-anchor="end" textLength="7.5" lengthAdjust="spacingAndGlyphs">0</text>
<text x="50.0" y="1127.4" font-size="15" fill="#3c3c3c" text-anchor="end" textLength="7.5" lengthAdjust="spacingAndGlyphs">2</text>
<text x="50.0" y="1100.3" font-size="15" fill="#3c3c3c" text-anchor="end" textLength="7.5" lengthAdjust="spacingAndGlyphs">4</text>
<text x="50.0" y="1073.2" font-size="15" fill="#3c3c3c" text-anchor="end" textLength="7.5" lengthAdjust="spacingAndGlyphs">6</text>
<text x="50.0" y="1046.1" font-size="15" fill="#3c3c3c" text-anchor="end" textLength="7.5" lengthAdjust="spacingAndGlyphs">8</text>
<text x="50.0" y="1019.0" font-size="15" fill="#3c3c3c" text-anchor="end" textLength="16.7" lengthAdjust="spacingAndGlyphs">10</text>
<text x="50.0" y="991.9" font-size="15" fill="#3c3c3c" text-anchor="end" textLength="16.7" lengthAdjust="spacingAndGlyphs">12</text>
<line x1="55.90" y1="1354.74" x2="65.90" y2="1354.74" stroke="#555" stroke-width="1.1"/>
<line x1="1094.30" y1="1354.74" x2="1084.30" y2="1354.74" stroke="#555" stroke-width="1.1"/>
<line x1="55.90" y1="1343.28" x2="65.90" y2="1343.28" stroke="#555" stroke-width="1.1"/>
<line x1="1094.30" y1="1343.28" x2="1084.30" y2="1343.28" stroke="#555" stroke-width="1.1"/>
<line x1="55.90" y1="1331.82" x2="65.90" y2="1331.82" stroke="#555" stroke-width="1.1"/>
<line x1="1094.30" y1="1331.82" x2="1084.30" y2="1331.82" stroke="#555" stroke-width="1.1"/>
<line x1="55.90" y1="1320.36" x2="65.90" y2="1320.36" stroke="#555" stroke-width="1.1"/>
<line x1="1094.30" y1="1320.36" x2="1084.30" y2="1320.36" stroke="#555" stroke-width="1.1"/>
<line x1="55.90" y1="1308.90" x2="76.40" y2="1308.90" stroke="#555" stroke-width="1.1"/>
<line x1="1094.30" y1="1308.90" x2="1073.80" y2="1308.90" stroke="#555" stroke-width="1.1"/>
<line x1="55.90" y1="1297.44" x2="65.90" y2="1297.44" stroke="#555" stroke-width="1.1"/>
<line x1="1094.30" y1="1297.44" x2="1084.30" y2="1297.44" stroke="#555" stroke-width="1.1"/>
<line x1="55.90" y1="1285.98" x2="65.90" y2="1285.98" stroke="#555" stroke-width="1.1"/>
<line x1="1094.30" y1="1285.98" x2="1084.30" y2="1285.98" stroke="#555" stroke-width="1.1"/>
<line x1="55.90" y1="1274.52" x2="65.90" y2="1274.52" stroke="#555" stroke-width="1.1"/>
<line x1="1094.30" y1="1274.52" x2="1084.30" y2="1274.52" stroke="#555" stroke-width="1.1"/>
<line x1="55.90" y1="1263.06" x2="65.90" y2="1263.06" stroke="#555" stroke-width="1.1"/>
<line x1="1094.30" y1="1263.06" x2="1084.30" y2="1263.06" stroke="#555" stroke-width="1.1"/>
<line x1="55.90" y1="1251.60" x2="76.40" y2="1251.60" stroke="#555" stroke-width="1.1"/>
<line x1="1094.30" y1="1251.60" x2="1073.80" y2="1251.60" stroke="#555" stroke-width="1.1"/>
<line x1="55.90" y1="1240.14" x2="65.90" y2="1240.14" stroke="#555" stroke-width="1.1"/>
<line x1="1094.30" y1="1240.14" x2="1084.30" y2="1240.14" stroke="#555" stroke-width="1.1"/>
<line x1="55.90" y1="1228.68" x2="65.90" y2="1228.68" stroke="#555" stroke-width="1.1"/>
<line x1="1094.30" y1="1228.68" x2="1084.30" y2="1228.68" stroke="#555" stroke-width="1.1"/>
<line x1="55.90" y1="1217.22" x2="65.90" y2="1217.22" stroke="#555" stroke-width="1.1"/>
<line x1="1094.30" y1="1217.22" x2="1084.30" y2="1217.22" stroke="#555" stroke-width="1.1"/>
<line x1="55.90" y1="1205.76" x2="65.90" y2="1205.76" stroke="#555" stroke-width="1.1"/>
<line x1="1094.30" y1="1205.76" x2="1084.30" y2="1205.76" stroke="#555" stroke-width="1.1"/>
<line x1="55.90" y1="1194.30" x2="76.40" y2="1194.30" stroke="#555" stroke-width="1.1"/>
<line x1="1094.30" y1="1194.30" x2="1073.80" y2="1194.30" stroke="#555" stroke-width="1.1"/>
<line x1="55.90" y1="1182.84" x2="65.90" y2="1182.84" stroke="#555" stroke-width="1.1"/>
<line x1="1094.30" y1="1182.84" x2="1084.30" y2="1182.84" stroke="#555" stroke-width="1.1"/>
<line x1="55.90" y1="1171.38" x2="65.90" y2="1171.38" stroke="#555" stroke-width="1.1"/>
<line x1="1094.30" y1="1171.38" x2="1084.30" y2="1171.38" stroke="#555" stroke-width="1.1"/>
<line x1="55.90" y1="1159.92" x2="65.90" y2="1159.92" stroke="#555" stroke-width="1.1"/>
<line x1="1094.30" y1="1159.92" x2="1084.30" y2="1159.92" stroke="#555" stroke-width="1.1"/>
<text x="50.0" y="1366.7" font-size="15" fill="#3c3c3c" text-anchor="end" textLength="20.0" lengthAdjust="spacingAndGlyphs">0.0</text>
<text x="50.0" y="1314.9" font-size="15" fill="#3c3c3c" text-anchor="end" textLength="20.0" lengthAdjust="spacingAndGlyphs">0.5</text>
<text x="50.0" y="1257.6" font-size="15" fill="#3c3c3c" text-anchor="end" textLength="20.0" lengthAdjust="spacingAndGlyphs">1.0</text>
<text x="50.0" y="1200.3" font-size="15" fill="#3c3c3c" text-anchor="end" textLength="20.0" lengthAdjust="spacingAndGlyphs">1.5</text>
<line x1="74.44" y1="1148.50" x2="74.44" y2="1144.50" stroke="#555" stroke-width="1.1"/>
<line x1="74.44" y1="1366.20" x2="74.44" y2="1369.70" stroke="#555" stroke-width="1.1"/>
<line x1="111.53" y1="1148.50" x2="111.53" y2="1141.50" stroke="#555" stroke-width="1.1"/>
<line x1="111.53" y1="1366.20" x2="111.53" y2="1372.70" stroke="#555" stroke-width="1.1"/>
<text x="111.5" y="1394.0" font-size="15" fill="#3c3c3c" text-anchor="middle" textLength="34.4" lengthAdjust="spacingAndGlyphs">1300</text>
<line x1="148.61" y1="1148.50" x2="148.61" y2="1144.50" stroke="#555" stroke-width="1.1"/>
<line x1="148.61" y1="1366.20" x2="148.61" y2="1369.70" stroke="#555" stroke-width="1.1"/>
<line x1="185.70" y1="1148.50" x2="185.70" y2="1144.50" stroke="#555" stroke-width="1.1"/>
<line x1="185.70" y1="1366.20" x2="185.70" y2="1369.70" stroke="#555" stroke-width="1.1"/>
<line x1="222.79" y1="1148.50" x2="222.79" y2="1144.50" stroke="#555" stroke-width="1.1"/>
<line x1="222.79" y1="1366.20" x2="222.79" y2="1369.70" stroke="#555" stroke-width="1.1"/>
<line x1="259.87" y1="1148.50" x2="259.87" y2="1144.50" stroke="#555" stroke-width="1.1"/>
<line x1="259.87" y1="1366.20" x2="259.87" y2="1369.70" stroke="#555" stroke-width="1.1"/>
<line x1="296.96" y1="1148.50" x2="296.96" y2="1141.50" stroke="#555" stroke-width="1.1"/>
<line x1="296.96" y1="1366.20" x2="296.96" y2="1372.70" stroke="#555" stroke-width="1.1"/>
<text x="297.0" y="1394.0" font-size="15" fill="#3c3c3c" text-anchor="middle" textLength="34.4" lengthAdjust="spacingAndGlyphs">1350</text>
<line x1="334.04" y1="1148.50" x2="334.04" y2="1144.50" stroke="#555" stroke-width="1.1"/>
<line x1="334.04" y1="1366.20" x2="334.04" y2="1369.70" stroke="#555" stroke-width="1.1"/>
<line x1="371.13" y1="1148.50" x2="371.13" y2="1144.50" stroke="#555" stroke-width="1.1"/>
<line x1="371.13" y1="1366.20" x2="371.13" y2="1369.70" stroke="#555" stroke-width="1.1"/>
<line x1="408.21" y1="1148.50" x2="408.21" y2="1144.50" stroke="#555" stroke-width="1.1"/>
<line x1="408.21" y1="1366.20" x2="408.21" y2="1369.70" stroke="#555" stroke-width="1.1"/>
<line x1="445.30" y1="1148.50" x2="445.30" y2="1144.50" stroke="#555" stroke-width="1.1"/>
<line x1="445.30" y1="1366.20" x2="445.30" y2="1369.70" stroke="#555" stroke-width="1.1"/>
<line x1="482.39" y1="1148.50" x2="482.39" y2="1141.50" stroke="#555" stroke-width="1.1"/>
<line x1="482.39" y1="1366.20" x2="482.39" y2="1372.70" stroke="#555" stroke-width="1.1"/>
<text x="482.4" y="1394.0" font-size="15" fill="#3c3c3c" text-anchor="middle" textLength="34.4" lengthAdjust="spacingAndGlyphs">1400</text>
<line x1="519.47" y1="1148.50" x2="519.47" y2="1144.50" stroke="#555" stroke-width="1.1"/>
<line x1="519.47" y1="1366.20" x2="519.47" y2="1369.70" stroke="#555" stroke-width="1.1"/>
<line x1="556.56" y1="1148.50" x2="556.56" y2="1144.50" stroke="#555" stroke-width="1.1"/>
<line x1="556.56" y1="1366.20" x2="556.56" y2="1369.70" stroke="#555" stroke-width="1.1"/>
<line x1="593.64" y1="1148.50" x2="593.64" y2="1144.50" stroke="#555" stroke-width="1.1"/>
<line x1="593.64" y1="1366.20" x2="593.64" y2="1369.70" stroke="#555" stroke-width="1.1"/>
<line x1="630.73" y1="1148.50" x2="630.73" y2="1144.50" stroke="#555" stroke-width="1.1"/>
<line x1="630.73" y1="1366.20" x2="630.73" y2="1369.70" stroke="#555" stroke-width="1.1"/>
<line x1="667.81" y1="1148.50" x2="667.81" y2="1141.50" stroke="#555" stroke-width="1.1"/>
<line x1="667.81" y1="1366.20" x2="667.81" y2="1372.70" stroke="#555" stroke-width="1.1"/>
<text x="667.8" y="1394.0" font-size="15" fill="#3c3c3c" text-anchor="middle" textLength="34.4" lengthAdjust="spacingAndGlyphs">1450</text>
<line x1="704.90" y1="1148.50" x2="704.90" y2="1144.50" stroke="#555" stroke-width="1.1"/>
<line x1="704.90" y1="1366.20" x2="704.90" y2="1369.70" stroke="#555" stroke-width="1.1"/>
<line x1="741.99" y1="1148.50" x2="741.99" y2="1144.50" stroke="#555" stroke-width="1.1"/>
<line x1="741.99" y1="1366.20" x2="741.99" y2="1369.70" stroke="#555" stroke-width="1.1"/>
<line x1="779.07" y1="1148.50" x2="779.07" y2="1144.50" stroke="#555" stroke-width="1.1"/>
<line x1="779.07" y1="1366.20" x2="779.07" y2="1369.70" stroke="#555" stroke-width="1.1"/>
<line x1="816.16" y1="1148.50" x2="816.16" y2="1144.50" stroke="#555" stroke-width="1.1"/>
<line x1="816.16" y1="1366.20" x2="816.16" y2="1369.70" stroke="#555" stroke-width="1.1"/>
<line x1="853.24" y1="1148.50" x2="853.24" y2="1141.50" stroke="#555" stroke-width="1.1"/>
<line x1="853.24" y1="1366.20" x2="853.24" y2="1372.70" stroke="#555" stroke-width="1.1"/>
<text x="853.2" y="1394.0" font-size="15" fill="#3c3c3c" text-anchor="middle" textLength="34.4" lengthAdjust="spacingAndGlyphs">1500</text>
<line x1="890.33" y1="1148.50" x2="890.33" y2="1144.50" stroke="#555" stroke-width="1.1"/>
<line x1="890.33" y1="1366.20" x2="890.33" y2="1369.70" stroke="#555" stroke-width="1.1"/>
<line x1="927.41" y1="1148.50" x2="927.41" y2="1144.50" stroke="#555" stroke-width="1.1"/>
<line x1="927.41" y1="1366.20" x2="927.41" y2="1369.70" stroke="#555" stroke-width="1.1"/>
<line x1="964.50" y1="1148.50" x2="964.50" y2="1144.50" stroke="#555" stroke-width="1.1"/>
<line x1="964.50" y1="1366.20" x2="964.50" y2="1369.70" stroke="#555" stroke-width="1.1"/>
<line x1="1001.59" y1="1148.50" x2="1001.59" y2="1144.50" stroke="#555" stroke-width="1.1"/>
<line x1="1001.59" y1="1366.20" x2="1001.59" y2="1369.70" stroke="#555" stroke-width="1.1"/>
<line x1="1038.67" y1="1148.50" x2="1038.67" y2="1141.50" stroke="#555" stroke-width="1.1"/>
<line x1="1038.67" y1="1366.20" x2="1038.67" y2="1372.70" stroke="#555" stroke-width="1.1"/>
<text x="1038.7" y="1394.0" font-size="15" fill="#3c3c3c" text-anchor="middle" textLength="34.4" lengthAdjust="spacingAndGlyphs">1550</text>
<line x1="1075.76" y1="1148.50" x2="1075.76" y2="1144.50" stroke="#555" stroke-width="1.1"/>
<line x1="1075.76" y1="1366.20" x2="1075.76" y2="1369.70" stroke="#555" stroke-width="1.1"/>
<line x1="92.88" y1="972.70" x2="92.88" y2="975.50" stroke="#555" stroke-width="1.0"/>
<text x="91.4" y="987.9" font-size="13" fill="#3c3c3c" text-anchor="middle" textLength="23.3" lengthAdjust="spacingAndGlyphs">−22</text>
<line x1="125.19" y1="972.70" x2="125.19" y2="975.50" stroke="#555" stroke-width="1.0"/>
<text x="123.7" y="987.9" font-size="13" fill="#3c3c3c" text-anchor="middle" textLength="23.3" lengthAdjust="spacingAndGlyphs">−20</text>
<line x1="157.68" y1="972.70" x2="157.68" y2="975.50" stroke="#555" stroke-width="1.0"/>
<text x="156.2" y="987.9" font-size="13" fill="#3c3c3c" text-anchor="middle" textLength="23.3" lengthAdjust="spacingAndGlyphs">−18</text>
<line x1="190.36" y1="972.70" x2="190.36" y2="975.50" stroke="#555" stroke-width="1.0"/>
<text x="188.9" y="987.9" font-size="13" fill="#3c3c3c" text-anchor="middle" textLength="23.3" lengthAdjust="spacingAndGlyphs">−16</text>
<line x1="223.25" y1="972.70" x2="223.25" y2="975.50" stroke="#555" stroke-width="1.0"/>
<text x="221.7" y="987.9" font-size="13" fill="#3c3c3c" text-anchor="middle" textLength="23.3" lengthAdjust="spacingAndGlyphs">−14</text>
<line x1="256.33" y1="972.70" x2="256.33" y2="975.50" stroke="#555" stroke-width="1.0"/>
<text x="254.8" y="987.9" font-size="13" fill="#3c3c3c" text-anchor="middle" textLength="23.3" lengthAdjust="spacingAndGlyphs">−12</text>
<line x1="289.61" y1="972.70" x2="289.61" y2="975.50" stroke="#555" stroke-width="1.0"/>
<text x="288.1" y="987.9" font-size="13" fill="#3c3c3c" text-anchor="middle" textLength="23.3" lengthAdjust="spacingAndGlyphs">−10</text>
<line x1="323.10" y1="972.70" x2="323.10" y2="975.50" stroke="#555" stroke-width="1.0"/>
<text x="324.8" y="987.9" font-size="13" fill="#3c3c3c" text-anchor="middle" textLength="15.8" lengthAdjust="spacingAndGlyphs">−8</text>
<line x1="356.81" y1="972.70" x2="356.81" y2="975.50" stroke="#555" stroke-width="1.0"/>
<text x="358.5" y="987.9" font-size="13" fill="#3c3c3c" text-anchor="middle" textLength="15.8" lengthAdjust="spacingAndGlyphs">−6</text>
<line x1="390.73" y1="972.70" x2="390.73" y2="975.50" stroke="#555" stroke-width="1.0"/>
<text x="392.4" y="987.9" font-size="13" fill="#3c3c3c" text-anchor="middle" textLength="15.8" lengthAdjust="spacingAndGlyphs">−4</text>
<line x1="424.88" y1="972.70" x2="424.88" y2="975.50" stroke="#555" stroke-width="1.0"/>
<text x="426.6" y="987.9" font-size="13" fill="#3c3c3c" text-anchor="middle" textLength="15.8" lengthAdjust="spacingAndGlyphs">−2</text>
<line x1="459.24" y1="972.70" x2="459.24" y2="975.50" stroke="#555" stroke-width="1.0"/>
<text x="459.6" y="987.9" font-size="13" fill="#3c3c3c" text-anchor="middle" textLength="6.4" lengthAdjust="spacingAndGlyphs">0</text>
<line x1="553.88" y1="972.70" x2="553.88" y2="975.50" stroke="#555" stroke-width="1.0"/>
<text x="552.4" y="987.9" font-size="13" fill="#3c3c3c" text-anchor="middle" textLength="23.3" lengthAdjust="spacingAndGlyphs">−26</text>
<line x1="589.36" y1="972.70" x2="589.36" y2="975.50" stroke="#555" stroke-width="1.0"/>
<text x="587.9" y="987.9" font-size="13" fill="#3c3c3c" text-anchor="middle" textLength="23.3" lengthAdjust="spacingAndGlyphs">−24</text>
<line x1="625.04" y1="972.70" x2="625.04" y2="975.50" stroke="#555" stroke-width="1.0"/>
<text x="623.5" y="987.9" font-size="13" fill="#3c3c3c" text-anchor="middle" textLength="23.3" lengthAdjust="spacingAndGlyphs">−22</text>
<line x1="660.92" y1="972.70" x2="660.92" y2="975.50" stroke="#555" stroke-width="1.0"/>
<text x="659.4" y="987.9" font-size="13" fill="#3c3c3c" text-anchor="middle" textLength="23.3" lengthAdjust="spacingAndGlyphs">−20</text>
<line x1="697.02" y1="972.70" x2="697.02" y2="975.50" stroke="#555" stroke-width="1.0"/>
<text x="695.5" y="987.9" font-size="13" fill="#3c3c3c" text-anchor="middle" textLength="23.3" lengthAdjust="spacingAndGlyphs">−18</text>
<line x1="733.32" y1="972.70" x2="733.32" y2="975.50" stroke="#555" stroke-width="1.0"/>
<text x="731.8" y="987.9" font-size="13" fill="#3c3c3c" text-anchor="middle" textLength="23.3" lengthAdjust="spacingAndGlyphs">−16</text>
<line x1="769.85" y1="972.70" x2="769.85" y2="975.50" stroke="#555" stroke-width="1.0"/>
<text x="768.3" y="987.9" font-size="13" fill="#3c3c3c" text-anchor="middle" textLength="23.3" lengthAdjust="spacingAndGlyphs">−14</text>
<line x1="806.59" y1="972.70" x2="806.59" y2="975.50" stroke="#555" stroke-width="1.0"/>
<text x="805.1" y="987.9" font-size="13" fill="#3c3c3c" text-anchor="middle" textLength="23.3" lengthAdjust="spacingAndGlyphs">−12</text>
<line x1="843.57" y1="972.70" x2="843.57" y2="975.50" stroke="#555" stroke-width="1.0"/>
<text x="842.1" y="987.9" font-size="13" fill="#3c3c3c" text-anchor="middle" textLength="23.3" lengthAdjust="spacingAndGlyphs">−10</text>
<line x1="880.77" y1="972.70" x2="880.77" y2="975.50" stroke="#555" stroke-width="1.0"/>
<text x="882.5" y="987.9" font-size="13" fill="#3c3c3c" text-anchor="middle" textLength="15.8" lengthAdjust="spacingAndGlyphs">−8</text>
<line x1="918.21" y1="972.70" x2="918.21" y2="975.50" stroke="#555" stroke-width="1.0"/>
<text x="919.9" y="987.9" font-size="13" fill="#3c3c3c" text-anchor="middle" textLength="15.8" lengthAdjust="spacingAndGlyphs">−6</text>
<line x1="955.89" y1="972.70" x2="955.89" y2="975.50" stroke="#555" stroke-width="1.0"/>
<text x="957.6" y="987.9" font-size="13" fill="#3c3c3c" text-anchor="middle" textLength="15.8" lengthAdjust="spacingAndGlyphs">−4</text>
<line x1="993.82" y1="972.70" x2="993.82" y2="975.50" stroke="#555" stroke-width="1.0"/>
<text x="995.5" y="987.9" font-size="13" fill="#3c3c3c" text-anchor="middle" textLength="15.8" lengthAdjust="spacingAndGlyphs">−2</text>
<line x1="1032.00" y1="972.70" x2="1032.00" y2="975.50" stroke="#555" stroke-width="1.0"/>
<text x="1032.4" y="987.9" font-size="13" fill="#3c3c3c" text-anchor="middle" textLength="6.4" lengthAdjust="spacingAndGlyphs">0</text>
<text x="485.1" y="987.9" font-size="16" fill="#ff0000" textLength="12.7" lengthAdjust="spacingAndGlyphs" stroke="#ff0000" stroke-width="0.45">Si</text>
<text x="507.2" y="987.9" font-size="16" fill="#ff0000" textLength="12.7" lengthAdjust="spacingAndGlyphs" stroke="#ff0000" stroke-width="0.45">IV</text>
<text x="1040.1" y="987.9" font-size="16" fill="#ff0000" textLength="8.8" lengthAdjust="spacingAndGlyphs" stroke="#ff0000" stroke-width="0.45">C</text>
<text x="1057.3" y="987.9" font-size="16" fill="#ff0000" textLength="13.3" lengthAdjust="spacingAndGlyphs" stroke="#ff0000" stroke-width="0.45">IV</text>
<text x="575.1" y="965.0" font-size="19.8" fill="#3c3c3c" text-anchor="middle" textLength="261.2" lengthAdjust="spacing">SDSS J223144.19+142107.2</text>
<text x="497.6" y="1411.8" font-size="15.5" fill="#3c3c3c" textLength="31.7" lengthAdjust="spacingAndGlyphs">Rest</text>
<text x="539.3" y="1411.8" font-size="15.5" fill="#3c3c3c" textLength="84.3" lengthAdjust="spacingAndGlyphs">wavelength</text>
<text x="632.6" y="1411.8" font-size="15.5" fill="#3c3c3c" textLength="20.0" lengthAdjust="spacingAndGlyphs">(Å)</text>
<text x="21.2" y="1060.6" font-size="15.2" fill="#3c3c3c" text-anchor="middle" textLength="96.9" lengthAdjust="spacing" transform="rotate(-90 21.2 1060.6)" word-spacing="3">Flux Density</text>
<text x="16.0" y="1257.3" font-size="15.2" fill="#3c3c3c" text-anchor="middle" textLength="128.5" lengthAdjust="spacing" transform="rotate(-90 16.0 1257.3)" word-spacing="3">Normalized Flux</text>
<text x="704.7" y="1002.4" font-size="13.4" fill="#111" textLength="72.6" lengthAdjust="spacingAndGlyphs" stroke="#111" stroke-width="0.38">MJD: 52521</text>
<text x="704.7" y="1016.9" font-size="13.4" fill="#ff0000" textLength="72.6" lengthAdjust="spacingAndGlyphs" stroke="#ff0000" stroke-width="0.38">MJD: 56187</text>
<line x1="181.50" y1="1224.20" x2="248.80" y2="1224.20" stroke="#262626" stroke-width="2.0"/>
<line x1="632.40" y1="1234.40" x2="660.30" y2="1234.40" stroke="#262626" stroke-width="2.0"/>
<line x1="700.90" y1="1234.40" x2="801.20" y2="1234.40" stroke="#262626" stroke-width="2.0"/>
<text x="181.5" y="1205.9" font-size="15" fill="#2a2a2a" textLength="53.3" lengthAdjust="spacingAndGlyphs" stroke="#2a2a2a" stroke-width="0.3">system</text>
<text x="241.7" y="1205.9" font-size="15" fill="#2a2a2a" textLength="11.4" lengthAdjust="spacingAndGlyphs" stroke="#2a2a2a" stroke-width="0.3">B</text>
<text x="200.3" y="1219.2" font-size="12.5" fill="#2a2a2a" textLength="17.0" lengthAdjust="spacingAndGlyphs" stroke="#2a2a2a" stroke-width="0.3">(Si</text>
<text x="221.9" y="1219.2" font-size="12.5" fill="#2a2a2a" textLength="16.5" lengthAdjust="spacingAndGlyphs" stroke="#2a2a2a" stroke-width="0.3">IV)</text>
<text x="613.8" y="1217.3" font-size="15" fill="#2a2a2a" textLength="53.3" lengthAdjust="spacingAndGlyphs" stroke="#2a2a2a" stroke-width="0.3">system</text>
<text x="673.0" y="1217.3" font-size="15" fill="#2a2a2a" textLength="11.4" lengthAdjust="spacingAndGlyphs" stroke="#2a2a2a" stroke-width="0.3">A</text>
<text x="632.4" y="1229.2" font-size="12.5" fill="#2a2a2a" textLength="12.7" lengthAdjust="spacingAndGlyphs" stroke="#2a2a2a" stroke-width="0.3">(C</text>
<text x="650.1" y="1229.2" font-size="12.5" fill="#2a2a2a" textLength="16.5" lengthAdjust="spacingAndGlyphs" stroke="#2a2a2a" stroke-width="0.3">IV)</text>
<text x="708.5" y="1217.3" font-size="15" fill="#2a2a2a" textLength="53.3" lengthAdjust="spacingAndGlyphs" stroke="#2a2a2a" stroke-width="0.3">system</text>
<text x="769.0" y="1217.3" font-size="15" fill="#2a2a2a" textLength="11.4" lengthAdjust="spacingAndGlyphs" stroke="#2a2a2a" stroke-width="0.3">B</text>
<text x="727.6" y="1229.2" font-size="12.5" fill="#2a2a2a" textLength="12.7" lengthAdjust="spacingAndGlyphs" stroke="#2a2a2a" stroke-width="0.3">(C</text>
<text x="745.3" y="1229.2" font-size="12.5" fill="#2a2a2a" textLength="16.5" lengthAdjust="spacingAndGlyphs" stroke="#2a2a2a" stroke-width="0.3">IV)</text></svg>
</body></html>
